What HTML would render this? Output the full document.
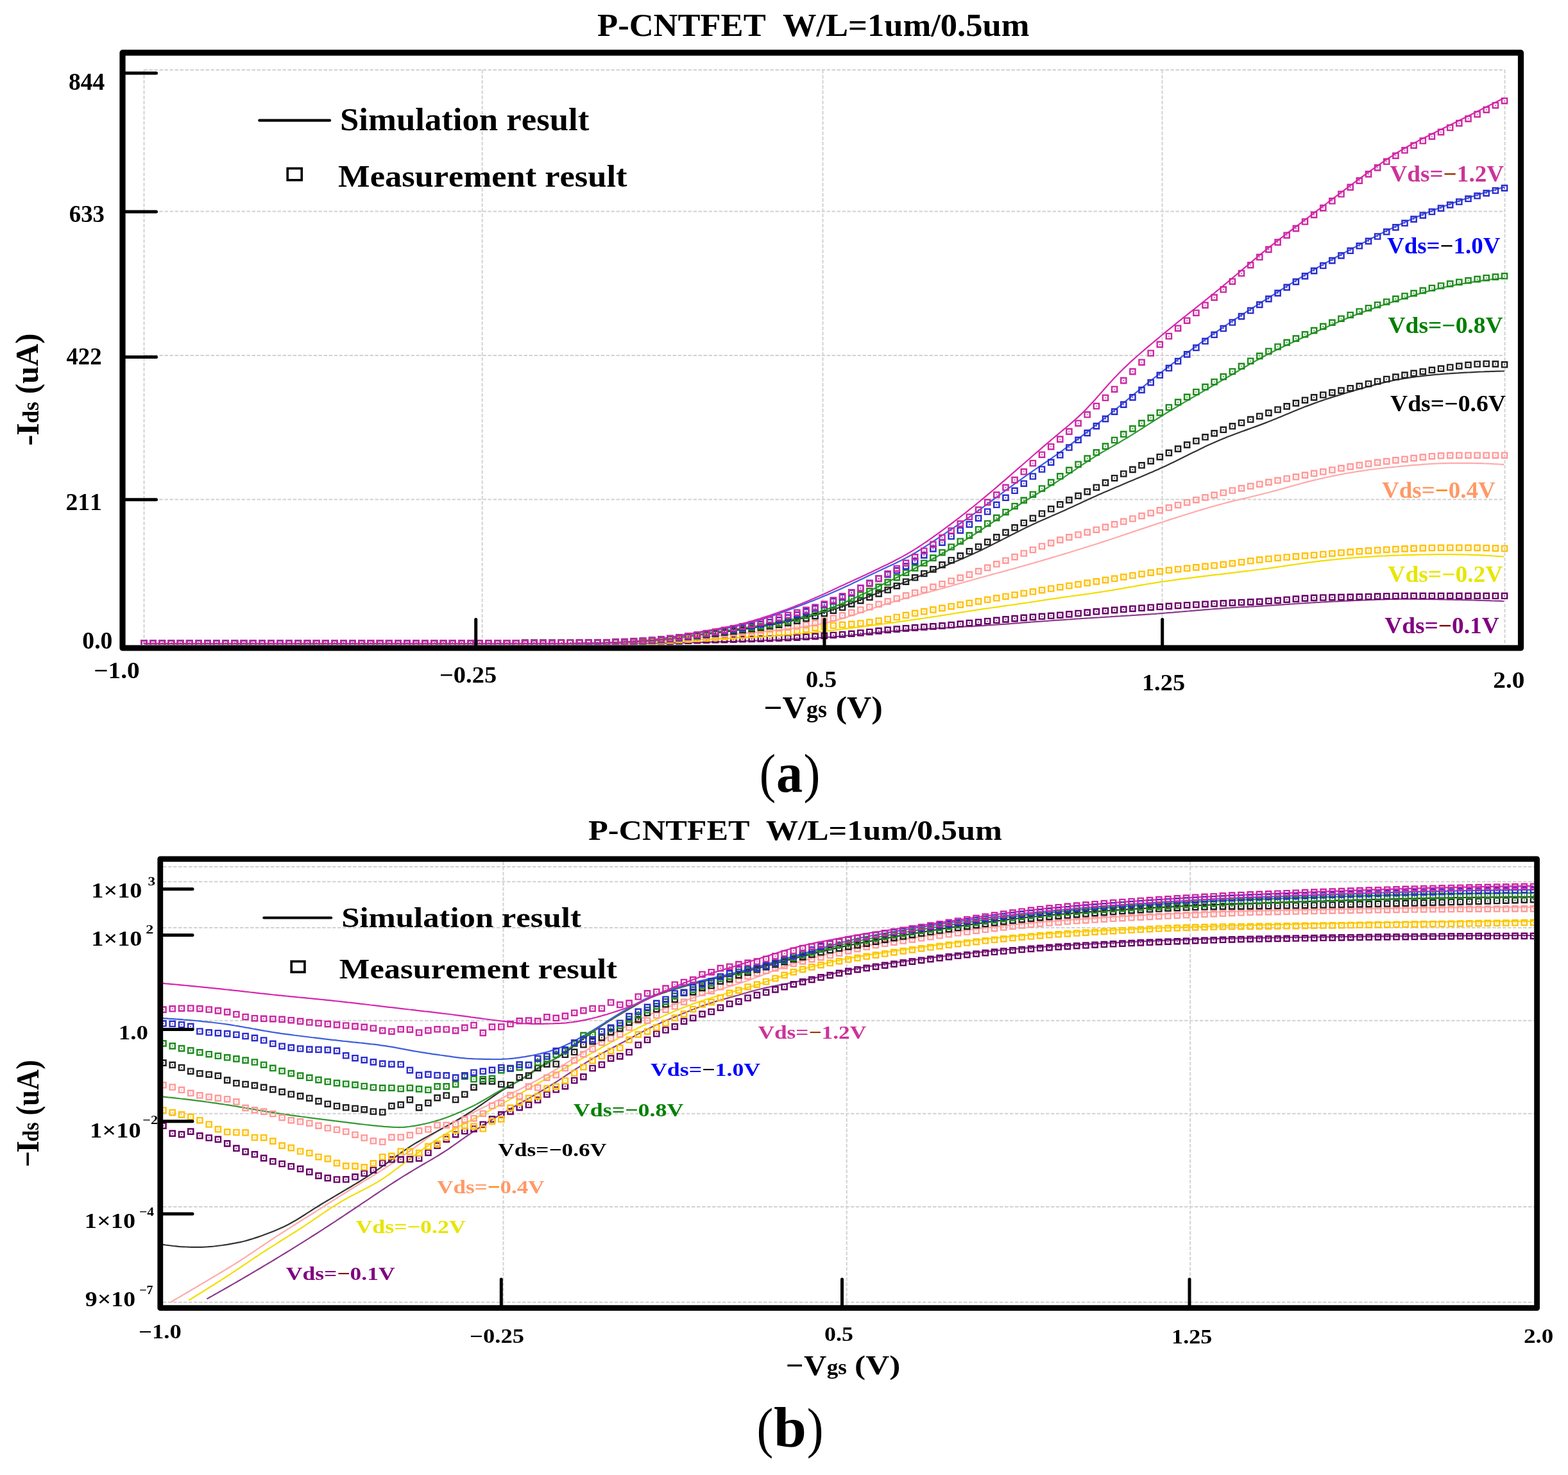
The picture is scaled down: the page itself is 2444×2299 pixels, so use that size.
<!DOCTYPE html>
<html><head><meta charset="utf-8"><title>P-CNTFET W/L=1um/0.5um</title>
<style>html,body{margin:0;padding:0;background:#fff;width:2444px;height:2299px;overflow:hidden}</style>
</head><body>
<svg width="2444" height="2299" viewBox="0 0 2444 2299" style="display:block">
<rect width="2444" height="2299" fill="#fff"/>
<rect x="195" y="86" width="2171" height="919" fill="#fff"/>
<rect x="254" y="1343" width="2137" height="691" fill="#fff"/>
<g font-family="'Liberation Serif','Times New Roman',serif" font-weight="bold" style="font-kerning:none;white-space:pre" xml:space="preserve" fill="#000">
<g stroke="#d2d2d2" stroke-width="2" stroke-dasharray="5.5 2.5" fill="none">
<line x1="224.5" y1="109" x2="224.5" y2="1005"/>
<line x1="751.7" y1="109" x2="751.7" y2="1005"/>
<line x1="1282.5" y1="109" x2="1282.5" y2="1005"/>
<line x1="1811.5" y1="109" x2="1811.5" y2="1005"/>
<line x1="2345.5" y1="109" x2="2345.5" y2="1005"/>
<line x1="224.5" y1="109.0" x2="2345.5" y2="109.0"/>
<line x1="224.5" y1="329.5" x2="2345.5" y2="329.5"/>
<line x1="224.5" y1="554.0" x2="2345.5" y2="554.0"/>
<line x1="224.5" y1="778.5" x2="2345.5" y2="778.5"/>
</g>
<g stroke="#d2d2d2" stroke-width="2" stroke-dasharray="5.5 2.5" fill="none">
<line x1="784.5" y1="1343" x2="784.5" y2="2034"/>
<line x1="1319.7" y1="1343" x2="1319.7" y2="2034"/>
<line x1="1855.2" y1="1343" x2="1855.2" y2="2034"/>
<line x1="254" y1="1351.0" x2="2391" y2="1351.0"/>
<line x1="254" y1="1374.2" x2="2391" y2="1374.2"/>
<line x1="254" y1="1446.0" x2="2391" y2="1446.0"/>
<line x1="254" y1="1590.7" x2="2391" y2="1590.7"/>
<line x1="254" y1="1735.8" x2="2391" y2="1735.8"/>
<line x1="254" y1="1881.0" x2="2391" y2="1881.0"/>
<line x1="254" y1="2029.7" x2="2391" y2="2029.7"/>
</g>
<defs><clipPath id="ca"><rect x="195" y="86" width="2171" height="919"/></clipPath><clipPath id="cb"><rect x="254" y="1343" width="2137" height="691"/></clipPath></defs>
<g clip-path="url(#ca)">
<path d="M224.5 1003.5 L228.5 1003.5 L232.5 1003.5 L236.5 1003.5 L240.5 1003.5 L244.5 1003.5 L248.5 1003.5 L252.5 1003.5 L256.5 1003.5 L260.5 1003.5 L264.5 1003.5 L268.5 1003.5 L272.5 1003.5 L276.5 1003.5 L280.5 1003.5 L284.5 1003.5 L288.5 1003.5 L292.5 1003.5 L296.5 1003.5 L300.5 1003.5 L304.5 1003.5 L308.5 1003.5 L312.5 1003.5 L316.5 1003.5 L320.5 1003.5 L324.5 1003.5 L328.5 1003.5 L332.5 1003.5 L336.5 1003.5 L340.5 1003.5 L344.5 1003.5 L348.5 1003.5 L352.5 1003.5 L356.5 1003.5 L360.5 1003.5 L364.5 1003.5 L368.5 1003.5 L372.5 1003.5 L376.5 1003.5 L380.5 1003.5 L384.5 1003.5 L388.5 1003.5 L392.5 1003.5 L396.5 1003.5 L400.5 1003.5 L404.5 1003.5 L408.5 1003.5 L412.5 1003.5 L416.5 1003.5 L420.5 1003.5 L424.5 1003.5 L428.5 1003.5 L432.5 1003.5 L436.5 1003.5 L440.5 1003.5 L444.5 1003.5 L448.5 1003.5 L452.5 1003.5 L456.5 1003.5 L460.5 1003.5 L464.5 1003.5 L468.5 1003.5 L472.5 1003.5 L476.5 1003.5 L480.5 1003.5 L484.5 1003.5 L488.5 1003.5 L492.5 1003.5 L496.5 1003.5 L500.5 1003.5 L504.5 1003.5 L508.5 1003.5 L512.5 1003.5 L516.5 1003.5 L520.5 1003.5 L524.5 1003.5 L528.5 1003.5 L532.5 1003.5 L536.5 1003.5 L540.5 1003.5 L544.5 1003.5 L548.5 1003.5 L552.5 1003.5 L556.5 1003.5 L560.5 1003.5 L564.5 1003.5 L568.5 1003.5 L572.5 1003.5 L576.5 1003.5 L580.5 1003.5 L584.5 1003.5 L588.5 1003.5 L592.5 1003.5 L596.5 1003.5 L600.5 1003.5 L604.5 1003.5 L608.5 1003.5 L612.5 1003.5 L616.5 1003.5 L620.5 1003.5 L624.5 1003.5 L628.5 1003.5 L632.5 1003.5 L636.5 1003.5 L640.5 1003.5 L644.5 1003.5 L648.5 1003.5 L652.5 1003.5 L656.5 1003.5 L660.5 1003.5 L664.5 1003.5 L668.5 1003.5 L672.5 1003.5 L676.5 1003.5 L680.5 1003.5 L684.5 1003.5 L688.5 1003.5 L692.5 1003.5 L696.5 1003.5 L700.5 1003.5 L704.5 1003.5 L708.5 1003.5 L712.5 1003.5 L716.5 1003.5 L720.5 1003.5 L724.5 1003.5 L728.5 1003.5 L732.5 1003.5 L736.5 1003.5 L740.5 1003.5 L744.5 1003.5 L748.5 1003.5 L752.5 1003.5 L756.5 1003.5 L760.5 1003.5 L764.5 1003.5 L768.5 1003.5 L772.5 1003.5 L776.5 1003.5 L780.5 1003.5 L784.5 1003.5 L788.5 1003.5 L792.5 1003.5 L796.5 1003.5 L800.5 1003.5 L804.5 1003.5 L808.5 1003.5 L812.5 1003.5 L816.5 1003.5 L820.5 1003.5 L824.5 1003.5 L828.5 1003.5 L832.5 1003.5 L836.5 1003.5 L840.5 1003.5 L844.5 1003.5 L848.5 1003.5 L852.5 1003.5 L856.5 1003.5 L860.5 1003.5 L864.5 1003.5 L868.5 1003.5 L872.5 1003.5 L876.5 1003.5 L880.5 1003.5 L884.5 1003.5 L888.5 1003.5 L892.5 1003.5 L896.5 1003.5 L900.5 1003.5 L904.5 1003.5 L908.5 1003.5 L912.5 1003.5 L916.5 1003.5 L920.5 1003.5 L924.5 1003.4 L928.5 1003.4 L932.5 1003.4 L936.5 1003.4 L940.5 1003.4 L944.5 1003.4 L948.5 1003.3 L952.5 1003.3 L956.5 1003.3 L960.5 1003.3 L964.5 1003.3 L968.5 1003.2 L972.5 1003.2 L976.5 1003.2 L980.5 1003.1 L984.5 1003.1 L988.5 1003.1 L992.5 1003.0 L996.5 1003.0 L1000.5 1003.0 L1004.5 1002.9 L1008.5 1002.9 L1012.5 1002.8 L1016.5 1002.8 L1020.5 1002.7 L1024.5 1002.7 L1028.5 1002.6 L1032.5 1002.5 L1036.5 1002.5 L1040.5 1002.4 L1044.5 1002.3 L1048.5 1002.3 L1052.5 1002.2 L1056.5 1002.1 L1060.5 1002.0 L1064.5 1001.9 L1068.5 1001.8 L1072.5 1001.7 L1076.5 1001.6 L1080.5 1001.5 L1084.5 1001.4 L1088.5 1001.3 L1092.5 1001.2 L1096.5 1001.1 L1100.5 1001.0 L1104.5 1000.9 L1108.5 1000.7 L1112.5 1000.6 L1116.5 1000.5 L1120.5 1000.4 L1124.5 1000.3 L1128.5 1000.1 L1132.5 1000.0 L1136.5 999.9 L1140.5 999.8 L1144.5 999.7 L1148.5 999.5 L1152.5 999.4 L1156.5 999.3 L1160.5 999.2 L1164.5 999.0 L1168.5 998.9 L1172.5 998.8 L1176.5 998.6 L1180.5 998.5 L1184.5 998.4 L1188.5 998.2 L1192.5 998.1 L1196.5 997.9 L1200.5 997.8 L1204.5 997.6 L1208.5 997.5 L1212.5 997.3 L1216.5 997.1 L1220.5 997.0 L1224.5 996.8 L1228.5 996.6 L1232.5 996.4 L1236.5 996.2 L1240.5 996.1 L1244.5 995.9 L1248.5 995.7 L1252.5 995.5 L1256.5 995.3 L1260.5 995.1 L1264.5 994.8 L1268.5 994.6 L1272.5 994.4 L1276.5 994.1 L1280.5 993.9 L1284.5 993.6 L1288.5 993.4 L1292.5 993.1 L1296.5 992.8 L1300.5 992.4 L1304.5 992.1 L1308.5 991.8 L1312.5 991.4 L1316.5 991.0 L1320.5 990.6 L1324.5 990.3 L1328.5 989.9 L1332.5 989.4 L1336.5 989.0 L1340.5 988.6 L1344.5 988.2 L1348.5 987.8 L1352.5 987.4 L1356.5 987.0 L1360.5 986.6 L1364.5 986.2 L1368.5 985.8 L1372.5 985.4 L1376.5 985.0 L1380.5 984.7 L1384.5 984.3 L1388.5 984.0 L1392.5 983.7 L1396.5 983.4 L1400.5 983.1 L1404.5 982.8 L1408.5 982.5 L1412.5 982.2 L1416.5 981.9 L1420.5 981.7 L1424.5 981.4 L1428.5 981.2 L1432.5 980.9 L1436.5 980.7 L1440.5 980.4 L1444.5 980.2 L1448.5 979.9 L1452.5 979.7 L1456.5 979.5 L1460.5 979.2 L1464.5 979.0 L1468.5 978.8 L1472.5 978.6 L1476.5 978.3 L1480.5 978.1 L1484.5 977.9 L1488.5 977.7 L1492.5 977.4 L1496.5 977.2 L1500.5 977.0 L1504.5 976.7 L1508.5 976.5 L1512.5 976.3 L1516.5 976.1 L1520.5 975.8 L1524.5 975.6 L1528.5 975.3 L1532.5 975.1 L1536.5 974.8 L1540.5 974.5 L1544.5 974.3 L1548.5 974.0 L1552.5 973.7 L1556.5 973.4 L1560.5 973.1 L1564.5 972.8 L1568.5 972.6 L1572.5 972.3 L1576.5 972.0 L1580.5 971.7 L1584.5 971.4 L1588.5 971.1 L1592.5 970.7 L1596.5 970.4 L1600.5 970.1 L1604.5 969.8 L1608.5 969.5 L1612.5 969.2 L1616.5 968.9 L1620.5 968.6 L1624.5 968.3 L1628.5 968.0 L1632.5 967.8 L1636.5 967.5 L1640.5 967.2 L1644.5 966.9 L1648.5 966.6 L1652.5 966.3 L1656.5 966.1 L1660.5 965.8 L1664.5 965.5 L1668.5 965.3 L1672.5 965.0 L1676.5 964.7 L1680.5 964.5 L1684.5 964.2 L1688.5 964.0 L1692.5 963.7 L1696.5 963.5 L1700.5 963.2 L1704.5 963.0 L1708.5 962.7 L1712.5 962.5 L1716.5 962.2 L1720.5 962.0 L1724.5 961.7 L1728.5 961.5 L1732.5 961.2 L1736.5 961.0 L1740.5 960.7 L1744.5 960.5 L1748.5 960.2 L1752.5 960.0 L1756.5 959.7 L1760.5 959.5 L1764.5 959.2 L1768.5 959.0 L1772.5 958.7 L1776.5 958.4 L1780.5 958.2 L1784.5 957.9 L1788.5 957.6 L1792.5 957.3 L1796.5 957.0 L1800.5 956.8 L1804.5 956.5 L1808.5 956.2 L1812.5 955.9 L1816.5 955.5 L1820.5 955.2 L1824.5 954.9 L1828.5 954.6 L1832.5 954.2 L1836.5 953.9 L1840.5 953.5 L1844.5 953.2 L1848.5 952.8 L1852.5 952.5 L1856.5 952.1 L1860.5 951.8 L1864.5 951.4 L1868.5 951.1 L1872.5 950.8 L1876.5 950.4 L1880.5 950.1 L1884.5 949.8 L1888.5 949.5 L1892.5 949.1 L1896.5 948.8 L1900.5 948.6 L1904.5 948.3 L1908.5 948.0 L1912.5 947.7 L1916.5 947.5 L1920.5 947.2 L1924.5 947.0 L1928.5 946.7 L1932.5 946.5 L1936.5 946.2 L1940.5 946.0 L1944.5 945.8 L1948.5 945.5 L1952.5 945.3 L1956.5 945.1 L1960.5 944.8 L1964.5 944.6 L1968.5 944.3 L1972.5 944.1 L1976.5 943.8 L1980.5 943.6 L1984.5 943.3 L1988.5 943.1 L1992.5 942.8 L1996.5 942.6 L2000.5 942.3 L2004.5 942.0 L2008.5 941.8 L2012.5 941.5 L2016.5 941.2 L2020.5 941.0 L2024.5 940.7 L2028.5 940.4 L2032.5 940.2 L2036.5 939.9 L2040.5 939.7 L2044.5 939.5 L2048.5 939.2 L2052.5 939.0 L2056.5 938.8 L2060.5 938.5 L2064.5 938.3 L2068.5 938.1 L2072.5 937.9 L2076.5 937.7 L2080.5 937.5 L2084.5 937.3 L2088.5 937.1 L2092.5 936.9 L2096.5 936.7 L2100.5 936.6 L2104.5 936.4 L2108.5 936.2 L2112.5 936.0 L2116.5 935.8 L2120.5 935.7 L2124.5 935.5 L2128.5 935.3 L2132.5 935.2 L2136.5 935.0 L2140.5 934.8 L2144.5 934.7 L2148.5 934.5 L2152.5 934.4 L2156.5 934.3 L2160.5 934.1 L2164.5 934.0 L2168.5 933.9 L2172.5 933.8 L2176.5 933.8 L2180.5 933.7 L2184.5 933.7 L2188.5 933.7 L2192.5 933.6 L2196.5 933.6 L2200.5 933.7 L2204.5 933.7 L2208.5 933.7 L2212.5 933.8 L2216.5 933.8 L2220.5 933.9 L2224.5 933.9 L2228.5 934.0 L2232.5 934.1 L2236.5 934.2 L2240.5 934.2 L2244.5 934.3 L2248.5 934.4 L2252.5 934.5 L2256.5 934.6 L2260.5 934.7 L2264.5 934.7 L2268.5 934.8 L2272.5 934.9 L2276.5 935.0 L2280.5 935.1 L2284.5 935.2 L2288.5 935.3 L2292.5 935.4 L2296.5 935.5 L2300.5 935.6 L2304.5 935.8 L2308.5 935.9 L2312.5 936.0 L2316.5 936.1 L2320.5 936.2 L2324.5 936.4 L2328.5 936.5 L2332.5 936.6 L2336.5 936.7 L2340.5 936.9 L2344.3 937.0" fill="none" stroke="#8B3A8B" stroke-width="2.2"/>
<path d="M224.5 1003.0 L228.5 1003.0 L232.5 1003.0 L236.5 1003.0 L240.5 1003.0 L244.5 1003.0 L248.5 1003.0 L252.5 1003.0 L256.5 1003.0 L260.5 1003.0 L264.5 1003.0 L268.5 1003.0 L272.5 1003.0 L276.5 1003.0 L280.5 1003.0 L284.5 1003.0 L288.5 1003.0 L292.5 1003.0 L296.5 1003.0 L300.5 1003.0 L304.5 1003.0 L308.5 1003.0 L312.5 1003.0 L316.5 1003.0 L320.5 1003.0 L324.5 1003.0 L328.5 1003.0 L332.5 1003.0 L336.5 1003.0 L340.5 1003.0 L344.5 1003.0 L348.5 1003.0 L352.5 1003.0 L356.5 1003.0 L360.5 1003.0 L364.5 1003.0 L368.5 1003.0 L372.5 1003.0 L376.5 1003.0 L380.5 1003.0 L384.5 1003.0 L388.5 1003.0 L392.5 1003.0 L396.5 1003.0 L400.5 1003.0 L404.5 1003.0 L408.5 1003.0 L412.5 1003.0 L416.5 1003.0 L420.5 1003.0 L424.5 1003.0 L428.5 1003.0 L432.5 1003.0 L436.5 1003.0 L440.5 1003.0 L444.5 1003.0 L448.5 1003.0 L452.5 1003.0 L456.5 1003.0 L460.5 1003.0 L464.5 1003.0 L468.5 1003.0 L472.5 1003.0 L476.5 1003.0 L480.5 1003.0 L484.5 1003.0 L488.5 1003.0 L492.5 1003.0 L496.5 1003.0 L500.5 1003.0 L504.5 1003.0 L508.5 1003.0 L512.5 1003.0 L516.5 1003.0 L520.5 1003.0 L524.5 1003.0 L528.5 1003.0 L532.5 1003.0 L536.5 1003.0 L540.5 1003.0 L544.5 1003.0 L548.5 1003.0 L552.5 1003.0 L556.5 1003.0 L560.5 1003.0 L564.5 1003.0 L568.5 1003.0 L572.5 1003.0 L576.5 1003.0 L580.5 1003.0 L584.5 1003.0 L588.5 1003.0 L592.5 1003.0 L596.5 1003.0 L600.5 1003.0 L604.5 1003.0 L608.5 1003.0 L612.5 1003.0 L616.5 1003.0 L620.5 1003.0 L624.5 1003.0 L628.5 1003.0 L632.5 1003.0 L636.5 1003.0 L640.5 1003.0 L644.5 1003.0 L648.5 1003.0 L652.5 1003.0 L656.5 1003.0 L660.5 1003.0 L664.5 1003.0 L668.5 1003.0 L672.5 1003.0 L676.5 1003.0 L680.5 1003.0 L684.5 1003.0 L688.5 1003.0 L692.5 1003.0 L696.5 1003.0 L700.5 1003.0 L704.5 1003.0 L708.5 1003.0 L712.5 1003.0 L716.5 1003.0 L720.5 1003.0 L724.5 1003.0 L728.5 1003.0 L732.5 1003.0 L736.5 1003.0 L740.5 1003.0 L744.5 1003.0 L748.5 1003.0 L752.5 1003.0 L756.5 1003.0 L760.5 1003.0 L764.5 1003.0 L768.5 1003.0 L772.5 1003.0 L776.5 1003.0 L780.5 1003.0 L784.5 1003.0 L788.5 1003.0 L792.5 1003.0 L796.5 1003.0 L800.5 1003.0 L804.5 1003.0 L808.5 1003.0 L812.5 1003.0 L816.5 1003.0 L820.5 1003.0 L824.5 1003.0 L828.5 1003.0 L832.5 1003.0 L836.5 1003.0 L840.5 1003.0 L844.5 1003.0 L848.5 1003.0 L852.5 1003.0 L856.5 1003.0 L860.5 1003.0 L864.5 1003.0 L868.5 1003.0 L872.5 1003.0 L876.5 1003.0 L880.5 1003.0 L884.5 1003.0 L888.5 1003.0 L892.5 1003.0 L896.5 1003.0 L900.5 1003.0 L904.5 1003.0 L908.5 1003.0 L912.5 1002.9 L916.5 1002.9 L920.5 1002.9 L924.5 1002.9 L928.5 1002.9 L932.5 1002.8 L936.5 1002.8 L940.5 1002.8 L944.5 1002.7 L948.5 1002.7 L952.5 1002.7 L956.5 1002.6 L960.5 1002.6 L964.5 1002.5 L968.5 1002.5 L972.5 1002.4 L976.5 1002.3 L980.5 1002.3 L984.5 1002.2 L988.5 1002.1 L992.5 1002.1 L996.5 1002.0 L1000.5 1001.9 L1004.5 1001.8 L1008.5 1001.7 L1012.5 1001.5 L1016.5 1001.4 L1020.5 1001.2 L1024.5 1001.1 L1028.5 1000.9 L1032.5 1000.7 L1036.5 1000.5 L1040.5 1000.3 L1044.5 1000.1 L1048.5 999.9 L1052.5 999.6 L1056.5 999.4 L1060.5 999.1 L1064.5 998.9 L1068.5 998.7 L1072.5 998.4 L1076.5 998.2 L1080.5 997.9 L1084.5 997.7 L1088.5 997.5 L1092.5 997.2 L1096.5 997.0 L1100.5 996.8 L1104.5 996.5 L1108.5 996.3 L1112.5 996.1 L1116.5 995.9 L1120.5 995.6 L1124.5 995.4 L1128.5 995.2 L1132.5 995.0 L1136.5 994.8 L1140.5 994.5 L1144.5 994.3 L1148.5 994.1 L1152.5 993.9 L1156.5 993.7 L1160.5 993.5 L1164.5 993.3 L1168.5 993.1 L1172.5 992.9 L1176.5 992.7 L1180.5 992.5 L1184.5 992.2 L1188.5 992.0 L1192.5 991.8 L1196.5 991.6 L1200.5 991.4 L1204.5 991.1 L1208.5 990.9 L1212.5 990.6 L1216.5 990.4 L1220.5 990.1 L1224.5 989.8 L1228.5 989.5 L1232.5 989.2 L1236.5 988.8 L1240.5 988.5 L1244.5 988.1 L1248.5 987.7 L1252.5 987.3 L1256.5 986.9 L1260.5 986.5 L1264.5 986.1 L1268.5 985.7 L1272.5 985.2 L1276.5 984.8 L1280.5 984.4 L1284.5 983.9 L1288.5 983.5 L1292.5 983.0 L1296.5 982.5 L1300.5 982.1 L1304.5 981.6 L1308.5 981.1 L1312.5 980.7 L1316.5 980.2 L1320.5 979.7 L1324.5 979.2 L1328.5 978.7 L1332.5 978.2 L1336.5 977.7 L1340.5 977.2 L1344.5 976.7 L1348.5 976.2 L1352.5 975.7 L1356.5 975.2 L1360.5 974.6 L1364.5 974.1 L1368.5 973.6 L1372.5 973.1 L1376.5 972.5 L1380.5 972.0 L1384.5 971.4 L1388.5 970.9 L1392.5 970.3 L1396.5 969.8 L1400.5 969.2 L1404.5 968.7 L1408.5 968.1 L1412.5 967.6 L1416.5 967.0 L1420.5 966.4 L1424.5 965.9 L1428.5 965.3 L1432.5 964.7 L1436.5 964.1 L1440.5 963.5 L1444.5 962.9 L1448.5 962.3 L1452.5 961.7 L1456.5 961.1 L1460.5 960.5 L1464.5 959.8 L1468.5 959.2 L1472.5 958.6 L1476.5 957.9 L1480.5 957.3 L1484.5 956.6 L1488.5 956.0 L1492.5 955.4 L1496.5 954.7 L1500.5 954.1 L1504.5 953.5 L1508.5 952.8 L1512.5 952.2 L1516.5 951.6 L1520.5 951.0 L1524.5 950.4 L1528.5 949.8 L1532.5 949.2 L1536.5 948.6 L1540.5 948.1 L1544.5 947.5 L1548.5 946.9 L1552.5 946.4 L1556.5 945.8 L1560.5 945.2 L1564.5 944.7 L1568.5 944.1 L1572.5 943.5 L1576.5 943.0 L1580.5 942.4 L1584.5 941.8 L1588.5 941.2 L1592.5 940.7 L1596.5 940.1 L1600.5 939.5 L1604.5 938.9 L1608.5 938.3 L1612.5 937.7 L1616.5 937.1 L1620.5 936.4 L1624.5 935.8 L1628.5 935.2 L1632.5 934.6 L1636.5 934.0 L1640.5 933.4 L1644.5 932.8 L1648.5 932.3 L1652.5 931.7 L1656.5 931.1 L1660.5 930.6 L1664.5 930.0 L1668.5 929.5 L1672.5 928.9 L1676.5 928.4 L1680.5 927.8 L1684.5 927.3 L1688.5 926.7 L1692.5 926.2 L1696.5 925.6 L1700.5 925.0 L1704.5 924.4 L1708.5 923.9 L1712.5 923.2 L1716.5 922.6 L1720.5 922.0 L1724.5 921.4 L1728.5 920.7 L1732.5 920.1 L1736.5 919.4 L1740.5 918.7 L1744.5 918.0 L1748.5 917.3 L1752.5 916.6 L1756.5 915.9 L1760.5 915.2 L1764.5 914.5 L1768.5 913.8 L1772.5 913.1 L1776.5 912.4 L1780.5 911.7 L1784.5 911.0 L1788.5 910.4 L1792.5 909.7 L1796.5 909.1 L1800.5 908.4 L1804.5 907.8 L1808.5 907.2 L1812.5 906.6 L1816.5 906.0 L1820.5 905.4 L1824.5 904.9 L1828.5 904.3 L1832.5 903.8 L1836.5 903.2 L1840.5 902.7 L1844.5 902.2 L1848.5 901.7 L1852.5 901.2 L1856.5 900.7 L1860.5 900.2 L1864.5 899.7 L1868.5 899.2 L1872.5 898.7 L1876.5 898.2 L1880.5 897.7 L1884.5 897.2 L1888.5 896.7 L1892.5 896.2 L1896.5 895.7 L1900.5 895.3 L1904.5 894.8 L1908.5 894.3 L1912.5 893.8 L1916.5 893.3 L1920.5 892.8 L1924.5 892.4 L1928.5 891.9 L1932.5 891.4 L1936.5 890.9 L1940.5 890.4 L1944.5 889.9 L1948.5 889.5 L1952.5 889.0 L1956.5 888.5 L1960.5 888.0 L1964.5 887.5 L1968.5 886.9 L1972.5 886.4 L1976.5 885.9 L1980.5 885.3 L1984.5 884.8 L1988.5 884.2 L1992.5 883.6 L1996.5 883.0 L2000.5 882.4 L2004.5 881.8 L2008.5 881.2 L2012.5 880.7 L2016.5 880.1 L2020.5 879.5 L2024.5 878.9 L2028.5 878.3 L2032.5 877.8 L2036.5 877.2 L2040.5 876.7 L2044.5 876.2 L2048.5 875.7 L2052.5 875.2 L2056.5 874.7 L2060.5 874.2 L2064.5 873.8 L2068.5 873.3 L2072.5 872.9 L2076.5 872.5 L2080.5 872.1 L2084.5 871.6 L2088.5 871.3 L2092.5 870.9 L2096.5 870.5 L2100.5 870.2 L2104.5 869.8 L2108.5 869.5 L2112.5 869.2 L2116.5 868.9 L2120.5 868.6 L2124.5 868.3 L2128.5 868.1 L2132.5 867.8 L2136.5 867.6 L2140.5 867.3 L2144.5 867.1 L2148.5 866.9 L2152.5 866.7 L2156.5 866.5 L2160.5 866.3 L2164.5 866.1 L2168.5 865.9 L2172.5 865.8 L2176.5 865.6 L2180.5 865.5 L2184.5 865.4 L2188.5 865.2 L2192.5 865.1 L2196.5 865.0 L2200.5 864.9 L2204.5 864.8 L2208.5 864.7 L2212.5 864.6 L2216.5 864.5 L2220.5 864.5 L2224.5 864.4 L2228.5 864.3 L2232.5 864.3 L2236.5 864.2 L2240.5 864.2 L2244.5 864.2 L2248.5 864.1 L2252.5 864.1 L2256.5 864.1 L2260.5 864.1 L2264.5 864.2 L2268.5 864.2 L2272.5 864.3 L2276.5 864.3 L2280.5 864.4 L2284.5 864.5 L2288.5 864.6 L2292.5 864.8 L2296.5 864.9 L2300.5 865.1 L2304.5 865.2 L2308.5 865.4 L2312.5 865.6 L2316.5 865.8 L2320.5 866.0 L2324.5 866.3 L2328.5 866.5 L2332.5 866.8 L2336.5 867.0 L2340.5 867.3 L2344.3 867.5" fill="none" stroke="#F2DE00" stroke-width="2.2"/>
<path d="M224.5 1003.0 L228.5 1003.0 L232.5 1003.0 L236.5 1003.0 L240.5 1003.0 L244.5 1003.0 L248.5 1003.0 L252.5 1003.0 L256.5 1003.0 L260.5 1003.0 L264.5 1003.0 L268.5 1003.0 L272.5 1003.0 L276.5 1003.0 L280.5 1003.0 L284.5 1003.0 L288.5 1003.0 L292.5 1003.0 L296.5 1003.0 L300.5 1003.0 L304.5 1003.0 L308.5 1003.0 L312.5 1003.0 L316.5 1003.0 L320.5 1003.0 L324.5 1003.0 L328.5 1003.0 L332.5 1003.0 L336.5 1003.0 L340.5 1003.0 L344.5 1003.0 L348.5 1003.0 L352.5 1003.0 L356.5 1003.0 L360.5 1003.0 L364.5 1003.0 L368.5 1003.0 L372.5 1003.0 L376.5 1003.0 L380.5 1003.0 L384.5 1003.0 L388.5 1003.0 L392.5 1003.0 L396.5 1003.0 L400.5 1003.0 L404.5 1003.0 L408.5 1003.0 L412.5 1003.0 L416.5 1003.0 L420.5 1003.0 L424.5 1003.0 L428.5 1003.0 L432.5 1003.0 L436.5 1003.0 L440.5 1003.0 L444.5 1003.0 L448.5 1003.0 L452.5 1003.0 L456.5 1003.0 L460.5 1003.0 L464.5 1003.0 L468.5 1003.0 L472.5 1003.0 L476.5 1003.0 L480.5 1003.0 L484.5 1003.0 L488.5 1003.0 L492.5 1003.0 L496.5 1003.0 L500.5 1003.0 L504.5 1003.0 L508.5 1003.0 L512.5 1003.0 L516.5 1003.0 L520.5 1003.0 L524.5 1003.0 L528.5 1003.0 L532.5 1003.0 L536.5 1003.0 L540.5 1003.0 L544.5 1003.0 L548.5 1003.0 L552.5 1003.0 L556.5 1003.0 L560.5 1003.0 L564.5 1003.0 L568.5 1003.0 L572.5 1003.0 L576.5 1003.0 L580.5 1003.0 L584.5 1003.0 L588.5 1003.0 L592.5 1003.0 L596.5 1003.0 L600.5 1003.0 L604.5 1003.0 L608.5 1003.0 L612.5 1003.0 L616.5 1003.0 L620.5 1003.0 L624.5 1003.0 L628.5 1003.0 L632.5 1003.0 L636.5 1003.0 L640.5 1003.0 L644.5 1003.0 L648.5 1003.0 L652.5 1003.0 L656.5 1003.0 L660.5 1003.0 L664.5 1003.0 L668.5 1003.0 L672.5 1003.0 L676.5 1003.0 L680.5 1003.0 L684.5 1003.0 L688.5 1003.0 L692.5 1003.0 L696.5 1003.0 L700.5 1003.0 L704.5 1003.0 L708.5 1003.0 L712.5 1003.0 L716.5 1003.0 L720.5 1003.0 L724.5 1003.0 L728.5 1003.0 L732.5 1003.0 L736.5 1003.0 L740.5 1003.0 L744.5 1003.0 L748.5 1003.0 L752.5 1003.0 L756.5 1003.0 L760.5 1003.0 L764.5 1003.0 L768.5 1003.0 L772.5 1003.0 L776.5 1003.0 L780.5 1003.0 L784.5 1003.0 L788.5 1003.0 L792.5 1003.0 L796.5 1003.0 L800.5 1003.0 L804.5 1003.0 L808.5 1003.0 L812.5 1003.0 L816.5 1003.0 L820.5 1003.0 L824.5 1003.0 L828.5 1003.0 L832.5 1003.0 L836.5 1003.0 L840.5 1003.0 L844.5 1003.0 L848.5 1003.0 L852.5 1003.0 L856.5 1003.0 L860.5 1003.0 L864.5 1003.0 L868.5 1003.0 L872.5 1003.0 L876.5 1003.0 L880.5 1003.0 L884.5 1003.0 L888.5 1003.0 L892.5 1003.0 L896.5 1003.0 L900.5 1003.0 L904.5 1002.9 L908.5 1002.9 L912.5 1002.9 L916.5 1002.9 L920.5 1002.8 L924.5 1002.8 L928.5 1002.7 L932.5 1002.7 L936.5 1002.6 L940.5 1002.5 L944.5 1002.5 L948.5 1002.4 L952.5 1002.3 L956.5 1002.2 L960.5 1002.1 L964.5 1002.0 L968.5 1001.9 L972.5 1001.8 L976.5 1001.7 L980.5 1001.6 L984.5 1001.4 L988.5 1001.3 L992.5 1001.2 L996.5 1001.0 L1000.5 1000.8 L1004.5 1000.6 L1008.5 1000.4 L1012.5 1000.2 L1016.5 1000.0 L1020.5 999.7 L1024.5 999.5 L1028.5 999.2 L1032.5 998.9 L1036.5 998.6 L1040.5 998.2 L1044.5 997.9 L1048.5 997.5 L1052.5 997.2 L1056.5 996.8 L1060.5 996.4 L1064.5 996.0 L1068.5 995.6 L1072.5 995.3 L1076.5 994.9 L1080.5 994.5 L1084.5 994.1 L1088.5 993.7 L1092.5 993.4 L1096.5 993.0 L1100.5 992.6 L1104.5 992.2 L1108.5 991.9 L1112.5 991.5 L1116.5 991.1 L1120.5 990.8 L1124.5 990.4 L1128.5 990.0 L1132.5 989.6 L1136.5 989.3 L1140.5 988.9 L1144.5 988.5 L1148.5 988.2 L1152.5 987.8 L1156.5 987.4 L1160.5 987.1 L1164.5 986.7 L1168.5 986.3 L1172.5 986.0 L1176.5 985.6 L1180.5 985.3 L1184.5 984.9 L1188.5 984.5 L1192.5 984.2 L1196.5 983.8 L1200.5 983.4 L1204.5 983.0 L1208.5 982.6 L1212.5 982.1 L1216.5 981.7 L1220.5 981.3 L1224.5 980.8 L1228.5 980.3 L1232.5 979.8 L1236.5 979.3 L1240.5 978.8 L1244.5 978.3 L1248.5 977.7 L1252.5 977.1 L1256.5 976.5 L1260.5 975.9 L1264.5 975.2 L1268.5 974.5 L1272.5 973.8 L1276.5 973.0 L1280.5 972.3 L1284.5 971.4 L1288.5 970.5 L1292.5 969.6 L1296.5 968.6 L1300.5 967.6 L1304.5 966.5 L1308.5 965.4 L1312.5 964.3 L1316.5 963.1 L1320.5 961.8 L1324.5 960.5 L1328.5 959.2 L1332.5 957.9 L1336.5 956.5 L1340.5 955.2 L1344.5 953.8 L1348.5 952.4 L1352.5 951.0 L1356.5 949.6 L1360.5 948.3 L1364.5 946.9 L1368.5 945.5 L1372.5 944.2 L1376.5 942.9 L1380.5 941.6 L1384.5 940.3 L1388.5 939.1 L1392.5 937.9 L1396.5 936.7 L1400.5 935.5 L1404.5 934.4 L1408.5 933.2 L1412.5 932.1 L1416.5 931.1 L1420.5 930.0 L1424.5 928.9 L1428.5 927.8 L1432.5 926.8 L1436.5 925.7 L1440.5 924.7 L1444.5 923.6 L1448.5 922.6 L1452.5 921.5 L1456.5 920.4 L1460.5 919.4 L1464.5 918.3 L1468.5 917.2 L1472.5 916.1 L1476.5 914.9 L1480.5 913.8 L1484.5 912.7 L1488.5 911.6 L1492.5 910.4 L1496.5 909.3 L1500.5 908.2 L1504.5 907.0 L1508.5 905.9 L1512.5 904.8 L1516.5 903.7 L1520.5 902.5 L1524.5 901.4 L1528.5 900.3 L1532.5 899.2 L1536.5 898.1 L1540.5 897.0 L1544.5 895.9 L1548.5 894.8 L1552.5 893.7 L1556.5 892.7 L1560.5 891.6 L1564.5 890.5 L1568.5 889.4 L1572.5 888.3 L1576.5 887.2 L1580.5 886.1 L1584.5 885.0 L1588.5 883.9 L1592.5 882.8 L1596.5 881.6 L1600.5 880.5 L1604.5 879.4 L1608.5 878.2 L1612.5 877.1 L1616.5 875.9 L1620.5 874.8 L1624.5 873.6 L1628.5 872.4 L1632.5 871.3 L1636.5 870.1 L1640.5 868.9 L1644.5 867.7 L1648.5 866.5 L1652.5 865.3 L1656.5 864.1 L1660.5 862.9 L1664.5 861.7 L1668.5 860.5 L1672.5 859.2 L1676.5 858.0 L1680.5 856.8 L1684.5 855.5 L1688.5 854.3 L1692.5 853.0 L1696.5 851.8 L1700.5 850.5 L1704.5 849.3 L1708.5 848.0 L1712.5 846.7 L1716.5 845.4 L1720.5 844.1 L1724.5 842.8 L1728.5 841.5 L1732.5 840.2 L1736.5 838.8 L1740.5 837.5 L1744.5 836.2 L1748.5 834.8 L1752.5 833.5 L1756.5 832.1 L1760.5 830.8 L1764.5 829.4 L1768.5 828.1 L1772.5 826.7 L1776.5 825.4 L1780.5 824.1 L1784.5 822.7 L1788.5 821.4 L1792.5 820.1 L1796.5 818.7 L1800.5 817.4 L1804.5 816.1 L1808.5 814.8 L1812.5 813.5 L1816.5 812.2 L1820.5 810.9 L1824.5 809.6 L1828.5 808.3 L1832.5 807.1 L1836.5 805.8 L1840.5 804.5 L1844.5 803.2 L1848.5 802.0 L1852.5 800.7 L1856.5 799.5 L1860.5 798.2 L1864.5 797.0 L1868.5 795.8 L1872.5 794.6 L1876.5 793.4 L1880.5 792.2 L1884.5 791.0 L1888.5 789.9 L1892.5 788.8 L1896.5 787.7 L1900.5 786.6 L1904.5 785.5 L1908.5 784.5 L1912.5 783.4 L1916.5 782.4 L1920.5 781.4 L1924.5 780.5 L1928.5 779.5 L1932.5 778.5 L1936.5 777.6 L1940.5 776.6 L1944.5 775.7 L1948.5 774.7 L1952.5 773.7 L1956.5 772.8 L1960.5 771.8 L1964.5 770.8 L1968.5 769.8 L1972.5 768.8 L1976.5 767.8 L1980.5 766.7 L1984.5 765.6 L1988.5 764.6 L1992.5 763.5 L1996.5 762.4 L2000.5 761.2 L2004.5 760.1 L2008.5 759.0 L2012.5 757.9 L2016.5 756.8 L2020.5 755.7 L2024.5 754.6 L2028.5 753.5 L2032.5 752.4 L2036.5 751.4 L2040.5 750.4 L2044.5 749.4 L2048.5 748.4 L2052.5 747.5 L2056.5 746.5 L2060.5 745.6 L2064.5 744.7 L2068.5 743.8 L2072.5 743.0 L2076.5 742.1 L2080.5 741.3 L2084.5 740.5 L2088.5 739.7 L2092.5 739.0 L2096.5 738.2 L2100.5 737.5 L2104.5 736.8 L2108.5 736.1 L2112.5 735.5 L2116.5 734.9 L2120.5 734.3 L2124.5 733.7 L2128.5 733.1 L2132.5 732.5 L2136.5 732.0 L2140.5 731.5 L2144.5 731.0 L2148.5 730.5 L2152.5 730.0 L2156.5 729.6 L2160.5 729.1 L2164.5 728.7 L2168.5 728.3 L2172.5 727.8 L2176.5 727.5 L2180.5 727.1 L2184.5 726.7 L2188.5 726.3 L2192.5 726.0 L2196.5 725.6 L2200.5 725.2 L2204.5 724.9 L2208.5 724.6 L2212.5 724.3 L2216.5 723.9 L2220.5 723.6 L2224.5 723.4 L2228.5 723.1 L2232.5 722.9 L2236.5 722.7 L2240.5 722.5 L2244.5 722.3 L2248.5 722.2 L2252.5 722.1 L2256.5 722.0 L2260.5 721.9 L2264.5 721.9 L2268.5 721.8 L2272.5 721.8 L2276.5 721.8 L2280.5 721.8 L2284.5 721.9 L2288.5 721.9 L2292.5 721.9 L2296.5 722.0 L2300.5 722.1 L2304.5 722.1 L2308.5 722.2 L2312.5 722.4 L2316.5 722.5 L2320.5 722.7 L2324.5 722.8 L2328.5 723.1 L2332.5 723.3 L2336.5 723.5 L2340.5 723.8 L2344.3 724.1" fill="none" stroke="#FFAAAA" stroke-width="2.2"/>
<path d="M224.5 1003.0 L228.5 1003.0 L232.5 1003.0 L236.5 1003.0 L240.5 1003.0 L244.5 1003.0 L248.5 1003.0 L252.5 1003.0 L256.5 1003.0 L260.5 1003.0 L264.5 1003.0 L268.5 1003.0 L272.5 1003.0 L276.5 1003.0 L280.5 1003.0 L284.5 1003.0 L288.5 1003.0 L292.5 1003.0 L296.5 1003.0 L300.5 1003.0 L304.5 1003.0 L308.5 1003.0 L312.5 1003.0 L316.5 1003.0 L320.5 1003.0 L324.5 1003.0 L328.5 1003.0 L332.5 1003.0 L336.5 1003.0 L340.5 1003.0 L344.5 1003.0 L348.5 1003.0 L352.5 1003.0 L356.5 1003.0 L360.5 1003.0 L364.5 1003.0 L368.5 1003.0 L372.5 1003.0 L376.5 1003.0 L380.5 1003.0 L384.5 1003.0 L388.5 1003.0 L392.5 1003.0 L396.5 1003.0 L400.5 1003.0 L404.5 1003.0 L408.5 1003.0 L412.5 1003.0 L416.5 1003.0 L420.5 1003.0 L424.5 1003.0 L428.5 1003.0 L432.5 1003.0 L436.5 1003.0 L440.5 1003.0 L444.5 1003.0 L448.5 1003.0 L452.5 1003.0 L456.5 1003.0 L460.5 1003.0 L464.5 1003.0 L468.5 1003.0 L472.5 1003.0 L476.5 1003.0 L480.5 1003.0 L484.5 1003.0 L488.5 1003.0 L492.5 1003.0 L496.5 1003.0 L500.5 1003.0 L504.5 1003.0 L508.5 1003.0 L512.5 1003.0 L516.5 1003.0 L520.5 1003.0 L524.5 1003.0 L528.5 1003.0 L532.5 1003.0 L536.5 1003.0 L540.5 1003.0 L544.5 1003.0 L548.5 1003.0 L552.5 1003.0 L556.5 1003.0 L560.5 1003.0 L564.5 1003.0 L568.5 1003.0 L572.5 1003.0 L576.5 1003.0 L580.5 1003.0 L584.5 1003.0 L588.5 1003.0 L592.5 1003.0 L596.5 1003.0 L600.5 1003.0 L604.5 1003.0 L608.5 1003.0 L612.5 1003.0 L616.5 1003.0 L620.5 1003.0 L624.5 1003.0 L628.5 1003.0 L632.5 1003.0 L636.5 1003.0 L640.5 1003.0 L644.5 1003.0 L648.5 1003.0 L652.5 1003.0 L656.5 1003.0 L660.5 1003.0 L664.5 1003.0 L668.5 1003.0 L672.5 1003.0 L676.5 1003.0 L680.5 1003.0 L684.5 1003.0 L688.5 1003.0 L692.5 1003.0 L696.5 1003.0 L700.5 1003.0 L704.5 1003.0 L708.5 1003.0 L712.5 1003.0 L716.5 1003.0 L720.5 1003.0 L724.5 1003.0 L728.5 1003.0 L732.5 1003.0 L736.5 1003.0 L740.5 1003.0 L744.5 1003.0 L748.5 1003.0 L752.5 1003.0 L756.5 1003.0 L760.5 1003.0 L764.5 1003.0 L768.5 1003.0 L772.5 1003.0 L776.5 1003.0 L780.5 1003.0 L784.5 1003.0 L788.5 1003.0 L792.5 1003.0 L796.5 1003.0 L800.5 1003.0 L804.5 1003.0 L808.5 1003.0 L812.5 1003.0 L816.5 1003.0 L820.5 1003.0 L824.5 1003.0 L828.5 1003.0 L832.5 1003.0 L836.5 1003.0 L840.5 1003.0 L844.5 1003.0 L848.5 1003.0 L852.5 1003.0 L856.5 1003.0 L860.5 1003.0 L864.5 1003.0 L868.5 1003.0 L872.5 1003.0 L876.5 1003.0 L880.5 1003.0 L884.5 1003.0 L888.5 1003.0 L892.5 1003.0 L896.5 1003.0 L900.5 1002.9 L904.5 1002.9 L908.5 1002.9 L912.5 1002.8 L916.5 1002.8 L920.5 1002.7 L924.5 1002.7 L928.5 1002.6 L932.5 1002.5 L936.5 1002.4 L940.5 1002.3 L944.5 1002.2 L948.5 1002.1 L952.5 1001.9 L956.5 1001.8 L960.5 1001.7 L964.5 1001.5 L968.5 1001.4 L972.5 1001.2 L976.5 1001.0 L980.5 1000.8 L984.5 1000.7 L988.5 1000.5 L992.5 1000.2 L996.5 1000.0 L1000.5 999.8 L1004.5 999.5 L1008.5 999.2 L1012.5 998.9 L1016.5 998.6 L1020.5 998.3 L1024.5 997.9 L1028.5 997.5 L1032.5 997.1 L1036.5 996.6 L1040.5 996.2 L1044.5 995.7 L1048.5 995.2 L1052.5 994.7 L1056.5 994.2 L1060.5 993.7 L1064.5 993.2 L1068.5 992.6 L1072.5 992.1 L1076.5 991.6 L1080.5 991.1 L1084.5 990.5 L1088.5 990.0 L1092.5 989.5 L1096.5 989.0 L1100.5 988.5 L1104.5 988.0 L1108.5 987.4 L1112.5 986.9 L1116.5 986.4 L1120.5 985.9 L1124.5 985.4 L1128.5 984.9 L1132.5 984.3 L1136.5 983.8 L1140.5 983.3 L1144.5 982.7 L1148.5 982.1 L1152.5 981.6 L1156.5 981.0 L1160.5 980.4 L1164.5 979.8 L1168.5 979.3 L1172.5 978.7 L1176.5 978.0 L1180.5 977.4 L1184.5 976.8 L1188.5 976.1 L1192.5 975.5 L1196.5 974.8 L1200.5 974.1 L1204.5 973.4 L1208.5 972.7 L1212.5 972.0 L1216.5 971.2 L1220.5 970.5 L1224.5 969.7 L1228.5 968.8 L1232.5 968.0 L1236.5 967.1 L1240.5 966.2 L1244.5 965.3 L1248.5 964.3 L1252.5 963.3 L1256.5 962.3 L1260.5 961.3 L1264.5 960.2 L1268.5 959.2 L1272.5 958.1 L1276.5 956.9 L1280.5 955.8 L1284.5 954.6 L1288.5 953.3 L1292.5 952.1 L1296.5 950.8 L1300.5 949.5 L1304.5 948.2 L1308.5 946.8 L1312.5 945.4 L1316.5 944.0 L1320.5 942.6 L1324.5 941.1 L1328.5 939.6 L1332.5 938.1 L1336.5 936.6 L1340.5 935.1 L1344.5 933.5 L1348.5 932.0 L1352.5 930.4 L1356.5 928.9 L1360.5 927.3 L1364.5 925.7 L1368.5 924.1 L1372.5 922.5 L1376.5 921.0 L1380.5 919.4 L1384.5 917.8 L1388.5 916.2 L1392.5 914.6 L1396.5 913.0 L1400.5 911.3 L1404.5 909.7 L1408.5 908.1 L1412.5 906.5 L1416.5 904.8 L1420.5 903.2 L1424.5 901.6 L1428.5 899.9 L1432.5 898.3 L1436.5 896.7 L1440.5 895.0 L1444.5 893.4 L1448.5 891.8 L1452.5 890.2 L1456.5 888.5 L1460.5 886.9 L1464.5 885.3 L1468.5 883.7 L1472.5 882.1 L1476.5 880.5 L1480.5 878.8 L1484.5 877.2 L1488.5 875.5 L1492.5 873.9 L1496.5 872.2 L1500.5 870.5 L1504.5 868.8 L1508.5 867.0 L1512.5 865.3 L1516.5 863.5 L1520.5 861.6 L1524.5 859.8 L1528.5 857.9 L1532.5 856.0 L1536.5 854.1 L1540.5 852.1 L1544.5 850.1 L1548.5 848.1 L1552.5 846.1 L1556.5 844.0 L1560.5 842.0 L1564.5 839.9 L1568.5 837.9 L1572.5 835.8 L1576.5 833.8 L1580.5 831.7 L1584.5 829.7 L1588.5 827.7 L1592.5 825.7 L1596.5 823.8 L1600.5 821.8 L1604.5 819.9 L1608.5 818.0 L1612.5 816.2 L1616.5 814.3 L1620.5 812.5 L1624.5 810.8 L1628.5 809.0 L1632.5 807.2 L1636.5 805.5 L1640.5 803.8 L1644.5 802.0 L1648.5 800.2 L1652.5 798.5 L1656.5 796.7 L1660.5 794.9 L1664.5 793.1 L1668.5 791.3 L1672.5 789.4 L1676.5 787.6 L1680.5 785.7 L1684.5 783.9 L1688.5 782.0 L1692.5 780.2 L1696.5 778.3 L1700.5 776.5 L1704.5 774.7 L1708.5 772.9 L1712.5 771.1 L1716.5 769.4 L1720.5 767.6 L1724.5 765.9 L1728.5 764.2 L1732.5 762.4 L1736.5 760.7 L1740.5 759.0 L1744.5 757.4 L1748.5 755.7 L1752.5 754.0 L1756.5 752.3 L1760.5 750.6 L1764.5 748.9 L1768.5 747.3 L1772.5 745.6 L1776.5 743.9 L1780.5 742.2 L1784.5 740.5 L1788.5 738.8 L1792.5 737.1 L1796.5 735.4 L1800.5 733.6 L1804.5 731.9 L1808.5 730.1 L1812.5 728.2 L1816.5 726.4 L1820.5 724.5 L1824.5 722.6 L1828.5 720.7 L1832.5 718.8 L1836.5 716.8 L1840.5 714.8 L1844.5 712.8 L1848.5 710.8 L1852.5 708.8 L1856.5 706.8 L1860.5 704.8 L1864.5 702.9 L1868.5 700.9 L1872.5 698.9 L1876.5 697.0 L1880.5 695.1 L1884.5 693.3 L1888.5 691.5 L1892.5 689.7 L1896.5 687.9 L1900.5 686.2 L1904.5 684.6 L1908.5 682.9 L1912.5 681.3 L1916.5 679.8 L1920.5 678.2 L1924.5 676.7 L1928.5 675.3 L1932.5 673.8 L1936.5 672.3 L1940.5 670.9 L1944.5 669.4 L1948.5 668.0 L1952.5 666.5 L1956.5 665.1 L1960.5 663.6 L1964.5 662.1 L1968.5 660.6 L1972.5 659.1 L1976.5 657.5 L1980.5 655.9 L1984.5 654.3 L1988.5 652.7 L1992.5 651.1 L1996.5 649.4 L2000.5 647.8 L2004.5 646.1 L2008.5 644.4 L2012.5 642.8 L2016.5 641.1 L2020.5 639.5 L2024.5 637.8 L2028.5 636.2 L2032.5 634.6 L2036.5 633.1 L2040.5 631.6 L2044.5 630.1 L2048.5 628.6 L2052.5 627.2 L2056.5 625.8 L2060.5 624.4 L2064.5 623.0 L2068.5 621.7 L2072.5 620.4 L2076.5 619.1 L2080.5 617.9 L2084.5 616.6 L2088.5 615.4 L2092.5 614.2 L2096.5 613.0 L2100.5 611.8 L2104.5 610.6 L2108.5 609.5 L2112.5 608.3 L2116.5 607.2 L2120.5 606.0 L2124.5 604.9 L2128.5 603.8 L2132.5 602.7 L2136.5 601.6 L2140.5 600.5 L2144.5 599.4 L2148.5 598.4 L2152.5 597.4 L2156.5 596.4 L2160.5 595.4 L2164.5 594.5 L2168.5 593.7 L2172.5 592.8 L2176.5 592.0 L2180.5 591.3 L2184.5 590.6 L2188.5 589.9 L2192.5 589.3 L2196.5 588.7 L2200.5 588.1 L2204.5 587.6 L2208.5 587.0 L2212.5 586.6 L2216.5 586.1 L2220.5 585.6 L2224.5 585.2 L2228.5 584.8 L2232.5 584.4 L2236.5 584.0 L2240.5 583.7 L2244.5 583.4 L2248.5 583.0 L2252.5 582.7 L2256.5 582.4 L2260.5 582.2 L2264.5 581.9 L2268.5 581.6 L2272.5 581.4 L2276.5 581.1 L2280.5 580.9 L2284.5 580.7 L2288.5 580.5 L2292.5 580.3 L2296.5 580.1 L2300.5 579.9 L2304.5 579.7 L2308.5 579.5 L2312.5 579.4 L2316.5 579.2 L2320.5 579.1 L2324.5 578.9 L2328.5 578.8 L2332.5 578.7 L2336.5 578.6 L2340.5 578.5 L2344.5 578.5 L2345.0 578.5" fill="none" stroke="#333333" stroke-width="2.2"/>
<path d="M224.5 1003.0 L228.5 1003.0 L232.5 1003.0 L236.5 1003.0 L240.5 1003.0 L244.5 1003.0 L248.5 1003.0 L252.5 1003.0 L256.5 1003.0 L260.5 1003.0 L264.5 1003.0 L268.5 1003.0 L272.5 1003.0 L276.5 1003.0 L280.5 1003.0 L284.5 1003.0 L288.5 1003.0 L292.5 1003.0 L296.5 1003.0 L300.5 1003.0 L304.5 1003.0 L308.5 1003.0 L312.5 1003.0 L316.5 1003.0 L320.5 1003.0 L324.5 1003.0 L328.5 1003.0 L332.5 1003.0 L336.5 1003.0 L340.5 1003.0 L344.5 1003.0 L348.5 1003.0 L352.5 1003.0 L356.5 1003.0 L360.5 1003.0 L364.5 1003.0 L368.5 1003.0 L372.5 1003.0 L376.5 1003.0 L380.5 1003.0 L384.5 1003.0 L388.5 1003.0 L392.5 1003.0 L396.5 1003.0 L400.5 1003.0 L404.5 1003.0 L408.5 1003.0 L412.5 1003.0 L416.5 1003.0 L420.5 1003.0 L424.5 1003.0 L428.5 1003.0 L432.5 1003.0 L436.5 1003.0 L440.5 1003.0 L444.5 1003.0 L448.5 1003.0 L452.5 1003.0 L456.5 1003.0 L460.5 1003.0 L464.5 1003.0 L468.5 1003.0 L472.5 1003.0 L476.5 1003.0 L480.5 1003.0 L484.5 1003.0 L488.5 1003.0 L492.5 1003.0 L496.5 1003.0 L500.5 1003.0 L504.5 1003.0 L508.5 1003.0 L512.5 1003.0 L516.5 1003.0 L520.5 1003.0 L524.5 1003.0 L528.5 1003.0 L532.5 1003.0 L536.5 1003.0 L540.5 1003.0 L544.5 1003.0 L548.5 1003.0 L552.5 1003.0 L556.5 1003.0 L560.5 1003.0 L564.5 1003.0 L568.5 1003.0 L572.5 1003.0 L576.5 1003.0 L580.5 1003.0 L584.5 1003.0 L588.5 1003.0 L592.5 1003.0 L596.5 1003.0 L600.5 1003.0 L604.5 1003.0 L608.5 1003.0 L612.5 1003.0 L616.5 1003.0 L620.5 1003.0 L624.5 1003.0 L628.5 1003.0 L632.5 1003.0 L636.5 1003.0 L640.5 1003.0 L644.5 1003.0 L648.5 1003.0 L652.5 1003.0 L656.5 1003.0 L660.5 1003.0 L664.5 1003.0 L668.5 1003.0 L672.5 1003.0 L676.5 1003.0 L680.5 1003.0 L684.5 1003.0 L688.5 1003.0 L692.5 1003.0 L696.5 1003.0 L700.5 1003.0 L704.5 1003.0 L708.5 1003.0 L712.5 1003.0 L716.5 1003.0 L720.5 1003.0 L724.5 1003.0 L728.5 1003.0 L732.5 1003.0 L736.5 1003.0 L740.5 1003.0 L744.5 1003.0 L748.5 1003.0 L752.5 1003.0 L756.5 1003.0 L760.5 1003.0 L764.5 1003.0 L768.5 1003.0 L772.5 1003.0 L776.5 1003.0 L780.5 1003.0 L784.5 1003.0 L788.5 1003.0 L792.5 1003.0 L796.5 1003.0 L800.5 1003.0 L804.5 1003.0 L808.5 1003.0 L812.5 1003.0 L816.5 1003.0 L820.5 1003.0 L824.5 1003.0 L828.5 1003.0 L832.5 1003.0 L836.5 1003.0 L840.5 1003.0 L844.5 1003.0 L848.5 1003.0 L852.5 1003.0 L856.5 1003.0 L860.5 1003.0 L864.5 1003.0 L868.5 1003.0 L872.5 1003.0 L876.5 1003.0 L880.5 1003.0 L884.5 1003.0 L888.5 1003.0 L892.5 1003.0 L896.5 1003.0 L900.5 1002.9 L904.5 1002.9 L908.5 1002.9 L912.5 1002.8 L916.5 1002.8 L920.5 1002.7 L924.5 1002.7 L928.5 1002.6 L932.5 1002.5 L936.5 1002.4 L940.5 1002.3 L944.5 1002.2 L948.5 1002.1 L952.5 1001.9 L956.5 1001.8 L960.5 1001.7 L964.5 1001.5 L968.5 1001.4 L972.5 1001.2 L976.5 1001.0 L980.5 1000.8 L984.5 1000.7 L988.5 1000.5 L992.5 1000.2 L996.5 1000.0 L1000.5 999.7 L1004.5 999.5 L1008.5 999.2 L1012.5 998.9 L1016.5 998.5 L1020.5 998.1 L1024.5 997.7 L1028.5 997.3 L1032.5 996.9 L1036.5 996.4 L1040.5 995.9 L1044.5 995.4 L1048.5 994.8 L1052.5 994.3 L1056.5 993.7 L1060.5 993.2 L1064.5 992.6 L1068.5 992.0 L1072.5 991.4 L1076.5 990.9 L1080.5 990.3 L1084.5 989.7 L1088.5 989.1 L1092.5 988.5 L1096.5 987.9 L1100.5 987.4 L1104.5 986.8 L1108.5 986.2 L1112.5 985.6 L1116.5 985.0 L1120.5 984.4 L1124.5 983.9 L1128.5 983.3 L1132.5 982.7 L1136.5 982.1 L1140.5 981.5 L1144.5 980.8 L1148.5 980.2 L1152.5 979.6 L1156.5 979.0 L1160.5 978.4 L1164.5 977.8 L1168.5 977.2 L1172.5 976.6 L1176.5 976.0 L1180.5 975.4 L1184.5 974.7 L1188.5 974.1 L1192.5 973.5 L1196.5 972.8 L1200.5 972.1 L1204.5 971.4 L1208.5 970.7 L1212.5 970.0 L1216.5 969.2 L1220.5 968.4 L1224.5 967.6 L1228.5 966.7 L1232.5 965.9 L1236.5 965.0 L1240.5 964.0 L1244.5 963.0 L1248.5 962.0 L1252.5 961.0 L1256.5 959.9 L1260.5 958.8 L1264.5 957.7 L1268.5 956.5 L1272.5 955.3 L1276.5 954.0 L1280.5 952.7 L1284.5 951.4 L1288.5 950.0 L1292.5 948.6 L1296.5 947.1 L1300.5 945.6 L1304.5 944.0 L1308.5 942.4 L1312.5 940.8 L1316.5 939.1 L1320.5 937.3 L1324.5 935.6 L1328.5 933.8 L1332.5 931.9 L1336.5 930.1 L1340.5 928.2 L1344.5 926.3 L1348.5 924.4 L1352.5 922.4 L1356.5 920.5 L1360.5 918.5 L1364.5 916.6 L1368.5 914.6 L1372.5 912.6 L1376.5 910.6 L1380.5 908.7 L1384.5 906.7 L1388.5 904.7 L1392.5 902.7 L1396.5 900.8 L1400.5 898.8 L1404.5 896.8 L1408.5 894.8 L1412.5 892.8 L1416.5 890.7 L1420.5 888.7 L1424.5 886.7 L1428.5 884.6 L1432.5 882.5 L1436.5 880.4 L1440.5 878.3 L1444.5 876.2 L1448.5 874.0 L1452.5 871.9 L1456.5 869.7 L1460.5 867.5 L1464.5 865.3 L1468.5 863.1 L1472.5 860.8 L1476.5 858.5 L1480.5 856.2 L1484.5 853.9 L1488.5 851.6 L1492.5 849.2 L1496.5 846.8 L1500.5 844.4 L1504.5 841.9 L1508.5 839.4 L1512.5 836.9 L1516.5 834.3 L1520.5 831.8 L1524.5 829.1 L1528.5 826.5 L1532.5 823.9 L1536.5 821.2 L1540.5 818.5 L1544.5 815.8 L1548.5 813.2 L1552.5 810.5 L1556.5 807.8 L1560.5 805.1 L1564.5 802.4 L1568.5 799.8 L1572.5 797.1 L1576.5 794.5 L1580.5 791.9 L1584.5 789.3 L1588.5 786.8 L1592.5 784.3 L1596.5 781.8 L1600.5 779.4 L1604.5 776.9 L1608.5 774.5 L1612.5 772.1 L1616.5 769.7 L1620.5 767.4 L1624.5 765.0 L1628.5 762.6 L1632.5 760.2 L1636.5 757.7 L1640.5 755.3 L1644.5 752.8 L1648.5 750.2 L1652.5 747.7 L1656.5 745.0 L1660.5 742.4 L1664.5 739.7 L1668.5 737.0 L1672.5 734.3 L1676.5 731.6 L1680.5 728.8 L1684.5 726.1 L1688.5 723.4 L1692.5 720.8 L1696.5 718.2 L1700.5 715.6 L1704.5 713.1 L1708.5 710.6 L1712.5 708.2 L1716.5 705.8 L1720.5 703.4 L1724.5 701.1 L1728.5 698.8 L1732.5 696.6 L1736.5 694.3 L1740.5 692.0 L1744.5 689.7 L1748.5 687.3 L1752.5 684.9 L1756.5 682.5 L1760.5 680.1 L1764.5 677.6 L1768.5 675.1 L1772.5 672.6 L1776.5 670.1 L1780.5 667.5 L1784.5 664.9 L1788.5 662.4 L1792.5 659.8 L1796.5 657.3 L1800.5 654.7 L1804.5 652.2 L1808.5 649.7 L1812.5 647.2 L1816.5 644.8 L1820.5 642.3 L1824.5 639.9 L1828.5 637.5 L1832.5 635.1 L1836.5 632.7 L1840.5 630.3 L1844.5 627.9 L1848.5 625.6 L1852.5 623.2 L1856.5 620.9 L1860.5 618.6 L1864.5 616.2 L1868.5 613.9 L1872.5 611.6 L1876.5 609.3 L1880.5 607.0 L1884.5 604.7 L1888.5 602.3 L1892.5 600.0 L1896.5 597.7 L1900.5 595.4 L1904.5 593.0 L1908.5 590.7 L1912.5 588.4 L1916.5 586.0 L1920.5 583.7 L1924.5 581.3 L1928.5 579.0 L1932.5 576.6 L1936.5 574.3 L1940.5 572.0 L1944.5 569.7 L1948.5 567.4 L1952.5 565.1 L1956.5 562.9 L1960.5 560.7 L1964.5 558.5 L1968.5 556.3 L1972.5 554.2 L1976.5 552.1 L1980.5 550.0 L1984.5 548.0 L1988.5 546.0 L1992.5 544.1 L1996.5 542.1 L2000.5 540.2 L2004.5 538.3 L2008.5 536.4 L2012.5 534.6 L2016.5 532.7 L2020.5 530.9 L2024.5 529.1 L2028.5 527.3 L2032.5 525.5 L2036.5 523.7 L2040.5 521.9 L2044.5 520.1 L2048.5 518.3 L2052.5 516.5 L2056.5 514.8 L2060.5 513.0 L2064.5 511.2 L2068.5 509.4 L2072.5 507.7 L2076.5 505.9 L2080.5 504.2 L2084.5 502.5 L2088.5 500.8 L2092.5 499.1 L2096.5 497.4 L2100.5 495.8 L2104.5 494.2 L2108.5 492.6 L2112.5 491.0 L2116.5 489.4 L2120.5 487.9 L2124.5 486.4 L2128.5 485.0 L2132.5 483.5 L2136.5 482.1 L2140.5 480.7 L2144.5 479.3 L2148.5 477.9 L2152.5 476.5 L2156.5 475.2 L2160.5 473.9 L2164.5 472.6 L2168.5 471.3 L2172.5 470.0 L2176.5 468.7 L2180.5 467.5 L2184.5 466.2 L2188.5 465.0 L2192.5 463.8 L2196.5 462.5 L2200.5 461.3 L2204.5 460.1 L2208.5 459.0 L2212.5 457.8 L2216.5 456.6 L2220.5 455.5 L2224.5 454.4 L2228.5 453.3 L2232.5 452.3 L2236.5 451.2 L2240.5 450.3 L2244.5 449.3 L2248.5 448.4 L2252.5 447.5 L2256.5 446.6 L2260.5 445.8 L2264.5 445.0 L2268.5 444.2 L2272.5 443.5 L2276.5 442.7 L2280.5 442.0 L2284.5 441.3 L2288.5 440.6 L2292.5 440.0 L2296.5 439.4 L2300.5 438.8 L2304.5 438.2 L2308.5 437.6 L2312.5 437.0 L2316.5 436.5 L2320.5 436.0 L2324.5 435.5 L2328.5 435.1 L2332.5 434.7 L2336.5 434.2 L2340.5 433.8 L2344.5 433.5 L2345.0 433.4" fill="none" stroke="#339933" stroke-width="2.2"/>
<path d="M224.5 1003.0 L228.5 1003.0 L232.5 1003.0 L236.5 1003.0 L240.5 1003.0 L244.5 1003.0 L248.5 1003.0 L252.5 1003.0 L256.5 1003.0 L260.5 1003.0 L264.5 1003.0 L268.5 1003.0 L272.5 1003.0 L276.5 1003.0 L280.5 1003.0 L284.5 1003.0 L288.5 1003.0 L292.5 1003.0 L296.5 1003.0 L300.5 1003.0 L304.5 1003.0 L308.5 1003.0 L312.5 1003.0 L316.5 1003.0 L320.5 1003.0 L324.5 1003.0 L328.5 1003.0 L332.5 1003.0 L336.5 1003.0 L340.5 1003.0 L344.5 1003.0 L348.5 1003.0 L352.5 1003.0 L356.5 1003.0 L360.5 1003.0 L364.5 1003.0 L368.5 1003.0 L372.5 1003.0 L376.5 1003.0 L380.5 1003.0 L384.5 1003.0 L388.5 1003.0 L392.5 1003.0 L396.5 1003.0 L400.5 1003.0 L404.5 1003.0 L408.5 1003.0 L412.5 1003.0 L416.5 1003.0 L420.5 1003.0 L424.5 1003.0 L428.5 1003.0 L432.5 1003.0 L436.5 1003.0 L440.5 1003.0 L444.5 1003.0 L448.5 1003.0 L452.5 1003.0 L456.5 1003.0 L460.5 1003.0 L464.5 1003.0 L468.5 1003.0 L472.5 1003.0 L476.5 1003.0 L480.5 1003.0 L484.5 1003.0 L488.5 1003.0 L492.5 1003.0 L496.5 1003.0 L500.5 1003.0 L504.5 1003.0 L508.5 1003.0 L512.5 1003.0 L516.5 1003.0 L520.5 1003.0 L524.5 1003.0 L528.5 1003.0 L532.5 1003.0 L536.5 1003.0 L540.5 1003.0 L544.5 1003.0 L548.5 1003.0 L552.5 1003.0 L556.5 1003.0 L560.5 1003.0 L564.5 1003.0 L568.5 1003.0 L572.5 1003.0 L576.5 1003.0 L580.5 1003.0 L584.5 1003.0 L588.5 1003.0 L592.5 1003.0 L596.5 1003.0 L600.5 1003.0 L604.5 1003.0 L608.5 1003.0 L612.5 1003.0 L616.5 1003.0 L620.5 1003.0 L624.5 1003.0 L628.5 1003.0 L632.5 1003.0 L636.5 1003.0 L640.5 1003.0 L644.5 1003.0 L648.5 1003.0 L652.5 1003.0 L656.5 1003.0 L660.5 1003.0 L664.5 1003.0 L668.5 1003.0 L672.5 1003.0 L676.5 1003.0 L680.5 1003.0 L684.5 1003.0 L688.5 1003.0 L692.5 1003.0 L696.5 1003.0 L700.5 1003.0 L704.5 1003.0 L708.5 1003.0 L712.5 1003.0 L716.5 1003.0 L720.5 1003.0 L724.5 1003.0 L728.5 1003.0 L732.5 1003.0 L736.5 1003.0 L740.5 1003.0 L744.5 1003.0 L748.5 1003.0 L752.5 1003.0 L756.5 1003.0 L760.5 1003.0 L764.5 1003.0 L768.5 1003.0 L772.5 1003.0 L776.5 1003.0 L780.5 1003.0 L784.5 1003.0 L788.5 1003.0 L792.5 1003.0 L796.5 1003.0 L800.5 1003.0 L804.5 1003.0 L808.5 1003.0 L812.5 1003.0 L816.5 1003.0 L820.5 1003.0 L824.5 1003.0 L828.5 1003.0 L832.5 1003.0 L836.5 1003.0 L840.5 1003.0 L844.5 1003.0 L848.5 1003.0 L852.5 1003.0 L856.5 1003.0 L860.5 1003.0 L864.5 1003.0 L868.5 1003.0 L872.5 1003.0 L876.5 1003.0 L880.5 1003.0 L884.5 1003.0 L888.5 1003.0 L892.5 1003.0 L896.5 1002.9 L900.5 1002.9 L904.5 1002.9 L908.5 1002.8 L912.5 1002.8 L916.5 1002.7 L920.5 1002.6 L924.5 1002.5 L928.5 1002.4 L932.5 1002.3 L936.5 1002.2 L940.5 1002.1 L944.5 1001.9 L948.5 1001.8 L952.5 1001.6 L956.5 1001.4 L960.5 1001.2 L964.5 1001.0 L968.5 1000.8 L972.5 1000.6 L976.5 1000.4 L980.5 1000.1 L984.5 999.9 L988.5 999.6 L992.5 999.3 L996.5 999.0 L1000.5 998.7 L1004.5 998.4 L1008.5 998.0 L1012.5 997.6 L1016.5 997.2 L1020.5 996.8 L1024.5 996.3 L1028.5 995.8 L1032.5 995.3 L1036.5 994.7 L1040.5 994.1 L1044.5 993.5 L1048.5 992.9 L1052.5 992.3 L1056.5 991.6 L1060.5 991.0 L1064.5 990.3 L1068.5 989.6 L1072.5 989.0 L1076.5 988.3 L1080.5 987.6 L1084.5 987.0 L1088.5 986.3 L1092.5 985.7 L1096.5 985.0 L1100.5 984.4 L1104.5 983.7 L1108.5 983.1 L1112.5 982.4 L1116.5 981.8 L1120.5 981.1 L1124.5 980.5 L1128.5 979.8 L1132.5 979.1 L1136.5 978.3 L1140.5 977.5 L1144.5 976.7 L1148.5 975.9 L1152.5 975.0 L1156.5 974.0 L1160.5 973.1 L1164.5 972.0 L1168.5 971.0 L1172.5 969.9 L1176.5 968.7 L1180.5 967.5 L1184.5 966.3 L1188.5 965.0 L1192.5 963.7 L1196.5 962.4 L1200.5 961.0 L1204.5 959.6 L1208.5 958.2 L1212.5 956.8 L1216.5 955.4 L1220.5 953.9 L1224.5 952.5 L1228.5 951.0 L1232.5 949.5 L1236.5 948.0 L1240.5 946.5 L1244.5 945.0 L1248.5 943.5 L1252.5 941.9 L1256.5 940.4 L1260.5 938.8 L1264.5 937.2 L1268.5 935.7 L1272.5 934.0 L1276.5 932.4 L1280.5 930.8 L1284.5 929.1 L1288.5 927.4 L1292.5 925.7 L1296.5 924.0 L1300.5 922.2 L1304.5 920.5 L1308.5 918.7 L1312.5 916.9 L1316.5 915.1 L1320.5 913.2 L1324.5 911.4 L1328.5 909.5 L1332.5 907.6 L1336.5 905.7 L1340.5 903.8 L1344.5 901.9 L1348.5 900.0 L1352.5 898.1 L1356.5 896.2 L1360.5 894.3 L1364.5 892.4 L1368.5 890.6 L1372.5 888.7 L1376.5 886.8 L1380.5 885.0 L1384.5 883.1 L1388.5 881.3 L1392.5 879.4 L1396.5 877.5 L1400.5 875.5 L1404.5 873.5 L1408.5 871.5 L1412.5 869.4 L1416.5 867.3 L1420.5 865.1 L1424.5 862.8 L1428.5 860.5 L1432.5 858.0 L1436.5 855.6 L1440.5 853.0 L1444.5 850.4 L1448.5 847.8 L1452.5 845.2 L1456.5 842.5 L1460.5 839.8 L1464.5 837.2 L1468.5 834.5 L1472.5 831.8 L1476.5 829.2 L1480.5 826.5 L1484.5 823.9 L1488.5 821.2 L1492.5 818.5 L1496.5 815.8 L1500.5 813.1 L1504.5 810.3 L1508.5 807.6 L1512.5 804.8 L1516.5 801.9 L1520.5 799.1 L1524.5 796.2 L1528.5 793.3 L1532.5 790.3 L1536.5 787.4 L1540.5 784.4 L1544.5 781.5 L1548.5 778.5 L1552.5 775.5 L1556.5 772.6 L1560.5 769.6 L1564.5 766.6 L1568.5 763.7 L1572.5 760.7 L1576.5 757.8 L1580.5 754.9 L1584.5 752.0 L1588.5 749.2 L1592.5 746.3 L1596.5 743.5 L1600.5 740.7 L1604.5 738.0 L1608.5 735.2 L1612.5 732.4 L1616.5 729.7 L1620.5 727.0 L1624.5 724.2 L1628.5 721.5 L1632.5 718.7 L1636.5 716.0 L1640.5 713.2 L1644.5 710.4 L1648.5 707.6 L1652.5 704.7 L1656.5 701.8 L1660.5 698.9 L1664.5 696.0 L1668.5 693.0 L1672.5 690.0 L1676.5 687.0 L1680.5 684.0 L1684.5 681.0 L1688.5 677.9 L1692.5 674.9 L1696.5 671.8 L1700.5 668.7 L1704.5 665.6 L1708.5 662.4 L1712.5 659.3 L1716.5 656.1 L1720.5 652.9 L1724.5 649.7 L1728.5 646.5 L1732.5 643.3 L1736.5 640.0 L1740.5 636.7 L1744.5 633.5 L1748.5 630.2 L1752.5 626.9 L1756.5 623.6 L1760.5 620.3 L1764.5 617.0 L1768.5 613.7 L1772.5 610.4 L1776.5 607.2 L1780.5 603.9 L1784.5 600.6 L1788.5 597.4 L1792.5 594.2 L1796.5 591.0 L1800.5 587.8 L1804.5 584.7 L1808.5 581.5 L1812.5 578.4 L1816.5 575.3 L1820.5 572.3 L1824.5 569.2 L1828.5 566.2 L1832.5 563.2 L1836.5 560.1 L1840.5 557.2 L1844.5 554.2 L1848.5 551.2 L1852.5 548.3 L1856.5 545.3 L1860.5 542.4 L1864.5 539.5 L1868.5 536.6 L1872.5 533.7 L1876.5 530.9 L1880.5 528.0 L1884.5 525.2 L1888.5 522.4 L1892.5 519.6 L1896.5 516.8 L1900.5 514.1 L1904.5 511.3 L1908.5 508.6 L1912.5 505.9 L1916.5 503.3 L1920.5 500.6 L1924.5 498.0 L1928.5 495.4 L1932.5 492.7 L1936.5 490.2 L1940.5 487.6 L1944.5 485.0 L1948.5 482.5 L1952.5 479.9 L1956.5 477.4 L1960.5 474.8 L1964.5 472.3 L1968.5 469.7 L1972.5 467.2 L1976.5 464.6 L1980.5 462.1 L1984.5 459.6 L1988.5 457.0 L1992.5 454.5 L1996.5 452.0 L2000.5 449.4 L2004.5 446.9 L2008.5 444.4 L2012.5 441.9 L2016.5 439.4 L2020.5 436.9 L2024.5 434.4 L2028.5 432.0 L2032.5 429.5 L2036.5 427.1 L2040.5 424.7 L2044.5 422.4 L2048.5 420.0 L2052.5 417.7 L2056.5 415.4 L2060.5 413.1 L2064.5 410.9 L2068.5 408.6 L2072.5 406.4 L2076.5 404.2 L2080.5 402.0 L2084.5 399.8 L2088.5 397.7 L2092.5 395.5 L2096.5 393.4 L2100.5 391.3 L2104.5 389.1 L2108.5 387.0 L2112.5 384.9 L2116.5 382.8 L2120.5 380.7 L2124.5 378.6 L2128.5 376.5 L2132.5 374.4 L2136.5 372.3 L2140.5 370.3 L2144.5 368.2 L2148.5 366.2 L2152.5 364.1 L2156.5 362.1 L2160.5 360.1 L2164.5 358.2 L2168.5 356.2 L2172.5 354.3 L2176.5 352.4 L2180.5 350.5 L2184.5 348.7 L2188.5 346.9 L2192.5 345.1 L2196.5 343.3 L2200.5 341.5 L2204.5 339.8 L2208.5 338.1 L2212.5 336.4 L2216.5 334.8 L2220.5 333.1 L2224.5 331.5 L2228.5 329.9 L2232.5 328.3 L2236.5 326.8 L2240.5 325.3 L2244.5 323.7 L2248.5 322.3 L2252.5 320.8 L2256.5 319.3 L2260.5 317.9 L2264.5 316.5 L2268.5 315.1 L2272.5 313.7 L2276.5 312.4 L2280.5 311.0 L2284.5 309.7 L2288.5 308.4 L2292.5 307.1 L2296.5 305.8 L2300.5 304.5 L2304.5 303.3 L2308.5 302.0 L2312.5 300.8 L2316.5 299.6 L2320.5 298.5 L2324.5 297.3 L2328.5 296.2 L2332.5 295.0 L2336.5 293.9 L2340.5 292.8 L2344.5 291.7 L2345.0 291.6" fill="none" stroke="#3D5EDD" stroke-width="2.2"/>
<path d="M224.5 1003.0 L228.5 1003.0 L232.5 1003.0 L236.5 1003.0 L240.5 1003.0 L244.5 1003.0 L248.5 1003.0 L252.5 1003.0 L256.5 1003.0 L260.5 1003.0 L264.5 1003.0 L268.5 1003.0 L272.5 1003.0 L276.5 1003.0 L280.5 1003.0 L284.5 1003.0 L288.5 1003.0 L292.5 1003.0 L296.5 1003.0 L300.5 1003.0 L304.5 1003.0 L308.5 1003.0 L312.5 1003.0 L316.5 1003.0 L320.5 1003.0 L324.5 1003.0 L328.5 1003.0 L332.5 1003.0 L336.5 1003.0 L340.5 1003.0 L344.5 1003.0 L348.5 1003.0 L352.5 1003.0 L356.5 1003.0 L360.5 1003.0 L364.5 1003.0 L368.5 1003.0 L372.5 1003.0 L376.5 1003.0 L380.5 1003.0 L384.5 1003.0 L388.5 1003.0 L392.5 1003.0 L396.5 1003.0 L400.5 1003.0 L404.5 1003.0 L408.5 1003.0 L412.5 1003.0 L416.5 1003.0 L420.5 1003.0 L424.5 1003.0 L428.5 1003.0 L432.5 1003.0 L436.5 1003.0 L440.5 1003.0 L444.5 1003.0 L448.5 1003.0 L452.5 1003.0 L456.5 1003.0 L460.5 1003.0 L464.5 1003.0 L468.5 1003.0 L472.5 1003.0 L476.5 1003.0 L480.5 1003.0 L484.5 1003.0 L488.5 1003.0 L492.5 1003.0 L496.5 1003.0 L500.5 1003.0 L504.5 1003.0 L508.5 1003.0 L512.5 1003.0 L516.5 1003.0 L520.5 1003.0 L524.5 1003.0 L528.5 1003.0 L532.5 1003.0 L536.5 1003.0 L540.5 1003.0 L544.5 1003.0 L548.5 1003.0 L552.5 1003.0 L556.5 1003.0 L560.5 1003.0 L564.5 1003.0 L568.5 1003.0 L572.5 1003.0 L576.5 1003.0 L580.5 1003.0 L584.5 1003.0 L588.5 1003.0 L592.5 1003.0 L596.5 1003.0 L600.5 1003.0 L604.5 1003.0 L608.5 1003.0 L612.5 1003.0 L616.5 1003.0 L620.5 1003.0 L624.5 1003.0 L628.5 1003.0 L632.5 1003.0 L636.5 1003.0 L640.5 1003.0 L644.5 1003.0 L648.5 1003.0 L652.5 1003.0 L656.5 1003.0 L660.5 1003.0 L664.5 1003.0 L668.5 1003.0 L672.5 1003.0 L676.5 1003.0 L680.5 1003.0 L684.5 1003.0 L688.5 1003.0 L692.5 1003.0 L696.5 1003.0 L700.5 1003.0 L704.5 1003.0 L708.5 1003.0 L712.5 1003.0 L716.5 1003.0 L720.5 1003.0 L724.5 1003.0 L728.5 1003.0 L732.5 1003.0 L736.5 1003.0 L740.5 1003.0 L744.5 1003.0 L748.5 1003.0 L752.5 1003.0 L756.5 1003.0 L760.5 1003.0 L764.5 1003.0 L768.5 1003.0 L772.5 1003.0 L776.5 1003.0 L780.5 1003.0 L784.5 1003.0 L788.5 1003.0 L792.5 1003.0 L796.5 1003.0 L800.5 1003.0 L804.5 1003.0 L808.5 1003.0 L812.5 1003.0 L816.5 1003.0 L820.5 1003.0 L824.5 1003.0 L828.5 1003.0 L832.5 1003.0 L836.5 1003.0 L840.5 1003.0 L844.5 1003.0 L848.5 1003.0 L852.5 1003.0 L856.5 1003.0 L860.5 1003.0 L864.5 1003.0 L868.5 1003.0 L872.5 1003.0 L876.5 1003.0 L880.5 1003.0 L884.5 1003.0 L888.5 1003.0 L892.5 1003.0 L896.5 1002.9 L900.5 1002.9 L904.5 1002.9 L908.5 1002.8 L912.5 1002.8 L916.5 1002.7 L920.5 1002.6 L924.5 1002.6 L928.5 1002.5 L932.5 1002.3 L936.5 1002.2 L940.5 1002.1 L944.5 1001.9 L948.5 1001.8 L952.5 1001.6 L956.5 1001.4 L960.5 1001.2 L964.5 1001.0 L968.5 1000.8 L972.5 1000.6 L976.5 1000.4 L980.5 1000.1 L984.5 999.9 L988.5 999.6 L992.5 999.3 L996.5 999.0 L1000.5 998.7 L1004.5 998.3 L1008.5 998.0 L1012.5 997.6 L1016.5 997.1 L1020.5 996.7 L1024.5 996.1 L1028.5 995.6 L1032.5 995.0 L1036.5 994.5 L1040.5 993.8 L1044.5 993.2 L1048.5 992.5 L1052.5 991.8 L1056.5 991.1 L1060.5 990.4 L1064.5 989.7 L1068.5 989.0 L1072.5 988.3 L1076.5 987.6 L1080.5 986.8 L1084.5 986.1 L1088.5 985.4 L1092.5 984.7 L1096.5 984.0 L1100.5 983.3 L1104.5 982.6 L1108.5 981.9 L1112.5 981.1 L1116.5 980.4 L1120.5 979.7 L1124.5 978.9 L1128.5 978.2 L1132.5 977.4 L1136.5 976.6 L1140.5 975.7 L1144.5 974.9 L1148.5 974.0 L1152.5 973.0 L1156.5 972.0 L1160.5 971.0 L1164.5 970.0 L1168.5 968.9 L1172.5 967.8 L1176.5 966.6 L1180.5 965.4 L1184.5 964.2 L1188.5 962.9 L1192.5 961.6 L1196.5 960.3 L1200.5 959.0 L1204.5 957.6 L1208.5 956.2 L1212.5 954.8 L1216.5 953.4 L1220.5 951.9 L1224.5 950.5 L1228.5 949.0 L1232.5 947.5 L1236.5 945.9 L1240.5 944.4 L1244.5 942.8 L1248.5 941.2 L1252.5 939.6 L1256.5 937.9 L1260.5 936.3 L1264.5 934.6 L1268.5 932.8 L1272.5 931.1 L1276.5 929.3 L1280.5 927.5 L1284.5 925.7 L1288.5 923.9 L1292.5 922.0 L1296.5 920.2 L1300.5 918.3 L1304.5 916.5 L1308.5 914.6 L1312.5 912.8 L1316.5 911.0 L1320.5 909.1 L1324.5 907.3 L1328.5 905.5 L1332.5 903.6 L1336.5 901.8 L1340.5 899.9 L1344.5 898.0 L1348.5 896.2 L1352.5 894.3 L1356.5 892.4 L1360.5 890.5 L1364.5 888.6 L1368.5 886.7 L1372.5 884.8 L1376.5 882.8 L1380.5 880.9 L1384.5 878.9 L1388.5 876.9 L1392.5 874.9 L1396.5 872.8 L1400.5 870.7 L1404.5 868.6 L1408.5 866.4 L1412.5 864.2 L1416.5 861.9 L1420.5 859.5 L1424.5 857.1 L1428.5 854.6 L1432.5 852.0 L1436.5 849.4 L1440.5 846.7 L1444.5 844.0 L1448.5 841.2 L1452.5 838.4 L1456.5 835.5 L1460.5 832.7 L1464.5 829.8 L1468.5 826.8 L1472.5 823.9 L1476.5 820.9 L1480.5 818.0 L1484.5 815.0 L1488.5 811.9 L1492.5 808.9 L1496.5 805.8 L1500.5 802.7 L1504.5 799.6 L1508.5 796.4 L1512.5 793.2 L1516.5 790.0 L1520.5 786.8 L1524.5 783.5 L1528.5 780.2 L1532.5 776.9 L1536.5 773.6 L1540.5 770.2 L1544.5 766.9 L1548.5 763.5 L1552.5 760.1 L1556.5 756.6 L1560.5 753.2 L1564.5 749.8 L1568.5 746.3 L1572.5 742.9 L1576.5 739.4 L1580.5 735.9 L1584.5 732.4 L1588.5 728.9 L1592.5 725.5 L1596.5 722.0 L1600.5 718.5 L1604.5 715.0 L1608.5 711.5 L1612.5 708.0 L1616.5 704.6 L1620.5 701.1 L1624.5 697.7 L1628.5 694.2 L1632.5 690.8 L1636.5 687.4 L1640.5 684.0 L1644.5 680.7 L1648.5 677.3 L1652.5 674.0 L1656.5 670.7 L1660.5 667.3 L1664.5 664.0 L1668.5 660.6 L1672.5 657.1 L1676.5 653.5 L1680.5 649.9 L1684.5 646.1 L1688.5 642.2 L1692.5 638.2 L1696.5 634.1 L1700.5 629.8 L1704.5 625.4 L1708.5 621.0 L1712.5 616.4 L1716.5 611.9 L1720.5 607.3 L1724.5 602.8 L1728.5 598.3 L1732.5 593.9 L1736.5 589.6 L1740.5 585.4 L1744.5 581.3 L1748.5 577.3 L1752.5 573.4 L1756.5 569.6 L1760.5 565.8 L1764.5 562.1 L1768.5 558.5 L1772.5 555.0 L1776.5 551.5 L1780.5 548.0 L1784.5 544.6 L1788.5 541.2 L1792.5 537.8 L1796.5 534.5 L1800.5 531.1 L1804.5 527.8 L1808.5 524.5 L1812.5 521.2 L1816.5 517.9 L1820.5 514.6 L1824.5 511.3 L1828.5 508.1 L1832.5 504.8 L1836.5 501.6 L1840.5 498.4 L1844.5 495.2 L1848.5 492.0 L1852.5 488.8 L1856.5 485.7 L1860.5 482.5 L1864.5 479.3 L1868.5 476.2 L1872.5 473.0 L1876.5 469.8 L1880.5 466.6 L1884.5 463.4 L1888.5 460.2 L1892.5 457.0 L1896.5 453.7 L1900.5 450.5 L1904.5 447.2 L1908.5 443.9 L1912.5 440.5 L1916.5 437.2 L1920.5 433.8 L1924.5 430.4 L1928.5 427.0 L1932.5 423.6 L1936.5 420.2 L1940.5 416.8 L1944.5 413.5 L1948.5 410.1 L1952.5 406.7 L1956.5 403.3 L1960.5 400.0 L1964.5 396.7 L1968.5 393.4 L1972.5 390.2 L1976.5 386.9 L1980.5 383.7 L1984.5 380.6 L1988.5 377.4 L1992.5 374.3 L1996.5 371.2 L2000.5 368.1 L2004.5 365.0 L2008.5 362.0 L2012.5 359.0 L2016.5 355.9 L2020.5 352.9 L2024.5 349.9 L2028.5 346.9 L2032.5 343.9 L2036.5 340.9 L2040.5 337.8 L2044.5 334.8 L2048.5 331.8 L2052.5 328.7 L2056.5 325.7 L2060.5 322.6 L2064.5 319.6 L2068.5 316.5 L2072.5 313.5 L2076.5 310.4 L2080.5 307.4 L2084.5 304.4 L2088.5 301.3 L2092.5 298.3 L2096.5 295.3 L2100.5 292.3 L2104.5 289.3 L2108.5 286.4 L2112.5 283.4 L2116.5 280.5 L2120.5 277.5 L2124.5 274.6 L2128.5 271.7 L2132.5 268.8 L2136.5 265.9 L2140.5 263.1 L2144.5 260.2 L2148.5 257.4 L2152.5 254.6 L2156.5 251.9 L2160.5 249.2 L2164.5 246.5 L2168.5 243.9 L2172.5 241.3 L2176.5 238.8 L2180.5 236.3 L2184.5 233.9 L2188.5 231.6 L2192.5 229.3 L2196.5 227.0 L2200.5 224.8 L2204.5 222.7 L2208.5 220.6 L2212.5 218.5 L2216.5 216.4 L2220.5 214.4 L2224.5 212.4 L2228.5 210.4 L2232.5 208.5 L2236.5 206.5 L2240.5 204.5 L2244.5 202.6 L2248.5 200.6 L2252.5 198.6 L2256.5 196.7 L2260.5 194.7 L2264.5 192.7 L2268.5 190.7 L2272.5 188.7 L2276.5 186.7 L2280.5 184.7 L2284.5 182.7 L2288.5 180.7 L2292.5 178.7 L2296.5 176.7 L2300.5 174.7 L2304.5 172.7 L2308.5 170.7 L2312.5 168.7 L2316.5 166.8 L2320.5 164.8 L2324.5 162.8 L2328.5 160.8 L2332.5 158.8 L2336.5 156.8 L2340.5 154.8 L2344.5 152.9 L2345.0 152.6" fill="none" stroke="#D626AE" stroke-width="2.2"/>
<path d="M220.4 998.4h8.2v8.2h-8.2zM234.5 998.4h8.2v8.2h-8.2zM248.7 998.4h8.2v8.2h-8.2zM262.8 998.4h8.2v8.2h-8.2zM276.9 998.4h8.2v8.2h-8.2zM291.1 998.4h8.2v8.2h-8.2zM305.2 998.4h8.2v8.2h-8.2zM319.4 998.4h8.2v8.2h-8.2zM333.5 998.4h8.2v8.2h-8.2zM347.6 998.4h8.2v8.2h-8.2zM361.8 998.4h8.2v8.2h-8.2zM375.9 998.4h8.2v8.2h-8.2zM390.0 998.4h8.2v8.2h-8.2zM404.2 998.4h8.2v8.2h-8.2zM418.3 998.4h8.2v8.2h-8.2zM432.4 998.4h8.2v8.2h-8.2zM446.6 998.4h8.2v8.2h-8.2zM460.7 998.4h8.2v8.2h-8.2zM474.9 998.3h8.2v8.2h-8.2zM489.0 998.3h8.2v8.2h-8.2zM503.1 998.3h8.2v8.2h-8.2zM517.3 998.3h8.2v8.2h-8.2zM531.4 998.3h8.2v8.2h-8.2zM545.5 998.3h8.2v8.2h-8.2zM559.7 998.3h8.2v8.2h-8.2zM573.8 998.3h8.2v8.2h-8.2zM588.0 998.3h8.2v8.2h-8.2zM602.1 998.3h8.2v8.2h-8.2zM616.2 998.3h8.2v8.2h-8.2zM630.4 998.2h8.2v8.2h-8.2zM644.5 998.2h8.2v8.2h-8.2zM658.6 998.2h8.2v8.2h-8.2zM672.8 998.2h8.2v8.2h-8.2zM686.9 998.2h8.2v8.2h-8.2zM701.0 998.2h8.2v8.2h-8.2zM715.2 998.2h8.2v8.2h-8.2zM729.3 998.1h8.2v8.2h-8.2zM743.5 998.1h8.2v8.2h-8.2zM757.6 998.1h8.2v8.2h-8.2zM771.7 998.1h8.2v8.2h-8.2zM785.9 998.1h8.2v8.2h-8.2zM800.0 998.1h8.2v8.2h-8.2zM814.1 998.0h8.2v8.2h-8.2zM828.3 998.0h8.2v8.2h-8.2zM842.4 998.0h8.2v8.2h-8.2zM856.5 998.0h8.2v8.2h-8.2zM870.7 997.9h8.2v8.2h-8.2zM884.8 997.9h8.2v8.2h-8.2zM899.0 997.9h8.2v8.2h-8.2zM913.1 997.8h8.2v8.2h-8.2zM927.2 997.7h8.2v8.2h-8.2zM941.4 997.6h8.2v8.2h-8.2zM955.5 997.4h8.2v8.2h-8.2zM969.6 997.3h8.2v8.2h-8.2zM983.8 997.1h8.2v8.2h-8.2zM997.9 996.8h8.2v8.2h-8.2zM1012.1 996.5h8.2v8.2h-8.2zM1026.2 996.1h8.2v8.2h-8.2zM1040.3 995.7h8.2v8.2h-8.2zM1054.5 995.2h8.2v8.2h-8.2zM1068.6 994.7h8.2v8.2h-8.2zM1082.7 994.2h8.2v8.2h-8.2zM1096.9 993.8h8.2v8.2h-8.2zM1111.0 993.4h8.2v8.2h-8.2zM1125.1 993.0h8.2v8.2h-8.2zM1139.3 992.6h8.2v8.2h-8.2zM1153.4 992.2h8.2v8.2h-8.2zM1167.6 991.9h8.2v8.2h-8.2zM1181.7 991.5h8.2v8.2h-8.2zM1195.8 991.1h8.2v8.2h-8.2zM1210.0 990.7h8.2v8.2h-8.2zM1224.1 990.2h8.2v8.2h-8.2zM1238.2 989.5h8.2v8.2h-8.2zM1252.4 988.7h8.2v8.2h-8.2zM1266.5 987.8h8.2v8.2h-8.2zM1280.7 986.8h8.2v8.2h-8.2zM1294.8 985.9h8.2v8.2h-8.2zM1308.9 984.9h8.2v8.2h-8.2zM1323.1 983.7h8.2v8.2h-8.2zM1337.2 982.4h8.2v8.2h-8.2zM1351.3 980.9h8.2v8.2h-8.2zM1365.5 979.3h8.2v8.2h-8.2zM1379.6 977.8h8.2v8.2h-8.2zM1393.7 976.5h8.2v8.2h-8.2zM1407.9 975.3h8.2v8.2h-8.2zM1422.0 974.3h8.2v8.2h-8.2zM1436.2 973.3h8.2v8.2h-8.2zM1450.3 972.3h8.2v8.2h-8.2zM1464.4 971.3h8.2v8.2h-8.2zM1478.6 970.0h8.2v8.2h-8.2zM1492.7 968.5h8.2v8.2h-8.2zM1506.8 967.0h8.2v8.2h-8.2zM1521.0 965.6h8.2v8.2h-8.2zM1535.1 964.1h8.2v8.2h-8.2zM1549.2 962.7h8.2v8.2h-8.2zM1563.4 961.3h8.2v8.2h-8.2zM1577.5 960.0h8.2v8.2h-8.2zM1591.7 958.8h8.2v8.2h-8.2zM1605.8 957.8h8.2v8.2h-8.2zM1619.9 956.7h8.2v8.2h-8.2zM1634.1 955.7h8.2v8.2h-8.2zM1648.2 954.6h8.2v8.2h-8.2zM1662.3 953.3h8.2v8.2h-8.2zM1676.5 951.9h8.2v8.2h-8.2zM1690.6 950.5h8.2v8.2h-8.2zM1704.8 949.2h8.2v8.2h-8.2zM1718.9 948.0h8.2v8.2h-8.2zM1733.0 946.8h8.2v8.2h-8.2zM1747.2 945.7h8.2v8.2h-8.2zM1761.3 944.6h8.2v8.2h-8.2zM1775.4 943.6h8.2v8.2h-8.2zM1789.6 942.6h8.2v8.2h-8.2zM1803.7 941.7h8.2v8.2h-8.2zM1817.8 940.8h8.2v8.2h-8.2zM1832.0 939.9h8.2v8.2h-8.2zM1846.1 939.1h8.2v8.2h-8.2zM1860.3 938.4h8.2v8.2h-8.2zM1874.4 937.6h8.2v8.2h-8.2zM1888.5 936.9h8.2v8.2h-8.2zM1902.7 936.2h8.2v8.2h-8.2zM1916.8 935.5h8.2v8.2h-8.2zM1930.9 934.9h8.2v8.2h-8.2zM1945.1 934.3h8.2v8.2h-8.2zM1959.2 933.6h8.2v8.2h-8.2zM1973.3 932.7h8.2v8.2h-8.2zM1987.5 931.8h8.2v8.2h-8.2zM2001.6 930.6h8.2v8.2h-8.2zM2015.8 929.5h8.2v8.2h-8.2zM2029.9 928.5h8.2v8.2h-8.2zM2044.0 927.8h8.2v8.2h-8.2zM2058.2 927.4h8.2v8.2h-8.2zM2072.3 927.0h8.2v8.2h-8.2zM2086.4 926.8h8.2v8.2h-8.2zM2100.6 926.5h8.2v8.2h-8.2zM2114.7 926.2h8.2v8.2h-8.2zM2128.9 925.9h8.2v8.2h-8.2zM2143.0 925.5h8.2v8.2h-8.2zM2157.1 925.1h8.2v8.2h-8.2zM2171.3 924.9h8.2v8.2h-8.2zM2185.4 924.7h8.2v8.2h-8.2zM2199.5 924.7h8.2v8.2h-8.2zM2213.7 924.7h8.2v8.2h-8.2zM2227.8 924.7h8.2v8.2h-8.2zM2241.9 924.7h8.2v8.2h-8.2zM2256.1 924.7h8.2v8.2h-8.2zM2270.2 924.7h8.2v8.2h-8.2zM2284.4 924.7h8.2v8.2h-8.2zM2298.5 924.7h8.2v8.2h-8.2zM2312.6 924.7h8.2v8.2h-8.2zM2326.8 924.7h8.2v8.2h-8.2zM2340.9 924.7h8.2v8.2h-8.2z" fill="none" stroke="#660066" stroke-width="2.4"/>
<path d="M223.7 1001.7h1.6v1.6h-1.6zM237.8 1001.7h1.6v1.6h-1.6zM252.0 1001.7h1.6v1.6h-1.6zM266.1 1001.7h1.6v1.6h-1.6zM280.2 1001.7h1.6v1.6h-1.6zM294.4 1001.7h1.6v1.6h-1.6zM308.5 1001.7h1.6v1.6h-1.6zM322.7 1001.7h1.6v1.6h-1.6zM336.8 1001.7h1.6v1.6h-1.6zM350.9 1001.7h1.6v1.6h-1.6zM365.1 1001.7h1.6v1.6h-1.6zM379.2 1001.7h1.6v1.6h-1.6zM393.3 1001.7h1.6v1.6h-1.6zM407.5 1001.7h1.6v1.6h-1.6zM421.6 1001.7h1.6v1.6h-1.6zM435.7 1001.7h1.6v1.6h-1.6zM449.9 1001.7h1.6v1.6h-1.6zM464.0 1001.7h1.6v1.6h-1.6zM478.2 1001.6h1.6v1.6h-1.6zM492.3 1001.6h1.6v1.6h-1.6zM506.4 1001.6h1.6v1.6h-1.6zM520.6 1001.6h1.6v1.6h-1.6zM534.7 1001.6h1.6v1.6h-1.6zM548.8 1001.6h1.6v1.6h-1.6zM563.0 1001.6h1.6v1.6h-1.6zM577.1 1001.6h1.6v1.6h-1.6zM591.3 1001.6h1.6v1.6h-1.6zM605.4 1001.6h1.6v1.6h-1.6zM619.5 1001.6h1.6v1.6h-1.6zM633.7 1001.5h1.6v1.6h-1.6zM647.8 1001.5h1.6v1.6h-1.6zM661.9 1001.5h1.6v1.6h-1.6zM676.1 1001.5h1.6v1.6h-1.6zM690.2 1001.5h1.6v1.6h-1.6zM704.3 1001.5h1.6v1.6h-1.6zM718.5 1001.5h1.6v1.6h-1.6zM732.6 1001.4h1.6v1.6h-1.6zM746.8 1001.4h1.6v1.6h-1.6zM760.9 1001.4h1.6v1.6h-1.6zM775.0 1001.4h1.6v1.6h-1.6zM789.2 1001.4h1.6v1.6h-1.6zM803.3 1001.4h1.6v1.6h-1.6zM817.4 1001.3h1.6v1.6h-1.6zM831.6 1001.3h1.6v1.6h-1.6zM845.7 1001.3h1.6v1.6h-1.6zM859.8 1001.3h1.6v1.6h-1.6zM874.0 1001.2h1.6v1.6h-1.6zM888.1 1001.2h1.6v1.6h-1.6zM902.3 1001.2h1.6v1.6h-1.6zM916.4 1001.1h1.6v1.6h-1.6zM930.5 1001.0h1.6v1.6h-1.6zM944.7 1000.9h1.6v1.6h-1.6zM958.8 1000.7h1.6v1.6h-1.6zM972.9 1000.6h1.6v1.6h-1.6zM987.1 1000.4h1.6v1.6h-1.6zM1001.2 1000.1h1.6v1.6h-1.6zM1015.4 999.8h1.6v1.6h-1.6zM1029.5 999.4h1.6v1.6h-1.6zM1043.6 999.0h1.6v1.6h-1.6zM1057.8 998.5h1.6v1.6h-1.6zM1071.9 998.0h1.6v1.6h-1.6zM1086.0 997.5h1.6v1.6h-1.6zM1100.2 997.1h1.6v1.6h-1.6zM1114.3 996.7h1.6v1.6h-1.6zM1128.4 996.3h1.6v1.6h-1.6zM1142.6 995.9h1.6v1.6h-1.6zM1156.7 995.5h1.6v1.6h-1.6zM1170.9 995.2h1.6v1.6h-1.6zM1185.0 994.8h1.6v1.6h-1.6zM1199.1 994.4h1.6v1.6h-1.6zM1213.3 994.0h1.6v1.6h-1.6zM1227.4 993.5h1.6v1.6h-1.6zM1241.5 992.8h1.6v1.6h-1.6zM1255.7 992.0h1.6v1.6h-1.6zM1269.8 991.1h1.6v1.6h-1.6zM1284.0 990.1h1.6v1.6h-1.6zM1298.1 989.2h1.6v1.6h-1.6zM1312.2 988.2h1.6v1.6h-1.6zM1326.4 987.0h1.6v1.6h-1.6zM1340.5 985.7h1.6v1.6h-1.6zM1354.6 984.2h1.6v1.6h-1.6zM1368.8 982.6h1.6v1.6h-1.6zM1382.9 981.1h1.6v1.6h-1.6zM1397.0 979.8h1.6v1.6h-1.6zM1411.2 978.6h1.6v1.6h-1.6zM1425.3 977.6h1.6v1.6h-1.6zM1439.5 976.6h1.6v1.6h-1.6zM1453.6 975.6h1.6v1.6h-1.6zM1467.7 974.6h1.6v1.6h-1.6zM1481.9 973.3h1.6v1.6h-1.6zM1496.0 971.8h1.6v1.6h-1.6zM1510.1 970.3h1.6v1.6h-1.6zM1524.3 968.9h1.6v1.6h-1.6zM1538.4 967.4h1.6v1.6h-1.6zM1552.5 966.0h1.6v1.6h-1.6zM1566.7 964.6h1.6v1.6h-1.6zM1580.8 963.3h1.6v1.6h-1.6zM1595.0 962.1h1.6v1.6h-1.6zM1609.1 961.1h1.6v1.6h-1.6zM1623.2 960.0h1.6v1.6h-1.6zM1637.4 959.0h1.6v1.6h-1.6zM1651.5 957.9h1.6v1.6h-1.6zM1665.6 956.6h1.6v1.6h-1.6zM1679.8 955.2h1.6v1.6h-1.6zM1693.9 953.8h1.6v1.6h-1.6zM1708.1 952.5h1.6v1.6h-1.6zM1722.2 951.3h1.6v1.6h-1.6zM1736.3 950.1h1.6v1.6h-1.6zM1750.5 949.0h1.6v1.6h-1.6zM1764.6 947.9h1.6v1.6h-1.6zM1778.7 946.9h1.6v1.6h-1.6zM1792.9 945.9h1.6v1.6h-1.6zM1807.0 945.0h1.6v1.6h-1.6zM1821.1 944.1h1.6v1.6h-1.6zM1835.3 943.2h1.6v1.6h-1.6zM1849.4 942.4h1.6v1.6h-1.6zM1863.6 941.7h1.6v1.6h-1.6zM1877.7 940.9h1.6v1.6h-1.6zM1891.8 940.2h1.6v1.6h-1.6zM1906.0 939.5h1.6v1.6h-1.6zM1920.1 938.8h1.6v1.6h-1.6zM1934.2 938.2h1.6v1.6h-1.6zM1948.4 937.6h1.6v1.6h-1.6zM1962.5 936.9h1.6v1.6h-1.6zM1976.6 936.0h1.6v1.6h-1.6zM1990.8 935.1h1.6v1.6h-1.6zM2004.9 933.9h1.6v1.6h-1.6zM2019.1 932.8h1.6v1.6h-1.6zM2033.2 931.8h1.6v1.6h-1.6zM2047.3 931.1h1.6v1.6h-1.6zM2061.5 930.7h1.6v1.6h-1.6zM2075.6 930.3h1.6v1.6h-1.6zM2089.7 930.1h1.6v1.6h-1.6zM2103.9 929.8h1.6v1.6h-1.6zM2118.0 929.5h1.6v1.6h-1.6zM2132.2 929.2h1.6v1.6h-1.6zM2146.3 928.8h1.6v1.6h-1.6zM2160.4 928.4h1.6v1.6h-1.6zM2174.6 928.2h1.6v1.6h-1.6zM2188.7 928.0h1.6v1.6h-1.6zM2202.8 928.0h1.6v1.6h-1.6zM2217.0 928.0h1.6v1.6h-1.6zM2231.1 928.0h1.6v1.6h-1.6zM2245.2 928.0h1.6v1.6h-1.6zM2259.4 928.0h1.6v1.6h-1.6zM2273.5 928.0h1.6v1.6h-1.6zM2287.7 928.0h1.6v1.6h-1.6zM2301.8 928.0h1.6v1.6h-1.6zM2315.9 928.0h1.6v1.6h-1.6zM2330.1 928.0h1.6v1.6h-1.6zM2344.2 928.0h1.6v1.6h-1.6z" fill="#660066"/>
<path d="M220.4 998.4h8.2v8.2h-8.2zM234.5 998.4h8.2v8.2h-8.2zM248.7 998.4h8.2v8.2h-8.2zM262.8 998.4h8.2v8.2h-8.2zM276.9 998.4h8.2v8.2h-8.2zM291.1 998.4h8.2v8.2h-8.2zM305.2 998.4h8.2v8.2h-8.2zM319.4 998.4h8.2v8.2h-8.2zM333.5 998.4h8.2v8.2h-8.2zM347.6 998.4h8.2v8.2h-8.2zM361.8 998.4h8.2v8.2h-8.2zM375.9 998.4h8.2v8.2h-8.2zM390.0 998.4h8.2v8.2h-8.2zM404.2 998.4h8.2v8.2h-8.2zM418.3 998.4h8.2v8.2h-8.2zM432.4 998.4h8.2v8.2h-8.2zM446.6 998.4h8.2v8.2h-8.2zM460.7 998.4h8.2v8.2h-8.2zM474.9 998.3h8.2v8.2h-8.2zM489.0 998.3h8.2v8.2h-8.2zM503.1 998.3h8.2v8.2h-8.2zM517.3 998.3h8.2v8.2h-8.2zM531.4 998.3h8.2v8.2h-8.2zM545.5 998.3h8.2v8.2h-8.2zM559.7 998.3h8.2v8.2h-8.2zM573.8 998.3h8.2v8.2h-8.2zM588.0 998.3h8.2v8.2h-8.2zM602.1 998.3h8.2v8.2h-8.2zM616.2 998.3h8.2v8.2h-8.2zM630.4 998.2h8.2v8.2h-8.2zM644.5 998.2h8.2v8.2h-8.2zM658.6 998.2h8.2v8.2h-8.2zM672.8 998.2h8.2v8.2h-8.2zM686.9 998.2h8.2v8.2h-8.2zM701.0 998.2h8.2v8.2h-8.2zM715.2 998.2h8.2v8.2h-8.2zM729.3 998.1h8.2v8.2h-8.2zM743.5 998.1h8.2v8.2h-8.2zM757.6 998.1h8.2v8.2h-8.2zM771.7 998.1h8.2v8.2h-8.2zM785.9 998.1h8.2v8.2h-8.2zM800.0 998.1h8.2v8.2h-8.2zM814.1 998.0h8.2v8.2h-8.2zM828.3 998.0h8.2v8.2h-8.2zM842.4 998.0h8.2v8.2h-8.2zM856.5 998.0h8.2v8.2h-8.2zM870.7 997.9h8.2v8.2h-8.2zM884.8 997.9h8.2v8.2h-8.2zM899.0 997.9h8.2v8.2h-8.2zM913.1 997.8h8.2v8.2h-8.2zM927.2 997.7h8.2v8.2h-8.2zM941.4 997.5h8.2v8.2h-8.2zM955.5 997.2h8.2v8.2h-8.2zM969.6 997.0h8.2v8.2h-8.2zM983.8 996.7h8.2v8.2h-8.2zM997.9 996.3h8.2v8.2h-8.2zM1012.1 995.8h8.2v8.2h-8.2zM1026.2 995.1h8.2v8.2h-8.2zM1040.3 994.3h8.2v8.2h-8.2zM1054.5 993.4h8.2v8.2h-8.2zM1068.6 992.5h8.2v8.2h-8.2zM1082.7 991.5h8.2v8.2h-8.2zM1096.9 990.5h8.2v8.2h-8.2zM1111.0 989.5h8.2v8.2h-8.2zM1125.1 988.5h8.2v8.2h-8.2zM1139.3 987.4h8.2v8.2h-8.2zM1153.4 986.4h8.2v8.2h-8.2zM1167.6 985.5h8.2v8.2h-8.2zM1181.7 984.7h8.2v8.2h-8.2zM1195.8 983.7h8.2v8.2h-8.2zM1210.0 982.6h8.2v8.2h-8.2zM1224.1 981.2h8.2v8.2h-8.2zM1238.2 979.3h8.2v8.2h-8.2zM1252.4 977.0h8.2v8.2h-8.2zM1266.5 974.6h8.2v8.2h-8.2zM1280.7 972.5h8.2v8.2h-8.2zM1294.8 970.9h8.2v8.2h-8.2zM1308.9 969.7h8.2v8.2h-8.2zM1323.1 968.7h8.2v8.2h-8.2zM1337.2 967.4h8.2v8.2h-8.2zM1351.3 965.7h8.2v8.2h-8.2zM1365.5 963.5h8.2v8.2h-8.2zM1379.6 960.9h8.2v8.2h-8.2zM1393.7 957.9h8.2v8.2h-8.2zM1407.9 954.8h8.2v8.2h-8.2zM1422.0 951.8h8.2v8.2h-8.2zM1436.2 949.0h8.2v8.2h-8.2zM1450.3 946.3h8.2v8.2h-8.2zM1464.4 943.8h8.2v8.2h-8.2zM1478.6 941.1h8.2v8.2h-8.2zM1492.7 938.5h8.2v8.2h-8.2zM1506.8 935.9h8.2v8.2h-8.2zM1521.0 933.3h8.2v8.2h-8.2zM1535.1 930.7h8.2v8.2h-8.2zM1549.2 928.2h8.2v8.2h-8.2zM1563.4 925.6h8.2v8.2h-8.2zM1577.5 923.1h8.2v8.2h-8.2zM1591.7 920.6h8.2v8.2h-8.2zM1605.8 918.2h8.2v8.2h-8.2zM1619.9 915.8h8.2v8.2h-8.2zM1634.1 913.4h8.2v8.2h-8.2zM1648.2 911.1h8.2v8.2h-8.2zM1662.3 908.9h8.2v8.2h-8.2zM1676.5 906.7h8.2v8.2h-8.2zM1690.6 904.5h8.2v8.2h-8.2zM1704.8 902.3h8.2v8.2h-8.2zM1718.9 900.0h8.2v8.2h-8.2zM1733.0 897.7h8.2v8.2h-8.2zM1747.2 895.3h8.2v8.2h-8.2zM1761.3 892.9h8.2v8.2h-8.2zM1775.4 890.6h8.2v8.2h-8.2zM1789.6 888.5h8.2v8.2h-8.2zM1803.7 886.5h8.2v8.2h-8.2zM1817.8 884.7h8.2v8.2h-8.2zM1832.0 883.1h8.2v8.2h-8.2zM1846.1 881.7h8.2v8.2h-8.2zM1860.3 880.3h8.2v8.2h-8.2zM1874.4 878.8h8.2v8.2h-8.2zM1888.5 877.4h8.2v8.2h-8.2zM1902.7 875.8h8.2v8.2h-8.2zM1916.8 874.0h8.2v8.2h-8.2zM1930.9 872.1h8.2v8.2h-8.2zM1945.1 870.2h8.2v8.2h-8.2zM1959.2 868.5h8.2v8.2h-8.2zM1973.3 866.9h8.2v8.2h-8.2zM1987.5 865.6h8.2v8.2h-8.2zM2001.6 864.4h8.2v8.2h-8.2zM2015.8 863.3h8.2v8.2h-8.2zM2029.9 862.2h8.2v8.2h-8.2zM2044.0 861.1h8.2v8.2h-8.2zM2058.2 859.9h8.2v8.2h-8.2zM2072.3 858.6h8.2v8.2h-8.2zM2086.4 857.4h8.2v8.2h-8.2zM2100.6 856.3h8.2v8.2h-8.2zM2114.7 855.3h8.2v8.2h-8.2zM2128.9 854.3h8.2v8.2h-8.2zM2143.0 853.4h8.2v8.2h-8.2zM2157.1 852.6h8.2v8.2h-8.2zM2171.3 851.9h8.2v8.2h-8.2zM2185.4 851.3h8.2v8.2h-8.2zM2199.5 850.8h8.2v8.2h-8.2zM2213.7 850.3h8.2v8.2h-8.2zM2227.8 849.9h8.2v8.2h-8.2zM2241.9 849.7h8.2v8.2h-8.2zM2256.1 849.6h8.2v8.2h-8.2zM2270.2 849.6h8.2v8.2h-8.2zM2284.4 849.7h8.2v8.2h-8.2zM2298.5 849.8h8.2v8.2h-8.2zM2312.6 850.1h8.2v8.2h-8.2zM2326.8 850.5h8.2v8.2h-8.2zM2340.9 850.9h8.2v8.2h-8.2z" fill="none" stroke="#FFC20E" stroke-width="2.4"/>
<path d="M223.7 1001.7h1.6v1.6h-1.6zM237.8 1001.7h1.6v1.6h-1.6zM252.0 1001.7h1.6v1.6h-1.6zM266.1 1001.7h1.6v1.6h-1.6zM280.2 1001.7h1.6v1.6h-1.6zM294.4 1001.7h1.6v1.6h-1.6zM308.5 1001.7h1.6v1.6h-1.6zM322.7 1001.7h1.6v1.6h-1.6zM336.8 1001.7h1.6v1.6h-1.6zM350.9 1001.7h1.6v1.6h-1.6zM365.1 1001.7h1.6v1.6h-1.6zM379.2 1001.7h1.6v1.6h-1.6zM393.3 1001.7h1.6v1.6h-1.6zM407.5 1001.7h1.6v1.6h-1.6zM421.6 1001.7h1.6v1.6h-1.6zM435.7 1001.7h1.6v1.6h-1.6zM449.9 1001.7h1.6v1.6h-1.6zM464.0 1001.7h1.6v1.6h-1.6zM478.2 1001.6h1.6v1.6h-1.6zM492.3 1001.6h1.6v1.6h-1.6zM506.4 1001.6h1.6v1.6h-1.6zM520.6 1001.6h1.6v1.6h-1.6zM534.7 1001.6h1.6v1.6h-1.6zM548.8 1001.6h1.6v1.6h-1.6zM563.0 1001.6h1.6v1.6h-1.6zM577.1 1001.6h1.6v1.6h-1.6zM591.3 1001.6h1.6v1.6h-1.6zM605.4 1001.6h1.6v1.6h-1.6zM619.5 1001.6h1.6v1.6h-1.6zM633.7 1001.5h1.6v1.6h-1.6zM647.8 1001.5h1.6v1.6h-1.6zM661.9 1001.5h1.6v1.6h-1.6zM676.1 1001.5h1.6v1.6h-1.6zM690.2 1001.5h1.6v1.6h-1.6zM704.3 1001.5h1.6v1.6h-1.6zM718.5 1001.5h1.6v1.6h-1.6zM732.6 1001.4h1.6v1.6h-1.6zM746.8 1001.4h1.6v1.6h-1.6zM760.9 1001.4h1.6v1.6h-1.6zM775.0 1001.4h1.6v1.6h-1.6zM789.2 1001.4h1.6v1.6h-1.6zM803.3 1001.4h1.6v1.6h-1.6zM817.4 1001.3h1.6v1.6h-1.6zM831.6 1001.3h1.6v1.6h-1.6zM845.7 1001.3h1.6v1.6h-1.6zM859.8 1001.3h1.6v1.6h-1.6zM874.0 1001.2h1.6v1.6h-1.6zM888.1 1001.2h1.6v1.6h-1.6zM902.3 1001.2h1.6v1.6h-1.6zM916.4 1001.1h1.6v1.6h-1.6zM930.5 1001.0h1.6v1.6h-1.6zM944.7 1000.8h1.6v1.6h-1.6zM958.8 1000.5h1.6v1.6h-1.6zM972.9 1000.3h1.6v1.6h-1.6zM987.1 1000.0h1.6v1.6h-1.6zM1001.2 999.6h1.6v1.6h-1.6zM1015.4 999.1h1.6v1.6h-1.6zM1029.5 998.4h1.6v1.6h-1.6zM1043.6 997.6h1.6v1.6h-1.6zM1057.8 996.7h1.6v1.6h-1.6zM1071.9 995.8h1.6v1.6h-1.6zM1086.0 994.8h1.6v1.6h-1.6zM1100.2 993.8h1.6v1.6h-1.6zM1114.3 992.8h1.6v1.6h-1.6zM1128.4 991.8h1.6v1.6h-1.6zM1142.6 990.7h1.6v1.6h-1.6zM1156.7 989.7h1.6v1.6h-1.6zM1170.9 988.8h1.6v1.6h-1.6zM1185.0 988.0h1.6v1.6h-1.6zM1199.1 987.0h1.6v1.6h-1.6zM1213.3 985.9h1.6v1.6h-1.6zM1227.4 984.5h1.6v1.6h-1.6zM1241.5 982.6h1.6v1.6h-1.6zM1255.7 980.3h1.6v1.6h-1.6zM1269.8 977.9h1.6v1.6h-1.6zM1284.0 975.8h1.6v1.6h-1.6zM1298.1 974.2h1.6v1.6h-1.6zM1312.2 973.0h1.6v1.6h-1.6zM1326.4 972.0h1.6v1.6h-1.6zM1340.5 970.7h1.6v1.6h-1.6zM1354.6 969.0h1.6v1.6h-1.6zM1368.8 966.8h1.6v1.6h-1.6zM1382.9 964.2h1.6v1.6h-1.6zM1397.0 961.2h1.6v1.6h-1.6zM1411.2 958.1h1.6v1.6h-1.6zM1425.3 955.1h1.6v1.6h-1.6zM1439.5 952.3h1.6v1.6h-1.6zM1453.6 949.6h1.6v1.6h-1.6zM1467.7 947.1h1.6v1.6h-1.6zM1481.9 944.4h1.6v1.6h-1.6zM1496.0 941.8h1.6v1.6h-1.6zM1510.1 939.2h1.6v1.6h-1.6zM1524.3 936.6h1.6v1.6h-1.6zM1538.4 934.0h1.6v1.6h-1.6zM1552.5 931.5h1.6v1.6h-1.6zM1566.7 928.9h1.6v1.6h-1.6zM1580.8 926.4h1.6v1.6h-1.6zM1595.0 923.9h1.6v1.6h-1.6zM1609.1 921.5h1.6v1.6h-1.6zM1623.2 919.1h1.6v1.6h-1.6zM1637.4 916.7h1.6v1.6h-1.6zM1651.5 914.4h1.6v1.6h-1.6zM1665.6 912.2h1.6v1.6h-1.6zM1679.8 910.0h1.6v1.6h-1.6zM1693.9 907.8h1.6v1.6h-1.6zM1708.1 905.6h1.6v1.6h-1.6zM1722.2 903.3h1.6v1.6h-1.6zM1736.3 901.0h1.6v1.6h-1.6zM1750.5 898.6h1.6v1.6h-1.6zM1764.6 896.2h1.6v1.6h-1.6zM1778.7 893.9h1.6v1.6h-1.6zM1792.9 891.8h1.6v1.6h-1.6zM1807.0 889.8h1.6v1.6h-1.6zM1821.1 888.0h1.6v1.6h-1.6zM1835.3 886.4h1.6v1.6h-1.6zM1849.4 885.0h1.6v1.6h-1.6zM1863.6 883.6h1.6v1.6h-1.6zM1877.7 882.1h1.6v1.6h-1.6zM1891.8 880.7h1.6v1.6h-1.6zM1906.0 879.1h1.6v1.6h-1.6zM1920.1 877.3h1.6v1.6h-1.6zM1934.2 875.4h1.6v1.6h-1.6zM1948.4 873.5h1.6v1.6h-1.6zM1962.5 871.8h1.6v1.6h-1.6zM1976.6 870.2h1.6v1.6h-1.6zM1990.8 868.9h1.6v1.6h-1.6zM2004.9 867.7h1.6v1.6h-1.6zM2019.1 866.6h1.6v1.6h-1.6zM2033.2 865.5h1.6v1.6h-1.6zM2047.3 864.4h1.6v1.6h-1.6zM2061.5 863.2h1.6v1.6h-1.6zM2075.6 861.9h1.6v1.6h-1.6zM2089.7 860.7h1.6v1.6h-1.6zM2103.9 859.6h1.6v1.6h-1.6zM2118.0 858.6h1.6v1.6h-1.6zM2132.2 857.6h1.6v1.6h-1.6zM2146.3 856.7h1.6v1.6h-1.6zM2160.4 855.9h1.6v1.6h-1.6zM2174.6 855.2h1.6v1.6h-1.6zM2188.7 854.6h1.6v1.6h-1.6zM2202.8 854.1h1.6v1.6h-1.6zM2217.0 853.6h1.6v1.6h-1.6zM2231.1 853.2h1.6v1.6h-1.6zM2245.2 853.0h1.6v1.6h-1.6zM2259.4 852.9h1.6v1.6h-1.6zM2273.5 852.9h1.6v1.6h-1.6zM2287.7 853.0h1.6v1.6h-1.6zM2301.8 853.1h1.6v1.6h-1.6zM2315.9 853.4h1.6v1.6h-1.6zM2330.1 853.8h1.6v1.6h-1.6zM2344.2 854.2h1.6v1.6h-1.6z" fill="#FFC20E"/>
<path d="M220.4 998.4h8.2v8.2h-8.2zM234.5 998.4h8.2v8.2h-8.2zM248.7 998.4h8.2v8.2h-8.2zM262.8 998.4h8.2v8.2h-8.2zM276.9 998.4h8.2v8.2h-8.2zM291.1 998.4h8.2v8.2h-8.2zM305.2 998.4h8.2v8.2h-8.2zM319.4 998.4h8.2v8.2h-8.2zM333.5 998.4h8.2v8.2h-8.2zM347.6 998.4h8.2v8.2h-8.2zM361.8 998.4h8.2v8.2h-8.2zM375.9 998.4h8.2v8.2h-8.2zM390.0 998.4h8.2v8.2h-8.2zM404.2 998.4h8.2v8.2h-8.2zM418.3 998.4h8.2v8.2h-8.2zM432.4 998.4h8.2v8.2h-8.2zM446.6 998.4h8.2v8.2h-8.2zM460.7 998.4h8.2v8.2h-8.2zM474.9 998.4h8.2v8.2h-8.2zM489.0 998.3h8.2v8.2h-8.2zM503.1 998.3h8.2v8.2h-8.2zM517.3 998.3h8.2v8.2h-8.2zM531.4 998.3h8.2v8.2h-8.2zM545.5 998.3h8.2v8.2h-8.2zM559.7 998.3h8.2v8.2h-8.2zM573.8 998.3h8.2v8.2h-8.2zM588.0 998.3h8.2v8.2h-8.2zM602.1 998.3h8.2v8.2h-8.2zM616.2 998.3h8.2v8.2h-8.2zM630.4 998.3h8.2v8.2h-8.2zM644.5 998.2h8.2v8.2h-8.2zM658.6 998.2h8.2v8.2h-8.2zM672.8 998.2h8.2v8.2h-8.2zM686.9 998.2h8.2v8.2h-8.2zM701.0 998.2h8.2v8.2h-8.2zM715.2 998.2h8.2v8.2h-8.2zM729.3 998.2h8.2v8.2h-8.2zM743.5 998.1h8.2v8.2h-8.2zM757.6 998.1h8.2v8.2h-8.2zM771.7 998.1h8.2v8.2h-8.2zM785.9 998.1h8.2v8.2h-8.2zM800.0 998.1h8.2v8.2h-8.2zM814.1 998.0h8.2v8.2h-8.2zM828.3 998.0h8.2v8.2h-8.2zM842.4 998.0h8.2v8.2h-8.2zM856.5 998.0h8.2v8.2h-8.2zM870.7 997.9h8.2v8.2h-8.2zM884.8 997.9h8.2v8.2h-8.2zM899.0 997.9h8.2v8.2h-8.2zM913.1 997.8h8.2v8.2h-8.2zM927.2 997.6h8.2v8.2h-8.2zM941.4 997.3h8.2v8.2h-8.2zM955.5 997.0h8.2v8.2h-8.2zM969.6 996.7h8.2v8.2h-8.2zM983.8 996.3h8.2v8.2h-8.2zM997.9 995.7h8.2v8.2h-8.2zM1012.1 995.0h8.2v8.2h-8.2zM1026.2 994.1h8.2v8.2h-8.2zM1040.3 992.9h8.2v8.2h-8.2zM1054.5 991.6h8.2v8.2h-8.2zM1068.6 990.2h8.2v8.2h-8.2zM1082.7 988.8h8.2v8.2h-8.2zM1096.9 987.4h8.2v8.2h-8.2zM1111.0 985.8h8.2v8.2h-8.2zM1125.1 984.3h8.2v8.2h-8.2zM1139.3 982.7h8.2v8.2h-8.2zM1153.4 981.1h8.2v8.2h-8.2zM1167.6 979.5h8.2v8.2h-8.2zM1181.7 978.0h8.2v8.2h-8.2zM1195.8 976.5h8.2v8.2h-8.2zM1210.0 975.0h8.2v8.2h-8.2zM1224.1 973.5h8.2v8.2h-8.2zM1238.2 972.0h8.2v8.2h-8.2zM1252.4 970.1h8.2v8.2h-8.2zM1266.5 967.2h8.2v8.2h-8.2zM1280.7 963.6h8.2v8.2h-8.2zM1294.8 959.5h8.2v8.2h-8.2zM1308.9 955.2h8.2v8.2h-8.2zM1323.1 950.8h8.2v8.2h-8.2zM1337.2 946.4h8.2v8.2h-8.2zM1351.3 942.1h8.2v8.2h-8.2zM1365.5 937.7h8.2v8.2h-8.2zM1379.6 933.3h8.2v8.2h-8.2zM1393.7 928.9h8.2v8.2h-8.2zM1407.9 924.3h8.2v8.2h-8.2zM1422.0 919.8h8.2v8.2h-8.2zM1436.2 915.2h8.2v8.2h-8.2zM1450.3 910.7h8.2v8.2h-8.2zM1464.4 906.1h8.2v8.2h-8.2zM1478.6 901.4h8.2v8.2h-8.2zM1492.7 896.5h8.2v8.2h-8.2zM1506.8 891.5h8.2v8.2h-8.2zM1521.0 886.2h8.2v8.2h-8.2zM1535.1 880.8h8.2v8.2h-8.2zM1549.2 875.2h8.2v8.2h-8.2zM1563.4 869.6h8.2v8.2h-8.2zM1577.5 864.0h8.2v8.2h-8.2zM1591.7 858.4h8.2v8.2h-8.2zM1605.8 852.9h8.2v8.2h-8.2zM1619.9 847.4h8.2v8.2h-8.2zM1634.1 842.3h8.2v8.2h-8.2zM1648.2 837.5h8.2v8.2h-8.2zM1662.3 833.3h8.2v8.2h-8.2zM1676.5 829.4h8.2v8.2h-8.2zM1690.6 825.5h8.2v8.2h-8.2zM1704.8 821.6h8.2v8.2h-8.2zM1718.9 817.5h8.2v8.2h-8.2zM1733.0 813.2h8.2v8.2h-8.2zM1747.2 808.8h8.2v8.2h-8.2zM1761.3 804.4h8.2v8.2h-8.2zM1775.4 800.0h8.2v8.2h-8.2zM1789.6 795.6h8.2v8.2h-8.2zM1803.7 791.3h8.2v8.2h-8.2zM1817.8 787.2h8.2v8.2h-8.2zM1832.0 783.1h8.2v8.2h-8.2zM1846.1 779.1h8.2v8.2h-8.2zM1860.3 775.1h8.2v8.2h-8.2zM1874.4 771.3h8.2v8.2h-8.2zM1888.5 767.5h8.2v8.2h-8.2zM1902.7 763.9h8.2v8.2h-8.2zM1916.8 760.4h8.2v8.2h-8.2zM1930.9 757.0h8.2v8.2h-8.2zM1945.1 753.7h8.2v8.2h-8.2zM1959.2 750.6h8.2v8.2h-8.2zM1973.3 747.5h8.2v8.2h-8.2zM1987.5 744.7h8.2v8.2h-8.2zM2001.6 741.9h8.2v8.2h-8.2zM2015.8 739.2h8.2v8.2h-8.2zM2029.9 736.5h8.2v8.2h-8.2zM2044.0 733.8h8.2v8.2h-8.2zM2058.2 731.2h8.2v8.2h-8.2zM2072.3 728.4h8.2v8.2h-8.2zM2086.4 725.8h8.2v8.2h-8.2zM2100.6 723.3h8.2v8.2h-8.2zM2114.7 721.0h8.2v8.2h-8.2zM2128.9 718.8h8.2v8.2h-8.2zM2143.0 716.8h8.2v8.2h-8.2zM2157.1 715.0h8.2v8.2h-8.2zM2171.3 713.3h8.2v8.2h-8.2zM2185.4 711.6h8.2v8.2h-8.2zM2199.5 710.0h8.2v8.2h-8.2zM2213.7 708.5h8.2v8.2h-8.2zM2227.8 707.1h8.2v8.2h-8.2zM2241.9 706.2h8.2v8.2h-8.2zM2256.1 705.8h8.2v8.2h-8.2zM2270.2 705.6h8.2v8.2h-8.2zM2284.4 705.6h8.2v8.2h-8.2zM2298.5 705.6h8.2v8.2h-8.2zM2312.6 705.6h8.2v8.2h-8.2zM2326.8 705.6h8.2v8.2h-8.2zM2340.9 705.6h8.2v8.2h-8.2z" fill="none" stroke="#FF9A9A" stroke-width="2.4"/>
<path d="M223.7 1001.7h1.6v1.6h-1.6zM237.8 1001.7h1.6v1.6h-1.6zM252.0 1001.7h1.6v1.6h-1.6zM266.1 1001.7h1.6v1.6h-1.6zM280.2 1001.7h1.6v1.6h-1.6zM294.4 1001.7h1.6v1.6h-1.6zM308.5 1001.7h1.6v1.6h-1.6zM322.7 1001.7h1.6v1.6h-1.6zM336.8 1001.7h1.6v1.6h-1.6zM350.9 1001.7h1.6v1.6h-1.6zM365.1 1001.7h1.6v1.6h-1.6zM379.2 1001.7h1.6v1.6h-1.6zM393.3 1001.7h1.6v1.6h-1.6zM407.5 1001.7h1.6v1.6h-1.6zM421.6 1001.7h1.6v1.6h-1.6zM435.7 1001.7h1.6v1.6h-1.6zM449.9 1001.7h1.6v1.6h-1.6zM464.0 1001.7h1.6v1.6h-1.6zM478.2 1001.7h1.6v1.6h-1.6zM492.3 1001.6h1.6v1.6h-1.6zM506.4 1001.6h1.6v1.6h-1.6zM520.6 1001.6h1.6v1.6h-1.6zM534.7 1001.6h1.6v1.6h-1.6zM548.8 1001.6h1.6v1.6h-1.6zM563.0 1001.6h1.6v1.6h-1.6zM577.1 1001.6h1.6v1.6h-1.6zM591.3 1001.6h1.6v1.6h-1.6zM605.4 1001.6h1.6v1.6h-1.6zM619.5 1001.6h1.6v1.6h-1.6zM633.7 1001.6h1.6v1.6h-1.6zM647.8 1001.5h1.6v1.6h-1.6zM661.9 1001.5h1.6v1.6h-1.6zM676.1 1001.5h1.6v1.6h-1.6zM690.2 1001.5h1.6v1.6h-1.6zM704.3 1001.5h1.6v1.6h-1.6zM718.5 1001.5h1.6v1.6h-1.6zM732.6 1001.5h1.6v1.6h-1.6zM746.8 1001.4h1.6v1.6h-1.6zM760.9 1001.4h1.6v1.6h-1.6zM775.0 1001.4h1.6v1.6h-1.6zM789.2 1001.4h1.6v1.6h-1.6zM803.3 1001.4h1.6v1.6h-1.6zM817.4 1001.3h1.6v1.6h-1.6zM831.6 1001.3h1.6v1.6h-1.6zM845.7 1001.3h1.6v1.6h-1.6zM859.8 1001.3h1.6v1.6h-1.6zM874.0 1001.2h1.6v1.6h-1.6zM888.1 1001.2h1.6v1.6h-1.6zM902.3 1001.2h1.6v1.6h-1.6zM916.4 1001.1h1.6v1.6h-1.6zM930.5 1000.9h1.6v1.6h-1.6zM944.7 1000.6h1.6v1.6h-1.6zM958.8 1000.3h1.6v1.6h-1.6zM972.9 1000.0h1.6v1.6h-1.6zM987.1 999.6h1.6v1.6h-1.6zM1001.2 999.0h1.6v1.6h-1.6zM1015.4 998.3h1.6v1.6h-1.6zM1029.5 997.4h1.6v1.6h-1.6zM1043.6 996.2h1.6v1.6h-1.6zM1057.8 994.9h1.6v1.6h-1.6zM1071.9 993.5h1.6v1.6h-1.6zM1086.0 992.1h1.6v1.6h-1.6zM1100.2 990.7h1.6v1.6h-1.6zM1114.3 989.1h1.6v1.6h-1.6zM1128.4 987.6h1.6v1.6h-1.6zM1142.6 986.0h1.6v1.6h-1.6zM1156.7 984.4h1.6v1.6h-1.6zM1170.9 982.8h1.6v1.6h-1.6zM1185.0 981.3h1.6v1.6h-1.6zM1199.1 979.8h1.6v1.6h-1.6zM1213.3 978.3h1.6v1.6h-1.6zM1227.4 976.8h1.6v1.6h-1.6zM1241.5 975.3h1.6v1.6h-1.6zM1255.7 973.4h1.6v1.6h-1.6zM1269.8 970.5h1.6v1.6h-1.6zM1284.0 966.9h1.6v1.6h-1.6zM1298.1 962.8h1.6v1.6h-1.6zM1312.2 958.5h1.6v1.6h-1.6zM1326.4 954.1h1.6v1.6h-1.6zM1340.5 949.7h1.6v1.6h-1.6zM1354.6 945.4h1.6v1.6h-1.6zM1368.8 941.0h1.6v1.6h-1.6zM1382.9 936.6h1.6v1.6h-1.6zM1397.0 932.2h1.6v1.6h-1.6zM1411.2 927.6h1.6v1.6h-1.6zM1425.3 923.1h1.6v1.6h-1.6zM1439.5 918.5h1.6v1.6h-1.6zM1453.6 914.0h1.6v1.6h-1.6zM1467.7 909.4h1.6v1.6h-1.6zM1481.9 904.7h1.6v1.6h-1.6zM1496.0 899.8h1.6v1.6h-1.6zM1510.1 894.8h1.6v1.6h-1.6zM1524.3 889.5h1.6v1.6h-1.6zM1538.4 884.1h1.6v1.6h-1.6zM1552.5 878.5h1.6v1.6h-1.6zM1566.7 872.9h1.6v1.6h-1.6zM1580.8 867.3h1.6v1.6h-1.6zM1595.0 861.7h1.6v1.6h-1.6zM1609.1 856.2h1.6v1.6h-1.6zM1623.2 850.7h1.6v1.6h-1.6zM1637.4 845.6h1.6v1.6h-1.6zM1651.5 840.8h1.6v1.6h-1.6zM1665.6 836.6h1.6v1.6h-1.6zM1679.8 832.7h1.6v1.6h-1.6zM1693.9 828.8h1.6v1.6h-1.6zM1708.1 824.9h1.6v1.6h-1.6zM1722.2 820.8h1.6v1.6h-1.6zM1736.3 816.5h1.6v1.6h-1.6zM1750.5 812.1h1.6v1.6h-1.6zM1764.6 807.7h1.6v1.6h-1.6zM1778.7 803.3h1.6v1.6h-1.6zM1792.9 798.9h1.6v1.6h-1.6zM1807.0 794.6h1.6v1.6h-1.6zM1821.1 790.5h1.6v1.6h-1.6zM1835.3 786.4h1.6v1.6h-1.6zM1849.4 782.4h1.6v1.6h-1.6zM1863.6 778.4h1.6v1.6h-1.6zM1877.7 774.6h1.6v1.6h-1.6zM1891.8 770.8h1.6v1.6h-1.6zM1906.0 767.2h1.6v1.6h-1.6zM1920.1 763.7h1.6v1.6h-1.6zM1934.2 760.3h1.6v1.6h-1.6zM1948.4 757.0h1.6v1.6h-1.6zM1962.5 753.9h1.6v1.6h-1.6zM1976.6 750.8h1.6v1.6h-1.6zM1990.8 748.0h1.6v1.6h-1.6zM2004.9 745.2h1.6v1.6h-1.6zM2019.1 742.5h1.6v1.6h-1.6zM2033.2 739.8h1.6v1.6h-1.6zM2047.3 737.1h1.6v1.6h-1.6zM2061.5 734.5h1.6v1.6h-1.6zM2075.6 731.7h1.6v1.6h-1.6zM2089.7 729.1h1.6v1.6h-1.6zM2103.9 726.6h1.6v1.6h-1.6zM2118.0 724.3h1.6v1.6h-1.6zM2132.2 722.1h1.6v1.6h-1.6zM2146.3 720.1h1.6v1.6h-1.6zM2160.4 718.3h1.6v1.6h-1.6zM2174.6 716.6h1.6v1.6h-1.6zM2188.7 714.9h1.6v1.6h-1.6zM2202.8 713.3h1.6v1.6h-1.6zM2217.0 711.8h1.6v1.6h-1.6zM2231.1 710.4h1.6v1.6h-1.6zM2245.2 709.5h1.6v1.6h-1.6zM2259.4 709.1h1.6v1.6h-1.6zM2273.5 708.9h1.6v1.6h-1.6zM2287.7 708.9h1.6v1.6h-1.6zM2301.8 708.9h1.6v1.6h-1.6zM2315.9 708.9h1.6v1.6h-1.6zM2330.1 708.9h1.6v1.6h-1.6zM2344.2 708.9h1.6v1.6h-1.6z" fill="#FF9A9A"/>
<path d="M220.4 998.4h8.2v8.2h-8.2zM234.5 998.4h8.2v8.2h-8.2zM248.7 998.4h8.2v8.2h-8.2zM262.8 998.4h8.2v8.2h-8.2zM276.9 998.4h8.2v8.2h-8.2zM291.1 998.4h8.2v8.2h-8.2zM305.2 998.4h8.2v8.2h-8.2zM319.4 998.4h8.2v8.2h-8.2zM333.5 998.4h8.2v8.2h-8.2zM347.6 998.4h8.2v8.2h-8.2zM361.8 998.4h8.2v8.2h-8.2zM375.9 998.4h8.2v8.2h-8.2zM390.0 998.4h8.2v8.2h-8.2zM404.2 998.4h8.2v8.2h-8.2zM418.3 998.4h8.2v8.2h-8.2zM432.4 998.4h8.2v8.2h-8.2zM446.6 998.4h8.2v8.2h-8.2zM460.7 998.4h8.2v8.2h-8.2zM474.9 998.4h8.2v8.2h-8.2zM489.0 998.3h8.2v8.2h-8.2zM503.1 998.3h8.2v8.2h-8.2zM517.3 998.3h8.2v8.2h-8.2zM531.4 998.3h8.2v8.2h-8.2zM545.5 998.3h8.2v8.2h-8.2zM559.7 998.3h8.2v8.2h-8.2zM573.8 998.3h8.2v8.2h-8.2zM588.0 998.3h8.2v8.2h-8.2zM602.1 998.3h8.2v8.2h-8.2zM616.2 998.3h8.2v8.2h-8.2zM630.4 998.3h8.2v8.2h-8.2zM644.5 998.2h8.2v8.2h-8.2zM658.6 998.2h8.2v8.2h-8.2zM672.8 998.2h8.2v8.2h-8.2zM686.9 998.2h8.2v8.2h-8.2zM701.0 998.2h8.2v8.2h-8.2zM715.2 998.2h8.2v8.2h-8.2zM729.3 998.2h8.2v8.2h-8.2zM743.5 998.1h8.2v8.2h-8.2zM757.6 998.1h8.2v8.2h-8.2zM771.7 998.1h8.2v8.2h-8.2zM785.9 998.1h8.2v8.2h-8.2zM800.0 998.1h8.2v8.2h-8.2zM814.1 998.0h8.2v8.2h-8.2zM828.3 998.0h8.2v8.2h-8.2zM842.4 998.0h8.2v8.2h-8.2zM856.5 998.0h8.2v8.2h-8.2zM870.7 997.9h8.2v8.2h-8.2zM884.8 997.9h8.2v8.2h-8.2zM899.0 997.9h8.2v8.2h-8.2zM913.1 997.7h8.2v8.2h-8.2zM927.2 997.5h8.2v8.2h-8.2zM941.4 997.2h8.2v8.2h-8.2zM955.5 996.8h8.2v8.2h-8.2zM969.6 996.4h8.2v8.2h-8.2zM983.8 995.8h8.2v8.2h-8.2zM997.9 995.2h8.2v8.2h-8.2zM1012.1 994.3h8.2v8.2h-8.2zM1026.2 993.2h8.2v8.2h-8.2zM1040.3 991.8h8.2v8.2h-8.2zM1054.5 990.3h8.2v8.2h-8.2zM1068.6 988.6h8.2v8.2h-8.2zM1082.7 987.0h8.2v8.2h-8.2zM1096.9 985.3h8.2v8.2h-8.2zM1111.0 983.5h8.2v8.2h-8.2zM1125.1 981.7h8.2v8.2h-8.2zM1139.3 979.8h8.2v8.2h-8.2zM1153.4 977.9h8.2v8.2h-8.2zM1167.6 976.0h8.2v8.2h-8.2zM1181.7 974.0h8.2v8.2h-8.2zM1195.8 971.9h8.2v8.2h-8.2zM1210.0 969.5h8.2v8.2h-8.2zM1224.1 966.8h8.2v8.2h-8.2zM1238.2 963.5h8.2v8.2h-8.2zM1252.4 959.8h8.2v8.2h-8.2zM1266.5 956.0h8.2v8.2h-8.2zM1280.7 952.0h8.2v8.2h-8.2zM1294.8 947.6h8.2v8.2h-8.2zM1308.9 942.7h8.2v8.2h-8.2zM1323.1 937.3h8.2v8.2h-8.2zM1337.2 932.0h8.2v8.2h-8.2zM1351.3 926.8h8.2v8.2h-8.2zM1365.5 921.3h8.2v8.2h-8.2zM1379.6 915.4h8.2v8.2h-8.2zM1393.7 909.1h8.2v8.2h-8.2zM1407.9 902.6h8.2v8.2h-8.2zM1422.0 896.2h8.2v8.2h-8.2zM1436.2 889.9h8.2v8.2h-8.2zM1450.3 883.3h8.2v8.2h-8.2zM1464.4 876.3h8.2v8.2h-8.2zM1478.6 869.1h8.2v8.2h-8.2zM1492.7 862.2h8.2v8.2h-8.2zM1506.8 855.2h8.2v8.2h-8.2zM1521.0 848.1h8.2v8.2h-8.2zM1535.1 840.8h8.2v8.2h-8.2zM1549.2 833.3h8.2v8.2h-8.2zM1563.4 825.8h8.2v8.2h-8.2zM1577.5 818.3h8.2v8.2h-8.2zM1591.7 810.9h8.2v8.2h-8.2zM1605.8 803.6h8.2v8.2h-8.2zM1619.9 796.4h8.2v8.2h-8.2zM1634.1 789.2h8.2v8.2h-8.2zM1648.2 782.2h8.2v8.2h-8.2zM1662.3 775.3h8.2v8.2h-8.2zM1676.5 768.7h8.2v8.2h-8.2zM1690.6 762.3h8.2v8.2h-8.2zM1704.8 755.6h8.2v8.2h-8.2zM1718.9 748.3h8.2v8.2h-8.2zM1733.0 741.1h8.2v8.2h-8.2zM1747.2 734.4h8.2v8.2h-8.2zM1761.3 727.8h8.2v8.2h-8.2zM1775.4 721.2h8.2v8.2h-8.2zM1789.6 714.6h8.2v8.2h-8.2zM1803.7 708.1h8.2v8.2h-8.2zM1817.8 701.8h8.2v8.2h-8.2zM1832.0 695.5h8.2v8.2h-8.2zM1846.1 689.3h8.2v8.2h-8.2zM1860.3 683.2h8.2v8.2h-8.2zM1874.4 677.2h8.2v8.2h-8.2zM1888.5 671.3h8.2v8.2h-8.2zM1902.7 665.7h8.2v8.2h-8.2zM1916.8 660.2h8.2v8.2h-8.2zM1930.9 654.9h8.2v8.2h-8.2zM1945.1 649.7h8.2v8.2h-8.2zM1959.2 644.6h8.2v8.2h-8.2zM1973.3 639.5h8.2v8.2h-8.2zM1987.5 634.4h8.2v8.2h-8.2zM2001.6 629.3h8.2v8.2h-8.2zM2015.8 624.3h8.2v8.2h-8.2zM2029.9 619.6h8.2v8.2h-8.2zM2044.0 615.3h8.2v8.2h-8.2zM2058.2 611.4h8.2v8.2h-8.2zM2072.3 607.8h8.2v8.2h-8.2zM2086.4 604.5h8.2v8.2h-8.2zM2100.6 601.1h8.2v8.2h-8.2zM2114.7 597.7h8.2v8.2h-8.2zM2128.9 594.1h8.2v8.2h-8.2zM2143.0 590.4h8.2v8.2h-8.2zM2157.1 586.9h8.2v8.2h-8.2zM2171.3 583.5h8.2v8.2h-8.2zM2185.4 580.5h8.2v8.2h-8.2zM2199.5 577.7h8.2v8.2h-8.2zM2213.7 575.1h8.2v8.2h-8.2zM2227.8 572.7h8.2v8.2h-8.2zM2241.9 570.5h8.2v8.2h-8.2zM2256.1 568.4h8.2v8.2h-8.2zM2270.2 566.5h8.2v8.2h-8.2zM2284.4 564.7h8.2v8.2h-8.2zM2298.5 563.4h8.2v8.2h-8.2zM2312.6 562.9h8.2v8.2h-8.2zM2326.8 563.3h8.2v8.2h-8.2zM2340.9 564.2h8.2v8.2h-8.2z" fill="none" stroke="#202020" stroke-width="2.4"/>
<path d="M223.7 1001.7h1.6v1.6h-1.6zM237.8 1001.7h1.6v1.6h-1.6zM252.0 1001.7h1.6v1.6h-1.6zM266.1 1001.7h1.6v1.6h-1.6zM280.2 1001.7h1.6v1.6h-1.6zM294.4 1001.7h1.6v1.6h-1.6zM308.5 1001.7h1.6v1.6h-1.6zM322.7 1001.7h1.6v1.6h-1.6zM336.8 1001.7h1.6v1.6h-1.6zM350.9 1001.7h1.6v1.6h-1.6zM365.1 1001.7h1.6v1.6h-1.6zM379.2 1001.7h1.6v1.6h-1.6zM393.3 1001.7h1.6v1.6h-1.6zM407.5 1001.7h1.6v1.6h-1.6zM421.6 1001.7h1.6v1.6h-1.6zM435.7 1001.7h1.6v1.6h-1.6zM449.9 1001.7h1.6v1.6h-1.6zM464.0 1001.7h1.6v1.6h-1.6zM478.2 1001.7h1.6v1.6h-1.6zM492.3 1001.6h1.6v1.6h-1.6zM506.4 1001.6h1.6v1.6h-1.6zM520.6 1001.6h1.6v1.6h-1.6zM534.7 1001.6h1.6v1.6h-1.6zM548.8 1001.6h1.6v1.6h-1.6zM563.0 1001.6h1.6v1.6h-1.6zM577.1 1001.6h1.6v1.6h-1.6zM591.3 1001.6h1.6v1.6h-1.6zM605.4 1001.6h1.6v1.6h-1.6zM619.5 1001.6h1.6v1.6h-1.6zM633.7 1001.6h1.6v1.6h-1.6zM647.8 1001.5h1.6v1.6h-1.6zM661.9 1001.5h1.6v1.6h-1.6zM676.1 1001.5h1.6v1.6h-1.6zM690.2 1001.5h1.6v1.6h-1.6zM704.3 1001.5h1.6v1.6h-1.6zM718.5 1001.5h1.6v1.6h-1.6zM732.6 1001.5h1.6v1.6h-1.6zM746.8 1001.4h1.6v1.6h-1.6zM760.9 1001.4h1.6v1.6h-1.6zM775.0 1001.4h1.6v1.6h-1.6zM789.2 1001.4h1.6v1.6h-1.6zM803.3 1001.4h1.6v1.6h-1.6zM817.4 1001.3h1.6v1.6h-1.6zM831.6 1001.3h1.6v1.6h-1.6zM845.7 1001.3h1.6v1.6h-1.6zM859.8 1001.3h1.6v1.6h-1.6zM874.0 1001.2h1.6v1.6h-1.6zM888.1 1001.2h1.6v1.6h-1.6zM902.3 1001.2h1.6v1.6h-1.6zM916.4 1001.0h1.6v1.6h-1.6zM930.5 1000.8h1.6v1.6h-1.6zM944.7 1000.5h1.6v1.6h-1.6zM958.8 1000.1h1.6v1.6h-1.6zM972.9 999.7h1.6v1.6h-1.6zM987.1 999.1h1.6v1.6h-1.6zM1001.2 998.5h1.6v1.6h-1.6zM1015.4 997.6h1.6v1.6h-1.6zM1029.5 996.5h1.6v1.6h-1.6zM1043.6 995.1h1.6v1.6h-1.6zM1057.8 993.6h1.6v1.6h-1.6zM1071.9 991.9h1.6v1.6h-1.6zM1086.0 990.3h1.6v1.6h-1.6zM1100.2 988.6h1.6v1.6h-1.6zM1114.3 986.8h1.6v1.6h-1.6zM1128.4 985.0h1.6v1.6h-1.6zM1142.6 983.1h1.6v1.6h-1.6zM1156.7 981.2h1.6v1.6h-1.6zM1170.9 979.3h1.6v1.6h-1.6zM1185.0 977.3h1.6v1.6h-1.6zM1199.1 975.2h1.6v1.6h-1.6zM1213.3 972.8h1.6v1.6h-1.6zM1227.4 970.1h1.6v1.6h-1.6zM1241.5 966.8h1.6v1.6h-1.6zM1255.7 963.1h1.6v1.6h-1.6zM1269.8 959.3h1.6v1.6h-1.6zM1284.0 955.3h1.6v1.6h-1.6zM1298.1 950.9h1.6v1.6h-1.6zM1312.2 946.0h1.6v1.6h-1.6zM1326.4 940.6h1.6v1.6h-1.6zM1340.5 935.3h1.6v1.6h-1.6zM1354.6 930.1h1.6v1.6h-1.6zM1368.8 924.6h1.6v1.6h-1.6zM1382.9 918.7h1.6v1.6h-1.6zM1397.0 912.4h1.6v1.6h-1.6zM1411.2 905.9h1.6v1.6h-1.6zM1425.3 899.5h1.6v1.6h-1.6zM1439.5 893.2h1.6v1.6h-1.6zM1453.6 886.6h1.6v1.6h-1.6zM1467.7 879.6h1.6v1.6h-1.6zM1481.9 872.4h1.6v1.6h-1.6zM1496.0 865.5h1.6v1.6h-1.6zM1510.1 858.5h1.6v1.6h-1.6zM1524.3 851.4h1.6v1.6h-1.6zM1538.4 844.1h1.6v1.6h-1.6zM1552.5 836.6h1.6v1.6h-1.6zM1566.7 829.1h1.6v1.6h-1.6zM1580.8 821.6h1.6v1.6h-1.6zM1595.0 814.2h1.6v1.6h-1.6zM1609.1 806.9h1.6v1.6h-1.6zM1623.2 799.7h1.6v1.6h-1.6zM1637.4 792.5h1.6v1.6h-1.6zM1651.5 785.5h1.6v1.6h-1.6zM1665.6 778.6h1.6v1.6h-1.6zM1679.8 772.0h1.6v1.6h-1.6zM1693.9 765.6h1.6v1.6h-1.6zM1708.1 758.9h1.6v1.6h-1.6zM1722.2 751.6h1.6v1.6h-1.6zM1736.3 744.4h1.6v1.6h-1.6zM1750.5 737.7h1.6v1.6h-1.6zM1764.6 731.1h1.6v1.6h-1.6zM1778.7 724.5h1.6v1.6h-1.6zM1792.9 717.9h1.6v1.6h-1.6zM1807.0 711.4h1.6v1.6h-1.6zM1821.1 705.1h1.6v1.6h-1.6zM1835.3 698.8h1.6v1.6h-1.6zM1849.4 692.6h1.6v1.6h-1.6zM1863.6 686.5h1.6v1.6h-1.6zM1877.7 680.5h1.6v1.6h-1.6zM1891.8 674.6h1.6v1.6h-1.6zM1906.0 669.0h1.6v1.6h-1.6zM1920.1 663.5h1.6v1.6h-1.6zM1934.2 658.2h1.6v1.6h-1.6zM1948.4 653.0h1.6v1.6h-1.6zM1962.5 647.9h1.6v1.6h-1.6zM1976.6 642.8h1.6v1.6h-1.6zM1990.8 637.7h1.6v1.6h-1.6zM2004.9 632.6h1.6v1.6h-1.6zM2019.1 627.6h1.6v1.6h-1.6zM2033.2 622.9h1.6v1.6h-1.6zM2047.3 618.6h1.6v1.6h-1.6zM2061.5 614.7h1.6v1.6h-1.6zM2075.6 611.1h1.6v1.6h-1.6zM2089.7 607.8h1.6v1.6h-1.6zM2103.9 604.4h1.6v1.6h-1.6zM2118.0 601.0h1.6v1.6h-1.6zM2132.2 597.4h1.6v1.6h-1.6zM2146.3 593.7h1.6v1.6h-1.6zM2160.4 590.2h1.6v1.6h-1.6zM2174.6 586.8h1.6v1.6h-1.6zM2188.7 583.8h1.6v1.6h-1.6zM2202.8 581.0h1.6v1.6h-1.6zM2217.0 578.4h1.6v1.6h-1.6zM2231.1 576.0h1.6v1.6h-1.6zM2245.2 573.8h1.6v1.6h-1.6zM2259.4 571.7h1.6v1.6h-1.6zM2273.5 569.8h1.6v1.6h-1.6zM2287.7 568.0h1.6v1.6h-1.6zM2301.8 566.7h1.6v1.6h-1.6zM2315.9 566.2h1.6v1.6h-1.6zM2330.1 566.6h1.6v1.6h-1.6zM2344.2 567.5h1.6v1.6h-1.6z" fill="#202020"/>
<path d="M220.4 998.4h8.2v8.2h-8.2zM234.5 998.4h8.2v8.2h-8.2zM248.7 998.4h8.2v8.2h-8.2zM262.8 998.4h8.2v8.2h-8.2zM276.9 998.4h8.2v8.2h-8.2zM291.1 998.4h8.2v8.2h-8.2zM305.2 998.4h8.2v8.2h-8.2zM319.4 998.4h8.2v8.2h-8.2zM333.5 998.4h8.2v8.2h-8.2zM347.6 998.4h8.2v8.2h-8.2zM361.8 998.4h8.2v8.2h-8.2zM375.9 998.4h8.2v8.2h-8.2zM390.0 998.4h8.2v8.2h-8.2zM404.2 998.4h8.2v8.2h-8.2zM418.3 998.4h8.2v8.2h-8.2zM432.4 998.4h8.2v8.2h-8.2zM446.6 998.4h8.2v8.2h-8.2zM460.7 998.4h8.2v8.2h-8.2zM474.9 998.4h8.2v8.2h-8.2zM489.0 998.3h8.2v8.2h-8.2zM503.1 998.3h8.2v8.2h-8.2zM517.3 998.3h8.2v8.2h-8.2zM531.4 998.3h8.2v8.2h-8.2zM545.5 998.3h8.2v8.2h-8.2zM559.7 998.3h8.2v8.2h-8.2zM573.8 998.3h8.2v8.2h-8.2zM588.0 998.3h8.2v8.2h-8.2zM602.1 998.3h8.2v8.2h-8.2zM616.2 998.3h8.2v8.2h-8.2zM630.4 998.3h8.2v8.2h-8.2zM644.5 998.2h8.2v8.2h-8.2zM658.6 998.2h8.2v8.2h-8.2zM672.8 998.2h8.2v8.2h-8.2zM686.9 998.2h8.2v8.2h-8.2zM701.0 998.2h8.2v8.2h-8.2zM715.2 998.2h8.2v8.2h-8.2zM729.3 998.2h8.2v8.2h-8.2zM743.5 998.1h8.2v8.2h-8.2zM757.6 998.1h8.2v8.2h-8.2zM771.7 998.1h8.2v8.2h-8.2zM785.9 998.1h8.2v8.2h-8.2zM800.0 998.1h8.2v8.2h-8.2zM814.1 998.0h8.2v8.2h-8.2zM828.3 998.0h8.2v8.2h-8.2zM842.4 998.0h8.2v8.2h-8.2zM856.5 998.0h8.2v8.2h-8.2zM870.7 997.9h8.2v8.2h-8.2zM884.8 997.9h8.2v8.2h-8.2zM899.0 997.9h8.2v8.2h-8.2zM913.1 997.7h8.2v8.2h-8.2zM927.2 997.5h8.2v8.2h-8.2zM941.4 997.2h8.2v8.2h-8.2zM955.5 996.8h8.2v8.2h-8.2zM969.6 996.4h8.2v8.2h-8.2zM983.8 995.8h8.2v8.2h-8.2zM997.9 995.2h8.2v8.2h-8.2zM1012.1 994.3h8.2v8.2h-8.2zM1026.2 993.0h8.2v8.2h-8.2zM1040.3 991.5h8.2v8.2h-8.2zM1054.5 989.8h8.2v8.2h-8.2zM1068.6 988.0h8.2v8.2h-8.2zM1082.7 986.1h8.2v8.2h-8.2zM1096.9 984.2h8.2v8.2h-8.2zM1111.0 982.2h8.2v8.2h-8.2zM1125.1 980.1h8.2v8.2h-8.2zM1139.3 977.9h8.2v8.2h-8.2zM1153.4 975.9h8.2v8.2h-8.2zM1167.6 974.0h8.2v8.2h-8.2zM1181.7 972.1h8.2v8.2h-8.2zM1195.8 970.0h8.2v8.2h-8.2zM1210.0 967.5h8.2v8.2h-8.2zM1224.1 964.3h8.2v8.2h-8.2zM1238.2 960.1h8.2v8.2h-8.2zM1252.4 955.3h8.2v8.2h-8.2zM1266.5 950.3h8.2v8.2h-8.2zM1280.7 945.1h8.2v8.2h-8.2zM1294.8 939.7h8.2v8.2h-8.2zM1308.9 934.2h8.2v8.2h-8.2zM1323.1 928.7h8.2v8.2h-8.2zM1337.2 923.1h8.2v8.2h-8.2zM1351.3 917.2h8.2v8.2h-8.2zM1365.5 910.8h8.2v8.2h-8.2zM1379.6 903.5h8.2v8.2h-8.2zM1393.7 896.0h8.2v8.2h-8.2zM1407.9 888.6h8.2v8.2h-8.2zM1422.0 881.3h8.2v8.2h-8.2zM1436.2 873.6h8.2v8.2h-8.2zM1450.3 865.5h8.2v8.2h-8.2zM1464.4 857.1h8.2v8.2h-8.2zM1478.6 848.4h8.2v8.2h-8.2zM1492.7 839.6h8.2v8.2h-8.2zM1506.8 830.5h8.2v8.2h-8.2zM1521.0 821.1h8.2v8.2h-8.2zM1535.1 811.9h8.2v8.2h-8.2zM1549.2 803.0h8.2v8.2h-8.2zM1563.4 794.1h8.2v8.2h-8.2zM1577.5 784.9h8.2v8.2h-8.2zM1591.7 775.7h8.2v8.2h-8.2zM1605.8 766.6h8.2v8.2h-8.2zM1619.9 757.4h8.2v8.2h-8.2zM1634.1 747.8h8.2v8.2h-8.2zM1648.2 738.2h8.2v8.2h-8.2zM1662.3 728.7h8.2v8.2h-8.2zM1676.5 719.6h8.2v8.2h-8.2zM1690.6 710.5h8.2v8.2h-8.2zM1704.8 701.2h8.2v8.2h-8.2zM1718.9 691.5h8.2v8.2h-8.2zM1733.0 681.9h8.2v8.2h-8.2zM1747.2 672.7h8.2v8.2h-8.2zM1761.3 664.0h8.2v8.2h-8.2zM1775.4 655.5h8.2v8.2h-8.2zM1789.6 647.3h8.2v8.2h-8.2zM1803.7 639.1h8.2v8.2h-8.2zM1817.8 630.9h8.2v8.2h-8.2zM1832.0 622.8h8.2v8.2h-8.2zM1846.1 614.8h8.2v8.2h-8.2zM1860.3 606.9h8.2v8.2h-8.2zM1874.4 599.0h8.2v8.2h-8.2zM1888.5 591.1h8.2v8.2h-8.2zM1902.7 583.0h8.2v8.2h-8.2zM1916.8 574.9h8.2v8.2h-8.2zM1930.9 566.7h8.2v8.2h-8.2zM1945.1 558.6h8.2v8.2h-8.2zM1959.2 550.8h8.2v8.2h-8.2zM1973.3 543.4h8.2v8.2h-8.2zM1987.5 536.4h8.2v8.2h-8.2zM2001.6 529.8h8.2v8.2h-8.2zM2015.8 523.5h8.2v8.2h-8.2zM2029.9 517.2h8.2v8.2h-8.2zM2044.0 511.0h8.2v8.2h-8.2zM2058.2 504.8h8.2v8.2h-8.2zM2072.3 498.7h8.2v8.2h-8.2zM2086.4 492.6h8.2v8.2h-8.2zM2100.6 486.9h8.2v8.2h-8.2zM2114.7 481.4h8.2v8.2h-8.2zM2128.9 476.1h8.2v8.2h-8.2zM2143.0 471.1h8.2v8.2h-8.2zM2157.1 466.4h8.2v8.2h-8.2zM2171.3 461.8h8.2v8.2h-8.2zM2185.4 457.4h8.2v8.2h-8.2zM2199.5 453.0h8.2v8.2h-8.2zM2213.7 448.8h8.2v8.2h-8.2zM2227.8 444.9h8.2v8.2h-8.2zM2241.9 441.4h8.2v8.2h-8.2zM2256.1 438.3h8.2v8.2h-8.2zM2270.2 435.6h8.2v8.2h-8.2zM2284.4 433.2h8.2v8.2h-8.2zM2298.5 431.0h8.2v8.2h-8.2zM2312.6 429.1h8.2v8.2h-8.2zM2326.8 427.5h8.2v8.2h-8.2zM2340.9 426.2h8.2v8.2h-8.2z" fill="none" stroke="#1E8C1E" stroke-width="2.4"/>
<path d="M223.7 1001.7h1.6v1.6h-1.6zM237.8 1001.7h1.6v1.6h-1.6zM252.0 1001.7h1.6v1.6h-1.6zM266.1 1001.7h1.6v1.6h-1.6zM280.2 1001.7h1.6v1.6h-1.6zM294.4 1001.7h1.6v1.6h-1.6zM308.5 1001.7h1.6v1.6h-1.6zM322.7 1001.7h1.6v1.6h-1.6zM336.8 1001.7h1.6v1.6h-1.6zM350.9 1001.7h1.6v1.6h-1.6zM365.1 1001.7h1.6v1.6h-1.6zM379.2 1001.7h1.6v1.6h-1.6zM393.3 1001.7h1.6v1.6h-1.6zM407.5 1001.7h1.6v1.6h-1.6zM421.6 1001.7h1.6v1.6h-1.6zM435.7 1001.7h1.6v1.6h-1.6zM449.9 1001.7h1.6v1.6h-1.6zM464.0 1001.7h1.6v1.6h-1.6zM478.2 1001.7h1.6v1.6h-1.6zM492.3 1001.6h1.6v1.6h-1.6zM506.4 1001.6h1.6v1.6h-1.6zM520.6 1001.6h1.6v1.6h-1.6zM534.7 1001.6h1.6v1.6h-1.6zM548.8 1001.6h1.6v1.6h-1.6zM563.0 1001.6h1.6v1.6h-1.6zM577.1 1001.6h1.6v1.6h-1.6zM591.3 1001.6h1.6v1.6h-1.6zM605.4 1001.6h1.6v1.6h-1.6zM619.5 1001.6h1.6v1.6h-1.6zM633.7 1001.6h1.6v1.6h-1.6zM647.8 1001.5h1.6v1.6h-1.6zM661.9 1001.5h1.6v1.6h-1.6zM676.1 1001.5h1.6v1.6h-1.6zM690.2 1001.5h1.6v1.6h-1.6zM704.3 1001.5h1.6v1.6h-1.6zM718.5 1001.5h1.6v1.6h-1.6zM732.6 1001.5h1.6v1.6h-1.6zM746.8 1001.4h1.6v1.6h-1.6zM760.9 1001.4h1.6v1.6h-1.6zM775.0 1001.4h1.6v1.6h-1.6zM789.2 1001.4h1.6v1.6h-1.6zM803.3 1001.4h1.6v1.6h-1.6zM817.4 1001.3h1.6v1.6h-1.6zM831.6 1001.3h1.6v1.6h-1.6zM845.7 1001.3h1.6v1.6h-1.6zM859.8 1001.3h1.6v1.6h-1.6zM874.0 1001.2h1.6v1.6h-1.6zM888.1 1001.2h1.6v1.6h-1.6zM902.3 1001.2h1.6v1.6h-1.6zM916.4 1001.0h1.6v1.6h-1.6zM930.5 1000.8h1.6v1.6h-1.6zM944.7 1000.5h1.6v1.6h-1.6zM958.8 1000.1h1.6v1.6h-1.6zM972.9 999.7h1.6v1.6h-1.6zM987.1 999.1h1.6v1.6h-1.6zM1001.2 998.5h1.6v1.6h-1.6zM1015.4 997.6h1.6v1.6h-1.6zM1029.5 996.3h1.6v1.6h-1.6zM1043.6 994.8h1.6v1.6h-1.6zM1057.8 993.1h1.6v1.6h-1.6zM1071.9 991.3h1.6v1.6h-1.6zM1086.0 989.4h1.6v1.6h-1.6zM1100.2 987.5h1.6v1.6h-1.6zM1114.3 985.5h1.6v1.6h-1.6zM1128.4 983.4h1.6v1.6h-1.6zM1142.6 981.2h1.6v1.6h-1.6zM1156.7 979.2h1.6v1.6h-1.6zM1170.9 977.3h1.6v1.6h-1.6zM1185.0 975.4h1.6v1.6h-1.6zM1199.1 973.3h1.6v1.6h-1.6zM1213.3 970.8h1.6v1.6h-1.6zM1227.4 967.6h1.6v1.6h-1.6zM1241.5 963.4h1.6v1.6h-1.6zM1255.7 958.6h1.6v1.6h-1.6zM1269.8 953.6h1.6v1.6h-1.6zM1284.0 948.4h1.6v1.6h-1.6zM1298.1 943.0h1.6v1.6h-1.6zM1312.2 937.5h1.6v1.6h-1.6zM1326.4 932.0h1.6v1.6h-1.6zM1340.5 926.4h1.6v1.6h-1.6zM1354.6 920.5h1.6v1.6h-1.6zM1368.8 914.1h1.6v1.6h-1.6zM1382.9 906.8h1.6v1.6h-1.6zM1397.0 899.3h1.6v1.6h-1.6zM1411.2 891.9h1.6v1.6h-1.6zM1425.3 884.6h1.6v1.6h-1.6zM1439.5 876.9h1.6v1.6h-1.6zM1453.6 868.8h1.6v1.6h-1.6zM1467.7 860.4h1.6v1.6h-1.6zM1481.9 851.7h1.6v1.6h-1.6zM1496.0 842.9h1.6v1.6h-1.6zM1510.1 833.8h1.6v1.6h-1.6zM1524.3 824.4h1.6v1.6h-1.6zM1538.4 815.2h1.6v1.6h-1.6zM1552.5 806.3h1.6v1.6h-1.6zM1566.7 797.4h1.6v1.6h-1.6zM1580.8 788.2h1.6v1.6h-1.6zM1595.0 779.0h1.6v1.6h-1.6zM1609.1 769.9h1.6v1.6h-1.6zM1623.2 760.7h1.6v1.6h-1.6zM1637.4 751.1h1.6v1.6h-1.6zM1651.5 741.5h1.6v1.6h-1.6zM1665.6 732.0h1.6v1.6h-1.6zM1679.8 722.9h1.6v1.6h-1.6zM1693.9 713.8h1.6v1.6h-1.6zM1708.1 704.5h1.6v1.6h-1.6zM1722.2 694.8h1.6v1.6h-1.6zM1736.3 685.2h1.6v1.6h-1.6zM1750.5 676.0h1.6v1.6h-1.6zM1764.6 667.3h1.6v1.6h-1.6zM1778.7 658.8h1.6v1.6h-1.6zM1792.9 650.6h1.6v1.6h-1.6zM1807.0 642.4h1.6v1.6h-1.6zM1821.1 634.2h1.6v1.6h-1.6zM1835.3 626.1h1.6v1.6h-1.6zM1849.4 618.1h1.6v1.6h-1.6zM1863.6 610.2h1.6v1.6h-1.6zM1877.7 602.3h1.6v1.6h-1.6zM1891.8 594.4h1.6v1.6h-1.6zM1906.0 586.3h1.6v1.6h-1.6zM1920.1 578.2h1.6v1.6h-1.6zM1934.2 570.0h1.6v1.6h-1.6zM1948.4 561.9h1.6v1.6h-1.6zM1962.5 554.1h1.6v1.6h-1.6zM1976.6 546.7h1.6v1.6h-1.6zM1990.8 539.7h1.6v1.6h-1.6zM2004.9 533.1h1.6v1.6h-1.6zM2019.1 526.8h1.6v1.6h-1.6zM2033.2 520.5h1.6v1.6h-1.6zM2047.3 514.3h1.6v1.6h-1.6zM2061.5 508.1h1.6v1.6h-1.6zM2075.6 502.0h1.6v1.6h-1.6zM2089.7 495.9h1.6v1.6h-1.6zM2103.9 490.2h1.6v1.6h-1.6zM2118.0 484.7h1.6v1.6h-1.6zM2132.2 479.4h1.6v1.6h-1.6zM2146.3 474.4h1.6v1.6h-1.6zM2160.4 469.7h1.6v1.6h-1.6zM2174.6 465.1h1.6v1.6h-1.6zM2188.7 460.7h1.6v1.6h-1.6zM2202.8 456.3h1.6v1.6h-1.6zM2217.0 452.1h1.6v1.6h-1.6zM2231.1 448.2h1.6v1.6h-1.6zM2245.2 444.7h1.6v1.6h-1.6zM2259.4 441.6h1.6v1.6h-1.6zM2273.5 438.9h1.6v1.6h-1.6zM2287.7 436.5h1.6v1.6h-1.6zM2301.8 434.3h1.6v1.6h-1.6zM2315.9 432.4h1.6v1.6h-1.6zM2330.1 430.8h1.6v1.6h-1.6zM2344.2 429.5h1.6v1.6h-1.6z" fill="#1E8C1E"/>
<path d="M220.4 998.4h8.2v8.2h-8.2zM234.5 998.4h8.2v8.2h-8.2zM248.7 998.4h8.2v8.2h-8.2zM262.8 998.4h8.2v8.2h-8.2zM276.9 998.4h8.2v8.2h-8.2zM291.1 998.4h8.2v8.2h-8.2zM305.2 998.4h8.2v8.2h-8.2zM319.4 998.4h8.2v8.2h-8.2zM333.5 998.4h8.2v8.2h-8.2zM347.6 998.4h8.2v8.2h-8.2zM361.8 998.4h8.2v8.2h-8.2zM375.9 998.4h8.2v8.2h-8.2zM390.0 998.4h8.2v8.2h-8.2zM404.2 998.4h8.2v8.2h-8.2zM418.3 998.4h8.2v8.2h-8.2zM432.4 998.4h8.2v8.2h-8.2zM446.6 998.4h8.2v8.2h-8.2zM460.7 998.4h8.2v8.2h-8.2zM474.9 998.4h8.2v8.2h-8.2zM489.0 998.3h8.2v8.2h-8.2zM503.1 998.3h8.2v8.2h-8.2zM517.3 998.3h8.2v8.2h-8.2zM531.4 998.3h8.2v8.2h-8.2zM545.5 998.3h8.2v8.2h-8.2zM559.7 998.3h8.2v8.2h-8.2zM573.8 998.3h8.2v8.2h-8.2zM588.0 998.3h8.2v8.2h-8.2zM602.1 998.3h8.2v8.2h-8.2zM616.2 998.3h8.2v8.2h-8.2zM630.4 998.3h8.2v8.2h-8.2zM644.5 998.2h8.2v8.2h-8.2zM658.6 998.2h8.2v8.2h-8.2zM672.8 998.2h8.2v8.2h-8.2zM686.9 998.2h8.2v8.2h-8.2zM701.0 998.2h8.2v8.2h-8.2zM715.2 998.2h8.2v8.2h-8.2zM729.3 998.2h8.2v8.2h-8.2zM743.5 998.1h8.2v8.2h-8.2zM757.6 998.1h8.2v8.2h-8.2zM771.7 998.1h8.2v8.2h-8.2zM785.9 998.1h8.2v8.2h-8.2zM800.0 998.1h8.2v8.2h-8.2zM814.1 998.0h8.2v8.2h-8.2zM828.3 998.0h8.2v8.2h-8.2zM842.4 998.0h8.2v8.2h-8.2zM856.5 998.0h8.2v8.2h-8.2zM870.7 997.9h8.2v8.2h-8.2zM884.8 997.9h8.2v8.2h-8.2zM899.0 997.8h8.2v8.2h-8.2zM913.1 997.7h8.2v8.2h-8.2zM927.2 997.4h8.2v8.2h-8.2zM941.4 997.1h8.2v8.2h-8.2zM955.5 996.6h8.2v8.2h-8.2zM969.6 996.0h8.2v8.2h-8.2zM983.8 995.4h8.2v8.2h-8.2zM997.9 994.7h8.2v8.2h-8.2zM1012.1 993.7h8.2v8.2h-8.2zM1026.2 992.5h8.2v8.2h-8.2zM1040.3 991.0h8.2v8.2h-8.2zM1054.5 989.3h8.2v8.2h-8.2zM1068.6 987.5h8.2v8.2h-8.2zM1082.7 985.6h8.2v8.2h-8.2zM1096.9 983.7h8.2v8.2h-8.2zM1111.0 981.6h8.2v8.2h-8.2zM1125.1 979.4h8.2v8.2h-8.2zM1139.3 977.0h8.2v8.2h-8.2zM1153.4 974.5h8.2v8.2h-8.2zM1167.6 971.7h8.2v8.2h-8.2zM1181.7 968.8h8.2v8.2h-8.2zM1195.8 965.7h8.2v8.2h-8.2zM1210.0 962.3h8.2v8.2h-8.2zM1224.1 958.5h8.2v8.2h-8.2zM1238.2 954.1h8.2v8.2h-8.2zM1252.4 949.3h8.2v8.2h-8.2zM1266.5 944.2h8.2v8.2h-8.2zM1280.7 938.8h8.2v8.2h-8.2zM1294.8 933.1h8.2v8.2h-8.2zM1308.9 926.9h8.2v8.2h-8.2zM1323.1 920.0h8.2v8.2h-8.2zM1337.2 912.4h8.2v8.2h-8.2zM1351.3 904.7h8.2v8.2h-8.2zM1365.5 897.8h8.2v8.2h-8.2zM1379.6 891.4h8.2v8.2h-8.2zM1393.7 885.2h8.2v8.2h-8.2zM1407.9 878.5h8.2v8.2h-8.2zM1422.0 870.5h8.2v8.2h-8.2zM1436.2 861.3h8.2v8.2h-8.2zM1450.3 851.3h8.2v8.2h-8.2zM1464.4 841.5h8.2v8.2h-8.2zM1478.6 831.9h8.2v8.2h-8.2zM1492.7 822.6h8.2v8.2h-8.2zM1506.8 813.3h8.2v8.2h-8.2zM1521.0 803.6h8.2v8.2h-8.2zM1535.1 793.4h8.2v8.2h-8.2zM1549.2 782.7h8.2v8.2h-8.2zM1563.4 771.7h8.2v8.2h-8.2zM1577.5 760.7h8.2v8.2h-8.2zM1591.7 749.6h8.2v8.2h-8.2zM1605.8 738.4h8.2v8.2h-8.2zM1619.9 727.4h8.2v8.2h-8.2zM1634.1 716.5h8.2v8.2h-8.2zM1648.2 705.2h8.2v8.2h-8.2zM1662.3 693.4h8.2v8.2h-8.2zM1676.5 681.7h8.2v8.2h-8.2zM1690.6 670.8h8.2v8.2h-8.2zM1704.8 660.0h8.2v8.2h-8.2zM1718.9 648.8h8.2v8.2h-8.2zM1733.0 637.5h8.2v8.2h-8.2zM1747.2 626.5h8.2v8.2h-8.2zM1761.3 615.3h8.2v8.2h-8.2zM1775.4 603.8h8.2v8.2h-8.2zM1789.6 592.1h8.2v8.2h-8.2zM1803.7 580.7h8.2v8.2h-8.2zM1817.8 569.7h8.2v8.2h-8.2zM1832.0 558.9h8.2v8.2h-8.2zM1846.1 548.3h8.2v8.2h-8.2zM1860.3 537.9h8.2v8.2h-8.2zM1874.4 527.7h8.2v8.2h-8.2zM1888.5 517.7h8.2v8.2h-8.2zM1902.7 507.9h8.2v8.2h-8.2zM1916.8 498.4h8.2v8.2h-8.2zM1930.9 489.0h8.2v8.2h-8.2zM1945.1 479.9h8.2v8.2h-8.2zM1959.2 470.8h8.2v8.2h-8.2zM1973.3 461.8h8.2v8.2h-8.2zM1987.5 452.8h8.2v8.2h-8.2zM2001.6 443.8h8.2v8.2h-8.2zM2015.8 435.0h8.2v8.2h-8.2zM2029.9 426.3h8.2v8.2h-8.2zM2044.0 418.0h8.2v8.2h-8.2zM2058.2 409.9h8.2v8.2h-8.2zM2072.3 402.0h8.2v8.2h-8.2zM2086.4 394.3h8.2v8.2h-8.2zM2100.6 386.7h8.2v8.2h-8.2zM2114.7 379.2h8.2v8.2h-8.2zM2128.9 371.8h8.2v8.2h-8.2zM2143.0 364.4h8.2v8.2h-8.2zM2157.1 357.2h8.2v8.2h-8.2zM2171.3 350.3h8.2v8.2h-8.2zM2185.4 343.7h8.2v8.2h-8.2zM2199.5 337.5h8.2v8.2h-8.2zM2213.7 331.5h8.2v8.2h-8.2zM2227.8 325.9h8.2v8.2h-8.2zM2241.9 320.5h8.2v8.2h-8.2zM2256.1 315.3h8.2v8.2h-8.2zM2270.2 310.4h8.2v8.2h-8.2zM2284.4 305.7h8.2v8.2h-8.2zM2298.5 301.2h8.2v8.2h-8.2zM2312.6 297.0h8.2v8.2h-8.2zM2326.8 292.9h8.2v8.2h-8.2zM2340.9 289.0h8.2v8.2h-8.2z" fill="none" stroke="#2C2CCC" stroke-width="2.4"/>
<path d="M223.7 1001.7h1.6v1.6h-1.6zM237.8 1001.7h1.6v1.6h-1.6zM252.0 1001.7h1.6v1.6h-1.6zM266.1 1001.7h1.6v1.6h-1.6zM280.2 1001.7h1.6v1.6h-1.6zM294.4 1001.7h1.6v1.6h-1.6zM308.5 1001.7h1.6v1.6h-1.6zM322.7 1001.7h1.6v1.6h-1.6zM336.8 1001.7h1.6v1.6h-1.6zM350.9 1001.7h1.6v1.6h-1.6zM365.1 1001.7h1.6v1.6h-1.6zM379.2 1001.7h1.6v1.6h-1.6zM393.3 1001.7h1.6v1.6h-1.6zM407.5 1001.7h1.6v1.6h-1.6zM421.6 1001.7h1.6v1.6h-1.6zM435.7 1001.7h1.6v1.6h-1.6zM449.9 1001.7h1.6v1.6h-1.6zM464.0 1001.7h1.6v1.6h-1.6zM478.2 1001.7h1.6v1.6h-1.6zM492.3 1001.6h1.6v1.6h-1.6zM506.4 1001.6h1.6v1.6h-1.6zM520.6 1001.6h1.6v1.6h-1.6zM534.7 1001.6h1.6v1.6h-1.6zM548.8 1001.6h1.6v1.6h-1.6zM563.0 1001.6h1.6v1.6h-1.6zM577.1 1001.6h1.6v1.6h-1.6zM591.3 1001.6h1.6v1.6h-1.6zM605.4 1001.6h1.6v1.6h-1.6zM619.5 1001.6h1.6v1.6h-1.6zM633.7 1001.6h1.6v1.6h-1.6zM647.8 1001.5h1.6v1.6h-1.6zM661.9 1001.5h1.6v1.6h-1.6zM676.1 1001.5h1.6v1.6h-1.6zM690.2 1001.5h1.6v1.6h-1.6zM704.3 1001.5h1.6v1.6h-1.6zM718.5 1001.5h1.6v1.6h-1.6zM732.6 1001.5h1.6v1.6h-1.6zM746.8 1001.4h1.6v1.6h-1.6zM760.9 1001.4h1.6v1.6h-1.6zM775.0 1001.4h1.6v1.6h-1.6zM789.2 1001.4h1.6v1.6h-1.6zM803.3 1001.4h1.6v1.6h-1.6zM817.4 1001.3h1.6v1.6h-1.6zM831.6 1001.3h1.6v1.6h-1.6zM845.7 1001.3h1.6v1.6h-1.6zM859.8 1001.3h1.6v1.6h-1.6zM874.0 1001.2h1.6v1.6h-1.6zM888.1 1001.2h1.6v1.6h-1.6zM902.3 1001.1h1.6v1.6h-1.6zM916.4 1001.0h1.6v1.6h-1.6zM930.5 1000.7h1.6v1.6h-1.6zM944.7 1000.4h1.6v1.6h-1.6zM958.8 999.9h1.6v1.6h-1.6zM972.9 999.3h1.6v1.6h-1.6zM987.1 998.7h1.6v1.6h-1.6zM1001.2 998.0h1.6v1.6h-1.6zM1015.4 997.0h1.6v1.6h-1.6zM1029.5 995.8h1.6v1.6h-1.6zM1043.6 994.3h1.6v1.6h-1.6zM1057.8 992.6h1.6v1.6h-1.6zM1071.9 990.8h1.6v1.6h-1.6zM1086.0 988.9h1.6v1.6h-1.6zM1100.2 987.0h1.6v1.6h-1.6zM1114.3 984.9h1.6v1.6h-1.6zM1128.4 982.7h1.6v1.6h-1.6zM1142.6 980.3h1.6v1.6h-1.6zM1156.7 977.8h1.6v1.6h-1.6zM1170.9 975.0h1.6v1.6h-1.6zM1185.0 972.1h1.6v1.6h-1.6zM1199.1 969.0h1.6v1.6h-1.6zM1213.3 965.6h1.6v1.6h-1.6zM1227.4 961.8h1.6v1.6h-1.6zM1241.5 957.4h1.6v1.6h-1.6zM1255.7 952.6h1.6v1.6h-1.6zM1269.8 947.5h1.6v1.6h-1.6zM1284.0 942.1h1.6v1.6h-1.6zM1298.1 936.4h1.6v1.6h-1.6zM1312.2 930.2h1.6v1.6h-1.6zM1326.4 923.3h1.6v1.6h-1.6zM1340.5 915.7h1.6v1.6h-1.6zM1354.6 908.0h1.6v1.6h-1.6zM1368.8 901.1h1.6v1.6h-1.6zM1382.9 894.7h1.6v1.6h-1.6zM1397.0 888.5h1.6v1.6h-1.6zM1411.2 881.8h1.6v1.6h-1.6zM1425.3 873.8h1.6v1.6h-1.6zM1439.5 864.6h1.6v1.6h-1.6zM1453.6 854.6h1.6v1.6h-1.6zM1467.7 844.8h1.6v1.6h-1.6zM1481.9 835.2h1.6v1.6h-1.6zM1496.0 825.9h1.6v1.6h-1.6zM1510.1 816.6h1.6v1.6h-1.6zM1524.3 806.9h1.6v1.6h-1.6zM1538.4 796.7h1.6v1.6h-1.6zM1552.5 786.0h1.6v1.6h-1.6zM1566.7 775.0h1.6v1.6h-1.6zM1580.8 764.0h1.6v1.6h-1.6zM1595.0 752.9h1.6v1.6h-1.6zM1609.1 741.7h1.6v1.6h-1.6zM1623.2 730.7h1.6v1.6h-1.6zM1637.4 719.8h1.6v1.6h-1.6zM1651.5 708.5h1.6v1.6h-1.6zM1665.6 696.7h1.6v1.6h-1.6zM1679.8 685.0h1.6v1.6h-1.6zM1693.9 674.1h1.6v1.6h-1.6zM1708.1 663.3h1.6v1.6h-1.6zM1722.2 652.1h1.6v1.6h-1.6zM1736.3 640.8h1.6v1.6h-1.6zM1750.5 629.8h1.6v1.6h-1.6zM1764.6 618.6h1.6v1.6h-1.6zM1778.7 607.1h1.6v1.6h-1.6zM1792.9 595.4h1.6v1.6h-1.6zM1807.0 584.0h1.6v1.6h-1.6zM1821.1 573.0h1.6v1.6h-1.6zM1835.3 562.2h1.6v1.6h-1.6zM1849.4 551.6h1.6v1.6h-1.6zM1863.6 541.2h1.6v1.6h-1.6zM1877.7 531.0h1.6v1.6h-1.6zM1891.8 521.0h1.6v1.6h-1.6zM1906.0 511.2h1.6v1.6h-1.6zM1920.1 501.7h1.6v1.6h-1.6zM1934.2 492.3h1.6v1.6h-1.6zM1948.4 483.2h1.6v1.6h-1.6zM1962.5 474.1h1.6v1.6h-1.6zM1976.6 465.1h1.6v1.6h-1.6zM1990.8 456.1h1.6v1.6h-1.6zM2004.9 447.1h1.6v1.6h-1.6zM2019.1 438.3h1.6v1.6h-1.6zM2033.2 429.6h1.6v1.6h-1.6zM2047.3 421.3h1.6v1.6h-1.6zM2061.5 413.2h1.6v1.6h-1.6zM2075.6 405.3h1.6v1.6h-1.6zM2089.7 397.6h1.6v1.6h-1.6zM2103.9 390.0h1.6v1.6h-1.6zM2118.0 382.5h1.6v1.6h-1.6zM2132.2 375.1h1.6v1.6h-1.6zM2146.3 367.7h1.6v1.6h-1.6zM2160.4 360.5h1.6v1.6h-1.6zM2174.6 353.6h1.6v1.6h-1.6zM2188.7 347.0h1.6v1.6h-1.6zM2202.8 340.8h1.6v1.6h-1.6zM2217.0 334.8h1.6v1.6h-1.6zM2231.1 329.2h1.6v1.6h-1.6zM2245.2 323.8h1.6v1.6h-1.6zM2259.4 318.6h1.6v1.6h-1.6zM2273.5 313.7h1.6v1.6h-1.6zM2287.7 309.0h1.6v1.6h-1.6zM2301.8 304.5h1.6v1.6h-1.6zM2315.9 300.3h1.6v1.6h-1.6zM2330.1 296.2h1.6v1.6h-1.6zM2344.2 292.3h1.6v1.6h-1.6z" fill="#2C2CCC"/>
<path d="M220.4 998.4h8.2v8.2h-8.2zM234.5 998.4h8.2v8.2h-8.2zM248.7 998.4h8.2v8.2h-8.2zM262.8 998.4h8.2v8.2h-8.2zM276.9 998.4h8.2v8.2h-8.2zM291.1 998.4h8.2v8.2h-8.2zM305.2 998.4h8.2v8.2h-8.2zM319.4 998.4h8.2v8.2h-8.2zM333.5 998.4h8.2v8.2h-8.2zM347.6 998.4h8.2v8.2h-8.2zM361.8 998.4h8.2v8.2h-8.2zM375.9 998.4h8.2v8.2h-8.2zM390.0 998.4h8.2v8.2h-8.2zM404.2 998.4h8.2v8.2h-8.2zM418.3 998.4h8.2v8.2h-8.2zM432.4 998.4h8.2v8.2h-8.2zM446.6 998.4h8.2v8.2h-8.2zM460.7 998.4h8.2v8.2h-8.2zM474.9 998.4h8.2v8.2h-8.2zM489.0 998.3h8.2v8.2h-8.2zM503.1 998.3h8.2v8.2h-8.2zM517.3 998.3h8.2v8.2h-8.2zM531.4 998.3h8.2v8.2h-8.2zM545.5 998.3h8.2v8.2h-8.2zM559.7 998.3h8.2v8.2h-8.2zM573.8 998.3h8.2v8.2h-8.2zM588.0 998.3h8.2v8.2h-8.2zM602.1 998.3h8.2v8.2h-8.2zM616.2 998.3h8.2v8.2h-8.2zM630.4 998.3h8.2v8.2h-8.2zM644.5 998.2h8.2v8.2h-8.2zM658.6 998.2h8.2v8.2h-8.2zM672.8 998.2h8.2v8.2h-8.2zM686.9 998.2h8.2v8.2h-8.2zM701.0 998.2h8.2v8.2h-8.2zM715.2 998.2h8.2v8.2h-8.2zM729.3 998.2h8.2v8.2h-8.2zM743.5 998.1h8.2v8.2h-8.2zM757.6 998.1h8.2v8.2h-8.2zM771.7 998.1h8.2v8.2h-8.2zM785.9 998.1h8.2v8.2h-8.2zM800.0 998.1h8.2v8.2h-8.2zM814.1 998.0h8.2v8.2h-8.2zM828.3 998.0h8.2v8.2h-8.2zM842.4 998.0h8.2v8.2h-8.2zM856.5 998.0h8.2v8.2h-8.2zM870.7 997.9h8.2v8.2h-8.2zM884.8 997.9h8.2v8.2h-8.2zM899.0 997.8h8.2v8.2h-8.2zM913.1 997.7h8.2v8.2h-8.2zM927.2 997.4h8.2v8.2h-8.2zM941.4 997.1h8.2v8.2h-8.2zM955.5 996.6h8.2v8.2h-8.2zM969.6 996.1h8.2v8.2h-8.2zM983.8 995.4h8.2v8.2h-8.2zM997.9 994.7h8.2v8.2h-8.2zM1012.1 993.7h8.2v8.2h-8.2zM1026.2 992.4h8.2v8.2h-8.2zM1040.3 990.9h8.2v8.2h-8.2zM1054.5 989.1h8.2v8.2h-8.2zM1068.6 987.2h8.2v8.2h-8.2zM1082.7 985.2h8.2v8.2h-8.2zM1096.9 983.0h8.2v8.2h-8.2zM1111.0 980.7h8.2v8.2h-8.2zM1125.1 978.0h8.2v8.2h-8.2zM1139.3 975.2h8.2v8.2h-8.2zM1153.4 972.2h8.2v8.2h-8.2zM1167.6 969.0h8.2v8.2h-8.2zM1181.7 965.6h8.2v8.2h-8.2zM1195.8 962.1h8.2v8.2h-8.2zM1210.0 958.5h8.2v8.2h-8.2zM1224.1 954.7h8.2v8.2h-8.2zM1238.2 950.8h8.2v8.2h-8.2zM1252.4 946.7h8.2v8.2h-8.2zM1266.5 942.4h8.2v8.2h-8.2zM1280.7 937.4h8.2v8.2h-8.2zM1294.8 931.4h8.2v8.2h-8.2zM1308.9 925.1h8.2v8.2h-8.2zM1323.1 919.1h8.2v8.2h-8.2zM1337.2 912.8h8.2v8.2h-8.2zM1351.3 905.5h8.2v8.2h-8.2zM1365.5 897.8h8.2v8.2h-8.2zM1379.6 890.1h8.2v8.2h-8.2zM1393.7 882.1h8.2v8.2h-8.2zM1407.9 873.5h8.2v8.2h-8.2zM1422.0 864.2h8.2v8.2h-8.2zM1436.2 854.6h8.2v8.2h-8.2zM1450.3 844.5h8.2v8.2h-8.2zM1464.4 833.9h8.2v8.2h-8.2zM1478.6 823.1h8.2v8.2h-8.2zM1492.7 812.3h8.2v8.2h-8.2zM1506.8 801.6h8.2v8.2h-8.2zM1521.0 790.5h8.2v8.2h-8.2zM1535.1 778.8h8.2v8.2h-8.2zM1549.2 767.2h8.2v8.2h-8.2zM1563.4 755.8h8.2v8.2h-8.2zM1577.5 744.0h8.2v8.2h-8.2zM1591.7 731.2h8.2v8.2h-8.2zM1605.8 717.9h8.2v8.2h-8.2zM1619.9 704.6h8.2v8.2h-8.2zM1634.1 692.1h8.2v8.2h-8.2zM1648.2 680.5h8.2v8.2h-8.2zM1662.3 668.5h8.2v8.2h-8.2zM1676.5 655.6h8.2v8.2h-8.2zM1690.6 642.2h8.2v8.2h-8.2zM1704.8 628.9h8.2v8.2h-8.2zM1718.9 615.9h8.2v8.2h-8.2zM1733.0 602.6h8.2v8.2h-8.2zM1747.2 589.0h8.2v8.2h-8.2zM1761.3 575.0h8.2v8.2h-8.2zM1775.4 560.6h8.2v8.2h-8.2zM1789.6 546.4h8.2v8.2h-8.2zM1803.7 532.8h8.2v8.2h-8.2zM1817.8 519.9h8.2v8.2h-8.2zM1832.0 507.6h8.2v8.2h-8.2zM1846.1 495.6h8.2v8.2h-8.2zM1860.3 483.6h8.2v8.2h-8.2zM1874.4 471.6h8.2v8.2h-8.2zM1888.5 459.5h8.2v8.2h-8.2zM1902.7 447.2h8.2v8.2h-8.2zM1916.8 434.6h8.2v8.2h-8.2zM1930.9 421.9h8.2v8.2h-8.2zM1945.1 409.1h8.2v8.2h-8.2zM1959.2 396.7h8.2v8.2h-8.2zM1973.3 384.8h8.2v8.2h-8.2zM1987.5 373.5h8.2v8.2h-8.2zM2001.6 362.6h8.2v8.2h-8.2zM2015.8 352.0h8.2v8.2h-8.2zM2029.9 341.4h8.2v8.2h-8.2zM2044.0 330.8h8.2v8.2h-8.2zM2058.2 320.0h8.2v8.2h-8.2zM2072.3 309.2h8.2v8.2h-8.2zM2086.4 298.4h8.2v8.2h-8.2zM2100.6 287.8h8.2v8.2h-8.2zM2114.7 277.5h8.2v8.2h-8.2zM2128.9 267.3h8.2v8.2h-8.2zM2143.0 257.3h8.2v8.2h-8.2zM2157.1 247.7h8.2v8.2h-8.2zM2171.3 238.6h8.2v8.2h-8.2zM2185.4 230.2h8.2v8.2h-8.2zM2199.5 222.6h8.2v8.2h-8.2zM2213.7 215.4h8.2v8.2h-8.2zM2227.8 208.6h8.2v8.2h-8.2zM2241.9 201.8h8.2v8.2h-8.2zM2256.1 194.9h8.2v8.2h-8.2zM2270.2 188.0h8.2v8.2h-8.2zM2284.4 181.0h8.2v8.2h-8.2zM2298.5 174.0h8.2v8.2h-8.2zM2312.6 167.0h8.2v8.2h-8.2zM2326.8 160.1h8.2v8.2h-8.2zM2340.9 153.1h8.2v8.2h-8.2z" fill="none" stroke="#CC28A2" stroke-width="2.4"/>
<path d="M223.7 1001.7h1.6v1.6h-1.6zM237.8 1001.7h1.6v1.6h-1.6zM252.0 1001.7h1.6v1.6h-1.6zM266.1 1001.7h1.6v1.6h-1.6zM280.2 1001.7h1.6v1.6h-1.6zM294.4 1001.7h1.6v1.6h-1.6zM308.5 1001.7h1.6v1.6h-1.6zM322.7 1001.7h1.6v1.6h-1.6zM336.8 1001.7h1.6v1.6h-1.6zM350.9 1001.7h1.6v1.6h-1.6zM365.1 1001.7h1.6v1.6h-1.6zM379.2 1001.7h1.6v1.6h-1.6zM393.3 1001.7h1.6v1.6h-1.6zM407.5 1001.7h1.6v1.6h-1.6zM421.6 1001.7h1.6v1.6h-1.6zM435.7 1001.7h1.6v1.6h-1.6zM449.9 1001.7h1.6v1.6h-1.6zM464.0 1001.7h1.6v1.6h-1.6zM478.2 1001.7h1.6v1.6h-1.6zM492.3 1001.6h1.6v1.6h-1.6zM506.4 1001.6h1.6v1.6h-1.6zM520.6 1001.6h1.6v1.6h-1.6zM534.7 1001.6h1.6v1.6h-1.6zM548.8 1001.6h1.6v1.6h-1.6zM563.0 1001.6h1.6v1.6h-1.6zM577.1 1001.6h1.6v1.6h-1.6zM591.3 1001.6h1.6v1.6h-1.6zM605.4 1001.6h1.6v1.6h-1.6zM619.5 1001.6h1.6v1.6h-1.6zM633.7 1001.6h1.6v1.6h-1.6zM647.8 1001.5h1.6v1.6h-1.6zM661.9 1001.5h1.6v1.6h-1.6zM676.1 1001.5h1.6v1.6h-1.6zM690.2 1001.5h1.6v1.6h-1.6zM704.3 1001.5h1.6v1.6h-1.6zM718.5 1001.5h1.6v1.6h-1.6zM732.6 1001.5h1.6v1.6h-1.6zM746.8 1001.4h1.6v1.6h-1.6zM760.9 1001.4h1.6v1.6h-1.6zM775.0 1001.4h1.6v1.6h-1.6zM789.2 1001.4h1.6v1.6h-1.6zM803.3 1001.4h1.6v1.6h-1.6zM817.4 1001.3h1.6v1.6h-1.6zM831.6 1001.3h1.6v1.6h-1.6zM845.7 1001.3h1.6v1.6h-1.6zM859.8 1001.3h1.6v1.6h-1.6zM874.0 1001.2h1.6v1.6h-1.6zM888.1 1001.2h1.6v1.6h-1.6zM902.3 1001.1h1.6v1.6h-1.6zM916.4 1001.0h1.6v1.6h-1.6zM930.5 1000.7h1.6v1.6h-1.6zM944.7 1000.4h1.6v1.6h-1.6zM958.8 999.9h1.6v1.6h-1.6zM972.9 999.4h1.6v1.6h-1.6zM987.1 998.7h1.6v1.6h-1.6zM1001.2 998.0h1.6v1.6h-1.6zM1015.4 997.0h1.6v1.6h-1.6zM1029.5 995.7h1.6v1.6h-1.6zM1043.6 994.2h1.6v1.6h-1.6zM1057.8 992.4h1.6v1.6h-1.6zM1071.9 990.5h1.6v1.6h-1.6zM1086.0 988.5h1.6v1.6h-1.6zM1100.2 986.3h1.6v1.6h-1.6zM1114.3 984.0h1.6v1.6h-1.6zM1128.4 981.3h1.6v1.6h-1.6zM1142.6 978.5h1.6v1.6h-1.6zM1156.7 975.5h1.6v1.6h-1.6zM1170.9 972.3h1.6v1.6h-1.6zM1185.0 968.9h1.6v1.6h-1.6zM1199.1 965.4h1.6v1.6h-1.6zM1213.3 961.8h1.6v1.6h-1.6zM1227.4 958.0h1.6v1.6h-1.6zM1241.5 954.1h1.6v1.6h-1.6zM1255.7 950.0h1.6v1.6h-1.6zM1269.8 945.7h1.6v1.6h-1.6zM1284.0 940.7h1.6v1.6h-1.6zM1298.1 934.7h1.6v1.6h-1.6zM1312.2 928.4h1.6v1.6h-1.6zM1326.4 922.4h1.6v1.6h-1.6zM1340.5 916.1h1.6v1.6h-1.6zM1354.6 908.8h1.6v1.6h-1.6zM1368.8 901.1h1.6v1.6h-1.6zM1382.9 893.4h1.6v1.6h-1.6zM1397.0 885.4h1.6v1.6h-1.6zM1411.2 876.8h1.6v1.6h-1.6zM1425.3 867.5h1.6v1.6h-1.6zM1439.5 857.9h1.6v1.6h-1.6zM1453.6 847.8h1.6v1.6h-1.6zM1467.7 837.2h1.6v1.6h-1.6zM1481.9 826.4h1.6v1.6h-1.6zM1496.0 815.6h1.6v1.6h-1.6zM1510.1 804.9h1.6v1.6h-1.6zM1524.3 793.8h1.6v1.6h-1.6zM1538.4 782.1h1.6v1.6h-1.6zM1552.5 770.5h1.6v1.6h-1.6zM1566.7 759.1h1.6v1.6h-1.6zM1580.8 747.3h1.6v1.6h-1.6zM1595.0 734.5h1.6v1.6h-1.6zM1609.1 721.2h1.6v1.6h-1.6zM1623.2 707.9h1.6v1.6h-1.6zM1637.4 695.4h1.6v1.6h-1.6zM1651.5 683.8h1.6v1.6h-1.6zM1665.6 671.8h1.6v1.6h-1.6zM1679.8 658.9h1.6v1.6h-1.6zM1693.9 645.5h1.6v1.6h-1.6zM1708.1 632.2h1.6v1.6h-1.6zM1722.2 619.2h1.6v1.6h-1.6zM1736.3 605.9h1.6v1.6h-1.6zM1750.5 592.3h1.6v1.6h-1.6zM1764.6 578.3h1.6v1.6h-1.6zM1778.7 563.9h1.6v1.6h-1.6zM1792.9 549.7h1.6v1.6h-1.6zM1807.0 536.1h1.6v1.6h-1.6zM1821.1 523.2h1.6v1.6h-1.6zM1835.3 510.9h1.6v1.6h-1.6zM1849.4 498.9h1.6v1.6h-1.6zM1863.6 486.9h1.6v1.6h-1.6zM1877.7 474.9h1.6v1.6h-1.6zM1891.8 462.8h1.6v1.6h-1.6zM1906.0 450.5h1.6v1.6h-1.6zM1920.1 437.9h1.6v1.6h-1.6zM1934.2 425.2h1.6v1.6h-1.6zM1948.4 412.4h1.6v1.6h-1.6zM1962.5 400.0h1.6v1.6h-1.6zM1976.6 388.1h1.6v1.6h-1.6zM1990.8 376.8h1.6v1.6h-1.6zM2004.9 365.9h1.6v1.6h-1.6zM2019.1 355.3h1.6v1.6h-1.6zM2033.2 344.7h1.6v1.6h-1.6zM2047.3 334.1h1.6v1.6h-1.6zM2061.5 323.3h1.6v1.6h-1.6zM2075.6 312.5h1.6v1.6h-1.6zM2089.7 301.7h1.6v1.6h-1.6zM2103.9 291.1h1.6v1.6h-1.6zM2118.0 280.8h1.6v1.6h-1.6zM2132.2 270.6h1.6v1.6h-1.6zM2146.3 260.6h1.6v1.6h-1.6zM2160.4 251.0h1.6v1.6h-1.6zM2174.6 241.9h1.6v1.6h-1.6zM2188.7 233.5h1.6v1.6h-1.6zM2202.8 225.9h1.6v1.6h-1.6zM2217.0 218.7h1.6v1.6h-1.6zM2231.1 211.9h1.6v1.6h-1.6zM2245.2 205.1h1.6v1.6h-1.6zM2259.4 198.2h1.6v1.6h-1.6zM2273.5 191.3h1.6v1.6h-1.6zM2287.7 184.3h1.6v1.6h-1.6zM2301.8 177.3h1.6v1.6h-1.6zM2315.9 170.3h1.6v1.6h-1.6zM2330.1 163.4h1.6v1.6h-1.6zM2344.2 156.4h1.6v1.6h-1.6z" fill="#CC28A2"/>
</g>
<g clip-path="url(#cb)">
<path d="M322.4 2024.6 L326.4 2022.3 L330.4 2020.1 L334.4 2017.8 L338.4 2015.6 L342.4 2013.3 L346.4 2011.1 L350.4 2008.8 L354.4 2006.5 L358.4 2004.2 L362.4 2001.9 L366.4 1999.6 L370.4 1997.3 L374.4 1995.0 L378.4 1992.6 L382.4 1990.3 L386.4 1988.0 L390.4 1985.6 L394.4 1983.3 L398.4 1980.9 L402.4 1978.5 L406.4 1976.2 L410.4 1973.8 L414.4 1971.4 L418.4 1969.0 L422.4 1966.6 L426.4 1964.2 L430.4 1961.8 L434.4 1959.4 L438.4 1956.9 L442.4 1954.5 L446.4 1952.0 L450.4 1949.6 L454.4 1947.1 L458.4 1944.6 L462.4 1942.1 L466.4 1939.6 L470.4 1937.1 L474.4 1934.6 L478.4 1932.1 L482.4 1929.6 L486.4 1927.0 L490.4 1924.5 L494.4 1922.0 L498.4 1919.4 L502.4 1916.8 L506.4 1914.2 L510.4 1911.6 L514.4 1909.0 L518.4 1906.4 L522.4 1903.8 L526.4 1901.2 L530.4 1898.5 L534.4 1895.9 L538.4 1893.2 L542.4 1890.5 L546.4 1887.8 L550.4 1885.2 L554.4 1882.5 L558.4 1879.8 L562.4 1877.1 L566.4 1874.4 L570.4 1871.8 L574.4 1869.1 L578.4 1866.4 L582.4 1863.7 L586.4 1861.0 L590.4 1858.3 L594.4 1855.7 L598.4 1853.0 L602.4 1850.3 L606.4 1847.7 L610.4 1845.1 L614.4 1842.5 L618.4 1840.0 L622.4 1837.4 L626.4 1834.9 L630.4 1832.4 L634.4 1830.0 L638.4 1827.5 L642.4 1825.1 L646.4 1822.6 L650.4 1820.3 L654.4 1817.9 L658.4 1815.5 L662.4 1813.2 L666.4 1810.9 L670.4 1808.6 L674.4 1806.3 L678.4 1803.9 L682.4 1801.5 L686.4 1799.0 L690.4 1796.5 L694.4 1793.9 L698.4 1791.3 L702.4 1788.5 L706.4 1785.7 L710.4 1782.9 L714.4 1780.1 L718.4 1777.2 L722.4 1774.4 L726.4 1771.6 L730.4 1768.8 L734.4 1766.1 L738.4 1763.4 L742.4 1760.7 L746.4 1758.1 L750.4 1755.5 L754.4 1753.0 L758.4 1750.4 L762.4 1747.9 L766.4 1745.4 L770.4 1743.0 L774.4 1740.5 L778.4 1738.1 L782.4 1735.7 L786.4 1733.4 L790.4 1731.1 L794.4 1728.8 L798.4 1726.5 L802.4 1724.2 L806.4 1722.0 L810.4 1719.7 L814.4 1717.4 L818.4 1715.2 L822.4 1712.9 L826.4 1710.6 L830.4 1708.3 L834.4 1706.0 L838.4 1703.7 L842.4 1701.3 L846.4 1699.0 L850.4 1696.6 L854.4 1694.2 L858.4 1691.8 L862.4 1689.3 L866.4 1686.8 L870.4 1684.2 L874.4 1681.5 L878.4 1678.9 L882.4 1676.2 L886.4 1673.5 L890.4 1670.9 L894.4 1668.2 L898.4 1665.6 L902.4 1663.1 L906.4 1660.5 L910.4 1658.1 L914.4 1655.6 L918.4 1653.2 L922.4 1650.8 L926.4 1648.5 L930.4 1646.2 L934.4 1644.0 L938.4 1641.8 L942.4 1639.7 L946.4 1637.5 L950.4 1635.4 L954.4 1633.3 L958.4 1631.2 L962.4 1629.1 L966.4 1627.0 L970.4 1624.9 L974.4 1622.7 L978.4 1620.6 L982.4 1618.4 L986.4 1616.2 L990.4 1614.0 L994.4 1611.9 L998.4 1609.7 L1002.4 1607.6 L1006.4 1605.5 L1010.4 1603.5 L1014.4 1601.5 L1018.4 1599.6 L1022.4 1597.7 L1026.4 1595.9 L1030.4 1594.1 L1034.4 1592.3 L1038.4 1590.6 L1042.4 1588.9 L1046.4 1587.2 L1050.4 1585.5 L1054.4 1583.9 L1058.4 1582.2 L1062.4 1580.6 L1066.4 1578.9 L1070.4 1577.3 L1074.4 1575.7 L1078.4 1574.1 L1082.4 1572.5 L1086.4 1571.0 L1090.4 1569.5 L1094.4 1568.0 L1098.4 1566.6 L1102.4 1565.2 L1106.4 1563.8 L1110.4 1562.6 L1114.4 1561.3 L1118.4 1560.1 L1122.4 1559.0 L1126.4 1557.8 L1130.4 1556.7 L1134.4 1555.6 L1138.4 1554.5 L1142.4 1553.4 L1146.4 1552.3 L1150.4 1551.2 L1154.4 1550.0 L1158.4 1548.8 L1162.4 1547.7 L1166.4 1546.5 L1170.4 1545.4 L1174.4 1544.2 L1178.4 1543.2 L1182.4 1542.2 L1186.4 1541.2 L1190.4 1540.3 L1194.4 1539.4 L1198.4 1538.6 L1202.4 1537.7 L1206.4 1536.9 L1210.4 1536.1 L1214.4 1535.4 L1218.4 1534.6 L1222.4 1533.8 L1226.4 1533.1 L1230.4 1532.3 L1234.4 1531.6 L1238.4 1530.8 L1242.4 1530.0 L1246.4 1529.2 L1250.4 1528.4 L1254.4 1527.6 L1258.4 1526.7 L1262.4 1525.9 L1266.4 1525.0 L1270.4 1524.1 L1274.4 1523.2 L1278.4 1522.2 L1282.4 1521.3 L1286.4 1520.4 L1290.4 1519.4 L1294.4 1518.5 L1298.4 1517.6 L1302.4 1516.6 L1306.4 1515.7 L1310.4 1514.8 L1314.4 1513.9 L1318.4 1513.0 L1322.4 1512.2 L1326.4 1511.4 L1330.4 1510.6 L1334.4 1509.8 L1338.4 1509.1 L1342.4 1508.3 L1346.4 1507.7 L1350.4 1507.0 L1354.4 1506.4 L1358.4 1505.7 L1362.4 1505.1 L1366.4 1504.5 L1370.4 1503.9 L1374.4 1503.3 L1378.4 1502.8 L1382.4 1502.2 L1386.4 1501.6 L1390.4 1501.0 L1394.4 1500.4 L1398.4 1499.9 L1402.4 1499.3 L1406.4 1498.8 L1410.4 1498.2 L1414.4 1497.7 L1418.4 1497.1 L1422.4 1496.6 L1426.4 1496.0 L1430.4 1495.5 L1434.4 1495.0 L1438.4 1494.5 L1442.4 1493.9 L1446.4 1493.4 L1450.4 1492.9 L1454.4 1492.4 L1458.4 1491.9 L1462.4 1491.4 L1466.4 1490.9 L1470.4 1490.5 L1474.4 1490.0 L1478.4 1489.5 L1482.4 1489.0 L1486.4 1488.6 L1490.4 1488.1 L1494.4 1487.7 L1498.4 1487.2 L1502.4 1486.8 L1506.4 1486.3 L1510.4 1485.9 L1514.4 1485.5 L1518.4 1485.0 L1522.4 1484.6 L1526.4 1484.2 L1530.4 1483.8 L1534.4 1483.4 L1538.4 1483.0 L1542.4 1482.6 L1546.4 1482.2 L1550.4 1481.8 L1554.4 1481.5 L1558.4 1481.1 L1562.4 1480.7 L1566.4 1480.4 L1570.4 1480.0 L1574.4 1479.7 L1578.4 1479.3 L1582.4 1479.0 L1586.4 1478.6 L1590.4 1478.3 L1594.4 1478.0 L1598.4 1477.7 L1602.4 1477.4 L1606.4 1477.1 L1610.4 1476.8 L1614.4 1476.5 L1618.4 1476.2 L1622.4 1475.9 L1626.4 1475.6 L1630.4 1475.4 L1634.4 1475.1 L1638.4 1474.8 L1642.4 1474.6 L1646.4 1474.3 L1650.4 1474.1 L1654.4 1473.9 L1658.4 1473.6 L1662.4 1473.4 L1666.4 1473.2 L1670.4 1472.9 L1674.4 1472.7 L1678.4 1472.5 L1682.4 1472.2 L1686.4 1472.0 L1690.4 1471.8 L1694.4 1471.6 L1698.4 1471.4 L1702.4 1471.1 L1706.4 1470.9 L1710.4 1470.7 L1714.4 1470.5 L1718.4 1470.3 L1722.4 1470.1 L1726.4 1469.9 L1730.4 1469.7 L1734.4 1469.5 L1738.4 1469.3 L1742.4 1469.1 L1746.4 1468.9 L1750.4 1468.7 L1754.4 1468.5 L1758.4 1468.3 L1762.4 1468.1 L1766.4 1467.9 L1770.4 1467.7 L1774.4 1467.5 L1778.4 1467.4 L1782.4 1467.2 L1786.4 1467.0 L1790.4 1466.8 L1794.4 1466.7 L1798.4 1466.5 L1802.4 1466.3 L1806.4 1466.2 L1810.4 1466.0 L1814.4 1465.8 L1818.4 1465.7 L1822.4 1465.5 L1826.4 1465.4 L1830.4 1465.2 L1834.4 1465.1 L1838.4 1464.9 L1842.4 1464.8 L1846.4 1464.6 L1850.4 1464.5 L1854.4 1464.4 L1858.4 1464.2 L1862.4 1464.1 L1866.4 1464.0 L1870.4 1463.9 L1874.4 1463.7 L1878.4 1463.6 L1882.4 1463.5 L1886.4 1463.4 L1890.4 1463.3 L1894.4 1463.2 L1898.4 1463.1 L1902.4 1463.0 L1906.4 1462.9 L1910.4 1462.8 L1914.4 1462.7 L1918.4 1462.6 L1922.4 1462.5 L1926.4 1462.4 L1930.4 1462.4 L1934.4 1462.3 L1938.4 1462.2 L1942.4 1462.1 L1946.4 1462.1 L1950.4 1462.0 L1954.4 1461.9 L1958.4 1461.9 L1962.4 1461.8 L1966.4 1461.7 L1970.4 1461.7 L1974.4 1461.6 L1978.4 1461.6 L1982.4 1461.5 L1986.4 1461.4 L1990.4 1461.4 L1994.4 1461.3 L1998.4 1461.3 L2002.4 1461.2 L2006.4 1461.2 L2010.4 1461.1 L2014.4 1461.0 L2018.4 1461.0 L2022.4 1460.9 L2026.4 1460.9 L2030.4 1460.8 L2034.4 1460.8 L2038.4 1460.7 L2042.4 1460.7 L2046.4 1460.6 L2050.4 1460.5 L2054.4 1460.5 L2058.4 1460.4 L2062.4 1460.4 L2066.4 1460.3 L2070.4 1460.3 L2074.4 1460.2 L2078.4 1460.2 L2082.4 1460.1 L2086.4 1460.1 L2090.4 1460.0 L2094.4 1460.0 L2098.4 1459.9 L2102.4 1459.9 L2106.4 1459.8 L2110.4 1459.8 L2114.4 1459.7 L2118.4 1459.7 L2122.4 1459.7 L2126.4 1459.6 L2130.4 1459.6 L2134.4 1459.5 L2138.4 1459.5 L2142.4 1459.4 L2146.4 1459.4 L2150.4 1459.3 L2154.4 1459.3 L2158.4 1459.3 L2162.4 1459.2 L2166.4 1459.2 L2170.4 1459.1 L2174.4 1459.1 L2178.4 1459.1 L2182.4 1459.0 L2186.4 1459.0 L2190.4 1459.0 L2194.4 1458.9 L2198.4 1458.9 L2202.4 1458.9 L2206.4 1458.8 L2210.4 1458.8 L2214.4 1458.8 L2218.4 1458.7 L2222.4 1458.7 L2226.4 1458.7 L2230.4 1458.6 L2234.4 1458.6 L2238.4 1458.6 L2242.4 1458.5 L2246.4 1458.5 L2250.4 1458.5 L2254.4 1458.5 L2258.4 1458.4 L2262.4 1458.4 L2266.4 1458.4 L2270.4 1458.4 L2274.4 1458.3 L2278.4 1458.3 L2282.4 1458.3 L2286.4 1458.3 L2290.4 1458.3 L2294.4 1458.2 L2298.4 1458.2 L2302.4 1458.2 L2306.4 1458.2 L2310.4 1458.2 L2314.4 1458.1 L2318.4 1458.1 L2322.4 1458.1 L2326.4 1458.1 L2330.4 1458.1 L2334.4 1458.1 L2338.4 1458.1 L2342.4 1458.1 L2346.4 1458.1 L2350.4 1458.0 L2354.4 1458.0 L2358.4 1458.0 L2362.4 1458.0 L2366.4 1458.0 L2370.4 1458.0 L2374.4 1458.0 L2378.4 1458.0 L2382.4 1458.0 L2386.4 1458.0 L2390.0 1458.0" fill="none" stroke="#8B3A8B" stroke-width="2.2"/>
<path d="M294.3 2026.6 L298.3 2024.2 L302.3 2021.7 L306.3 2019.3 L310.3 2016.8 L314.3 2014.3 L318.3 2011.8 L322.3 2009.3 L326.3 2006.8 L330.3 2004.3 L334.3 2001.8 L338.3 1999.2 L342.3 1996.7 L346.3 1994.1 L350.3 1991.5 L354.3 1988.9 L358.3 1986.3 L362.3 1983.7 L366.3 1981.0 L370.3 1978.3 L374.3 1975.7 L378.3 1973.0 L382.3 1970.3 L386.3 1967.6 L390.3 1964.9 L394.3 1962.2 L398.3 1959.5 L402.3 1956.9 L406.3 1954.2 L410.3 1951.6 L414.3 1949.0 L418.3 1946.5 L422.3 1943.9 L426.3 1941.4 L430.3 1938.8 L434.3 1936.3 L438.3 1933.8 L442.3 1931.3 L446.3 1928.8 L450.3 1926.2 L454.3 1923.7 L458.3 1921.2 L462.3 1918.6 L466.3 1916.1 L470.3 1913.5 L474.3 1910.8 L478.3 1908.2 L482.3 1905.5 L486.3 1902.8 L490.3 1900.1 L494.3 1897.3 L498.3 1894.6 L502.3 1891.9 L506.3 1889.2 L510.3 1886.5 L514.3 1883.8 L518.3 1881.2 L522.3 1878.7 L526.3 1876.2 L530.3 1873.8 L534.3 1871.4 L538.3 1869.2 L542.3 1866.9 L546.3 1864.8 L550.3 1862.7 L554.3 1860.6 L558.3 1858.6 L562.3 1856.6 L566.3 1854.5 L570.3 1852.4 L574.3 1850.3 L578.3 1848.2 L582.3 1845.9 L586.3 1843.6 L590.3 1841.2 L594.3 1838.7 L598.3 1836.1 L602.3 1833.4 L606.3 1830.6 L610.3 1827.7 L614.3 1824.7 L618.3 1821.7 L622.3 1818.7 L626.3 1815.6 L630.3 1812.6 L634.3 1809.6 L638.3 1806.6 L642.3 1803.6 L646.3 1800.6 L650.3 1797.7 L654.3 1794.8 L658.3 1791.8 L662.3 1789.0 L666.3 1786.1 L670.3 1783.2 L674.3 1780.5 L678.3 1777.7 L682.3 1775.1 L686.3 1772.5 L690.3 1770.0 L694.3 1767.6 L698.3 1765.3 L702.3 1763.0 L706.3 1760.8 L710.3 1758.7 L714.3 1756.6 L718.3 1754.5 L722.3 1752.4 L726.3 1750.3 L730.3 1748.2 L734.3 1746.2 L738.3 1744.1 L742.3 1742.0 L746.3 1739.8 L750.3 1737.7 L754.3 1735.6 L758.3 1733.5 L762.3 1731.4 L766.3 1729.3 L770.3 1727.1 L774.3 1724.9 L778.3 1722.8 L782.3 1720.6 L786.3 1718.4 L790.3 1716.1 L794.3 1713.9 L798.3 1711.6 L802.3 1709.3 L806.3 1707.0 L810.3 1704.8 L814.3 1702.5 L818.3 1700.2 L822.3 1697.9 L826.3 1695.6 L830.3 1693.3 L834.3 1691.1 L838.3 1688.8 L842.3 1686.5 L846.3 1684.3 L850.3 1682.0 L854.3 1679.8 L858.3 1677.5 L862.3 1675.2 L866.3 1673.0 L870.3 1670.7 L874.3 1668.5 L878.3 1666.2 L882.3 1664.0 L886.3 1661.7 L890.3 1659.5 L894.3 1657.2 L898.3 1655.0 L902.3 1652.7 L906.3 1650.5 L910.3 1648.2 L914.3 1646.0 L918.3 1643.7 L922.3 1641.5 L926.3 1639.3 L930.3 1637.0 L934.3 1634.8 L938.3 1632.5 L942.3 1630.3 L946.3 1628.0 L950.3 1625.8 L954.3 1623.6 L958.3 1621.4 L962.3 1619.2 L966.3 1617.0 L970.3 1614.9 L974.3 1612.8 L978.3 1610.7 L982.3 1608.7 L986.3 1606.6 L990.3 1604.6 L994.3 1602.6 L998.3 1600.6 L1002.3 1598.6 L1006.3 1596.7 L1010.3 1594.8 L1014.3 1592.9 L1018.3 1591.0 L1022.3 1589.1 L1026.3 1587.2 L1030.3 1585.4 L1034.3 1583.5 L1038.3 1581.7 L1042.3 1580.0 L1046.3 1578.2 L1050.3 1576.5 L1054.3 1574.8 L1058.3 1573.2 L1062.3 1571.6 L1066.3 1570.0 L1070.3 1568.5 L1074.3 1567.0 L1078.3 1565.5 L1082.3 1564.1 L1086.3 1562.6 L1090.3 1561.3 L1094.3 1559.9 L1098.3 1558.6 L1102.3 1557.3 L1106.3 1556.0 L1110.3 1554.8 L1114.3 1553.6 L1118.3 1552.4 L1122.3 1551.2 L1126.3 1550.1 L1130.3 1549.0 L1134.3 1547.9 L1138.3 1546.8 L1142.3 1545.7 L1146.3 1544.6 L1150.3 1543.5 L1154.3 1542.3 L1158.3 1541.2 L1162.3 1540.1 L1166.3 1539.0 L1170.3 1537.8 L1174.3 1536.6 L1178.3 1535.4 L1182.3 1534.1 L1186.3 1532.8 L1190.3 1531.5 L1194.3 1530.1 L1198.3 1528.7 L1202.3 1527.3 L1206.3 1525.8 L1210.3 1524.4 L1214.3 1522.9 L1218.3 1521.5 L1222.3 1520.0 L1226.3 1518.6 L1230.3 1517.2 L1234.3 1515.8 L1238.3 1514.5 L1242.3 1513.2 L1246.3 1512.0 L1250.3 1510.8 L1254.3 1509.7 L1258.3 1508.6 L1262.3 1507.5 L1266.3 1506.5 L1270.3 1505.5 L1274.3 1504.5 L1278.3 1503.5 L1282.3 1502.6 L1286.3 1501.6 L1290.3 1500.7 L1294.3 1499.8 L1298.3 1498.9 L1302.3 1498.0 L1306.3 1497.2 L1310.3 1496.3 L1314.3 1495.5 L1318.3 1494.7 L1322.3 1493.9 L1326.3 1493.2 L1330.3 1492.4 L1334.3 1491.7 L1338.3 1491.0 L1342.3 1490.3 L1346.3 1489.6 L1350.3 1489.0 L1354.3 1488.3 L1358.3 1487.7 L1362.3 1487.1 L1366.3 1486.4 L1370.3 1485.8 L1374.3 1485.2 L1378.3 1484.6 L1382.3 1484.0 L1386.3 1483.4 L1390.3 1482.8 L1394.3 1482.2 L1398.3 1481.6 L1402.3 1481.0 L1406.3 1480.4 L1410.3 1479.8 L1414.3 1479.2 L1418.3 1478.7 L1422.3 1478.1 L1426.3 1477.5 L1430.3 1477.0 L1434.3 1476.4 L1438.3 1475.8 L1442.3 1475.3 L1446.3 1474.7 L1450.3 1474.2 L1454.3 1473.7 L1458.3 1473.1 L1462.3 1472.6 L1466.3 1472.1 L1470.3 1471.6 L1474.3 1471.1 L1478.3 1470.5 L1482.3 1470.0 L1486.3 1469.5 L1490.3 1469.0 L1494.3 1468.6 L1498.3 1468.1 L1502.3 1467.6 L1506.3 1467.1 L1510.3 1466.7 L1514.3 1466.2 L1518.3 1465.7 L1522.3 1465.3 L1526.3 1464.8 L1530.3 1464.4 L1534.3 1464.0 L1538.3 1463.5 L1542.3 1463.1 L1546.3 1462.7 L1550.3 1462.3 L1554.3 1461.9 L1558.3 1461.5 L1562.3 1461.1 L1566.3 1460.7 L1570.3 1460.3 L1574.3 1460.0 L1578.3 1459.6 L1582.3 1459.2 L1586.3 1458.9 L1590.3 1458.5 L1594.3 1458.2 L1598.3 1457.9 L1602.3 1457.5 L1606.3 1457.2 L1610.3 1456.9 L1614.3 1456.6 L1618.3 1456.3 L1622.3 1456.0 L1626.3 1455.7 L1630.3 1455.4 L1634.3 1455.1 L1638.3 1454.9 L1642.3 1454.6 L1646.3 1454.4 L1650.3 1454.1 L1654.3 1453.9 L1658.3 1453.6 L1662.3 1453.4 L1666.3 1453.2 L1670.3 1452.9 L1674.3 1452.7 L1678.3 1452.5 L1682.3 1452.2 L1686.3 1452.0 L1690.3 1451.8 L1694.3 1451.6 L1698.3 1451.4 L1702.3 1451.2 L1706.3 1450.9 L1710.3 1450.7 L1714.3 1450.5 L1718.3 1450.3 L1722.3 1450.1 L1726.3 1449.9 L1730.3 1449.7 L1734.3 1449.5 L1738.3 1449.3 L1742.3 1449.1 L1746.3 1449.0 L1750.3 1448.8 L1754.3 1448.6 L1758.3 1448.4 L1762.3 1448.2 L1766.3 1448.0 L1770.3 1447.9 L1774.3 1447.7 L1778.3 1447.5 L1782.3 1447.3 L1786.3 1447.2 L1790.3 1447.0 L1794.3 1446.8 L1798.3 1446.7 L1802.3 1446.5 L1806.3 1446.4 L1810.3 1446.2 L1814.3 1446.0 L1818.3 1445.9 L1822.3 1445.7 L1826.3 1445.6 L1830.3 1445.4 L1834.3 1445.3 L1838.3 1445.2 L1842.3 1445.0 L1846.3 1444.9 L1850.3 1444.7 L1854.3 1444.6 L1858.3 1444.5 L1862.3 1444.3 L1866.3 1444.2 L1870.3 1444.1 L1874.3 1444.0 L1878.3 1443.8 L1882.3 1443.7 L1886.3 1443.6 L1890.3 1443.5 L1894.3 1443.4 L1898.3 1443.3 L1902.3 1443.2 L1906.3 1443.0 L1910.3 1442.9 L1914.3 1442.8 L1918.3 1442.7 L1922.3 1442.6 L1926.3 1442.5 L1930.3 1442.4 L1934.3 1442.4 L1938.3 1442.3 L1942.3 1442.2 L1946.3 1442.1 L1950.3 1442.0 L1954.3 1441.9 L1958.3 1441.8 L1962.3 1441.7 L1966.3 1441.7 L1970.3 1441.6 L1974.3 1441.5 L1978.3 1441.4 L1982.3 1441.3 L1986.3 1441.2 L1990.3 1441.2 L1994.3 1441.1 L1998.3 1441.0 L2002.3 1440.9 L2006.3 1440.8 L2010.3 1440.7 L2014.3 1440.7 L2018.3 1440.6 L2022.3 1440.5 L2026.3 1440.4 L2030.3 1440.3 L2034.3 1440.3 L2038.3 1440.2 L2042.3 1440.1 L2046.3 1440.0 L2050.3 1440.0 L2054.3 1439.9 L2058.3 1439.8 L2062.3 1439.7 L2066.3 1439.6 L2070.3 1439.6 L2074.3 1439.5 L2078.3 1439.4 L2082.3 1439.3 L2086.3 1439.3 L2090.3 1439.2 L2094.3 1439.1 L2098.3 1439.0 L2102.3 1439.0 L2106.3 1438.9 L2110.3 1438.8 L2114.3 1438.8 L2118.3 1438.7 L2122.3 1438.6 L2126.3 1438.6 L2130.3 1438.5 L2134.3 1438.4 L2138.3 1438.3 L2142.3 1438.3 L2146.3 1438.2 L2150.3 1438.2 L2154.3 1438.1 L2158.3 1438.0 L2162.3 1438.0 L2166.3 1437.9 L2170.3 1437.8 L2174.3 1437.8 L2178.3 1437.7 L2182.3 1437.7 L2186.3 1437.6 L2190.3 1437.5 L2194.3 1437.5 L2198.3 1437.4 L2202.3 1437.4 L2206.3 1437.3 L2210.3 1437.3 L2214.3 1437.2 L2218.3 1437.2 L2222.3 1437.1 L2226.3 1437.1 L2230.3 1437.0 L2234.3 1437.0 L2238.3 1436.9 L2242.3 1436.9 L2246.3 1436.8 L2250.3 1436.8 L2254.3 1436.8 L2258.3 1436.7 L2262.3 1436.7 L2266.3 1436.6 L2270.3 1436.6 L2274.3 1436.6 L2278.3 1436.5 L2282.3 1436.5 L2286.3 1436.5 L2290.3 1436.4 L2294.3 1436.4 L2298.3 1436.4 L2302.3 1436.3 L2306.3 1436.3 L2310.3 1436.3 L2314.3 1436.2 L2318.3 1436.2 L2322.3 1436.2 L2326.3 1436.2 L2330.3 1436.2 L2334.3 1436.1 L2338.3 1436.1 L2342.3 1436.1 L2346.3 1436.1 L2350.3 1436.1 L2354.3 1436.1 L2358.3 1436.0 L2362.3 1436.0 L2366.3 1436.0 L2370.3 1436.0 L2374.3 1436.0 L2378.3 1436.0 L2382.3 1436.0 L2386.3 1436.0 L2390.0 1436.0" fill="none" stroke="#F2DE00" stroke-width="2.2"/>
<path d="M266.0 2029.6 L270.0 2027.3 L274.0 2024.9 L278.0 2022.6 L282.0 2020.2 L286.0 2017.9 L290.0 2015.5 L294.0 2013.2 L298.0 2010.8 L302.0 2008.5 L306.0 2006.1 L310.0 2003.7 L314.0 2001.4 L318.0 1999.0 L322.0 1996.6 L326.0 1994.3 L330.0 1991.9 L334.0 1989.5 L338.0 1987.1 L342.0 1984.7 L346.0 1982.3 L350.0 1979.9 L354.0 1977.5 L358.0 1975.0 L362.0 1972.6 L366.0 1970.1 L370.0 1967.5 L374.0 1965.0 L378.0 1962.4 L382.0 1959.8 L386.0 1957.2 L390.0 1954.5 L394.0 1951.8 L398.0 1949.1 L402.0 1946.4 L406.0 1943.7 L410.0 1941.0 L414.0 1938.3 L418.0 1935.7 L422.0 1933.0 L426.0 1930.3 L430.0 1927.7 L434.0 1925.1 L438.0 1922.5 L442.0 1920.0 L446.0 1917.4 L450.0 1914.9 L454.0 1912.3 L458.0 1909.8 L462.0 1907.3 L466.0 1904.8 L470.0 1902.3 L474.0 1899.7 L478.0 1897.2 L482.0 1894.7 L486.0 1892.2 L490.0 1889.7 L494.0 1887.1 L498.0 1884.6 L502.0 1882.1 L506.0 1879.5 L510.0 1877.0 L514.0 1874.4 L518.0 1871.9 L522.0 1869.3 L526.0 1866.8 L530.0 1864.2 L534.0 1861.7 L538.0 1859.2 L542.0 1856.7 L546.0 1854.2 L550.0 1851.7 L554.0 1849.2 L558.0 1846.7 L562.0 1844.3 L566.0 1841.9 L570.0 1839.4 L574.0 1837.0 L578.0 1834.6 L582.0 1832.1 L586.0 1829.7 L590.0 1827.2 L594.0 1824.6 L598.0 1822.0 L602.0 1819.4 L606.0 1816.8 L610.0 1814.1 L614.0 1811.3 L618.0 1808.5 L622.0 1805.7 L626.0 1802.9 L630.0 1800.1 L634.0 1797.2 L638.0 1794.4 L642.0 1791.5 L646.0 1788.6 L650.0 1785.8 L654.0 1782.9 L658.0 1780.0 L662.0 1777.1 L666.0 1774.2 L670.0 1771.3 L674.0 1768.5 L678.0 1765.8 L682.0 1763.1 L686.0 1760.6 L690.0 1758.2 L694.0 1755.8 L698.0 1753.6 L702.0 1751.5 L706.0 1749.4 L710.0 1747.4 L714.0 1745.4 L718.0 1743.5 L722.0 1741.5 L726.0 1739.6 L730.0 1737.7 L734.0 1735.7 L738.0 1733.8 L742.0 1731.8 L746.0 1729.8 L750.0 1727.8 L754.0 1725.8 L758.0 1723.8 L762.0 1721.8 L766.0 1719.8 L770.0 1717.8 L774.0 1715.8 L778.0 1713.8 L782.0 1711.8 L786.0 1709.8 L790.0 1707.8 L794.0 1705.8 L798.0 1703.9 L802.0 1701.9 L806.0 1699.9 L810.0 1697.9 L814.0 1695.9 L818.0 1693.8 L822.0 1691.8 L826.0 1689.7 L830.0 1687.5 L834.0 1685.4 L838.0 1683.2 L842.0 1681.0 L846.0 1678.7 L850.0 1676.5 L854.0 1674.2 L858.0 1671.9 L862.0 1669.5 L866.0 1667.2 L870.0 1664.8 L874.0 1662.3 L878.0 1659.9 L882.0 1657.4 L886.0 1654.9 L890.0 1652.4 L894.0 1649.8 L898.0 1647.2 L902.0 1644.7 L906.0 1642.1 L910.0 1639.5 L914.0 1637.0 L918.0 1634.4 L922.0 1631.9 L926.0 1629.4 L930.0 1626.9 L934.0 1624.4 L938.0 1622.0 L942.0 1619.5 L946.0 1617.1 L950.0 1614.7 L954.0 1612.3 L958.0 1609.9 L962.0 1607.6 L966.0 1605.4 L970.0 1603.1 L974.0 1600.9 L978.0 1598.8 L982.0 1596.7 L986.0 1594.6 L990.0 1592.5 L994.0 1590.5 L998.0 1588.5 L1002.0 1586.6 L1006.0 1584.7 L1010.0 1582.8 L1014.0 1581.0 L1018.0 1579.2 L1022.0 1577.5 L1026.0 1575.8 L1030.0 1574.1 L1034.0 1572.4 L1038.0 1570.8 L1042.0 1569.2 L1046.0 1567.7 L1050.0 1566.2 L1054.0 1564.7 L1058.0 1563.2 L1062.0 1561.7 L1066.0 1560.3 L1070.0 1558.9 L1074.0 1557.5 L1078.0 1556.1 L1082.0 1554.8 L1086.0 1553.5 L1090.0 1552.2 L1094.0 1550.9 L1098.0 1549.6 L1102.0 1548.3 L1106.0 1547.0 L1110.0 1545.8 L1114.0 1544.6 L1118.0 1543.3 L1122.0 1542.1 L1126.0 1540.9 L1130.0 1539.7 L1134.0 1538.5 L1138.0 1537.3 L1142.0 1536.1 L1146.0 1534.8 L1150.0 1533.5 L1154.0 1532.2 L1158.0 1530.9 L1162.0 1529.5 L1166.0 1528.1 L1170.0 1526.7 L1174.0 1525.2 L1178.0 1523.7 L1182.0 1522.2 L1186.0 1520.7 L1190.0 1519.2 L1194.0 1517.7 L1198.0 1516.2 L1202.0 1514.6 L1206.0 1513.1 L1210.0 1511.6 L1214.0 1510.1 L1218.0 1508.6 L1222.0 1507.2 L1226.0 1505.7 L1230.0 1504.3 L1234.0 1503.0 L1238.0 1501.7 L1242.0 1500.4 L1246.0 1499.1 L1250.0 1497.9 L1254.0 1496.7 L1258.0 1495.6 L1262.0 1494.4 L1266.0 1493.3 L1270.0 1492.2 L1274.0 1491.2 L1278.0 1490.1 L1282.0 1489.1 L1286.0 1488.0 L1290.0 1487.0 L1294.0 1486.0 L1298.0 1485.0 L1302.0 1484.1 L1306.0 1483.1 L1310.0 1482.2 L1314.0 1481.3 L1318.0 1480.4 L1322.0 1479.5 L1326.0 1478.7 L1330.0 1477.9 L1334.0 1477.1 L1338.0 1476.3 L1342.0 1475.5 L1346.0 1474.8 L1350.0 1474.0 L1354.0 1473.3 L1358.0 1472.6 L1362.0 1471.9 L1366.0 1471.2 L1370.0 1470.5 L1374.0 1469.9 L1378.0 1469.2 L1382.0 1468.5 L1386.0 1467.8 L1390.0 1467.2 L1394.0 1466.5 L1398.0 1465.9 L1402.0 1465.2 L1406.0 1464.6 L1410.0 1463.9 L1414.0 1463.3 L1418.0 1462.6 L1422.0 1462.0 L1426.0 1461.4 L1430.0 1460.8 L1434.0 1460.2 L1438.0 1459.5 L1442.0 1458.9 L1446.0 1458.3 L1450.0 1457.7 L1454.0 1457.2 L1458.0 1456.6 L1462.0 1456.0 L1466.0 1455.4 L1470.0 1454.8 L1474.0 1454.3 L1478.0 1453.7 L1482.0 1453.2 L1486.0 1452.6 L1490.0 1452.1 L1494.0 1451.5 L1498.0 1451.0 L1502.0 1450.5 L1506.0 1449.9 L1510.0 1449.4 L1514.0 1448.9 L1518.0 1448.4 L1522.0 1447.9 L1526.0 1447.4 L1530.0 1446.9 L1534.0 1446.4 L1538.0 1446.0 L1542.0 1445.5 L1546.0 1445.0 L1550.0 1444.6 L1554.0 1444.1 L1558.0 1443.7 L1562.0 1443.2 L1566.0 1442.8 L1570.0 1442.4 L1574.0 1441.9 L1578.0 1441.5 L1582.0 1441.1 L1586.0 1440.7 L1590.0 1440.3 L1594.0 1439.9 L1598.0 1439.5 L1602.0 1439.2 L1606.0 1438.8 L1610.0 1438.4 L1614.0 1438.1 L1618.0 1437.7 L1622.0 1437.4 L1626.0 1437.0 L1630.0 1436.7 L1634.0 1436.4 L1638.0 1436.1 L1642.0 1435.8 L1646.0 1435.4 L1650.0 1435.1 L1654.0 1434.9 L1658.0 1434.6 L1662.0 1434.3 L1666.0 1434.0 L1670.0 1433.7 L1674.0 1433.4 L1678.0 1433.1 L1682.0 1432.9 L1686.0 1432.6 L1690.0 1432.3 L1694.0 1432.1 L1698.0 1431.8 L1702.0 1431.5 L1706.0 1431.3 L1710.0 1431.0 L1714.0 1430.7 L1718.0 1430.5 L1722.0 1430.2 L1726.0 1430.0 L1730.0 1429.7 L1734.0 1429.5 L1738.0 1429.2 L1742.0 1429.0 L1746.0 1428.7 L1750.0 1428.5 L1754.0 1428.2 L1758.0 1428.0 L1762.0 1427.8 L1766.0 1427.5 L1770.0 1427.3 L1774.0 1427.1 L1778.0 1426.9 L1782.0 1426.6 L1786.0 1426.4 L1790.0 1426.2 L1794.0 1426.0 L1798.0 1425.8 L1802.0 1425.6 L1806.0 1425.4 L1810.0 1425.2 L1814.0 1425.0 L1818.0 1424.8 L1822.0 1424.6 L1826.0 1424.4 L1830.0 1424.2 L1834.0 1424.0 L1838.0 1423.8 L1842.0 1423.7 L1846.0 1423.5 L1850.0 1423.3 L1854.0 1423.1 L1858.0 1423.0 L1862.0 1422.8 L1866.0 1422.6 L1870.0 1422.5 L1874.0 1422.3 L1878.0 1422.2 L1882.0 1422.0 L1886.0 1421.9 L1890.0 1421.7 L1894.0 1421.6 L1898.0 1421.5 L1902.0 1421.3 L1906.0 1421.2 L1910.0 1421.1 L1914.0 1421.0 L1918.0 1420.8 L1922.0 1420.7 L1926.0 1420.6 L1930.0 1420.5 L1934.0 1420.4 L1938.0 1420.3 L1942.0 1420.2 L1946.0 1420.1 L1950.0 1420.0 L1954.0 1419.9 L1958.0 1419.8 L1962.0 1419.7 L1966.0 1419.6 L1970.0 1419.6 L1974.0 1419.5 L1978.0 1419.4 L1982.0 1419.3 L1986.0 1419.2 L1990.0 1419.1 L1994.0 1419.0 L1998.0 1419.0 L2002.0 1418.9 L2006.0 1418.8 L2010.0 1418.7 L2014.0 1418.6 L2018.0 1418.5 L2022.0 1418.5 L2026.0 1418.4 L2030.0 1418.3 L2034.0 1418.2 L2038.0 1418.1 L2042.0 1418.0 L2046.0 1418.0 L2050.0 1417.9 L2054.0 1417.8 L2058.0 1417.7 L2062.0 1417.6 L2066.0 1417.6 L2070.0 1417.5 L2074.0 1417.4 L2078.0 1417.3 L2082.0 1417.3 L2086.0 1417.2 L2090.0 1417.1 L2094.0 1417.0 L2098.0 1417.0 L2102.0 1416.9 L2106.0 1416.8 L2110.0 1416.8 L2114.0 1416.7 L2118.0 1416.6 L2122.0 1416.5 L2126.0 1416.5 L2130.0 1416.4 L2134.0 1416.3 L2138.0 1416.3 L2142.0 1416.2 L2146.0 1416.1 L2150.0 1416.1 L2154.0 1416.0 L2158.0 1416.0 L2162.0 1415.9 L2166.0 1415.8 L2170.0 1415.8 L2174.0 1415.7 L2178.0 1415.7 L2182.0 1415.6 L2186.0 1415.5 L2190.0 1415.5 L2194.0 1415.4 L2198.0 1415.4 L2202.0 1415.3 L2206.0 1415.3 L2210.0 1415.2 L2214.0 1415.2 L2218.0 1415.1 L2222.0 1415.1 L2226.0 1415.0 L2230.0 1415.0 L2234.0 1414.9 L2238.0 1414.9 L2242.0 1414.8 L2246.0 1414.8 L2250.0 1414.8 L2254.0 1414.7 L2258.0 1414.7 L2262.0 1414.6 L2266.0 1414.6 L2270.0 1414.6 L2274.0 1414.5 L2278.0 1414.5 L2282.0 1414.5 L2286.0 1414.4 L2290.0 1414.4 L2294.0 1414.4 L2298.0 1414.3 L2302.0 1414.3 L2306.0 1414.3 L2310.0 1414.3 L2314.0 1414.2 L2318.0 1414.2 L2322.0 1414.2 L2326.0 1414.2 L2330.0 1414.2 L2334.0 1414.1 L2338.0 1414.1 L2342.0 1414.1 L2346.0 1414.1 L2350.0 1414.1 L2354.0 1414.1 L2358.0 1414.0 L2362.0 1414.0 L2366.0 1414.0 L2370.0 1414.0 L2374.0 1414.0 L2378.0 1414.0 L2382.0 1414.0 L2386.0 1414.0 L2390.0 1414.0" fill="none" stroke="#FFAAAA" stroke-width="2.2"/>
<path d="M254.0 1939.9 L258.0 1940.5 L262.0 1941.0 L266.0 1941.5 L270.0 1942.0 L274.0 1942.4 L278.0 1942.8 L282.0 1943.1 L286.0 1943.3 L290.0 1943.5 L294.0 1943.7 L298.0 1943.8 L302.0 1943.9 L306.0 1943.9 L310.0 1943.9 L314.0 1943.8 L318.0 1943.7 L322.0 1943.5 L326.0 1943.2 L330.0 1942.9 L334.0 1942.5 L338.0 1942.0 L342.0 1941.5 L346.0 1941.0 L350.0 1940.4 L354.0 1939.8 L358.0 1939.1 L362.0 1938.4 L366.0 1937.7 L370.0 1936.9 L374.0 1936.1 L378.0 1935.2 L382.0 1934.2 L386.0 1933.1 L390.0 1931.9 L394.0 1930.7 L398.0 1929.4 L402.0 1928.1 L406.0 1926.7 L410.0 1925.3 L414.0 1923.8 L418.0 1922.3 L422.0 1920.8 L426.0 1919.2 L430.0 1917.5 L434.0 1915.8 L438.0 1914.0 L442.0 1912.2 L446.0 1910.2 L450.0 1908.2 L454.0 1906.0 L458.0 1903.8 L462.0 1901.5 L466.0 1899.0 L470.0 1896.5 L474.0 1894.0 L478.0 1891.4 L482.0 1888.8 L486.0 1886.3 L490.0 1883.7 L494.0 1881.2 L498.0 1878.8 L502.0 1876.3 L506.0 1873.9 L510.0 1871.5 L514.0 1869.1 L518.0 1866.8 L522.0 1864.4 L526.0 1862.0 L530.0 1859.6 L534.0 1857.3 L538.0 1854.9 L542.0 1852.5 L546.0 1850.2 L550.0 1847.8 L554.0 1845.4 L558.0 1843.0 L562.0 1840.5 L566.0 1838.0 L570.0 1835.5 L574.0 1832.9 L578.0 1830.3 L582.0 1827.6 L586.0 1824.9 L590.0 1822.1 L594.0 1819.3 L598.0 1816.4 L602.0 1813.6 L606.0 1810.7 L610.0 1807.8 L614.0 1804.9 L618.0 1802.0 L622.0 1799.0 L626.0 1796.2 L630.0 1793.3 L634.0 1790.6 L638.0 1787.9 L642.0 1785.4 L646.0 1782.9 L650.0 1780.5 L654.0 1778.2 L658.0 1776.0 L662.0 1773.8 L666.0 1771.6 L670.0 1769.4 L674.0 1767.3 L678.0 1765.1 L682.0 1762.9 L686.0 1760.7 L690.0 1758.6 L694.0 1756.4 L698.0 1754.2 L702.0 1751.9 L706.0 1749.7 L710.0 1747.4 L714.0 1745.0 L718.0 1742.7 L722.0 1740.3 L726.0 1737.8 L730.0 1735.3 L734.0 1732.8 L738.0 1730.1 L742.0 1727.5 L746.0 1724.7 L750.0 1722.0 L754.0 1719.2 L758.0 1716.3 L762.0 1713.6 L766.0 1710.8 L770.0 1708.0 L774.0 1705.3 L778.0 1702.6 L782.0 1700.1 L786.0 1697.6 L790.0 1695.2 L794.0 1692.9 L798.0 1690.7 L802.0 1688.4 L806.0 1686.2 L810.0 1683.8 L814.0 1681.3 L818.0 1678.7 L822.0 1676.0 L826.0 1673.2 L830.0 1670.4 L834.0 1667.7 L838.0 1665.1 L842.0 1662.7 L846.0 1660.4 L850.0 1658.2 L854.0 1656.2 L858.0 1654.1 L862.0 1652.0 L866.0 1649.9 L870.0 1647.6 L874.0 1645.1 L878.0 1642.5 L882.0 1639.7 L886.0 1636.8 L890.0 1633.8 L894.0 1630.7 L898.0 1627.6 L902.0 1624.5 L906.0 1621.5 L910.0 1618.4 L914.0 1615.4 L918.0 1612.5 L922.0 1609.6 L926.0 1606.7 L930.0 1604.0 L934.0 1601.3 L938.0 1598.6 L942.0 1596.0 L946.0 1593.5 L950.0 1590.9 L954.0 1588.5 L958.0 1586.0 L962.0 1583.6 L966.0 1581.2 L970.0 1578.8 L974.0 1576.5 L978.0 1574.1 L982.0 1571.8 L986.0 1569.5 L990.0 1567.2 L994.0 1565.0 L998.0 1562.8 L1002.0 1560.8 L1006.0 1558.8 L1010.0 1556.9 L1014.0 1555.1 L1018.0 1553.4 L1022.0 1551.8 L1026.0 1550.3 L1030.0 1548.8 L1034.0 1547.4 L1038.0 1546.1 L1042.0 1544.8 L1046.0 1543.6 L1050.0 1542.3 L1054.0 1541.1 L1058.0 1540.0 L1062.0 1538.8 L1066.0 1537.6 L1070.0 1536.5 L1074.0 1535.4 L1078.0 1534.3 L1082.0 1533.2 L1086.0 1532.1 L1090.0 1531.1 L1094.0 1530.1 L1098.0 1529.1 L1102.0 1528.1 L1106.0 1527.1 L1110.0 1526.2 L1114.0 1525.3 L1118.0 1524.4 L1122.0 1523.5 L1126.0 1522.6 L1130.0 1521.8 L1134.0 1520.9 L1138.0 1520.0 L1142.0 1519.1 L1146.0 1518.2 L1150.0 1517.3 L1154.0 1516.3 L1158.0 1515.4 L1162.0 1514.4 L1166.0 1513.4 L1170.0 1512.3 L1174.0 1511.3 L1178.0 1510.2 L1182.0 1509.1 L1186.0 1508.0 L1190.0 1506.9 L1194.0 1505.8 L1198.0 1504.7 L1202.0 1503.6 L1206.0 1502.5 L1210.0 1501.4 L1214.0 1500.3 L1218.0 1499.2 L1222.0 1498.1 L1226.0 1497.0 L1230.0 1495.9 L1234.0 1494.8 L1238.0 1493.8 L1242.0 1492.7 L1246.0 1491.7 L1250.0 1490.7 L1254.0 1489.7 L1258.0 1488.7 L1262.0 1487.7 L1266.0 1486.7 L1270.0 1485.8 L1274.0 1484.8 L1278.0 1483.8 L1282.0 1482.9 L1286.0 1481.9 L1290.0 1480.9 L1294.0 1480.0 L1298.0 1479.0 L1302.0 1478.1 L1306.0 1477.2 L1310.0 1476.3 L1314.0 1475.4 L1318.0 1474.5 L1322.0 1473.6 L1326.0 1472.8 L1330.0 1472.0 L1334.0 1471.1 L1338.0 1470.3 L1342.0 1469.6 L1346.0 1468.8 L1350.0 1468.0 L1354.0 1467.3 L1358.0 1466.6 L1362.0 1465.8 L1366.0 1465.1 L1370.0 1464.4 L1374.0 1463.7 L1378.0 1463.0 L1382.0 1462.3 L1386.0 1461.5 L1390.0 1460.8 L1394.0 1460.1 L1398.0 1459.4 L1402.0 1458.7 L1406.0 1458.1 L1410.0 1457.4 L1414.0 1456.7 L1418.0 1456.0 L1422.0 1455.3 L1426.0 1454.6 L1430.0 1454.0 L1434.0 1453.3 L1438.0 1452.6 L1442.0 1452.0 L1446.0 1451.3 L1450.0 1450.7 L1454.0 1450.0 L1458.0 1449.4 L1462.0 1448.7 L1466.0 1448.1 L1470.0 1447.4 L1474.0 1446.8 L1478.0 1446.2 L1482.0 1445.6 L1486.0 1445.0 L1490.0 1444.4 L1494.0 1443.8 L1498.0 1443.2 L1502.0 1442.6 L1506.0 1442.0 L1510.0 1441.4 L1514.0 1440.8 L1518.0 1440.2 L1522.0 1439.7 L1526.0 1439.1 L1530.0 1438.6 L1534.0 1438.0 L1538.0 1437.5 L1542.0 1436.9 L1546.0 1436.4 L1550.0 1435.9 L1554.0 1435.4 L1558.0 1434.9 L1562.0 1434.4 L1566.0 1433.9 L1570.0 1433.4 L1574.0 1432.9 L1578.0 1432.4 L1582.0 1432.0 L1586.0 1431.5 L1590.0 1431.0 L1594.0 1430.6 L1598.0 1430.2 L1602.0 1429.7 L1606.0 1429.3 L1610.0 1428.9 L1614.0 1428.5 L1618.0 1428.1 L1622.0 1427.7 L1626.0 1427.3 L1630.0 1426.9 L1634.0 1426.6 L1638.0 1426.2 L1642.0 1425.8 L1646.0 1425.5 L1650.0 1425.2 L1654.0 1424.8 L1658.0 1424.5 L1662.0 1424.2 L1666.0 1423.9 L1670.0 1423.6 L1674.0 1423.2 L1678.0 1422.9 L1682.0 1422.6 L1686.0 1422.3 L1690.0 1422.0 L1694.0 1421.7 L1698.0 1421.4 L1702.0 1421.1 L1706.0 1420.8 L1710.0 1420.6 L1714.0 1420.3 L1718.0 1420.0 L1722.0 1419.7 L1726.0 1419.4 L1730.0 1419.2 L1734.0 1418.9 L1738.0 1418.6 L1742.0 1418.3 L1746.0 1418.1 L1750.0 1417.8 L1754.0 1417.6 L1758.0 1417.3 L1762.0 1417.1 L1766.0 1416.8 L1770.0 1416.6 L1774.0 1416.3 L1778.0 1416.1 L1782.0 1415.8 L1786.0 1415.6 L1790.0 1415.3 L1794.0 1415.1 L1798.0 1414.9 L1802.0 1414.7 L1806.0 1414.4 L1810.0 1414.2 L1814.0 1414.0 L1818.0 1413.8 L1822.0 1413.6 L1826.0 1413.3 L1830.0 1413.1 L1834.0 1412.9 L1838.0 1412.7 L1842.0 1412.5 L1846.0 1412.3 L1850.0 1412.1 L1854.0 1411.9 L1858.0 1411.7 L1862.0 1411.5 L1866.0 1411.4 L1870.0 1411.2 L1874.0 1411.0 L1878.0 1410.8 L1882.0 1410.6 L1886.0 1410.5 L1890.0 1410.3 L1894.0 1410.1 L1898.0 1410.0 L1902.0 1409.8 L1906.0 1409.6 L1910.0 1409.5 L1914.0 1409.3 L1918.0 1409.2 L1922.0 1409.0 L1926.0 1408.9 L1930.0 1408.7 L1934.0 1408.6 L1938.0 1408.4 L1942.0 1408.3 L1946.0 1408.1 L1950.0 1408.0 L1954.0 1407.9 L1958.0 1407.7 L1962.0 1407.6 L1966.0 1407.5 L1970.0 1407.3 L1974.0 1407.2 L1978.0 1407.1 L1982.0 1406.9 L1986.0 1406.8 L1990.0 1406.7 L1994.0 1406.5 L1998.0 1406.4 L2002.0 1406.3 L2006.0 1406.1 L2010.0 1406.0 L2014.0 1405.9 L2018.0 1405.8 L2022.0 1405.6 L2026.0 1405.5 L2030.0 1405.4 L2034.0 1405.2 L2038.0 1405.1 L2042.0 1405.0 L2046.0 1404.9 L2050.0 1404.7 L2054.0 1404.6 L2058.0 1404.5 L2062.0 1404.4 L2066.0 1404.2 L2070.0 1404.1 L2074.0 1404.0 L2078.0 1403.9 L2082.0 1403.7 L2086.0 1403.6 L2090.0 1403.5 L2094.0 1403.4 L2098.0 1403.3 L2102.0 1403.1 L2106.0 1403.0 L2110.0 1402.9 L2114.0 1402.8 L2118.0 1402.7 L2122.0 1402.6 L2126.0 1402.5 L2130.0 1402.4 L2134.0 1402.2 L2138.0 1402.1 L2142.0 1402.0 L2146.0 1401.9 L2150.0 1401.8 L2154.0 1401.7 L2158.0 1401.6 L2162.0 1401.5 L2166.0 1401.4 L2170.0 1401.3 L2174.0 1401.2 L2178.0 1401.1 L2182.0 1401.0 L2186.0 1400.9 L2190.0 1400.8 L2194.0 1400.7 L2198.0 1400.6 L2202.0 1400.5 L2206.0 1400.4 L2210.0 1400.3 L2214.0 1400.3 L2218.0 1400.2 L2222.0 1400.1 L2226.0 1400.0 L2230.0 1399.9 L2234.0 1399.8 L2238.0 1399.8 L2242.0 1399.7 L2246.0 1399.6 L2250.0 1399.5 L2254.0 1399.5 L2258.0 1399.4 L2262.0 1399.3 L2266.0 1399.2 L2270.0 1399.2 L2274.0 1399.1 L2278.0 1399.1 L2282.0 1399.0 L2286.0 1398.9 L2290.0 1398.9 L2294.0 1398.8 L2298.0 1398.8 L2302.0 1398.7 L2306.0 1398.7 L2310.0 1398.6 L2314.0 1398.6 L2318.0 1398.5 L2322.0 1398.5 L2326.0 1398.4 L2330.0 1398.4 L2334.0 1398.3 L2338.0 1398.3 L2342.0 1398.3 L2346.0 1398.2 L2350.0 1398.2 L2354.0 1398.2 L2358.0 1398.1 L2362.0 1398.1 L2366.0 1398.1 L2370.0 1398.1 L2374.0 1398.1 L2378.0 1398.0 L2382.0 1398.0 L2386.0 1398.0 L2390.0 1398.0" fill="none" stroke="#333333" stroke-width="2.2"/>
<path d="M254.0 1709.4 L258.0 1709.8 L262.0 1710.3 L266.0 1710.7 L270.0 1711.1 L274.0 1711.6 L278.0 1712.0 L282.0 1712.5 L286.0 1712.9 L290.0 1713.4 L294.0 1713.9 L298.0 1714.4 L302.0 1714.9 L306.0 1715.4 L310.0 1715.9 L314.0 1716.4 L318.0 1716.9 L322.0 1717.5 L326.0 1718.0 L330.0 1718.6 L334.0 1719.1 L338.0 1719.7 L342.0 1720.3 L346.0 1720.8 L350.0 1721.5 L354.0 1722.1 L358.0 1722.7 L362.0 1723.4 L366.0 1724.0 L370.0 1724.7 L374.0 1725.4 L378.0 1726.1 L382.0 1726.8 L386.0 1727.5 L390.0 1728.2 L394.0 1728.9 L398.0 1729.6 L402.0 1730.3 L406.0 1730.9 L410.0 1731.6 L414.0 1732.3 L418.0 1732.9 L422.0 1733.6 L426.0 1734.2 L430.0 1734.8 L434.0 1735.4 L438.0 1736.0 L442.0 1736.6 L446.0 1737.2 L450.0 1737.7 L454.0 1738.3 L458.0 1738.8 L462.0 1739.4 L466.0 1739.9 L470.0 1740.5 L474.0 1741.0 L478.0 1741.5 L482.0 1742.1 L486.0 1742.6 L490.0 1743.1 L494.0 1743.6 L498.0 1744.1 L502.0 1744.7 L506.0 1745.2 L510.0 1745.7 L514.0 1746.2 L518.0 1746.7 L522.0 1747.2 L526.0 1747.6 L530.0 1748.1 L534.0 1748.6 L538.0 1749.1 L542.0 1749.6 L546.0 1750.1 L550.0 1750.6 L554.0 1751.1 L558.0 1751.6 L562.0 1752.1 L566.0 1752.5 L570.0 1753.0 L574.0 1753.4 L578.0 1753.9 L582.0 1754.3 L586.0 1754.7 L590.0 1755.1 L594.0 1755.4 L598.0 1755.8 L602.0 1756.1 L606.0 1756.4 L610.0 1756.7 L614.0 1756.9 L618.0 1757.0 L622.0 1757.1 L626.0 1757.0 L630.0 1756.8 L634.0 1756.4 L638.0 1756.0 L642.0 1755.4 L646.0 1754.8 L650.0 1754.1 L654.0 1753.3 L658.0 1752.5 L662.0 1751.7 L666.0 1750.8 L670.0 1749.8 L674.0 1748.7 L678.0 1747.6 L682.0 1746.4 L686.0 1745.2 L690.0 1743.9 L694.0 1742.5 L698.0 1741.0 L702.0 1739.5 L706.0 1737.9 L710.0 1736.3 L714.0 1734.6 L718.0 1732.9 L722.0 1731.1 L726.0 1729.2 L730.0 1727.3 L734.0 1725.4 L738.0 1723.4 L742.0 1721.4 L746.0 1719.2 L750.0 1717.0 L754.0 1714.8 L758.0 1712.5 L762.0 1710.1 L766.0 1707.7 L770.0 1705.3 L774.0 1703.0 L778.0 1700.7 L782.0 1698.5 L786.0 1696.3 L790.0 1694.3 L794.0 1692.2 L798.0 1690.2 L802.0 1688.2 L806.0 1686.1 L810.0 1683.9 L814.0 1681.6 L818.0 1679.2 L822.0 1676.7 L826.0 1674.1 L830.0 1671.5 L834.0 1668.9 L838.0 1666.3 L842.0 1663.8 L846.0 1661.3 L850.0 1658.9 L854.0 1656.5 L858.0 1654.0 L862.0 1651.6 L866.0 1649.1 L870.0 1646.4 L874.0 1643.7 L878.0 1640.8 L882.0 1637.9 L886.0 1634.9 L890.0 1631.8 L894.0 1628.7 L898.0 1625.7 L902.0 1622.7 L906.0 1619.7 L910.0 1616.8 L914.0 1614.0 L918.0 1611.2 L922.0 1608.4 L926.0 1605.7 L930.0 1603.0 L934.0 1600.3 L938.0 1597.7 L942.0 1595.1 L946.0 1592.5 L950.0 1590.0 L954.0 1587.5 L958.0 1585.1 L962.0 1582.6 L966.0 1580.2 L970.0 1577.8 L974.0 1575.5 L978.0 1573.1 L982.0 1570.8 L986.0 1568.5 L990.0 1566.2 L994.0 1564.0 L998.0 1561.8 L1002.0 1559.8 L1006.0 1557.8 L1010.0 1555.9 L1014.0 1554.1 L1018.0 1552.4 L1022.0 1550.8 L1026.0 1549.3 L1030.0 1547.8 L1034.0 1546.4 L1038.0 1545.1 L1042.0 1543.8 L1046.0 1542.6 L1050.0 1541.3 L1054.0 1540.1 L1058.0 1539.0 L1062.0 1537.8 L1066.0 1536.6 L1070.0 1535.5 L1074.0 1534.4 L1078.0 1533.3 L1082.0 1532.2 L1086.0 1531.2 L1090.0 1530.1 L1094.0 1529.1 L1098.0 1528.1 L1102.0 1527.1 L1106.0 1526.1 L1110.0 1525.2 L1114.0 1524.2 L1118.0 1523.3 L1122.0 1522.3 L1126.0 1521.4 L1130.0 1520.5 L1134.0 1519.6 L1138.0 1518.7 L1142.0 1517.7 L1146.0 1516.8 L1150.0 1515.8 L1154.0 1514.8 L1158.0 1513.8 L1162.0 1512.8 L1166.0 1511.8 L1170.0 1510.7 L1174.0 1509.6 L1178.0 1508.6 L1182.0 1507.5 L1186.0 1506.4 L1190.0 1505.3 L1194.0 1504.2 L1198.0 1503.0 L1202.0 1501.9 L1206.0 1500.8 L1210.0 1499.7 L1214.0 1498.6 L1218.0 1497.4 L1222.0 1496.3 L1226.0 1495.2 L1230.0 1494.1 L1234.0 1493.0 L1238.0 1491.9 L1242.0 1490.9 L1246.0 1489.8 L1250.0 1488.7 L1254.0 1487.7 L1258.0 1486.6 L1262.0 1485.6 L1266.0 1484.5 L1270.0 1483.4 L1274.0 1482.4 L1278.0 1481.3 L1282.0 1480.3 L1286.0 1479.2 L1290.0 1478.1 L1294.0 1477.1 L1298.0 1476.1 L1302.0 1475.0 L1306.0 1474.0 L1310.0 1473.0 L1314.0 1472.0 L1318.0 1471.0 L1322.0 1470.1 L1326.0 1469.2 L1330.0 1468.2 L1334.0 1467.4 L1338.0 1466.5 L1342.0 1465.7 L1346.0 1464.8 L1350.0 1464.1 L1354.0 1463.3 L1358.0 1462.5 L1362.0 1461.8 L1366.0 1461.0 L1370.0 1460.3 L1374.0 1459.5 L1378.0 1458.8 L1382.0 1458.1 L1386.0 1457.4 L1390.0 1456.7 L1394.0 1455.9 L1398.0 1455.2 L1402.0 1454.5 L1406.0 1453.8 L1410.0 1453.1 L1414.0 1452.5 L1418.0 1451.8 L1422.0 1451.1 L1426.0 1450.4 L1430.0 1449.7 L1434.0 1449.1 L1438.0 1448.4 L1442.0 1447.8 L1446.0 1447.1 L1450.0 1446.5 L1454.0 1445.8 L1458.0 1445.2 L1462.0 1444.6 L1466.0 1443.9 L1470.0 1443.3 L1474.0 1442.7 L1478.0 1442.1 L1482.0 1441.5 L1486.0 1440.9 L1490.0 1440.3 L1494.0 1439.7 L1498.0 1439.1 L1502.0 1438.5 L1506.0 1438.0 L1510.0 1437.4 L1514.0 1436.8 L1518.0 1436.3 L1522.0 1435.7 L1526.0 1435.2 L1530.0 1434.6 L1534.0 1434.1 L1538.0 1433.6 L1542.0 1433.1 L1546.0 1432.5 L1550.0 1432.0 L1554.0 1431.5 L1558.0 1431.0 L1562.0 1430.5 L1566.0 1430.0 L1570.0 1429.5 L1574.0 1429.1 L1578.0 1428.6 L1582.0 1428.1 L1586.0 1427.7 L1590.0 1427.2 L1594.0 1426.8 L1598.0 1426.3 L1602.0 1425.9 L1606.0 1425.5 L1610.0 1425.1 L1614.0 1424.6 L1618.0 1424.2 L1622.0 1423.8 L1626.0 1423.4 L1630.0 1423.0 L1634.0 1422.7 L1638.0 1422.3 L1642.0 1421.9 L1646.0 1421.5 L1650.0 1421.2 L1654.0 1420.8 L1658.0 1420.5 L1662.0 1420.1 L1666.0 1419.8 L1670.0 1419.4 L1674.0 1419.1 L1678.0 1418.7 L1682.0 1418.4 L1686.0 1418.1 L1690.0 1417.7 L1694.0 1417.4 L1698.0 1417.1 L1702.0 1416.8 L1706.0 1416.4 L1710.0 1416.1 L1714.0 1415.8 L1718.0 1415.5 L1722.0 1415.2 L1726.0 1414.9 L1730.0 1414.6 L1734.0 1414.2 L1738.0 1413.9 L1742.0 1413.6 L1746.0 1413.3 L1750.0 1413.0 L1754.0 1412.8 L1758.0 1412.5 L1762.0 1412.2 L1766.0 1411.9 L1770.0 1411.6 L1774.0 1411.3 L1778.0 1411.1 L1782.0 1410.8 L1786.0 1410.5 L1790.0 1410.2 L1794.0 1410.0 L1798.0 1409.7 L1802.0 1409.4 L1806.0 1409.2 L1810.0 1408.9 L1814.0 1408.7 L1818.0 1408.4 L1822.0 1408.2 L1826.0 1407.9 L1830.0 1407.7 L1834.0 1407.5 L1838.0 1407.2 L1842.0 1407.0 L1846.0 1406.8 L1850.0 1406.6 L1854.0 1406.3 L1858.0 1406.1 L1862.0 1405.9 L1866.0 1405.7 L1870.0 1405.5 L1874.0 1405.3 L1878.0 1405.1 L1882.0 1404.9 L1886.0 1404.7 L1890.0 1404.5 L1894.0 1404.3 L1898.0 1404.1 L1902.0 1403.9 L1906.0 1403.7 L1910.0 1403.6 L1914.0 1403.4 L1918.0 1403.2 L1922.0 1403.1 L1926.0 1402.9 L1930.0 1402.7 L1934.0 1402.6 L1938.0 1402.4 L1942.0 1402.3 L1946.0 1402.1 L1950.0 1402.0 L1954.0 1401.9 L1958.0 1401.7 L1962.0 1401.6 L1966.0 1401.4 L1970.0 1401.3 L1974.0 1401.2 L1978.0 1401.0 L1982.0 1400.9 L1986.0 1400.8 L1990.0 1400.6 L1994.0 1400.5 L1998.0 1400.4 L2002.0 1400.2 L2006.0 1400.1 L2010.0 1399.9 L2014.0 1399.8 L2018.0 1399.7 L2022.0 1399.5 L2026.0 1399.4 L2030.0 1399.3 L2034.0 1399.1 L2038.0 1399.0 L2042.0 1398.9 L2046.0 1398.8 L2050.0 1398.6 L2054.0 1398.5 L2058.0 1398.4 L2062.0 1398.2 L2066.0 1398.1 L2070.0 1398.0 L2074.0 1397.9 L2078.0 1397.7 L2082.0 1397.6 L2086.0 1397.5 L2090.0 1397.4 L2094.0 1397.2 L2098.0 1397.1 L2102.0 1397.0 L2106.0 1396.9 L2110.0 1396.8 L2114.0 1396.6 L2118.0 1396.5 L2122.0 1396.4 L2126.0 1396.3 L2130.0 1396.2 L2134.0 1396.1 L2138.0 1396.0 L2142.0 1395.8 L2146.0 1395.7 L2150.0 1395.6 L2154.0 1395.5 L2158.0 1395.4 L2162.0 1395.3 L2166.0 1395.2 L2170.0 1395.1 L2174.0 1395.0 L2178.0 1394.9 L2182.0 1394.8 L2186.0 1394.7 L2190.0 1394.6 L2194.0 1394.5 L2198.0 1394.4 L2202.0 1394.3 L2206.0 1394.2 L2210.0 1394.2 L2214.0 1394.1 L2218.0 1394.0 L2222.0 1393.9 L2226.0 1393.8 L2230.0 1393.7 L2234.0 1393.7 L2238.0 1393.6 L2242.0 1393.5 L2246.0 1393.4 L2250.0 1393.3 L2254.0 1393.3 L2258.0 1393.2 L2262.0 1393.1 L2266.0 1393.1 L2270.0 1393.0 L2274.0 1392.9 L2278.0 1392.9 L2282.0 1392.8 L2286.0 1392.8 L2290.0 1392.7 L2294.0 1392.7 L2298.0 1392.6 L2302.0 1392.6 L2306.0 1392.5 L2310.0 1392.5 L2314.0 1392.4 L2318.0 1392.4 L2322.0 1392.3 L2326.0 1392.3 L2330.0 1392.3 L2334.0 1392.2 L2338.0 1392.2 L2342.0 1392.2 L2346.0 1392.1 L2350.0 1392.1 L2354.0 1392.1 L2358.0 1392.1 L2362.0 1392.1 L2366.0 1392.1 L2370.0 1392.0 L2374.0 1392.0 L2378.0 1392.0 L2382.0 1392.0 L2386.0 1392.0 L2390.0 1392.0" fill="none" stroke="#339933" stroke-width="2.2"/>
<path d="M254.0 1587.1 L258.0 1587.3 L262.0 1587.6 L266.0 1587.8 L270.0 1588.1 L274.0 1588.4 L278.0 1588.6 L282.0 1588.9 L286.0 1589.3 L290.0 1589.6 L294.0 1589.9 L298.0 1590.3 L302.0 1590.7 L306.0 1591.0 L310.0 1591.4 L314.0 1591.8 L318.0 1592.3 L322.0 1592.7 L326.0 1593.1 L330.0 1593.5 L334.0 1594.0 L338.0 1594.5 L342.0 1595.0 L346.0 1595.5 L350.0 1596.0 L354.0 1596.6 L358.0 1597.2 L362.0 1597.8 L366.0 1598.5 L370.0 1599.1 L374.0 1599.8 L378.0 1600.5 L382.0 1601.3 L386.0 1602.0 L390.0 1602.7 L394.0 1603.5 L398.0 1604.2 L402.0 1604.9 L406.0 1605.6 L410.0 1606.3 L414.0 1607.0 L418.0 1607.7 L422.0 1608.4 L426.0 1609.0 L430.0 1609.6 L434.0 1610.2 L438.0 1610.8 L442.0 1611.3 L446.0 1611.9 L450.0 1612.4 L454.0 1612.9 L458.0 1613.5 L462.0 1614.0 L466.0 1614.5 L470.0 1615.0 L474.0 1615.5 L478.0 1616.0 L482.0 1616.5 L486.0 1617.0 L490.0 1617.4 L494.0 1617.9 L498.0 1618.4 L502.0 1618.9 L506.0 1619.4 L510.0 1619.8 L514.0 1620.3 L518.0 1620.8 L522.0 1621.2 L526.0 1621.7 L530.0 1622.1 L534.0 1622.6 L538.0 1623.0 L542.0 1623.4 L546.0 1623.8 L550.0 1624.3 L554.0 1624.7 L558.0 1625.1 L562.0 1625.5 L566.0 1625.9 L570.0 1626.4 L574.0 1626.8 L578.0 1627.3 L582.0 1627.7 L586.0 1628.2 L590.0 1628.7 L594.0 1629.3 L598.0 1629.8 L602.0 1630.4 L606.0 1631.1 L610.0 1631.7 L614.0 1632.4 L618.0 1633.2 L622.0 1633.9 L626.0 1634.7 L630.0 1635.4 L634.0 1636.2 L638.0 1636.9 L642.0 1637.6 L646.0 1638.3 L650.0 1639.0 L654.0 1639.7 L658.0 1640.3 L662.0 1640.9 L666.0 1641.6 L670.0 1642.2 L674.0 1642.8 L678.0 1643.3 L682.0 1643.9 L686.0 1644.5 L690.0 1645.0 L694.0 1645.6 L698.0 1646.2 L702.0 1646.7 L706.0 1647.3 L710.0 1647.8 L714.0 1648.3 L718.0 1648.8 L722.0 1649.2 L726.0 1649.6 L730.0 1649.9 L734.0 1650.1 L738.0 1650.3 L742.0 1650.5 L746.0 1650.6 L750.0 1650.7 L754.0 1650.8 L758.0 1650.9 L762.0 1650.9 L766.0 1651.0 L770.0 1651.0 L774.0 1651.0 L778.0 1651.0 L782.0 1650.9 L786.0 1650.7 L790.0 1650.5 L794.0 1650.2 L798.0 1649.8 L802.0 1649.4 L806.0 1648.9 L810.0 1648.3 L814.0 1647.7 L818.0 1647.1 L822.0 1646.4 L826.0 1645.7 L830.0 1645.0 L834.0 1644.2 L838.0 1643.3 L842.0 1642.4 L846.0 1641.4 L850.0 1640.4 L854.0 1639.3 L858.0 1638.1 L862.0 1636.8 L866.0 1635.5 L870.0 1634.0 L874.0 1632.5 L878.0 1630.8 L882.0 1629.0 L886.0 1627.1 L890.0 1625.2 L894.0 1623.1 L898.0 1621.0 L902.0 1618.8 L906.0 1616.5 L910.0 1614.2 L914.0 1611.9 L918.0 1609.5 L922.0 1607.1 L926.0 1604.7 L930.0 1602.2 L934.0 1599.7 L938.0 1597.1 L942.0 1594.6 L946.0 1592.0 L950.0 1589.4 L954.0 1586.9 L958.0 1584.4 L962.0 1581.9 L966.0 1579.4 L970.0 1577.0 L974.0 1574.6 L978.0 1572.3 L982.0 1570.0 L986.0 1567.7 L990.0 1565.5 L994.0 1563.3 L998.0 1561.1 L1002.0 1559.1 L1006.0 1557.1 L1010.0 1555.2 L1014.0 1553.5 L1018.0 1551.8 L1022.0 1550.2 L1026.0 1548.7 L1030.0 1547.2 L1034.0 1545.8 L1038.0 1544.5 L1042.0 1543.2 L1046.0 1541.9 L1050.0 1540.7 L1054.0 1539.5 L1058.0 1538.3 L1062.0 1537.1 L1066.0 1535.9 L1070.0 1534.8 L1074.0 1533.7 L1078.0 1532.6 L1082.0 1531.5 L1086.0 1530.5 L1090.0 1529.4 L1094.0 1528.4 L1098.0 1527.4 L1102.0 1526.4 L1106.0 1525.4 L1110.0 1524.5 L1114.0 1523.5 L1118.0 1522.6 L1122.0 1521.6 L1126.0 1520.7 L1130.0 1519.8 L1134.0 1518.9 L1138.0 1517.9 L1142.0 1517.0 L1146.0 1516.0 L1150.0 1515.0 L1154.0 1514.0 L1158.0 1513.0 L1162.0 1511.9 L1166.0 1510.9 L1170.0 1509.8 L1174.0 1508.7 L1178.0 1507.6 L1182.0 1506.4 L1186.0 1505.3 L1190.0 1504.1 L1194.0 1503.0 L1198.0 1501.8 L1202.0 1500.7 L1206.0 1499.5 L1210.0 1498.3 L1214.0 1497.1 L1218.0 1496.0 L1222.0 1494.8 L1226.0 1493.6 L1230.0 1492.5 L1234.0 1491.3 L1238.0 1490.2 L1242.0 1489.0 L1246.0 1487.9 L1250.0 1486.8 L1254.0 1485.6 L1258.0 1484.5 L1262.0 1483.4 L1266.0 1482.2 L1270.0 1481.1 L1274.0 1479.9 L1278.0 1478.8 L1282.0 1477.6 L1286.0 1476.4 L1290.0 1475.3 L1294.0 1474.1 L1298.0 1473.0 L1302.0 1471.8 L1306.0 1470.7 L1310.0 1469.6 L1314.0 1468.5 L1318.0 1467.5 L1322.0 1466.5 L1326.0 1465.4 L1330.0 1464.5 L1334.0 1463.5 L1338.0 1462.6 L1342.0 1461.7 L1346.0 1460.9 L1350.0 1460.1 L1354.0 1459.3 L1358.0 1458.5 L1362.0 1457.7 L1366.0 1457.0 L1370.0 1456.3 L1374.0 1455.5 L1378.0 1454.8 L1382.0 1454.1 L1386.0 1453.4 L1390.0 1452.7 L1394.0 1451.9 L1398.0 1451.3 L1402.0 1450.6 L1406.0 1449.9 L1410.0 1449.2 L1414.0 1448.5 L1418.0 1447.9 L1422.0 1447.2 L1426.0 1446.5 L1430.0 1445.9 L1434.0 1445.3 L1438.0 1444.6 L1442.0 1444.0 L1446.0 1443.4 L1450.0 1442.7 L1454.0 1442.1 L1458.0 1441.5 L1462.0 1440.9 L1466.0 1440.3 L1470.0 1439.7 L1474.0 1439.2 L1478.0 1438.6 L1482.0 1438.0 L1486.0 1437.4 L1490.0 1436.9 L1494.0 1436.3 L1498.0 1435.8 L1502.0 1435.2 L1506.0 1434.7 L1510.0 1434.1 L1514.0 1433.6 L1518.0 1433.1 L1522.0 1432.6 L1526.0 1432.1 L1530.0 1431.6 L1534.0 1431.1 L1538.0 1430.6 L1542.0 1430.1 L1546.0 1429.6 L1550.0 1429.1 L1554.0 1428.6 L1558.0 1428.2 L1562.0 1427.7 L1566.0 1427.2 L1570.0 1426.8 L1574.0 1426.3 L1578.0 1425.9 L1582.0 1425.4 L1586.0 1425.0 L1590.0 1424.6 L1594.0 1424.1 L1598.0 1423.7 L1602.0 1423.3 L1606.0 1422.9 L1610.0 1422.5 L1614.0 1422.1 L1618.0 1421.7 L1622.0 1421.3 L1626.0 1420.9 L1630.0 1420.5 L1634.0 1420.1 L1638.0 1419.8 L1642.0 1419.4 L1646.0 1419.0 L1650.0 1418.7 L1654.0 1418.3 L1658.0 1418.0 L1662.0 1417.6 L1666.0 1417.3 L1670.0 1416.9 L1674.0 1416.6 L1678.0 1416.2 L1682.0 1415.9 L1686.0 1415.5 L1690.0 1415.2 L1694.0 1414.9 L1698.0 1414.5 L1702.0 1414.2 L1706.0 1413.9 L1710.0 1413.6 L1714.0 1413.2 L1718.0 1412.9 L1722.0 1412.6 L1726.0 1412.3 L1730.0 1412.0 L1734.0 1411.7 L1738.0 1411.4 L1742.0 1411.1 L1746.0 1410.8 L1750.0 1410.5 L1754.0 1410.2 L1758.0 1409.9 L1762.0 1409.6 L1766.0 1409.3 L1770.0 1409.0 L1774.0 1408.7 L1778.0 1408.4 L1782.0 1408.1 L1786.0 1407.9 L1790.0 1407.6 L1794.0 1407.3 L1798.0 1407.1 L1802.0 1406.8 L1806.0 1406.5 L1810.0 1406.3 L1814.0 1406.0 L1818.0 1405.7 L1822.0 1405.5 L1826.0 1405.2 L1830.0 1405.0 L1834.0 1404.8 L1838.0 1404.5 L1842.0 1404.3 L1846.0 1404.0 L1850.0 1403.8 L1854.0 1403.6 L1858.0 1403.3 L1862.0 1403.1 L1866.0 1402.9 L1870.0 1402.7 L1874.0 1402.5 L1878.0 1402.2 L1882.0 1402.0 L1886.0 1401.8 L1890.0 1401.6 L1894.0 1401.4 L1898.0 1401.2 L1902.0 1401.0 L1906.0 1400.8 L1910.0 1400.6 L1914.0 1400.5 L1918.0 1400.3 L1922.0 1400.1 L1926.0 1399.9 L1930.0 1399.7 L1934.0 1399.6 L1938.0 1399.4 L1942.0 1399.2 L1946.0 1399.1 L1950.0 1398.9 L1954.0 1398.7 L1958.0 1398.6 L1962.0 1398.4 L1966.0 1398.3 L1970.0 1398.1 L1974.0 1398.0 L1978.0 1397.8 L1982.0 1397.6 L1986.0 1397.5 L1990.0 1397.3 L1994.0 1397.2 L1998.0 1397.0 L2002.0 1396.9 L2006.0 1396.7 L2010.0 1396.6 L2014.0 1396.4 L2018.0 1396.3 L2022.0 1396.1 L2026.0 1396.0 L2030.0 1395.8 L2034.0 1395.7 L2038.0 1395.5 L2042.0 1395.4 L2046.0 1395.2 L2050.0 1395.1 L2054.0 1394.9 L2058.0 1394.8 L2062.0 1394.6 L2066.0 1394.5 L2070.0 1394.3 L2074.0 1394.2 L2078.0 1394.0 L2082.0 1393.9 L2086.0 1393.8 L2090.0 1393.6 L2094.0 1393.5 L2098.0 1393.3 L2102.0 1393.2 L2106.0 1393.1 L2110.0 1392.9 L2114.0 1392.8 L2118.0 1392.7 L2122.0 1392.5 L2126.0 1392.4 L2130.0 1392.3 L2134.0 1392.1 L2138.0 1392.0 L2142.0 1391.9 L2146.0 1391.7 L2150.0 1391.6 L2154.0 1391.5 L2158.0 1391.4 L2162.0 1391.2 L2166.0 1391.1 L2170.0 1391.0 L2174.0 1390.9 L2178.0 1390.8 L2182.0 1390.7 L2186.0 1390.5 L2190.0 1390.4 L2194.0 1390.3 L2198.0 1390.2 L2202.0 1390.1 L2206.0 1390.0 L2210.0 1389.9 L2214.0 1389.8 L2218.0 1389.7 L2222.0 1389.6 L2226.0 1389.5 L2230.0 1389.4 L2234.0 1389.3 L2238.0 1389.2 L2242.0 1389.1 L2246.0 1389.0 L2250.0 1388.9 L2254.0 1388.8 L2258.0 1388.7 L2262.0 1388.7 L2266.0 1388.6 L2270.0 1388.5 L2274.0 1388.4 L2278.0 1388.3 L2282.0 1388.3 L2286.0 1388.2 L2290.0 1388.1 L2294.0 1388.0 L2298.0 1388.0 L2302.0 1387.9 L2306.0 1387.9 L2310.0 1387.8 L2314.0 1387.7 L2318.0 1387.7 L2322.0 1387.6 L2326.0 1387.6 L2330.0 1387.5 L2334.0 1387.5 L2338.0 1387.4 L2342.0 1387.4 L2346.0 1387.3 L2350.0 1387.3 L2354.0 1387.2 L2358.0 1387.2 L2362.0 1387.2 L2366.0 1387.1 L2370.0 1387.1 L2374.0 1387.1 L2378.0 1387.1 L2382.0 1387.0 L2386.0 1387.0 L2390.0 1387.0" fill="none" stroke="#3D5EDD" stroke-width="2.2"/>
<path d="M254.0 1532.7 L258.0 1533.1 L262.0 1533.4 L266.0 1533.8 L270.0 1534.2 L274.0 1534.5 L278.0 1534.9 L282.0 1535.3 L286.0 1535.7 L290.0 1536.0 L294.0 1536.4 L298.0 1536.8 L302.0 1537.2 L306.0 1537.6 L310.0 1538.0 L314.0 1538.4 L318.0 1538.8 L322.0 1539.2 L326.0 1539.6 L330.0 1540.0 L334.0 1540.4 L338.0 1540.8 L342.0 1541.2 L346.0 1541.6 L350.0 1542.1 L354.0 1542.5 L358.0 1542.9 L362.0 1543.4 L366.0 1543.8 L370.0 1544.2 L374.0 1544.7 L378.0 1545.1 L382.0 1545.6 L386.0 1546.0 L390.0 1546.5 L394.0 1546.9 L398.0 1547.4 L402.0 1547.8 L406.0 1548.3 L410.0 1548.7 L414.0 1549.2 L418.0 1549.6 L422.0 1550.0 L426.0 1550.5 L430.0 1550.9 L434.0 1551.3 L438.0 1551.7 L442.0 1552.1 L446.0 1552.5 L450.0 1552.9 L454.0 1553.3 L458.0 1553.7 L462.0 1554.1 L466.0 1554.5 L470.0 1554.9 L474.0 1555.2 L478.0 1555.6 L482.0 1556.0 L486.0 1556.4 L490.0 1556.8 L494.0 1557.2 L498.0 1557.6 L502.0 1558.0 L506.0 1558.4 L510.0 1558.8 L514.0 1559.2 L518.0 1559.6 L522.0 1560.1 L526.0 1560.5 L530.0 1560.9 L534.0 1561.4 L538.0 1561.8 L542.0 1562.3 L546.0 1562.7 L550.0 1563.2 L554.0 1563.6 L558.0 1564.1 L562.0 1564.6 L566.0 1565.0 L570.0 1565.5 L574.0 1566.0 L578.0 1566.5 L582.0 1566.9 L586.0 1567.4 L590.0 1567.9 L594.0 1568.4 L598.0 1568.8 L602.0 1569.3 L606.0 1569.8 L610.0 1570.2 L614.0 1570.7 L618.0 1571.2 L622.0 1571.6 L626.0 1572.1 L630.0 1572.6 L634.0 1573.0 L638.0 1573.5 L642.0 1573.9 L646.0 1574.4 L650.0 1574.9 L654.0 1575.3 L658.0 1575.8 L662.0 1576.3 L666.0 1576.7 L670.0 1577.2 L674.0 1577.7 L678.0 1578.1 L682.0 1578.6 L686.0 1579.1 L690.0 1579.6 L694.0 1580.0 L698.0 1580.5 L702.0 1581.0 L706.0 1581.5 L710.0 1582.1 L714.0 1582.6 L718.0 1583.1 L722.0 1583.6 L726.0 1584.2 L730.0 1584.7 L734.0 1585.3 L738.0 1585.8 L742.0 1586.4 L746.0 1586.9 L750.0 1587.4 L754.0 1588.0 L758.0 1588.5 L762.0 1589.0 L766.0 1589.5 L770.0 1590.0 L774.0 1590.5 L778.0 1591.0 L782.0 1591.5 L786.0 1591.9 L790.0 1592.4 L794.0 1592.9 L798.0 1593.3 L802.0 1593.8 L806.0 1594.2 L810.0 1594.6 L814.0 1595.0 L818.0 1595.3 L822.0 1595.5 L826.0 1595.7 L830.0 1595.8 L834.0 1595.9 L838.0 1595.9 L842.0 1595.8 L846.0 1595.8 L850.0 1595.7 L854.0 1595.6 L858.0 1595.5 L862.0 1595.4 L866.0 1595.2 L870.0 1595.1 L874.0 1594.9 L878.0 1594.6 L882.0 1594.3 L886.0 1593.9 L890.0 1593.5 L894.0 1592.9 L898.0 1592.3 L902.0 1591.6 L906.0 1590.9 L910.0 1590.1 L914.0 1589.3 L918.0 1588.4 L922.0 1587.5 L926.0 1586.5 L930.0 1585.5 L934.0 1584.4 L938.0 1583.3 L942.0 1582.1 L946.0 1581.0 L950.0 1579.7 L954.0 1578.5 L958.0 1577.2 L962.0 1575.9 L966.0 1574.5 L970.0 1573.2 L974.0 1571.7 L978.0 1570.2 L982.0 1568.7 L986.0 1567.1 L990.0 1565.5 L994.0 1563.8 L998.0 1562.0 L1002.0 1560.2 L1006.0 1558.4 L1010.0 1556.6 L1014.0 1554.8 L1018.0 1552.9 L1022.0 1551.1 L1026.0 1549.3 L1030.0 1547.5 L1034.0 1545.7 L1038.0 1543.9 L1042.0 1542.2 L1046.0 1540.5 L1050.0 1538.8 L1054.0 1537.1 L1058.0 1535.5 L1062.0 1533.9 L1066.0 1532.3 L1070.0 1530.7 L1074.0 1529.2 L1078.0 1527.7 L1082.0 1526.2 L1086.0 1524.8 L1090.0 1523.3 L1094.0 1521.9 L1098.0 1520.6 L1102.0 1519.2 L1106.0 1517.9 L1110.0 1516.6 L1114.0 1515.4 L1118.0 1514.2 L1122.0 1513.0 L1126.0 1511.8 L1130.0 1510.6 L1134.0 1509.4 L1138.0 1508.2 L1142.0 1507.0 L1146.0 1505.7 L1150.0 1504.5 L1154.0 1503.2 L1158.0 1502.0 L1162.0 1500.7 L1166.0 1499.5 L1170.0 1498.2 L1174.0 1497.0 L1178.0 1495.7 L1182.0 1494.5 L1186.0 1493.2 L1190.0 1491.9 L1194.0 1490.7 L1198.0 1489.4 L1202.0 1488.1 L1206.0 1486.8 L1210.0 1485.6 L1214.0 1484.3 L1218.0 1483.1 L1222.0 1481.8 L1226.0 1480.6 L1230.0 1479.5 L1234.0 1478.3 L1238.0 1477.2 L1242.0 1476.1 L1246.0 1475.1 L1250.0 1474.1 L1254.0 1473.2 L1258.0 1472.3 L1262.0 1471.4 L1266.0 1470.6 L1270.0 1469.7 L1274.0 1468.9 L1278.0 1468.2 L1282.0 1467.4 L1286.0 1466.6 L1290.0 1465.9 L1294.0 1465.1 L1298.0 1464.4 L1302.0 1463.6 L1306.0 1462.9 L1310.0 1462.1 L1314.0 1461.4 L1318.0 1460.6 L1322.0 1459.9 L1326.0 1459.2 L1330.0 1458.5 L1334.0 1457.7 L1338.0 1457.1 L1342.0 1456.4 L1346.0 1455.7 L1350.0 1455.0 L1354.0 1454.4 L1358.0 1453.8 L1362.0 1453.2 L1366.0 1452.6 L1370.0 1452.0 L1374.0 1451.4 L1378.0 1450.8 L1382.0 1450.2 L1386.0 1449.6 L1390.0 1449.1 L1394.0 1448.5 L1398.0 1447.9 L1402.0 1447.4 L1406.0 1446.8 L1410.0 1446.2 L1414.0 1445.6 L1418.0 1445.1 L1422.0 1444.5 L1426.0 1443.9 L1430.0 1443.3 L1434.0 1442.7 L1438.0 1442.1 L1442.0 1441.5 L1446.0 1440.9 L1450.0 1440.3 L1454.0 1439.8 L1458.0 1439.2 L1462.0 1438.6 L1466.0 1438.0 L1470.0 1437.4 L1474.0 1436.8 L1478.0 1436.2 L1482.0 1435.6 L1486.0 1435.0 L1490.0 1434.4 L1494.0 1433.8 L1498.0 1433.2 L1502.0 1432.6 L1506.0 1432.0 L1510.0 1431.5 L1514.0 1430.9 L1518.0 1430.3 L1522.0 1429.7 L1526.0 1429.2 L1530.0 1428.6 L1534.0 1428.0 L1538.0 1427.5 L1542.0 1426.9 L1546.0 1426.4 L1550.0 1425.8 L1554.0 1425.3 L1558.0 1424.7 L1562.0 1424.2 L1566.0 1423.7 L1570.0 1423.1 L1574.0 1422.6 L1578.0 1422.1 L1582.0 1421.6 L1586.0 1421.1 L1590.0 1420.6 L1594.0 1420.1 L1598.0 1419.7 L1602.0 1419.2 L1606.0 1418.7 L1610.0 1418.3 L1614.0 1417.8 L1618.0 1417.4 L1622.0 1417.0 L1626.0 1416.5 L1630.0 1416.1 L1634.0 1415.7 L1638.0 1415.3 L1642.0 1414.9 L1646.0 1414.6 L1650.0 1414.2 L1654.0 1413.8 L1658.0 1413.5 L1662.0 1413.1 L1666.0 1412.8 L1670.0 1412.4 L1674.0 1412.1 L1678.0 1411.7 L1682.0 1411.4 L1686.0 1411.0 L1690.0 1410.7 L1694.0 1410.4 L1698.0 1410.0 L1702.0 1409.7 L1706.0 1409.4 L1710.0 1409.1 L1714.0 1408.8 L1718.0 1408.4 L1722.0 1408.1 L1726.0 1407.8 L1730.0 1407.5 L1734.0 1407.2 L1738.0 1406.9 L1742.0 1406.6 L1746.0 1406.3 L1750.0 1406.0 L1754.0 1405.7 L1758.0 1405.4 L1762.0 1405.1 L1766.0 1404.8 L1770.0 1404.5 L1774.0 1404.3 L1778.0 1404.0 L1782.0 1403.7 L1786.0 1403.4 L1790.0 1403.1 L1794.0 1402.9 L1798.0 1402.6 L1802.0 1402.3 L1806.0 1402.1 L1810.0 1401.8 L1814.0 1401.6 L1818.0 1401.3 L1822.0 1401.1 L1826.0 1400.8 L1830.0 1400.6 L1834.0 1400.3 L1838.0 1400.1 L1842.0 1399.8 L1846.0 1399.6 L1850.0 1399.4 L1854.0 1399.1 L1858.0 1398.9 L1862.0 1398.7 L1866.0 1398.4 L1870.0 1398.2 L1874.0 1398.0 L1878.0 1397.8 L1882.0 1397.6 L1886.0 1397.4 L1890.0 1397.1 L1894.0 1396.9 L1898.0 1396.7 L1902.0 1396.5 L1906.0 1396.3 L1910.0 1396.1 L1914.0 1395.9 L1918.0 1395.7 L1922.0 1395.6 L1926.0 1395.4 L1930.0 1395.2 L1934.0 1395.0 L1938.0 1394.8 L1942.0 1394.7 L1946.0 1394.5 L1950.0 1394.3 L1954.0 1394.1 L1958.0 1394.0 L1962.0 1393.8 L1966.0 1393.6 L1970.0 1393.5 L1974.0 1393.3 L1978.0 1393.1 L1982.0 1393.0 L1986.0 1392.8 L1990.0 1392.6 L1994.0 1392.4 L1998.0 1392.3 L2002.0 1392.1 L2006.0 1392.0 L2010.0 1391.8 L2014.0 1391.6 L2018.0 1391.5 L2022.0 1391.3 L2026.0 1391.1 L2030.0 1391.0 L2034.0 1390.8 L2038.0 1390.7 L2042.0 1390.5 L2046.0 1390.3 L2050.0 1390.2 L2054.0 1390.0 L2058.0 1389.9 L2062.0 1389.7 L2066.0 1389.5 L2070.0 1389.4 L2074.0 1389.2 L2078.0 1389.1 L2082.0 1388.9 L2086.0 1388.8 L2090.0 1388.6 L2094.0 1388.5 L2098.0 1388.3 L2102.0 1388.2 L2106.0 1388.0 L2110.0 1387.9 L2114.0 1387.7 L2118.0 1387.6 L2122.0 1387.4 L2126.0 1387.3 L2130.0 1387.2 L2134.0 1387.0 L2138.0 1386.9 L2142.0 1386.7 L2146.0 1386.6 L2150.0 1386.5 L2154.0 1386.3 L2158.0 1386.2 L2162.0 1386.1 L2166.0 1385.9 L2170.0 1385.8 L2174.0 1385.7 L2178.0 1385.5 L2182.0 1385.4 L2186.0 1385.3 L2190.0 1385.2 L2194.0 1385.0 L2198.0 1384.9 L2202.0 1384.8 L2206.0 1384.7 L2210.0 1384.6 L2214.0 1384.5 L2218.0 1384.3 L2222.0 1384.2 L2226.0 1384.1 L2230.0 1384.0 L2234.0 1383.9 L2238.0 1383.8 L2242.0 1383.7 L2246.0 1383.6 L2250.0 1383.5 L2254.0 1383.4 L2258.0 1383.3 L2262.0 1383.2 L2266.0 1383.1 L2270.0 1383.0 L2274.0 1382.9 L2278.0 1382.8 L2282.0 1382.7 L2286.0 1382.6 L2290.0 1382.5 L2294.0 1382.5 L2298.0 1382.4 L2302.0 1382.3 L2306.0 1382.2 L2310.0 1382.1 L2314.0 1382.1 L2318.0 1382.0 L2322.0 1381.9 L2326.0 1381.8 L2330.0 1381.8 L2334.0 1381.7 L2338.0 1381.6 L2342.0 1381.6 L2346.0 1381.5 L2350.0 1381.5 L2354.0 1381.4 L2358.0 1381.4 L2362.0 1381.3 L2366.0 1381.3 L2370.0 1381.2 L2374.0 1381.2 L2378.0 1381.1 L2382.0 1381.1 L2386.0 1381.0 L2390.0 1381.0" fill="none" stroke="#D626AE" stroke-width="2.2"/>
<path d="M250.4 1750.5h8.2v8.2h-8.2zM264.6 1762.5h8.2v8.2h-8.2zM278.9 1764.0h8.2v8.2h-8.2zM293.1 1759.5h8.2v8.2h-8.2zM307.3 1766.2h8.2v8.2h-8.2zM321.6 1769.4h8.2v8.2h-8.2zM335.8 1771.8h8.2v8.2h-8.2zM350.1 1778.3h8.2v8.2h-8.2zM364.3 1785.7h8.2v8.2h-8.2zM378.5 1791.0h8.2v8.2h-8.2zM392.8 1795.2h8.2v8.2h-8.2zM407.0 1801.0h8.2v8.2h-8.2zM421.2 1806.2h8.2v8.2h-8.2zM435.5 1809.9h8.2v8.2h-8.2zM449.7 1813.9h8.2v8.2h-8.2zM464.0 1817.8h8.2v8.2h-8.2zM478.2 1822.5h8.2v8.2h-8.2zM492.4 1828.5h8.2v8.2h-8.2zM506.7 1832.0h8.2v8.2h-8.2zM520.9 1834.4h8.2v8.2h-8.2zM535.1 1834.2h8.2v8.2h-8.2zM549.4 1830.2h8.2v8.2h-8.2zM563.6 1824.7h8.2v8.2h-8.2zM577.8 1819.6h8.2v8.2h-8.2zM592.1 1808.5h8.2v8.2h-8.2zM606.3 1803.2h8.2v8.2h-8.2zM620.6 1803.2h8.2v8.2h-8.2zM634.8 1802.7h8.2v8.2h-8.2zM649.0 1801.3h8.2v8.2h-8.2zM663.3 1792.5h8.2v8.2h-8.2zM677.5 1781.7h8.2v8.2h-8.2zM691.7 1771.6h8.2v8.2h-8.2zM706.0 1764.1h8.2v8.2h-8.2zM720.2 1758.9h8.2v8.2h-8.2zM734.4 1755.5h8.2v8.2h-8.2zM748.7 1748.6h8.2v8.2h-8.2zM762.9 1740.3h8.2v8.2h-8.2zM777.2 1733.2h8.2v8.2h-8.2zM791.4 1728.3h8.2v8.2h-8.2zM805.6 1722.0h8.2v8.2h-8.2zM819.9 1717.9h8.2v8.2h-8.2zM834.1 1710.4h8.2v8.2h-8.2zM848.3 1701.7h8.2v8.2h-8.2zM862.6 1694.2h8.2v8.2h-8.2zM876.8 1689.0h8.2v8.2h-8.2zM891.1 1679.9h8.2v8.2h-8.2zM905.3 1674.3h8.2v8.2h-8.2zM919.5 1660.9h8.2v8.2h-8.2zM933.8 1655.4h8.2v8.2h-8.2zM948.0 1645.5h8.2v8.2h-8.2zM962.2 1642.3h8.2v8.2h-8.2zM976.5 1635.9h8.2v8.2h-8.2zM990.7 1624.7h8.2v8.2h-8.2zM1004.9 1616.7h8.2v8.2h-8.2zM1019.2 1607.2h8.2v8.2h-8.2zM1033.4 1601.4h8.2v8.2h-8.2zM1047.7 1596.0h8.2v8.2h-8.2zM1061.9 1587.8h8.2v8.2h-8.2zM1076.1 1582.6h8.2v8.2h-8.2zM1090.4 1576.5h8.2v8.2h-8.2zM1104.6 1572.9h8.2v8.2h-8.2zM1118.8 1566.5h8.2v8.2h-8.2zM1133.1 1560.6h8.2v8.2h-8.2zM1147.3 1557.0h8.2v8.2h-8.2zM1161.5 1551.4h8.2v8.2h-8.2zM1175.8 1547.0h8.2v8.2h-8.2zM1190.0 1542.7h8.2v8.2h-8.2zM1204.3 1538.3h8.2v8.2h-8.2zM1218.5 1534.1h8.2v8.2h-8.2zM1232.7 1530.1h8.2v8.2h-8.2zM1247.0 1526.3h8.2v8.2h-8.2zM1261.2 1522.8h8.2v8.2h-8.2zM1275.4 1519.3h8.2v8.2h-8.2zM1289.7 1516.0h8.2v8.2h-8.2zM1303.9 1512.8h8.2v8.2h-8.2zM1318.2 1509.8h8.2v8.2h-8.2zM1332.4 1507.1h8.2v8.2h-8.2zM1346.6 1504.8h8.2v8.2h-8.2zM1360.9 1502.6h8.2v8.2h-8.2zM1375.1 1500.5h8.2v8.2h-8.2zM1389.3 1498.5h8.2v8.2h-8.2zM1403.6 1496.5h8.2v8.2h-8.2zM1417.8 1494.5h8.2v8.2h-8.2zM1432.0 1492.6h8.2v8.2h-8.2zM1446.3 1490.8h8.2v8.2h-8.2zM1460.5 1489.0h8.2v8.2h-8.2zM1474.8 1487.3h8.2v8.2h-8.2zM1489.0 1485.7h8.2v8.2h-8.2zM1503.2 1484.1h8.2v8.2h-8.2zM1517.5 1482.6h8.2v8.2h-8.2zM1531.7 1481.1h8.2v8.2h-8.2zM1545.9 1479.7h8.2v8.2h-8.2zM1560.2 1478.4h8.2v8.2h-8.2zM1574.4 1477.1h8.2v8.2h-8.2zM1588.6 1475.9h8.2v8.2h-8.2zM1602.9 1474.8h8.2v8.2h-8.2zM1617.1 1473.7h8.2v8.2h-8.2zM1631.4 1472.8h8.2v8.2h-8.2zM1645.6 1471.8h8.2v8.2h-8.2zM1659.8 1471.0h8.2v8.2h-8.2zM1674.1 1470.1h8.2v8.2h-8.2zM1688.3 1469.4h8.2v8.2h-8.2zM1702.5 1468.6h8.2v8.2h-8.2zM1716.8 1467.9h8.2v8.2h-8.2zM1731.0 1467.2h8.2v8.2h-8.2zM1745.3 1466.5h8.2v8.2h-8.2zM1759.5 1465.9h8.2v8.2h-8.2zM1773.7 1465.3h8.2v8.2h-8.2zM1788.0 1464.7h8.2v8.2h-8.2zM1802.2 1464.1h8.2v8.2h-8.2zM1816.4 1463.6h8.2v8.2h-8.2zM1830.7 1463.1h8.2v8.2h-8.2zM1844.9 1462.6h8.2v8.2h-8.2zM1859.1 1462.1h8.2v8.2h-8.2zM1873.4 1461.6h8.2v8.2h-8.2zM1887.6 1461.2h8.2v8.2h-8.2zM1901.9 1460.7h8.2v8.2h-8.2zM1916.1 1460.3h8.2v8.2h-8.2zM1930.3 1459.9h8.2v8.2h-8.2zM1944.6 1459.6h8.2v8.2h-8.2zM1958.8 1459.4h8.2v8.2h-8.2zM1973.0 1459.1h8.2v8.2h-8.2zM1987.3 1458.9h8.2v8.2h-8.2zM2001.5 1458.7h8.2v8.2h-8.2zM2015.7 1458.4h8.2v8.2h-8.2zM2030.0 1458.2h8.2v8.2h-8.2zM2044.2 1458.0h8.2v8.2h-8.2zM2058.5 1457.7h8.2v8.2h-8.2zM2072.7 1457.5h8.2v8.2h-8.2zM2086.9 1457.3h8.2v8.2h-8.2zM2101.2 1457.1h8.2v8.2h-8.2zM2115.4 1456.9h8.2v8.2h-8.2zM2129.6 1456.7h8.2v8.2h-8.2zM2143.9 1456.5h8.2v8.2h-8.2zM2158.1 1456.3h8.2v8.2h-8.2zM2172.4 1456.2h8.2v8.2h-8.2zM2186.6 1456.0h8.2v8.2h-8.2zM2200.8 1455.9h8.2v8.2h-8.2zM2215.1 1455.7h8.2v8.2h-8.2zM2229.3 1455.6h8.2v8.2h-8.2zM2243.5 1455.4h8.2v8.2h-8.2zM2257.8 1455.3h8.2v8.2h-8.2zM2272.0 1455.2h8.2v8.2h-8.2zM2286.2 1455.1h8.2v8.2h-8.2zM2300.5 1455.0h8.2v8.2h-8.2zM2314.7 1455.0h8.2v8.2h-8.2zM2329.0 1454.9h8.2v8.2h-8.2zM2343.2 1454.9h8.2v8.2h-8.2zM2357.4 1454.8h8.2v8.2h-8.2zM2371.7 1454.8h8.2v8.2h-8.2zM2385.9 1454.8h8.2v8.2h-8.2z" fill="none" stroke="#660066" stroke-width="2.4"/>
<path d="M253.7 1753.8h1.6v1.6h-1.6zM267.9 1765.8h1.6v1.6h-1.6zM282.2 1767.3h1.6v1.6h-1.6zM296.4 1762.8h1.6v1.6h-1.6zM310.6 1769.5h1.6v1.6h-1.6zM324.9 1772.7h1.6v1.6h-1.6zM339.1 1775.1h1.6v1.6h-1.6zM353.4 1781.6h1.6v1.6h-1.6zM367.6 1789.0h1.6v1.6h-1.6zM381.8 1794.3h1.6v1.6h-1.6zM396.1 1798.5h1.6v1.6h-1.6zM410.3 1804.3h1.6v1.6h-1.6zM424.5 1809.5h1.6v1.6h-1.6zM438.8 1813.2h1.6v1.6h-1.6zM453.0 1817.2h1.6v1.6h-1.6zM467.3 1821.1h1.6v1.6h-1.6zM481.5 1825.8h1.6v1.6h-1.6zM495.7 1831.8h1.6v1.6h-1.6zM510.0 1835.3h1.6v1.6h-1.6zM524.2 1837.7h1.6v1.6h-1.6zM538.4 1837.5h1.6v1.6h-1.6zM552.7 1833.5h1.6v1.6h-1.6zM566.9 1828.0h1.6v1.6h-1.6zM581.1 1822.9h1.6v1.6h-1.6zM595.4 1811.8h1.6v1.6h-1.6zM609.6 1806.5h1.6v1.6h-1.6zM623.9 1806.5h1.6v1.6h-1.6zM638.1 1806.0h1.6v1.6h-1.6zM652.3 1804.6h1.6v1.6h-1.6zM666.6 1795.8h1.6v1.6h-1.6zM680.8 1785.0h1.6v1.6h-1.6zM695.0 1774.9h1.6v1.6h-1.6zM709.3 1767.4h1.6v1.6h-1.6zM723.5 1762.2h1.6v1.6h-1.6zM737.7 1758.8h1.6v1.6h-1.6zM752.0 1751.9h1.6v1.6h-1.6zM766.2 1743.6h1.6v1.6h-1.6zM780.5 1736.5h1.6v1.6h-1.6zM794.7 1731.6h1.6v1.6h-1.6zM808.9 1725.3h1.6v1.6h-1.6zM823.2 1721.2h1.6v1.6h-1.6zM837.4 1713.7h1.6v1.6h-1.6zM851.6 1705.0h1.6v1.6h-1.6zM865.9 1697.5h1.6v1.6h-1.6zM880.1 1692.3h1.6v1.6h-1.6zM894.4 1683.2h1.6v1.6h-1.6zM908.6 1677.6h1.6v1.6h-1.6zM922.8 1664.2h1.6v1.6h-1.6zM937.1 1658.7h1.6v1.6h-1.6zM951.3 1648.8h1.6v1.6h-1.6zM965.5 1645.6h1.6v1.6h-1.6zM979.8 1639.2h1.6v1.6h-1.6zM994.0 1628.0h1.6v1.6h-1.6zM1008.2 1620.0h1.6v1.6h-1.6zM1022.5 1610.5h1.6v1.6h-1.6zM1036.7 1604.7h1.6v1.6h-1.6zM1051.0 1599.3h1.6v1.6h-1.6zM1065.2 1591.1h1.6v1.6h-1.6zM1079.4 1585.9h1.6v1.6h-1.6zM1093.7 1579.8h1.6v1.6h-1.6zM1107.9 1576.2h1.6v1.6h-1.6zM1122.1 1569.8h1.6v1.6h-1.6zM1136.4 1563.9h1.6v1.6h-1.6zM1150.6 1560.3h1.6v1.6h-1.6zM1164.8 1554.7h1.6v1.6h-1.6zM1179.1 1550.3h1.6v1.6h-1.6zM1193.3 1546.0h1.6v1.6h-1.6zM1207.6 1541.6h1.6v1.6h-1.6zM1221.8 1537.4h1.6v1.6h-1.6zM1236.0 1533.4h1.6v1.6h-1.6zM1250.3 1529.6h1.6v1.6h-1.6zM1264.5 1526.1h1.6v1.6h-1.6zM1278.7 1522.6h1.6v1.6h-1.6zM1293.0 1519.3h1.6v1.6h-1.6zM1307.2 1516.1h1.6v1.6h-1.6zM1321.5 1513.1h1.6v1.6h-1.6zM1335.7 1510.4h1.6v1.6h-1.6zM1349.9 1508.1h1.6v1.6h-1.6zM1364.2 1505.9h1.6v1.6h-1.6zM1378.4 1503.8h1.6v1.6h-1.6zM1392.6 1501.8h1.6v1.6h-1.6zM1406.9 1499.8h1.6v1.6h-1.6zM1421.1 1497.8h1.6v1.6h-1.6zM1435.3 1495.9h1.6v1.6h-1.6zM1449.6 1494.1h1.6v1.6h-1.6zM1463.8 1492.3h1.6v1.6h-1.6zM1478.1 1490.6h1.6v1.6h-1.6zM1492.3 1489.0h1.6v1.6h-1.6zM1506.5 1487.4h1.6v1.6h-1.6zM1520.8 1485.9h1.6v1.6h-1.6zM1535.0 1484.4h1.6v1.6h-1.6zM1549.2 1483.0h1.6v1.6h-1.6zM1563.5 1481.7h1.6v1.6h-1.6zM1577.7 1480.4h1.6v1.6h-1.6zM1591.9 1479.2h1.6v1.6h-1.6zM1606.2 1478.1h1.6v1.6h-1.6zM1620.4 1477.0h1.6v1.6h-1.6zM1634.7 1476.1h1.6v1.6h-1.6zM1648.9 1475.1h1.6v1.6h-1.6zM1663.1 1474.3h1.6v1.6h-1.6zM1677.4 1473.4h1.6v1.6h-1.6zM1691.6 1472.7h1.6v1.6h-1.6zM1705.8 1471.9h1.6v1.6h-1.6zM1720.1 1471.2h1.6v1.6h-1.6zM1734.3 1470.5h1.6v1.6h-1.6zM1748.6 1469.8h1.6v1.6h-1.6zM1762.8 1469.2h1.6v1.6h-1.6zM1777.0 1468.6h1.6v1.6h-1.6zM1791.3 1468.0h1.6v1.6h-1.6zM1805.5 1467.4h1.6v1.6h-1.6zM1819.7 1466.9h1.6v1.6h-1.6zM1834.0 1466.4h1.6v1.6h-1.6zM1848.2 1465.9h1.6v1.6h-1.6zM1862.4 1465.4h1.6v1.6h-1.6zM1876.7 1464.9h1.6v1.6h-1.6zM1890.9 1464.5h1.6v1.6h-1.6zM1905.2 1464.0h1.6v1.6h-1.6zM1919.4 1463.6h1.6v1.6h-1.6zM1933.6 1463.2h1.6v1.6h-1.6zM1947.9 1462.9h1.6v1.6h-1.6zM1962.1 1462.7h1.6v1.6h-1.6zM1976.3 1462.4h1.6v1.6h-1.6zM1990.6 1462.2h1.6v1.6h-1.6zM2004.8 1462.0h1.6v1.6h-1.6zM2019.0 1461.7h1.6v1.6h-1.6zM2033.3 1461.5h1.6v1.6h-1.6zM2047.5 1461.3h1.6v1.6h-1.6zM2061.8 1461.0h1.6v1.6h-1.6zM2076.0 1460.8h1.6v1.6h-1.6zM2090.2 1460.6h1.6v1.6h-1.6zM2104.5 1460.4h1.6v1.6h-1.6zM2118.7 1460.2h1.6v1.6h-1.6zM2132.9 1460.0h1.6v1.6h-1.6zM2147.2 1459.8h1.6v1.6h-1.6zM2161.4 1459.6h1.6v1.6h-1.6zM2175.7 1459.5h1.6v1.6h-1.6zM2189.9 1459.3h1.6v1.6h-1.6zM2204.1 1459.2h1.6v1.6h-1.6zM2218.4 1459.0h1.6v1.6h-1.6zM2232.6 1458.9h1.6v1.6h-1.6zM2246.8 1458.7h1.6v1.6h-1.6zM2261.1 1458.6h1.6v1.6h-1.6zM2275.3 1458.5h1.6v1.6h-1.6zM2289.5 1458.4h1.6v1.6h-1.6zM2303.8 1458.3h1.6v1.6h-1.6zM2318.0 1458.3h1.6v1.6h-1.6zM2332.3 1458.2h1.6v1.6h-1.6zM2346.5 1458.2h1.6v1.6h-1.6zM2360.7 1458.1h1.6v1.6h-1.6zM2375.0 1458.1h1.6v1.6h-1.6zM2389.2 1458.1h1.6v1.6h-1.6z" fill="#660066"/>
<path d="M250.4 1726.4h8.2v8.2h-8.2zM264.6 1730.0h8.2v8.2h-8.2zM278.9 1733.3h8.2v8.2h-8.2zM293.1 1736.7h8.2v8.2h-8.2zM307.3 1742.1h8.2v8.2h-8.2zM321.6 1748.4h8.2v8.2h-8.2zM335.8 1756.0h8.2v8.2h-8.2zM350.1 1760.2h8.2v8.2h-8.2zM364.3 1760.9h8.2v8.2h-8.2zM378.5 1761.3h8.2v8.2h-8.2zM392.8 1768.9h8.2v8.2h-8.2zM407.0 1769.1h8.2v8.2h-8.2zM421.2 1774.5h8.2v8.2h-8.2zM435.5 1781.5h8.2v8.2h-8.2zM449.7 1785.0h8.2v8.2h-8.2zM464.0 1790.4h8.2v8.2h-8.2zM478.2 1793.1h8.2v8.2h-8.2zM492.4 1799.1h8.2v8.2h-8.2zM506.7 1802.0h8.2v8.2h-8.2zM520.9 1808.8h8.2v8.2h-8.2zM535.1 1813.2h8.2v8.2h-8.2zM549.4 1813.5h8.2v8.2h-8.2zM563.6 1815.2h8.2v8.2h-8.2zM577.8 1809.3h8.2v8.2h-8.2zM592.1 1799.1h8.2v8.2h-8.2zM606.3 1797.8h8.2v8.2h-8.2zM620.6 1790.4h8.2v8.2h-8.2zM634.8 1790.7h8.2v8.2h-8.2zM649.0 1793.0h8.2v8.2h-8.2zM663.3 1782.9h8.2v8.2h-8.2zM677.5 1778.8h8.2v8.2h-8.2zM691.7 1768.3h8.2v8.2h-8.2zM706.0 1757.3h8.2v8.2h-8.2zM720.2 1751.1h8.2v8.2h-8.2zM734.4 1751.5h8.2v8.2h-8.2zM748.7 1755.2h8.2v8.2h-8.2zM762.9 1743.6h8.2v8.2h-8.2zM777.2 1740.3h8.2v8.2h-8.2zM791.4 1722.8h8.2v8.2h-8.2zM805.6 1714.0h8.2v8.2h-8.2zM819.9 1707.6h8.2v8.2h-8.2zM834.1 1704.5h8.2v8.2h-8.2zM848.3 1692.4h8.2v8.2h-8.2zM862.6 1689.6h8.2v8.2h-8.2zM876.8 1680.4h8.2v8.2h-8.2zM891.1 1668.4h8.2v8.2h-8.2zM905.3 1659.1h8.2v8.2h-8.2zM919.5 1649.2h8.2v8.2h-8.2zM933.8 1641.9h8.2v8.2h-8.2zM948.0 1634.1h8.2v8.2h-8.2zM962.2 1629.2h8.2v8.2h-8.2zM976.5 1616.7h8.2v8.2h-8.2zM990.7 1608.3h8.2v8.2h-8.2zM1004.9 1603.6h8.2v8.2h-8.2zM1019.2 1597.4h8.2v8.2h-8.2zM1033.4 1590.6h8.2v8.2h-8.2zM1047.7 1582.4h8.2v8.2h-8.2zM1061.9 1576.4h8.2v8.2h-8.2zM1076.1 1568.9h8.2v8.2h-8.2zM1090.4 1561.4h8.2v8.2h-8.2zM1104.6 1557.8h8.2v8.2h-8.2zM1118.8 1551.3h8.2v8.2h-8.2zM1133.1 1543.8h8.2v8.2h-8.2zM1147.3 1539.5h8.2v8.2h-8.2zM1161.5 1534.1h8.2v8.2h-8.2zM1175.8 1530.5h8.2v8.2h-8.2zM1190.0 1525.9h8.2v8.2h-8.2zM1204.3 1520.9h8.2v8.2h-8.2zM1218.5 1515.8h8.2v8.2h-8.2zM1232.7 1511.0h8.2v8.2h-8.2zM1247.0 1506.8h8.2v8.2h-8.2zM1261.2 1503.3h8.2v8.2h-8.2zM1275.4 1500.0h8.2v8.2h-8.2zM1289.7 1496.9h8.2v8.2h-8.2zM1303.9 1494.1h8.2v8.2h-8.2zM1318.2 1491.4h8.2v8.2h-8.2zM1332.4 1489.0h8.2v8.2h-8.2zM1346.6 1486.7h8.2v8.2h-8.2zM1360.9 1484.5h8.2v8.2h-8.2zM1375.1 1482.4h8.2v8.2h-8.2zM1389.3 1480.3h8.2v8.2h-8.2zM1403.6 1478.3h8.2v8.2h-8.2zM1417.8 1476.3h8.2v8.2h-8.2zM1432.0 1474.3h8.2v8.2h-8.2zM1446.3 1472.4h8.2v8.2h-8.2zM1460.5 1470.6h8.2v8.2h-8.2zM1474.8 1468.8h8.2v8.2h-8.2zM1489.0 1467.1h8.2v8.2h-8.2zM1503.2 1465.4h8.2v8.2h-8.2zM1517.5 1463.8h8.2v8.2h-8.2zM1531.7 1462.2h8.2v8.2h-8.2zM1545.9 1460.7h8.2v8.2h-8.2zM1560.2 1459.3h8.2v8.2h-8.2zM1574.4 1457.9h8.2v8.2h-8.2zM1588.6 1456.6h8.2v8.2h-8.2zM1602.9 1455.4h8.2v8.2h-8.2zM1617.1 1454.3h8.2v8.2h-8.2zM1631.4 1453.2h8.2v8.2h-8.2zM1645.6 1452.2h8.2v8.2h-8.2zM1659.8 1451.3h8.2v8.2h-8.2zM1674.1 1450.4h8.2v8.2h-8.2zM1688.3 1449.5h8.2v8.2h-8.2zM1702.5 1448.6h8.2v8.2h-8.2zM1716.8 1447.8h8.2v8.2h-8.2zM1731.0 1447.0h8.2v8.2h-8.2zM1745.3 1446.2h8.2v8.2h-8.2zM1759.5 1445.4h8.2v8.2h-8.2zM1773.7 1444.7h8.2v8.2h-8.2zM1788.0 1444.0h8.2v8.2h-8.2zM1802.2 1443.4h8.2v8.2h-8.2zM1816.4 1442.8h8.2v8.2h-8.2zM1830.7 1442.3h8.2v8.2h-8.2zM1844.9 1441.8h8.2v8.2h-8.2zM1859.1 1441.3h8.2v8.2h-8.2zM1873.4 1441.0h8.2v8.2h-8.2zM1887.6 1440.7h8.2v8.2h-8.2zM1901.9 1440.4h8.2v8.2h-8.2zM1916.1 1440.2h8.2v8.2h-8.2zM1930.3 1440.1h8.2v8.2h-8.2zM1944.6 1439.9h8.2v8.2h-8.2zM1958.8 1439.7h8.2v8.2h-8.2zM1973.0 1439.6h8.2v8.2h-8.2zM1987.3 1439.4h8.2v8.2h-8.2zM2001.5 1439.2h8.2v8.2h-8.2zM2015.7 1439.0h8.2v8.2h-8.2zM2030.0 1438.8h8.2v8.2h-8.2zM2044.2 1438.6h8.2v8.2h-8.2zM2058.5 1438.4h8.2v8.2h-8.2zM2072.7 1438.3h8.2v8.2h-8.2zM2086.9 1438.1h8.2v8.2h-8.2zM2101.2 1437.9h8.2v8.2h-8.2zM2115.4 1437.7h8.2v8.2h-8.2zM2129.6 1437.5h8.2v8.2h-8.2zM2143.9 1437.3h8.2v8.2h-8.2zM2158.1 1437.1h8.2v8.2h-8.2zM2172.4 1436.9h8.2v8.2h-8.2zM2186.6 1436.7h8.2v8.2h-8.2zM2200.8 1436.5h8.2v8.2h-8.2zM2215.1 1436.3h8.2v8.2h-8.2zM2229.3 1436.1h8.2v8.2h-8.2zM2243.5 1435.9h8.2v8.2h-8.2zM2257.8 1435.7h8.2v8.2h-8.2zM2272.0 1435.5h8.2v8.2h-8.2zM2286.2 1435.2h8.2v8.2h-8.2zM2300.5 1435.0h8.2v8.2h-8.2zM2314.7 1434.8h8.2v8.2h-8.2zM2329.0 1434.6h8.2v8.2h-8.2zM2343.2 1434.4h8.2v8.2h-8.2zM2357.4 1434.2h8.2v8.2h-8.2zM2371.7 1433.9h8.2v8.2h-8.2zM2385.9 1433.7h8.2v8.2h-8.2z" fill="none" stroke="#FFC20E" stroke-width="2.4"/>
<path d="M253.7 1729.7h1.6v1.6h-1.6zM267.9 1733.3h1.6v1.6h-1.6zM282.2 1736.6h1.6v1.6h-1.6zM296.4 1740.0h1.6v1.6h-1.6zM310.6 1745.4h1.6v1.6h-1.6zM324.9 1751.7h1.6v1.6h-1.6zM339.1 1759.3h1.6v1.6h-1.6zM353.4 1763.5h1.6v1.6h-1.6zM367.6 1764.2h1.6v1.6h-1.6zM381.8 1764.6h1.6v1.6h-1.6zM396.1 1772.2h1.6v1.6h-1.6zM410.3 1772.4h1.6v1.6h-1.6zM424.5 1777.8h1.6v1.6h-1.6zM438.8 1784.8h1.6v1.6h-1.6zM453.0 1788.3h1.6v1.6h-1.6zM467.3 1793.7h1.6v1.6h-1.6zM481.5 1796.4h1.6v1.6h-1.6zM495.7 1802.4h1.6v1.6h-1.6zM510.0 1805.3h1.6v1.6h-1.6zM524.2 1812.1h1.6v1.6h-1.6zM538.4 1816.5h1.6v1.6h-1.6zM552.7 1816.8h1.6v1.6h-1.6zM566.9 1818.5h1.6v1.6h-1.6zM581.1 1812.6h1.6v1.6h-1.6zM595.4 1802.4h1.6v1.6h-1.6zM609.6 1801.1h1.6v1.6h-1.6zM623.9 1793.7h1.6v1.6h-1.6zM638.1 1794.0h1.6v1.6h-1.6zM652.3 1796.3h1.6v1.6h-1.6zM666.6 1786.2h1.6v1.6h-1.6zM680.8 1782.1h1.6v1.6h-1.6zM695.0 1771.6h1.6v1.6h-1.6zM709.3 1760.6h1.6v1.6h-1.6zM723.5 1754.4h1.6v1.6h-1.6zM737.7 1754.8h1.6v1.6h-1.6zM752.0 1758.5h1.6v1.6h-1.6zM766.2 1746.9h1.6v1.6h-1.6zM780.5 1743.6h1.6v1.6h-1.6zM794.7 1726.1h1.6v1.6h-1.6zM808.9 1717.3h1.6v1.6h-1.6zM823.2 1710.9h1.6v1.6h-1.6zM837.4 1707.8h1.6v1.6h-1.6zM851.6 1695.7h1.6v1.6h-1.6zM865.9 1692.9h1.6v1.6h-1.6zM880.1 1683.7h1.6v1.6h-1.6zM894.4 1671.7h1.6v1.6h-1.6zM908.6 1662.4h1.6v1.6h-1.6zM922.8 1652.5h1.6v1.6h-1.6zM937.1 1645.2h1.6v1.6h-1.6zM951.3 1637.4h1.6v1.6h-1.6zM965.5 1632.5h1.6v1.6h-1.6zM979.8 1620.0h1.6v1.6h-1.6zM994.0 1611.6h1.6v1.6h-1.6zM1008.2 1606.9h1.6v1.6h-1.6zM1022.5 1600.7h1.6v1.6h-1.6zM1036.7 1593.9h1.6v1.6h-1.6zM1051.0 1585.7h1.6v1.6h-1.6zM1065.2 1579.7h1.6v1.6h-1.6zM1079.4 1572.2h1.6v1.6h-1.6zM1093.7 1564.7h1.6v1.6h-1.6zM1107.9 1561.1h1.6v1.6h-1.6zM1122.1 1554.6h1.6v1.6h-1.6zM1136.4 1547.1h1.6v1.6h-1.6zM1150.6 1542.8h1.6v1.6h-1.6zM1164.8 1537.4h1.6v1.6h-1.6zM1179.1 1533.8h1.6v1.6h-1.6zM1193.3 1529.2h1.6v1.6h-1.6zM1207.6 1524.2h1.6v1.6h-1.6zM1221.8 1519.1h1.6v1.6h-1.6zM1236.0 1514.3h1.6v1.6h-1.6zM1250.3 1510.1h1.6v1.6h-1.6zM1264.5 1506.6h1.6v1.6h-1.6zM1278.7 1503.3h1.6v1.6h-1.6zM1293.0 1500.2h1.6v1.6h-1.6zM1307.2 1497.4h1.6v1.6h-1.6zM1321.5 1494.7h1.6v1.6h-1.6zM1335.7 1492.3h1.6v1.6h-1.6zM1349.9 1490.0h1.6v1.6h-1.6zM1364.2 1487.8h1.6v1.6h-1.6zM1378.4 1485.7h1.6v1.6h-1.6zM1392.6 1483.6h1.6v1.6h-1.6zM1406.9 1481.6h1.6v1.6h-1.6zM1421.1 1479.6h1.6v1.6h-1.6zM1435.3 1477.6h1.6v1.6h-1.6zM1449.6 1475.7h1.6v1.6h-1.6zM1463.8 1473.9h1.6v1.6h-1.6zM1478.1 1472.1h1.6v1.6h-1.6zM1492.3 1470.4h1.6v1.6h-1.6zM1506.5 1468.7h1.6v1.6h-1.6zM1520.8 1467.1h1.6v1.6h-1.6zM1535.0 1465.5h1.6v1.6h-1.6zM1549.2 1464.0h1.6v1.6h-1.6zM1563.5 1462.6h1.6v1.6h-1.6zM1577.7 1461.2h1.6v1.6h-1.6zM1591.9 1459.9h1.6v1.6h-1.6zM1606.2 1458.7h1.6v1.6h-1.6zM1620.4 1457.6h1.6v1.6h-1.6zM1634.7 1456.5h1.6v1.6h-1.6zM1648.9 1455.5h1.6v1.6h-1.6zM1663.1 1454.6h1.6v1.6h-1.6zM1677.4 1453.7h1.6v1.6h-1.6zM1691.6 1452.8h1.6v1.6h-1.6zM1705.8 1451.9h1.6v1.6h-1.6zM1720.1 1451.1h1.6v1.6h-1.6zM1734.3 1450.3h1.6v1.6h-1.6zM1748.6 1449.5h1.6v1.6h-1.6zM1762.8 1448.7h1.6v1.6h-1.6zM1777.0 1448.0h1.6v1.6h-1.6zM1791.3 1447.3h1.6v1.6h-1.6zM1805.5 1446.7h1.6v1.6h-1.6zM1819.7 1446.1h1.6v1.6h-1.6zM1834.0 1445.6h1.6v1.6h-1.6zM1848.2 1445.1h1.6v1.6h-1.6zM1862.4 1444.6h1.6v1.6h-1.6zM1876.7 1444.3h1.6v1.6h-1.6zM1890.9 1444.0h1.6v1.6h-1.6zM1905.2 1443.7h1.6v1.6h-1.6zM1919.4 1443.5h1.6v1.6h-1.6zM1933.6 1443.4h1.6v1.6h-1.6zM1947.9 1443.2h1.6v1.6h-1.6zM1962.1 1443.0h1.6v1.6h-1.6zM1976.3 1442.9h1.6v1.6h-1.6zM1990.6 1442.7h1.6v1.6h-1.6zM2004.8 1442.5h1.6v1.6h-1.6zM2019.0 1442.3h1.6v1.6h-1.6zM2033.3 1442.1h1.6v1.6h-1.6zM2047.5 1441.9h1.6v1.6h-1.6zM2061.8 1441.7h1.6v1.6h-1.6zM2076.0 1441.6h1.6v1.6h-1.6zM2090.2 1441.4h1.6v1.6h-1.6zM2104.5 1441.2h1.6v1.6h-1.6zM2118.7 1441.0h1.6v1.6h-1.6zM2132.9 1440.8h1.6v1.6h-1.6zM2147.2 1440.6h1.6v1.6h-1.6zM2161.4 1440.4h1.6v1.6h-1.6zM2175.7 1440.2h1.6v1.6h-1.6zM2189.9 1440.0h1.6v1.6h-1.6zM2204.1 1439.8h1.6v1.6h-1.6zM2218.4 1439.6h1.6v1.6h-1.6zM2232.6 1439.4h1.6v1.6h-1.6zM2246.8 1439.2h1.6v1.6h-1.6zM2261.1 1439.0h1.6v1.6h-1.6zM2275.3 1438.8h1.6v1.6h-1.6zM2289.5 1438.5h1.6v1.6h-1.6zM2303.8 1438.3h1.6v1.6h-1.6zM2318.0 1438.1h1.6v1.6h-1.6zM2332.3 1437.9h1.6v1.6h-1.6zM2346.5 1437.7h1.6v1.6h-1.6zM2360.7 1437.5h1.6v1.6h-1.6zM2375.0 1437.2h1.6v1.6h-1.6zM2389.2 1437.0h1.6v1.6h-1.6z" fill="#FFC20E"/>
<path d="M250.4 1687.2h8.2v8.2h-8.2zM264.6 1690.4h8.2v8.2h-8.2zM278.9 1694.7h8.2v8.2h-8.2zM293.1 1699.7h8.2v8.2h-8.2zM307.3 1703.2h8.2v8.2h-8.2zM321.6 1705.8h8.2v8.2h-8.2zM335.8 1707.5h8.2v8.2h-8.2zM350.1 1709.1h8.2v8.2h-8.2zM364.3 1713.2h8.2v8.2h-8.2zM378.5 1722.8h8.2v8.2h-8.2zM392.8 1726.2h8.2v8.2h-8.2zM407.0 1728.5h8.2v8.2h-8.2zM421.2 1731.9h8.2v8.2h-8.2zM435.5 1737.8h8.2v8.2h-8.2zM449.7 1742.1h8.2v8.2h-8.2zM464.0 1744.2h8.2v8.2h-8.2zM478.2 1746.6h8.2v8.2h-8.2zM492.4 1750.5h8.2v8.2h-8.2zM506.7 1754.2h8.2v8.2h-8.2zM520.9 1756.7h8.2v8.2h-8.2zM535.1 1759.7h8.2v8.2h-8.2zM549.4 1764.6h8.2v8.2h-8.2zM563.6 1769.4h8.2v8.2h-8.2zM577.8 1774.2h8.2v8.2h-8.2zM592.1 1775.7h8.2v8.2h-8.2zM606.3 1768.5h8.2v8.2h-8.2zM620.6 1768.4h8.2v8.2h-8.2zM634.8 1765.2h8.2v8.2h-8.2zM649.0 1758.4h8.2v8.2h-8.2zM663.3 1756.2h8.2v8.2h-8.2zM677.5 1749.6h8.2v8.2h-8.2zM691.7 1749.6h8.2v8.2h-8.2zM706.0 1748.0h8.2v8.2h-8.2zM720.2 1741.0h8.2v8.2h-8.2zM734.4 1739.1h8.2v8.2h-8.2zM748.7 1731.6h8.2v8.2h-8.2zM762.9 1719.4h8.2v8.2h-8.2zM777.2 1715.3h8.2v8.2h-8.2zM791.4 1702.9h8.2v8.2h-8.2zM805.6 1704.5h8.2v8.2h-8.2zM819.9 1689.4h8.2v8.2h-8.2zM834.1 1691.2h8.2v8.2h-8.2zM848.3 1675.6h8.2v8.2h-8.2zM862.6 1671.4h8.2v8.2h-8.2zM876.8 1660.7h8.2v8.2h-8.2zM891.1 1648.6h8.2v8.2h-8.2zM905.3 1639.1h8.2v8.2h-8.2zM919.5 1630.8h8.2v8.2h-8.2zM933.8 1620.8h8.2v8.2h-8.2zM948.0 1614.4h8.2v8.2h-8.2zM962.2 1608.1h8.2v8.2h-8.2zM976.5 1597.4h8.2v8.2h-8.2zM990.7 1586.8h8.2v8.2h-8.2zM1004.9 1586.6h8.2v8.2h-8.2zM1019.2 1578.4h8.2v8.2h-8.2zM1033.4 1569.6h8.2v8.2h-8.2zM1047.7 1564.4h8.2v8.2h-8.2zM1061.9 1557.6h8.2v8.2h-8.2zM1076.1 1551.6h8.2v8.2h-8.2zM1090.4 1543.3h8.2v8.2h-8.2zM1104.6 1540.6h8.2v8.2h-8.2zM1118.8 1534.0h8.2v8.2h-8.2zM1133.1 1527.9h8.2v8.2h-8.2zM1147.3 1522.9h8.2v8.2h-8.2zM1161.5 1517.6h8.2v8.2h-8.2zM1175.8 1513.1h8.2v8.2h-8.2zM1190.0 1508.9h8.2v8.2h-8.2zM1204.3 1505.0h8.2v8.2h-8.2zM1218.5 1501.3h8.2v8.2h-8.2zM1232.7 1497.8h8.2v8.2h-8.2zM1247.0 1494.3h8.2v8.2h-8.2zM1261.2 1491.1h8.2v8.2h-8.2zM1275.4 1488.0h8.2v8.2h-8.2zM1289.7 1484.9h8.2v8.2h-8.2zM1303.9 1481.6h8.2v8.2h-8.2zM1318.2 1478.1h8.2v8.2h-8.2zM1332.4 1474.8h8.2v8.2h-8.2zM1346.6 1471.8h8.2v8.2h-8.2zM1360.9 1469.1h8.2v8.2h-8.2zM1375.1 1466.7h8.2v8.2h-8.2zM1389.3 1464.5h8.2v8.2h-8.2zM1403.6 1462.4h8.2v8.2h-8.2zM1417.8 1460.3h8.2v8.2h-8.2zM1432.0 1458.2h8.2v8.2h-8.2zM1446.3 1456.2h8.2v8.2h-8.2zM1460.5 1454.2h8.2v8.2h-8.2zM1474.8 1452.2h8.2v8.2h-8.2zM1489.0 1450.2h8.2v8.2h-8.2zM1503.2 1448.4h8.2v8.2h-8.2zM1517.5 1446.5h8.2v8.2h-8.2zM1531.7 1444.7h8.2v8.2h-8.2zM1545.9 1443.0h8.2v8.2h-8.2zM1560.2 1441.4h8.2v8.2h-8.2zM1574.4 1439.8h8.2v8.2h-8.2zM1588.6 1438.3h8.2v8.2h-8.2zM1602.9 1436.9h8.2v8.2h-8.2zM1617.1 1435.6h8.2v8.2h-8.2zM1631.4 1434.4h8.2v8.2h-8.2zM1645.6 1433.3h8.2v8.2h-8.2zM1659.8 1432.2h8.2v8.2h-8.2zM1674.1 1431.2h8.2v8.2h-8.2zM1688.3 1430.3h8.2v8.2h-8.2zM1702.5 1429.4h8.2v8.2h-8.2zM1716.8 1428.6h8.2v8.2h-8.2zM1731.0 1427.7h8.2v8.2h-8.2zM1745.3 1427.0h8.2v8.2h-8.2zM1759.5 1426.2h8.2v8.2h-8.2zM1773.7 1425.5h8.2v8.2h-8.2zM1788.0 1424.8h8.2v8.2h-8.2zM1802.2 1424.1h8.2v8.2h-8.2zM1816.4 1423.4h8.2v8.2h-8.2zM1830.7 1422.8h8.2v8.2h-8.2zM1844.9 1422.2h8.2v8.2h-8.2zM1859.1 1421.5h8.2v8.2h-8.2zM1873.4 1420.9h8.2v8.2h-8.2zM1887.6 1420.3h8.2v8.2h-8.2zM1901.9 1419.6h8.2v8.2h-8.2zM1916.1 1419.0h8.2v8.2h-8.2zM1930.3 1418.4h8.2v8.2h-8.2zM1944.6 1417.9h8.2v8.2h-8.2zM1958.8 1417.6h8.2v8.2h-8.2zM1973.0 1417.3h8.2v8.2h-8.2zM1987.3 1417.0h8.2v8.2h-8.2zM2001.5 1416.7h8.2v8.2h-8.2zM2015.7 1416.4h8.2v8.2h-8.2zM2030.0 1416.1h8.2v8.2h-8.2zM2044.2 1415.9h8.2v8.2h-8.2zM2058.5 1415.6h8.2v8.2h-8.2zM2072.7 1415.3h8.2v8.2h-8.2zM2086.9 1415.1h8.2v8.2h-8.2zM2101.2 1414.8h8.2v8.2h-8.2zM2115.4 1414.6h8.2v8.2h-8.2zM2129.6 1414.4h8.2v8.2h-8.2zM2143.9 1414.2h8.2v8.2h-8.2zM2158.1 1414.0h8.2v8.2h-8.2zM2172.4 1413.8h8.2v8.2h-8.2zM2186.6 1413.6h8.2v8.2h-8.2zM2200.8 1413.4h8.2v8.2h-8.2zM2215.1 1413.3h8.2v8.2h-8.2zM2229.3 1413.1h8.2v8.2h-8.2zM2243.5 1413.0h8.2v8.2h-8.2zM2257.8 1412.9h8.2v8.2h-8.2zM2272.0 1412.7h8.2v8.2h-8.2zM2286.2 1412.6h8.2v8.2h-8.2zM2300.5 1412.6h8.2v8.2h-8.2zM2314.7 1412.5h8.2v8.2h-8.2zM2329.0 1412.4h8.2v8.2h-8.2zM2343.2 1412.4h8.2v8.2h-8.2zM2357.4 1412.3h8.2v8.2h-8.2zM2371.7 1412.3h8.2v8.2h-8.2zM2385.9 1412.3h8.2v8.2h-8.2z" fill="none" stroke="#FF9A9A" stroke-width="2.4"/>
<path d="M253.7 1690.5h1.6v1.6h-1.6zM267.9 1693.7h1.6v1.6h-1.6zM282.2 1698.0h1.6v1.6h-1.6zM296.4 1703.0h1.6v1.6h-1.6zM310.6 1706.5h1.6v1.6h-1.6zM324.9 1709.1h1.6v1.6h-1.6zM339.1 1710.8h1.6v1.6h-1.6zM353.4 1712.4h1.6v1.6h-1.6zM367.6 1716.5h1.6v1.6h-1.6zM381.8 1726.1h1.6v1.6h-1.6zM396.1 1729.5h1.6v1.6h-1.6zM410.3 1731.8h1.6v1.6h-1.6zM424.5 1735.2h1.6v1.6h-1.6zM438.8 1741.1h1.6v1.6h-1.6zM453.0 1745.4h1.6v1.6h-1.6zM467.3 1747.5h1.6v1.6h-1.6zM481.5 1749.9h1.6v1.6h-1.6zM495.7 1753.8h1.6v1.6h-1.6zM510.0 1757.5h1.6v1.6h-1.6zM524.2 1760.0h1.6v1.6h-1.6zM538.4 1763.0h1.6v1.6h-1.6zM552.7 1767.9h1.6v1.6h-1.6zM566.9 1772.7h1.6v1.6h-1.6zM581.1 1777.5h1.6v1.6h-1.6zM595.4 1779.0h1.6v1.6h-1.6zM609.6 1771.8h1.6v1.6h-1.6zM623.9 1771.7h1.6v1.6h-1.6zM638.1 1768.5h1.6v1.6h-1.6zM652.3 1761.7h1.6v1.6h-1.6zM666.6 1759.5h1.6v1.6h-1.6zM680.8 1752.9h1.6v1.6h-1.6zM695.0 1752.9h1.6v1.6h-1.6zM709.3 1751.3h1.6v1.6h-1.6zM723.5 1744.3h1.6v1.6h-1.6zM737.7 1742.4h1.6v1.6h-1.6zM752.0 1734.9h1.6v1.6h-1.6zM766.2 1722.7h1.6v1.6h-1.6zM780.5 1718.6h1.6v1.6h-1.6zM794.7 1706.2h1.6v1.6h-1.6zM808.9 1707.8h1.6v1.6h-1.6zM823.2 1692.7h1.6v1.6h-1.6zM837.4 1694.5h1.6v1.6h-1.6zM851.6 1678.9h1.6v1.6h-1.6zM865.9 1674.7h1.6v1.6h-1.6zM880.1 1664.0h1.6v1.6h-1.6zM894.4 1651.9h1.6v1.6h-1.6zM908.6 1642.4h1.6v1.6h-1.6zM922.8 1634.1h1.6v1.6h-1.6zM937.1 1624.1h1.6v1.6h-1.6zM951.3 1617.7h1.6v1.6h-1.6zM965.5 1611.4h1.6v1.6h-1.6zM979.8 1600.7h1.6v1.6h-1.6zM994.0 1590.1h1.6v1.6h-1.6zM1008.2 1589.9h1.6v1.6h-1.6zM1022.5 1581.7h1.6v1.6h-1.6zM1036.7 1572.9h1.6v1.6h-1.6zM1051.0 1567.7h1.6v1.6h-1.6zM1065.2 1560.9h1.6v1.6h-1.6zM1079.4 1554.9h1.6v1.6h-1.6zM1093.7 1546.6h1.6v1.6h-1.6zM1107.9 1543.9h1.6v1.6h-1.6zM1122.1 1537.3h1.6v1.6h-1.6zM1136.4 1531.2h1.6v1.6h-1.6zM1150.6 1526.2h1.6v1.6h-1.6zM1164.8 1520.9h1.6v1.6h-1.6zM1179.1 1516.4h1.6v1.6h-1.6zM1193.3 1512.2h1.6v1.6h-1.6zM1207.6 1508.3h1.6v1.6h-1.6zM1221.8 1504.6h1.6v1.6h-1.6zM1236.0 1501.1h1.6v1.6h-1.6zM1250.3 1497.6h1.6v1.6h-1.6zM1264.5 1494.4h1.6v1.6h-1.6zM1278.7 1491.3h1.6v1.6h-1.6zM1293.0 1488.2h1.6v1.6h-1.6zM1307.2 1484.9h1.6v1.6h-1.6zM1321.5 1481.4h1.6v1.6h-1.6zM1335.7 1478.1h1.6v1.6h-1.6zM1349.9 1475.1h1.6v1.6h-1.6zM1364.2 1472.4h1.6v1.6h-1.6zM1378.4 1470.0h1.6v1.6h-1.6zM1392.6 1467.8h1.6v1.6h-1.6zM1406.9 1465.7h1.6v1.6h-1.6zM1421.1 1463.6h1.6v1.6h-1.6zM1435.3 1461.5h1.6v1.6h-1.6zM1449.6 1459.5h1.6v1.6h-1.6zM1463.8 1457.5h1.6v1.6h-1.6zM1478.1 1455.5h1.6v1.6h-1.6zM1492.3 1453.5h1.6v1.6h-1.6zM1506.5 1451.7h1.6v1.6h-1.6zM1520.8 1449.8h1.6v1.6h-1.6zM1535.0 1448.0h1.6v1.6h-1.6zM1549.2 1446.3h1.6v1.6h-1.6zM1563.5 1444.7h1.6v1.6h-1.6zM1577.7 1443.1h1.6v1.6h-1.6zM1591.9 1441.6h1.6v1.6h-1.6zM1606.2 1440.2h1.6v1.6h-1.6zM1620.4 1438.9h1.6v1.6h-1.6zM1634.7 1437.7h1.6v1.6h-1.6zM1648.9 1436.6h1.6v1.6h-1.6zM1663.1 1435.5h1.6v1.6h-1.6zM1677.4 1434.5h1.6v1.6h-1.6zM1691.6 1433.6h1.6v1.6h-1.6zM1705.8 1432.7h1.6v1.6h-1.6zM1720.1 1431.9h1.6v1.6h-1.6zM1734.3 1431.0h1.6v1.6h-1.6zM1748.6 1430.3h1.6v1.6h-1.6zM1762.8 1429.5h1.6v1.6h-1.6zM1777.0 1428.8h1.6v1.6h-1.6zM1791.3 1428.1h1.6v1.6h-1.6zM1805.5 1427.4h1.6v1.6h-1.6zM1819.7 1426.7h1.6v1.6h-1.6zM1834.0 1426.1h1.6v1.6h-1.6zM1848.2 1425.5h1.6v1.6h-1.6zM1862.4 1424.8h1.6v1.6h-1.6zM1876.7 1424.2h1.6v1.6h-1.6zM1890.9 1423.6h1.6v1.6h-1.6zM1905.2 1422.9h1.6v1.6h-1.6zM1919.4 1422.3h1.6v1.6h-1.6zM1933.6 1421.7h1.6v1.6h-1.6zM1947.9 1421.2h1.6v1.6h-1.6zM1962.1 1420.9h1.6v1.6h-1.6zM1976.3 1420.6h1.6v1.6h-1.6zM1990.6 1420.3h1.6v1.6h-1.6zM2004.8 1420.0h1.6v1.6h-1.6zM2019.0 1419.7h1.6v1.6h-1.6zM2033.3 1419.4h1.6v1.6h-1.6zM2047.5 1419.2h1.6v1.6h-1.6zM2061.8 1418.9h1.6v1.6h-1.6zM2076.0 1418.6h1.6v1.6h-1.6zM2090.2 1418.4h1.6v1.6h-1.6zM2104.5 1418.1h1.6v1.6h-1.6zM2118.7 1417.9h1.6v1.6h-1.6zM2132.9 1417.7h1.6v1.6h-1.6zM2147.2 1417.5h1.6v1.6h-1.6zM2161.4 1417.3h1.6v1.6h-1.6zM2175.7 1417.1h1.6v1.6h-1.6zM2189.9 1416.9h1.6v1.6h-1.6zM2204.1 1416.7h1.6v1.6h-1.6zM2218.4 1416.6h1.6v1.6h-1.6zM2232.6 1416.4h1.6v1.6h-1.6zM2246.8 1416.3h1.6v1.6h-1.6zM2261.1 1416.2h1.6v1.6h-1.6zM2275.3 1416.0h1.6v1.6h-1.6zM2289.5 1415.9h1.6v1.6h-1.6zM2303.8 1415.9h1.6v1.6h-1.6zM2318.0 1415.8h1.6v1.6h-1.6zM2332.3 1415.7h1.6v1.6h-1.6zM2346.5 1415.7h1.6v1.6h-1.6zM2360.7 1415.6h1.6v1.6h-1.6zM2375.0 1415.6h1.6v1.6h-1.6zM2389.2 1415.6h1.6v1.6h-1.6z" fill="#FF9A9A"/>
<path d="M250.4 1652.5h8.2v8.2h-8.2zM264.6 1655.8h8.2v8.2h-8.2zM278.9 1659.9h8.2v8.2h-8.2zM293.1 1665.6h8.2v8.2h-8.2zM307.3 1669.1h8.2v8.2h-8.2zM321.6 1670.6h8.2v8.2h-8.2zM335.8 1672.7h8.2v8.2h-8.2zM350.1 1679.5h8.2v8.2h-8.2zM364.3 1684.2h8.2v8.2h-8.2zM378.5 1685.9h8.2v8.2h-8.2zM392.8 1687.8h8.2v8.2h-8.2zM407.0 1690.7h8.2v8.2h-8.2zM421.2 1694.0h8.2v8.2h-8.2zM435.5 1697.8h8.2v8.2h-8.2zM449.7 1701.4h8.2v8.2h-8.2zM464.0 1704.3h8.2v8.2h-8.2zM478.2 1707.6h8.2v8.2h-8.2zM492.4 1712.3h8.2v8.2h-8.2zM506.7 1716.6h8.2v8.2h-8.2zM520.9 1719.9h8.2v8.2h-8.2zM535.1 1722.2h8.2v8.2h-8.2zM549.4 1723.6h8.2v8.2h-8.2zM563.6 1725.3h8.2v8.2h-8.2zM577.8 1728.4h8.2v8.2h-8.2zM592.1 1729.4h8.2v8.2h-8.2zM606.3 1719.8h8.2v8.2h-8.2zM620.6 1717.8h8.2v8.2h-8.2zM634.8 1710.0h8.2v8.2h-8.2zM649.0 1722.3h8.2v8.2h-8.2zM663.3 1715.0h8.2v8.2h-8.2zM677.5 1707.0h8.2v8.2h-8.2zM691.7 1703.4h8.2v8.2h-8.2zM706.0 1709.9h8.2v8.2h-8.2zM720.2 1701.6h8.2v8.2h-8.2zM734.4 1690.6h8.2v8.2h-8.2zM748.7 1681.0h8.2v8.2h-8.2zM762.9 1681.3h8.2v8.2h-8.2zM777.2 1685.9h8.2v8.2h-8.2zM791.4 1687.1h8.2v8.2h-8.2zM805.6 1675.3h8.2v8.2h-8.2zM819.9 1672.4h8.2v8.2h-8.2zM834.1 1660.5h8.2v8.2h-8.2zM848.3 1654.6h8.2v8.2h-8.2zM862.6 1654.4h8.2v8.2h-8.2zM876.8 1639.7h8.2v8.2h-8.2zM891.1 1635.7h8.2v8.2h-8.2zM905.3 1624.2h8.2v8.2h-8.2zM919.5 1619.0h8.2v8.2h-8.2zM933.8 1613.3h8.2v8.2h-8.2zM948.0 1604.5h8.2v8.2h-8.2zM962.2 1599.0h8.2v8.2h-8.2zM976.5 1589.6h8.2v8.2h-8.2zM990.7 1584.8h8.2v8.2h-8.2zM1004.9 1574.7h8.2v8.2h-8.2zM1019.2 1568.8h8.2v8.2h-8.2zM1033.4 1561.2h8.2v8.2h-8.2zM1047.7 1553.5h8.2v8.2h-8.2zM1061.9 1543.6h8.2v8.2h-8.2zM1076.1 1542.1h8.2v8.2h-8.2zM1090.4 1535.8h8.2v8.2h-8.2zM1104.6 1532.2h8.2v8.2h-8.2zM1118.8 1525.3h8.2v8.2h-8.2zM1133.1 1522.0h8.2v8.2h-8.2zM1147.3 1516.1h8.2v8.2h-8.2zM1161.5 1511.5h8.2v8.2h-8.2zM1175.8 1507.2h8.2v8.2h-8.2zM1190.0 1503.0h8.2v8.2h-8.2zM1204.3 1499.0h8.2v8.2h-8.2zM1218.5 1495.0h8.2v8.2h-8.2zM1232.7 1491.2h8.2v8.2h-8.2zM1247.0 1487.5h8.2v8.2h-8.2zM1261.2 1483.7h8.2v8.2h-8.2zM1275.4 1480.2h8.2v8.2h-8.2zM1289.7 1476.9h8.2v8.2h-8.2zM1303.9 1474.1h8.2v8.2h-8.2zM1318.2 1471.6h8.2v8.2h-8.2zM1332.4 1469.2h8.2v8.2h-8.2zM1346.6 1466.6h8.2v8.2h-8.2zM1360.9 1463.6h8.2v8.2h-8.2zM1375.1 1460.5h8.2v8.2h-8.2zM1389.3 1457.8h8.2v8.2h-8.2zM1403.6 1455.4h8.2v8.2h-8.2zM1417.8 1453.0h8.2v8.2h-8.2zM1432.0 1450.7h8.2v8.2h-8.2zM1446.3 1448.4h8.2v8.2h-8.2zM1460.5 1446.2h8.2v8.2h-8.2zM1474.8 1444.0h8.2v8.2h-8.2zM1489.0 1441.9h8.2v8.2h-8.2zM1503.2 1439.8h8.2v8.2h-8.2zM1517.5 1437.8h8.2v8.2h-8.2zM1531.7 1435.9h8.2v8.2h-8.2zM1545.9 1434.1h8.2v8.2h-8.2zM1560.2 1432.3h8.2v8.2h-8.2zM1574.4 1430.6h8.2v8.2h-8.2zM1588.6 1429.0h8.2v8.2h-8.2zM1602.9 1427.5h8.2v8.2h-8.2zM1617.1 1426.1h8.2v8.2h-8.2zM1631.4 1424.8h8.2v8.2h-8.2zM1645.6 1423.6h8.2v8.2h-8.2zM1659.8 1422.4h8.2v8.2h-8.2zM1674.1 1421.3h8.2v8.2h-8.2zM1688.3 1420.2h8.2v8.2h-8.2zM1702.5 1419.1h8.2v8.2h-8.2zM1716.8 1418.0h8.2v8.2h-8.2zM1731.0 1416.9h8.2v8.2h-8.2zM1745.3 1415.9h8.2v8.2h-8.2zM1759.5 1415.0h8.2v8.2h-8.2zM1773.7 1414.1h8.2v8.2h-8.2zM1788.0 1413.2h8.2v8.2h-8.2zM1802.2 1412.4h8.2v8.2h-8.2zM1816.4 1411.6h8.2v8.2h-8.2zM1830.7 1411.0h8.2v8.2h-8.2zM1844.9 1410.4h8.2v8.2h-8.2zM1859.1 1409.8h8.2v8.2h-8.2zM1873.4 1409.4h8.2v8.2h-8.2zM1887.6 1409.1h8.2v8.2h-8.2zM1901.9 1408.8h8.2v8.2h-8.2zM1916.1 1408.6h8.2v8.2h-8.2zM1930.3 1408.5h8.2v8.2h-8.2zM1944.6 1408.3h8.2v8.2h-8.2zM1958.8 1408.1h8.2v8.2h-8.2zM1973.0 1407.9h8.2v8.2h-8.2zM1987.3 1407.7h8.2v8.2h-8.2zM2001.5 1407.4h8.2v8.2h-8.2zM2015.7 1407.2h8.2v8.2h-8.2zM2030.0 1407.0h8.2v8.2h-8.2zM2044.2 1406.7h8.2v8.2h-8.2zM2058.5 1406.4h8.2v8.2h-8.2zM2072.7 1406.2h8.2v8.2h-8.2zM2086.9 1405.9h8.2v8.2h-8.2zM2101.2 1405.6h8.2v8.2h-8.2zM2115.4 1405.3h8.2v8.2h-8.2zM2129.6 1405.0h8.2v8.2h-8.2zM2143.9 1404.7h8.2v8.2h-8.2zM2158.1 1404.4h8.2v8.2h-8.2zM2172.4 1404.1h8.2v8.2h-8.2zM2186.6 1403.7h8.2v8.2h-8.2zM2200.8 1403.4h8.2v8.2h-8.2zM2215.1 1403.1h8.2v8.2h-8.2zM2229.3 1402.7h8.2v8.2h-8.2zM2243.5 1402.3h8.2v8.2h-8.2zM2257.8 1401.9h8.2v8.2h-8.2zM2272.0 1401.6h8.2v8.2h-8.2zM2286.2 1401.2h8.2v8.2h-8.2zM2300.5 1400.8h8.2v8.2h-8.2zM2314.7 1400.3h8.2v8.2h-8.2zM2329.0 1399.9h8.2v8.2h-8.2zM2343.2 1399.5h8.2v8.2h-8.2zM2357.4 1399.0h8.2v8.2h-8.2zM2371.7 1398.6h8.2v8.2h-8.2zM2385.9 1398.1h8.2v8.2h-8.2z" fill="none" stroke="#202020" stroke-width="2.4"/>
<path d="M253.7 1655.8h1.6v1.6h-1.6zM267.9 1659.1h1.6v1.6h-1.6zM282.2 1663.2h1.6v1.6h-1.6zM296.4 1668.9h1.6v1.6h-1.6zM310.6 1672.4h1.6v1.6h-1.6zM324.9 1673.9h1.6v1.6h-1.6zM339.1 1676.0h1.6v1.6h-1.6zM353.4 1682.8h1.6v1.6h-1.6zM367.6 1687.5h1.6v1.6h-1.6zM381.8 1689.2h1.6v1.6h-1.6zM396.1 1691.1h1.6v1.6h-1.6zM410.3 1694.0h1.6v1.6h-1.6zM424.5 1697.3h1.6v1.6h-1.6zM438.8 1701.1h1.6v1.6h-1.6zM453.0 1704.7h1.6v1.6h-1.6zM467.3 1707.6h1.6v1.6h-1.6zM481.5 1710.9h1.6v1.6h-1.6zM495.7 1715.6h1.6v1.6h-1.6zM510.0 1719.9h1.6v1.6h-1.6zM524.2 1723.2h1.6v1.6h-1.6zM538.4 1725.5h1.6v1.6h-1.6zM552.7 1726.9h1.6v1.6h-1.6zM566.9 1728.6h1.6v1.6h-1.6zM581.1 1731.7h1.6v1.6h-1.6zM595.4 1732.7h1.6v1.6h-1.6zM609.6 1723.1h1.6v1.6h-1.6zM623.9 1721.1h1.6v1.6h-1.6zM638.1 1713.3h1.6v1.6h-1.6zM652.3 1725.6h1.6v1.6h-1.6zM666.6 1718.3h1.6v1.6h-1.6zM680.8 1710.3h1.6v1.6h-1.6zM695.0 1706.7h1.6v1.6h-1.6zM709.3 1713.2h1.6v1.6h-1.6zM723.5 1704.9h1.6v1.6h-1.6zM737.7 1693.9h1.6v1.6h-1.6zM752.0 1684.3h1.6v1.6h-1.6zM766.2 1684.6h1.6v1.6h-1.6zM780.5 1689.2h1.6v1.6h-1.6zM794.7 1690.4h1.6v1.6h-1.6zM808.9 1678.6h1.6v1.6h-1.6zM823.2 1675.7h1.6v1.6h-1.6zM837.4 1663.8h1.6v1.6h-1.6zM851.6 1657.9h1.6v1.6h-1.6zM865.9 1657.7h1.6v1.6h-1.6zM880.1 1643.0h1.6v1.6h-1.6zM894.4 1639.0h1.6v1.6h-1.6zM908.6 1627.5h1.6v1.6h-1.6zM922.8 1622.3h1.6v1.6h-1.6zM937.1 1616.6h1.6v1.6h-1.6zM951.3 1607.8h1.6v1.6h-1.6zM965.5 1602.3h1.6v1.6h-1.6zM979.8 1592.9h1.6v1.6h-1.6zM994.0 1588.1h1.6v1.6h-1.6zM1008.2 1578.0h1.6v1.6h-1.6zM1022.5 1572.1h1.6v1.6h-1.6zM1036.7 1564.5h1.6v1.6h-1.6zM1051.0 1556.8h1.6v1.6h-1.6zM1065.2 1546.9h1.6v1.6h-1.6zM1079.4 1545.4h1.6v1.6h-1.6zM1093.7 1539.1h1.6v1.6h-1.6zM1107.9 1535.5h1.6v1.6h-1.6zM1122.1 1528.6h1.6v1.6h-1.6zM1136.4 1525.3h1.6v1.6h-1.6zM1150.6 1519.4h1.6v1.6h-1.6zM1164.8 1514.8h1.6v1.6h-1.6zM1179.1 1510.5h1.6v1.6h-1.6zM1193.3 1506.3h1.6v1.6h-1.6zM1207.6 1502.3h1.6v1.6h-1.6zM1221.8 1498.3h1.6v1.6h-1.6zM1236.0 1494.5h1.6v1.6h-1.6zM1250.3 1490.8h1.6v1.6h-1.6zM1264.5 1487.0h1.6v1.6h-1.6zM1278.7 1483.5h1.6v1.6h-1.6zM1293.0 1480.2h1.6v1.6h-1.6zM1307.2 1477.4h1.6v1.6h-1.6zM1321.5 1474.9h1.6v1.6h-1.6zM1335.7 1472.5h1.6v1.6h-1.6zM1349.9 1469.9h1.6v1.6h-1.6zM1364.2 1466.9h1.6v1.6h-1.6zM1378.4 1463.8h1.6v1.6h-1.6zM1392.6 1461.1h1.6v1.6h-1.6zM1406.9 1458.7h1.6v1.6h-1.6zM1421.1 1456.3h1.6v1.6h-1.6zM1435.3 1454.0h1.6v1.6h-1.6zM1449.6 1451.7h1.6v1.6h-1.6zM1463.8 1449.5h1.6v1.6h-1.6zM1478.1 1447.3h1.6v1.6h-1.6zM1492.3 1445.2h1.6v1.6h-1.6zM1506.5 1443.1h1.6v1.6h-1.6zM1520.8 1441.1h1.6v1.6h-1.6zM1535.0 1439.2h1.6v1.6h-1.6zM1549.2 1437.4h1.6v1.6h-1.6zM1563.5 1435.6h1.6v1.6h-1.6zM1577.7 1433.9h1.6v1.6h-1.6zM1591.9 1432.3h1.6v1.6h-1.6zM1606.2 1430.8h1.6v1.6h-1.6zM1620.4 1429.4h1.6v1.6h-1.6zM1634.7 1428.1h1.6v1.6h-1.6zM1648.9 1426.9h1.6v1.6h-1.6zM1663.1 1425.7h1.6v1.6h-1.6zM1677.4 1424.6h1.6v1.6h-1.6zM1691.6 1423.5h1.6v1.6h-1.6zM1705.8 1422.4h1.6v1.6h-1.6zM1720.1 1421.3h1.6v1.6h-1.6zM1734.3 1420.2h1.6v1.6h-1.6zM1748.6 1419.2h1.6v1.6h-1.6zM1762.8 1418.3h1.6v1.6h-1.6zM1777.0 1417.4h1.6v1.6h-1.6zM1791.3 1416.5h1.6v1.6h-1.6zM1805.5 1415.7h1.6v1.6h-1.6zM1819.7 1414.9h1.6v1.6h-1.6zM1834.0 1414.3h1.6v1.6h-1.6zM1848.2 1413.7h1.6v1.6h-1.6zM1862.4 1413.1h1.6v1.6h-1.6zM1876.7 1412.7h1.6v1.6h-1.6zM1890.9 1412.4h1.6v1.6h-1.6zM1905.2 1412.1h1.6v1.6h-1.6zM1919.4 1411.9h1.6v1.6h-1.6zM1933.6 1411.8h1.6v1.6h-1.6zM1947.9 1411.6h1.6v1.6h-1.6zM1962.1 1411.4h1.6v1.6h-1.6zM1976.3 1411.2h1.6v1.6h-1.6zM1990.6 1411.0h1.6v1.6h-1.6zM2004.8 1410.7h1.6v1.6h-1.6zM2019.0 1410.5h1.6v1.6h-1.6zM2033.3 1410.3h1.6v1.6h-1.6zM2047.5 1410.0h1.6v1.6h-1.6zM2061.8 1409.7h1.6v1.6h-1.6zM2076.0 1409.5h1.6v1.6h-1.6zM2090.2 1409.2h1.6v1.6h-1.6zM2104.5 1408.9h1.6v1.6h-1.6zM2118.7 1408.6h1.6v1.6h-1.6zM2132.9 1408.3h1.6v1.6h-1.6zM2147.2 1408.0h1.6v1.6h-1.6zM2161.4 1407.7h1.6v1.6h-1.6zM2175.7 1407.4h1.6v1.6h-1.6zM2189.9 1407.0h1.6v1.6h-1.6zM2204.1 1406.7h1.6v1.6h-1.6zM2218.4 1406.4h1.6v1.6h-1.6zM2232.6 1406.0h1.6v1.6h-1.6zM2246.8 1405.6h1.6v1.6h-1.6zM2261.1 1405.2h1.6v1.6h-1.6zM2275.3 1404.9h1.6v1.6h-1.6zM2289.5 1404.5h1.6v1.6h-1.6zM2303.8 1404.1h1.6v1.6h-1.6zM2318.0 1403.6h1.6v1.6h-1.6zM2332.3 1403.2h1.6v1.6h-1.6zM2346.5 1402.8h1.6v1.6h-1.6zM2360.7 1402.3h1.6v1.6h-1.6zM2375.0 1401.9h1.6v1.6h-1.6zM2389.2 1401.4h1.6v1.6h-1.6z" fill="#202020"/>
<path d="M250.4 1622.3h8.2v8.2h-8.2zM264.6 1626.3h8.2v8.2h-8.2zM278.9 1630.0h8.2v8.2h-8.2zM293.1 1633.3h8.2v8.2h-8.2zM307.3 1636.3h8.2v8.2h-8.2zM321.6 1639.1h8.2v8.2h-8.2zM335.8 1641.7h8.2v8.2h-8.2zM350.1 1644.2h8.2v8.2h-8.2zM364.3 1646.3h8.2v8.2h-8.2zM378.5 1648.5h8.2v8.2h-8.2zM392.8 1651.4h8.2v8.2h-8.2zM407.0 1655.6h8.2v8.2h-8.2zM421.2 1660.7h8.2v8.2h-8.2zM435.5 1665.2h8.2v8.2h-8.2zM449.7 1669.0h8.2v8.2h-8.2zM464.0 1672.5h8.2v8.2h-8.2zM478.2 1675.7h8.2v8.2h-8.2zM492.4 1679.0h8.2v8.2h-8.2zM506.7 1681.9h8.2v8.2h-8.2zM520.9 1684.0h8.2v8.2h-8.2zM535.1 1685.4h8.2v8.2h-8.2zM549.4 1686.8h8.2v8.2h-8.2zM563.6 1688.9h8.2v8.2h-8.2zM577.8 1690.9h8.2v8.2h-8.2zM592.1 1691.7h8.2v8.2h-8.2zM606.3 1691.6h8.2v8.2h-8.2zM620.6 1692.9h8.2v8.2h-8.2zM634.8 1691.6h8.2v8.2h-8.2zM649.0 1693.3h8.2v8.2h-8.2zM663.3 1694.7h8.2v8.2h-8.2zM677.5 1689.3h8.2v8.2h-8.2zM691.7 1689.3h8.2v8.2h-8.2zM706.0 1686.0h8.2v8.2h-8.2zM720.2 1673.7h8.2v8.2h-8.2zM734.4 1677.9h8.2v8.2h-8.2zM748.7 1677.9h8.2v8.2h-8.2zM762.9 1677.0h8.2v8.2h-8.2zM777.2 1664.0h8.2v8.2h-8.2zM791.4 1661.7h8.2v8.2h-8.2zM805.6 1659.5h8.2v8.2h-8.2zM819.9 1656.1h8.2v8.2h-8.2zM834.1 1651.9h8.2v8.2h-8.2zM848.3 1647.0h8.2v8.2h-8.2zM862.6 1639.7h8.2v8.2h-8.2zM876.8 1634.0h8.2v8.2h-8.2zM891.1 1622.6h8.2v8.2h-8.2zM905.3 1609.7h8.2v8.2h-8.2zM919.5 1608.5h8.2v8.2h-8.2zM933.8 1604.1h8.2v8.2h-8.2zM948.0 1599.1h8.2v8.2h-8.2zM962.2 1594.4h8.2v8.2h-8.2zM976.5 1584.6h8.2v8.2h-8.2zM990.7 1578.4h8.2v8.2h-8.2zM1004.9 1570.2h8.2v8.2h-8.2zM1019.2 1564.2h8.2v8.2h-8.2zM1033.4 1557.1h8.2v8.2h-8.2zM1047.7 1548.3h8.2v8.2h-8.2zM1061.9 1543.0h8.2v8.2h-8.2zM1076.1 1538.5h8.2v8.2h-8.2zM1090.4 1532.4h8.2v8.2h-8.2zM1104.6 1528.6h8.2v8.2h-8.2zM1118.8 1521.4h8.2v8.2h-8.2zM1133.1 1517.7h8.2v8.2h-8.2zM1147.3 1511.1h8.2v8.2h-8.2zM1161.5 1508.5h8.2v8.2h-8.2zM1175.8 1505.1h8.2v8.2h-8.2zM1190.0 1501.3h8.2v8.2h-8.2zM1204.3 1497.2h8.2v8.2h-8.2zM1218.5 1492.9h8.2v8.2h-8.2zM1232.7 1488.6h8.2v8.2h-8.2zM1247.0 1484.4h8.2v8.2h-8.2zM1261.2 1480.1h8.2v8.2h-8.2zM1275.4 1475.7h8.2v8.2h-8.2zM1289.7 1471.9h8.2v8.2h-8.2zM1303.9 1468.9h8.2v8.2h-8.2zM1318.2 1466.2h8.2v8.2h-8.2zM1332.4 1463.7h8.2v8.2h-8.2zM1346.6 1461.1h8.2v8.2h-8.2zM1360.9 1458.4h8.2v8.2h-8.2zM1375.1 1455.7h8.2v8.2h-8.2zM1389.3 1453.3h8.2v8.2h-8.2zM1403.6 1451.0h8.2v8.2h-8.2zM1417.8 1448.7h8.2v8.2h-8.2zM1432.0 1446.5h8.2v8.2h-8.2zM1446.3 1444.3h8.2v8.2h-8.2zM1460.5 1442.1h8.2v8.2h-8.2zM1474.8 1440.0h8.2v8.2h-8.2zM1489.0 1437.8h8.2v8.2h-8.2zM1503.2 1435.8h8.2v8.2h-8.2zM1517.5 1433.8h8.2v8.2h-8.2zM1531.7 1431.8h8.2v8.2h-8.2zM1545.9 1430.0h8.2v8.2h-8.2zM1560.2 1428.1h8.2v8.2h-8.2zM1574.4 1426.4h8.2v8.2h-8.2zM1588.6 1424.8h8.2v8.2h-8.2zM1602.9 1423.2h8.2v8.2h-8.2zM1617.1 1421.7h8.2v8.2h-8.2zM1631.4 1420.3h8.2v8.2h-8.2zM1645.6 1419.1h8.2v8.2h-8.2zM1659.8 1417.9h8.2v8.2h-8.2zM1674.1 1416.8h8.2v8.2h-8.2zM1688.3 1415.7h8.2v8.2h-8.2zM1702.5 1414.7h8.2v8.2h-8.2zM1716.8 1413.8h8.2v8.2h-8.2zM1731.0 1412.9h8.2v8.2h-8.2zM1745.3 1412.0h8.2v8.2h-8.2zM1759.5 1411.2h8.2v8.2h-8.2zM1773.7 1410.3h8.2v8.2h-8.2zM1788.0 1409.5h8.2v8.2h-8.2zM1802.2 1408.8h8.2v8.2h-8.2zM1816.4 1408.0h8.2v8.2h-8.2zM1830.7 1407.2h8.2v8.2h-8.2zM1844.9 1406.4h8.2v8.2h-8.2zM1859.1 1405.7h8.2v8.2h-8.2zM1873.4 1404.9h8.2v8.2h-8.2zM1887.6 1404.1h8.2v8.2h-8.2zM1901.9 1403.2h8.2v8.2h-8.2zM1916.1 1402.4h8.2v8.2h-8.2zM1930.3 1401.5h8.2v8.2h-8.2zM1944.6 1400.8h8.2v8.2h-8.2zM1958.8 1400.3h8.2v8.2h-8.2zM1973.0 1399.9h8.2v8.2h-8.2zM1987.3 1399.4h8.2v8.2h-8.2zM2001.5 1398.9h8.2v8.2h-8.2zM2015.7 1398.4h8.2v8.2h-8.2zM2030.0 1397.9h8.2v8.2h-8.2zM2044.2 1397.5h8.2v8.2h-8.2zM2058.5 1397.1h8.2v8.2h-8.2zM2072.7 1396.6h8.2v8.2h-8.2zM2086.9 1396.2h8.2v8.2h-8.2zM2101.2 1395.8h8.2v8.2h-8.2zM2115.4 1395.4h8.2v8.2h-8.2zM2129.6 1395.0h8.2v8.2h-8.2zM2143.9 1394.6h8.2v8.2h-8.2zM2158.1 1394.3h8.2v8.2h-8.2zM2172.4 1394.0h8.2v8.2h-8.2zM2186.6 1393.6h8.2v8.2h-8.2zM2200.8 1393.3h8.2v8.2h-8.2zM2215.1 1393.1h8.2v8.2h-8.2zM2229.3 1392.8h8.2v8.2h-8.2zM2243.5 1392.5h8.2v8.2h-8.2zM2257.8 1392.3h8.2v8.2h-8.2zM2272.0 1392.1h8.2v8.2h-8.2zM2286.2 1391.9h8.2v8.2h-8.2zM2300.5 1391.8h8.2v8.2h-8.2zM2314.7 1391.6h8.2v8.2h-8.2zM2329.0 1391.5h8.2v8.2h-8.2zM2343.2 1391.4h8.2v8.2h-8.2zM2357.4 1391.4h8.2v8.2h-8.2zM2371.7 1391.3h8.2v8.2h-8.2zM2385.9 1391.3h8.2v8.2h-8.2z" fill="none" stroke="#1E8C1E" stroke-width="2.4"/>
<path d="M253.7 1625.6h1.6v1.6h-1.6zM267.9 1629.6h1.6v1.6h-1.6zM282.2 1633.3h1.6v1.6h-1.6zM296.4 1636.6h1.6v1.6h-1.6zM310.6 1639.6h1.6v1.6h-1.6zM324.9 1642.4h1.6v1.6h-1.6zM339.1 1645.0h1.6v1.6h-1.6zM353.4 1647.5h1.6v1.6h-1.6zM367.6 1649.6h1.6v1.6h-1.6zM381.8 1651.8h1.6v1.6h-1.6zM396.1 1654.7h1.6v1.6h-1.6zM410.3 1658.9h1.6v1.6h-1.6zM424.5 1664.0h1.6v1.6h-1.6zM438.8 1668.5h1.6v1.6h-1.6zM453.0 1672.3h1.6v1.6h-1.6zM467.3 1675.8h1.6v1.6h-1.6zM481.5 1679.0h1.6v1.6h-1.6zM495.7 1682.3h1.6v1.6h-1.6zM510.0 1685.2h1.6v1.6h-1.6zM524.2 1687.3h1.6v1.6h-1.6zM538.4 1688.7h1.6v1.6h-1.6zM552.7 1690.1h1.6v1.6h-1.6zM566.9 1692.2h1.6v1.6h-1.6zM581.1 1694.2h1.6v1.6h-1.6zM595.4 1695.0h1.6v1.6h-1.6zM609.6 1694.9h1.6v1.6h-1.6zM623.9 1696.2h1.6v1.6h-1.6zM638.1 1694.9h1.6v1.6h-1.6zM652.3 1696.6h1.6v1.6h-1.6zM666.6 1698.0h1.6v1.6h-1.6zM680.8 1692.6h1.6v1.6h-1.6zM695.0 1692.6h1.6v1.6h-1.6zM709.3 1689.3h1.6v1.6h-1.6zM723.5 1677.0h1.6v1.6h-1.6zM737.7 1681.2h1.6v1.6h-1.6zM752.0 1681.2h1.6v1.6h-1.6zM766.2 1680.3h1.6v1.6h-1.6zM780.5 1667.3h1.6v1.6h-1.6zM794.7 1665.0h1.6v1.6h-1.6zM808.9 1662.8h1.6v1.6h-1.6zM823.2 1659.4h1.6v1.6h-1.6zM837.4 1655.2h1.6v1.6h-1.6zM851.6 1650.3h1.6v1.6h-1.6zM865.9 1643.0h1.6v1.6h-1.6zM880.1 1637.3h1.6v1.6h-1.6zM894.4 1625.9h1.6v1.6h-1.6zM908.6 1613.0h1.6v1.6h-1.6zM922.8 1611.8h1.6v1.6h-1.6zM937.1 1607.4h1.6v1.6h-1.6zM951.3 1602.4h1.6v1.6h-1.6zM965.5 1597.7h1.6v1.6h-1.6zM979.8 1587.9h1.6v1.6h-1.6zM994.0 1581.7h1.6v1.6h-1.6zM1008.2 1573.5h1.6v1.6h-1.6zM1022.5 1567.5h1.6v1.6h-1.6zM1036.7 1560.4h1.6v1.6h-1.6zM1051.0 1551.6h1.6v1.6h-1.6zM1065.2 1546.3h1.6v1.6h-1.6zM1079.4 1541.8h1.6v1.6h-1.6zM1093.7 1535.7h1.6v1.6h-1.6zM1107.9 1531.9h1.6v1.6h-1.6zM1122.1 1524.7h1.6v1.6h-1.6zM1136.4 1521.0h1.6v1.6h-1.6zM1150.6 1514.4h1.6v1.6h-1.6zM1164.8 1511.8h1.6v1.6h-1.6zM1179.1 1508.4h1.6v1.6h-1.6zM1193.3 1504.6h1.6v1.6h-1.6zM1207.6 1500.5h1.6v1.6h-1.6zM1221.8 1496.2h1.6v1.6h-1.6zM1236.0 1491.9h1.6v1.6h-1.6zM1250.3 1487.7h1.6v1.6h-1.6zM1264.5 1483.4h1.6v1.6h-1.6zM1278.7 1479.0h1.6v1.6h-1.6zM1293.0 1475.2h1.6v1.6h-1.6zM1307.2 1472.2h1.6v1.6h-1.6zM1321.5 1469.5h1.6v1.6h-1.6zM1335.7 1467.0h1.6v1.6h-1.6zM1349.9 1464.4h1.6v1.6h-1.6zM1364.2 1461.7h1.6v1.6h-1.6zM1378.4 1459.0h1.6v1.6h-1.6zM1392.6 1456.6h1.6v1.6h-1.6zM1406.9 1454.3h1.6v1.6h-1.6zM1421.1 1452.0h1.6v1.6h-1.6zM1435.3 1449.8h1.6v1.6h-1.6zM1449.6 1447.6h1.6v1.6h-1.6zM1463.8 1445.4h1.6v1.6h-1.6zM1478.1 1443.3h1.6v1.6h-1.6zM1492.3 1441.1h1.6v1.6h-1.6zM1506.5 1439.1h1.6v1.6h-1.6zM1520.8 1437.1h1.6v1.6h-1.6zM1535.0 1435.1h1.6v1.6h-1.6zM1549.2 1433.3h1.6v1.6h-1.6zM1563.5 1431.4h1.6v1.6h-1.6zM1577.7 1429.7h1.6v1.6h-1.6zM1591.9 1428.1h1.6v1.6h-1.6zM1606.2 1426.5h1.6v1.6h-1.6zM1620.4 1425.0h1.6v1.6h-1.6zM1634.7 1423.6h1.6v1.6h-1.6zM1648.9 1422.4h1.6v1.6h-1.6zM1663.1 1421.2h1.6v1.6h-1.6zM1677.4 1420.1h1.6v1.6h-1.6zM1691.6 1419.0h1.6v1.6h-1.6zM1705.8 1418.0h1.6v1.6h-1.6zM1720.1 1417.1h1.6v1.6h-1.6zM1734.3 1416.2h1.6v1.6h-1.6zM1748.6 1415.3h1.6v1.6h-1.6zM1762.8 1414.5h1.6v1.6h-1.6zM1777.0 1413.6h1.6v1.6h-1.6zM1791.3 1412.8h1.6v1.6h-1.6zM1805.5 1412.1h1.6v1.6h-1.6zM1819.7 1411.3h1.6v1.6h-1.6zM1834.0 1410.5h1.6v1.6h-1.6zM1848.2 1409.7h1.6v1.6h-1.6zM1862.4 1409.0h1.6v1.6h-1.6zM1876.7 1408.2h1.6v1.6h-1.6zM1890.9 1407.4h1.6v1.6h-1.6zM1905.2 1406.5h1.6v1.6h-1.6zM1919.4 1405.7h1.6v1.6h-1.6zM1933.6 1404.8h1.6v1.6h-1.6zM1947.9 1404.1h1.6v1.6h-1.6zM1962.1 1403.6h1.6v1.6h-1.6zM1976.3 1403.2h1.6v1.6h-1.6zM1990.6 1402.7h1.6v1.6h-1.6zM2004.8 1402.2h1.6v1.6h-1.6zM2019.0 1401.7h1.6v1.6h-1.6zM2033.3 1401.2h1.6v1.6h-1.6zM2047.5 1400.8h1.6v1.6h-1.6zM2061.8 1400.4h1.6v1.6h-1.6zM2076.0 1399.9h1.6v1.6h-1.6zM2090.2 1399.5h1.6v1.6h-1.6zM2104.5 1399.1h1.6v1.6h-1.6zM2118.7 1398.7h1.6v1.6h-1.6zM2132.9 1398.3h1.6v1.6h-1.6zM2147.2 1397.9h1.6v1.6h-1.6zM2161.4 1397.6h1.6v1.6h-1.6zM2175.7 1397.3h1.6v1.6h-1.6zM2189.9 1396.9h1.6v1.6h-1.6zM2204.1 1396.6h1.6v1.6h-1.6zM2218.4 1396.4h1.6v1.6h-1.6zM2232.6 1396.1h1.6v1.6h-1.6zM2246.8 1395.8h1.6v1.6h-1.6zM2261.1 1395.6h1.6v1.6h-1.6zM2275.3 1395.4h1.6v1.6h-1.6zM2289.5 1395.2h1.6v1.6h-1.6zM2303.8 1395.1h1.6v1.6h-1.6zM2318.0 1394.9h1.6v1.6h-1.6zM2332.3 1394.8h1.6v1.6h-1.6zM2346.5 1394.7h1.6v1.6h-1.6zM2360.7 1394.7h1.6v1.6h-1.6zM2375.0 1394.6h1.6v1.6h-1.6zM2389.2 1394.6h1.6v1.6h-1.6z" fill="#1E8C1E"/>
<path d="M250.4 1591.2h8.2v8.2h-8.2zM264.6 1591.7h8.2v8.2h-8.2zM278.9 1593.1h8.2v8.2h-8.2zM293.1 1595.8h8.2v8.2h-8.2zM307.3 1603.4h8.2v8.2h-8.2zM321.6 1605.2h8.2v8.2h-8.2zM335.8 1606.1h8.2v8.2h-8.2zM350.1 1607.0h8.2v8.2h-8.2zM364.3 1608.6h8.2v8.2h-8.2zM378.5 1610.9h8.2v8.2h-8.2zM392.8 1613.8h8.2v8.2h-8.2zM407.0 1617.4h8.2v8.2h-8.2zM421.2 1622.7h8.2v8.2h-8.2zM435.5 1626.6h8.2v8.2h-8.2zM449.7 1628.8h8.2v8.2h-8.2zM464.0 1630.4h8.2v8.2h-8.2zM478.2 1631.5h8.2v8.2h-8.2zM492.4 1631.9h8.2v8.2h-8.2zM506.7 1632.3h8.2v8.2h-8.2zM520.9 1633.8h8.2v8.2h-8.2zM535.1 1641.2h8.2v8.2h-8.2zM549.4 1645.1h8.2v8.2h-8.2zM563.6 1648.1h8.2v8.2h-8.2zM577.8 1651.3h8.2v8.2h-8.2zM592.1 1653.8h8.2v8.2h-8.2zM606.3 1654.6h8.2v8.2h-8.2zM620.6 1654.9h8.2v8.2h-8.2zM634.8 1664.0h8.2v8.2h-8.2zM649.0 1671.8h8.2v8.2h-8.2zM663.3 1670.5h8.2v8.2h-8.2zM677.5 1671.9h8.2v8.2h-8.2zM691.7 1672.2h8.2v8.2h-8.2zM706.0 1675.5h8.2v8.2h-8.2zM720.2 1672.1h8.2v8.2h-8.2zM734.4 1667.6h8.2v8.2h-8.2zM748.7 1665.7h8.2v8.2h-8.2zM762.9 1663.8h8.2v8.2h-8.2zM777.2 1659.9h8.2v8.2h-8.2zM791.4 1660.9h8.2v8.2h-8.2zM805.6 1655.3h8.2v8.2h-8.2zM819.9 1655.6h8.2v8.2h-8.2zM834.1 1645.9h8.2v8.2h-8.2zM848.3 1642.4h8.2v8.2h-8.2zM862.6 1634.0h8.2v8.2h-8.2zM876.8 1632.1h8.2v8.2h-8.2zM891.1 1621.2h8.2v8.2h-8.2zM905.3 1616.3h8.2v8.2h-8.2zM919.5 1616.1h8.2v8.2h-8.2zM933.8 1603.6h8.2v8.2h-8.2zM948.0 1597.7h8.2v8.2h-8.2zM962.2 1590.6h8.2v8.2h-8.2zM976.5 1580.0h8.2v8.2h-8.2zM990.7 1572.7h8.2v8.2h-8.2zM1004.9 1565.7h8.2v8.2h-8.2zM1019.2 1559.8h8.2v8.2h-8.2zM1033.4 1553.6h8.2v8.2h-8.2zM1047.7 1544.4h8.2v8.2h-8.2zM1061.9 1542.7h8.2v8.2h-8.2zM1076.1 1535.0h8.2v8.2h-8.2zM1090.4 1529.7h8.2v8.2h-8.2zM1104.6 1525.4h8.2v8.2h-8.2zM1118.8 1518.3h8.2v8.2h-8.2zM1133.1 1513.3h8.2v8.2h-8.2zM1147.3 1506.1h8.2v8.2h-8.2zM1161.5 1506.1h8.2v8.2h-8.2zM1175.8 1504.6h8.2v8.2h-8.2zM1190.0 1501.3h8.2v8.2h-8.2zM1204.3 1496.7h8.2v8.2h-8.2zM1218.5 1491.4h8.2v8.2h-8.2zM1232.7 1486.1h8.2v8.2h-8.2zM1247.0 1481.4h8.2v8.2h-8.2zM1261.2 1476.4h8.2v8.2h-8.2zM1275.4 1471.3h8.2v8.2h-8.2zM1289.7 1466.9h8.2v8.2h-8.2zM1303.9 1463.6h8.2v8.2h-8.2zM1318.2 1460.7h8.2v8.2h-8.2zM1332.4 1458.1h8.2v8.2h-8.2zM1346.6 1455.6h8.2v8.2h-8.2zM1360.9 1453.2h8.2v8.2h-8.2zM1375.1 1450.9h8.2v8.2h-8.2zM1389.3 1448.8h8.2v8.2h-8.2zM1403.6 1446.7h8.2v8.2h-8.2zM1417.8 1444.5h8.2v8.2h-8.2zM1432.0 1442.4h8.2v8.2h-8.2zM1446.3 1440.3h8.2v8.2h-8.2zM1460.5 1438.2h8.2v8.2h-8.2zM1474.8 1436.1h8.2v8.2h-8.2zM1489.0 1434.0h8.2v8.2h-8.2zM1503.2 1431.9h8.2v8.2h-8.2zM1517.5 1429.9h8.2v8.2h-8.2zM1531.7 1428.0h8.2v8.2h-8.2zM1545.9 1426.1h8.2v8.2h-8.2zM1560.2 1424.2h8.2v8.2h-8.2zM1574.4 1422.4h8.2v8.2h-8.2zM1588.6 1420.7h8.2v8.2h-8.2zM1602.9 1419.0h8.2v8.2h-8.2zM1617.1 1417.5h8.2v8.2h-8.2zM1631.4 1416.0h8.2v8.2h-8.2zM1645.6 1414.6h8.2v8.2h-8.2zM1659.8 1413.3h8.2v8.2h-8.2zM1674.1 1412.0h8.2v8.2h-8.2zM1688.3 1410.8h8.2v8.2h-8.2zM1702.5 1409.5h8.2v8.2h-8.2zM1716.8 1408.4h8.2v8.2h-8.2zM1731.0 1407.2h8.2v8.2h-8.2zM1745.3 1406.1h8.2v8.2h-8.2zM1759.5 1405.0h8.2v8.2h-8.2zM1773.7 1404.0h8.2v8.2h-8.2zM1788.0 1403.0h8.2v8.2h-8.2zM1802.2 1402.0h8.2v8.2h-8.2zM1816.4 1401.1h8.2v8.2h-8.2zM1830.7 1400.2h8.2v8.2h-8.2zM1844.9 1399.4h8.2v8.2h-8.2zM1859.1 1398.6h8.2v8.2h-8.2zM1873.4 1397.8h8.2v8.2h-8.2zM1887.6 1397.1h8.2v8.2h-8.2zM1901.9 1396.4h8.2v8.2h-8.2zM1916.1 1395.8h8.2v8.2h-8.2zM1930.3 1395.3h8.2v8.2h-8.2zM1944.6 1394.8h8.2v8.2h-8.2zM1958.8 1394.4h8.2v8.2h-8.2zM1973.0 1393.9h8.2v8.2h-8.2zM1987.3 1393.4h8.2v8.2h-8.2zM2001.5 1393.0h8.2v8.2h-8.2zM2015.7 1392.5h8.2v8.2h-8.2zM2030.0 1392.1h8.2v8.2h-8.2zM2044.2 1391.6h8.2v8.2h-8.2zM2058.5 1391.2h8.2v8.2h-8.2zM2072.7 1390.7h8.2v8.2h-8.2zM2086.9 1390.3h8.2v8.2h-8.2zM2101.2 1389.9h8.2v8.2h-8.2zM2115.4 1389.4h8.2v8.2h-8.2zM2129.6 1389.0h8.2v8.2h-8.2zM2143.9 1388.6h8.2v8.2h-8.2zM2158.1 1388.2h8.2v8.2h-8.2zM2172.4 1387.8h8.2v8.2h-8.2zM2186.6 1387.4h8.2v8.2h-8.2zM2200.8 1387.0h8.2v8.2h-8.2zM2215.1 1386.6h8.2v8.2h-8.2zM2229.3 1386.3h8.2v8.2h-8.2zM2243.5 1385.9h8.2v8.2h-8.2zM2257.8 1385.6h8.2v8.2h-8.2zM2272.0 1385.2h8.2v8.2h-8.2zM2286.2 1384.9h8.2v8.2h-8.2zM2300.5 1384.6h8.2v8.2h-8.2zM2314.7 1384.3h8.2v8.2h-8.2zM2329.0 1384.0h8.2v8.2h-8.2zM2343.2 1383.7h8.2v8.2h-8.2zM2357.4 1383.4h8.2v8.2h-8.2zM2371.7 1383.2h8.2v8.2h-8.2zM2385.9 1382.9h8.2v8.2h-8.2z" fill="none" stroke="#2C2CCC" stroke-width="2.4"/>
<path d="M253.7 1594.5h1.6v1.6h-1.6zM267.9 1595.0h1.6v1.6h-1.6zM282.2 1596.4h1.6v1.6h-1.6zM296.4 1599.1h1.6v1.6h-1.6zM310.6 1606.7h1.6v1.6h-1.6zM324.9 1608.5h1.6v1.6h-1.6zM339.1 1609.4h1.6v1.6h-1.6zM353.4 1610.3h1.6v1.6h-1.6zM367.6 1611.9h1.6v1.6h-1.6zM381.8 1614.2h1.6v1.6h-1.6zM396.1 1617.1h1.6v1.6h-1.6zM410.3 1620.7h1.6v1.6h-1.6zM424.5 1626.0h1.6v1.6h-1.6zM438.8 1629.9h1.6v1.6h-1.6zM453.0 1632.1h1.6v1.6h-1.6zM467.3 1633.7h1.6v1.6h-1.6zM481.5 1634.8h1.6v1.6h-1.6zM495.7 1635.2h1.6v1.6h-1.6zM510.0 1635.6h1.6v1.6h-1.6zM524.2 1637.1h1.6v1.6h-1.6zM538.4 1644.5h1.6v1.6h-1.6zM552.7 1648.4h1.6v1.6h-1.6zM566.9 1651.4h1.6v1.6h-1.6zM581.1 1654.6h1.6v1.6h-1.6zM595.4 1657.1h1.6v1.6h-1.6zM609.6 1657.9h1.6v1.6h-1.6zM623.9 1658.2h1.6v1.6h-1.6zM638.1 1667.3h1.6v1.6h-1.6zM652.3 1675.1h1.6v1.6h-1.6zM666.6 1673.8h1.6v1.6h-1.6zM680.8 1675.2h1.6v1.6h-1.6zM695.0 1675.5h1.6v1.6h-1.6zM709.3 1678.8h1.6v1.6h-1.6zM723.5 1675.4h1.6v1.6h-1.6zM737.7 1670.9h1.6v1.6h-1.6zM752.0 1669.0h1.6v1.6h-1.6zM766.2 1667.1h1.6v1.6h-1.6zM780.5 1663.2h1.6v1.6h-1.6zM794.7 1664.2h1.6v1.6h-1.6zM808.9 1658.6h1.6v1.6h-1.6zM823.2 1658.9h1.6v1.6h-1.6zM837.4 1649.2h1.6v1.6h-1.6zM851.6 1645.7h1.6v1.6h-1.6zM865.9 1637.3h1.6v1.6h-1.6zM880.1 1635.4h1.6v1.6h-1.6zM894.4 1624.5h1.6v1.6h-1.6zM908.6 1619.6h1.6v1.6h-1.6zM922.8 1619.4h1.6v1.6h-1.6zM937.1 1606.9h1.6v1.6h-1.6zM951.3 1601.0h1.6v1.6h-1.6zM965.5 1593.9h1.6v1.6h-1.6zM979.8 1583.3h1.6v1.6h-1.6zM994.0 1576.0h1.6v1.6h-1.6zM1008.2 1569.0h1.6v1.6h-1.6zM1022.5 1563.1h1.6v1.6h-1.6zM1036.7 1556.9h1.6v1.6h-1.6zM1051.0 1547.7h1.6v1.6h-1.6zM1065.2 1546.0h1.6v1.6h-1.6zM1079.4 1538.3h1.6v1.6h-1.6zM1093.7 1533.0h1.6v1.6h-1.6zM1107.9 1528.7h1.6v1.6h-1.6zM1122.1 1521.6h1.6v1.6h-1.6zM1136.4 1516.6h1.6v1.6h-1.6zM1150.6 1509.4h1.6v1.6h-1.6zM1164.8 1509.4h1.6v1.6h-1.6zM1179.1 1507.9h1.6v1.6h-1.6zM1193.3 1504.6h1.6v1.6h-1.6zM1207.6 1500.0h1.6v1.6h-1.6zM1221.8 1494.7h1.6v1.6h-1.6zM1236.0 1489.4h1.6v1.6h-1.6zM1250.3 1484.7h1.6v1.6h-1.6zM1264.5 1479.7h1.6v1.6h-1.6zM1278.7 1474.6h1.6v1.6h-1.6zM1293.0 1470.2h1.6v1.6h-1.6zM1307.2 1466.9h1.6v1.6h-1.6zM1321.5 1464.0h1.6v1.6h-1.6zM1335.7 1461.4h1.6v1.6h-1.6zM1349.9 1458.9h1.6v1.6h-1.6zM1364.2 1456.5h1.6v1.6h-1.6zM1378.4 1454.2h1.6v1.6h-1.6zM1392.6 1452.1h1.6v1.6h-1.6zM1406.9 1450.0h1.6v1.6h-1.6zM1421.1 1447.8h1.6v1.6h-1.6zM1435.3 1445.7h1.6v1.6h-1.6zM1449.6 1443.6h1.6v1.6h-1.6zM1463.8 1441.5h1.6v1.6h-1.6zM1478.1 1439.4h1.6v1.6h-1.6zM1492.3 1437.3h1.6v1.6h-1.6zM1506.5 1435.2h1.6v1.6h-1.6zM1520.8 1433.2h1.6v1.6h-1.6zM1535.0 1431.3h1.6v1.6h-1.6zM1549.2 1429.4h1.6v1.6h-1.6zM1563.5 1427.5h1.6v1.6h-1.6zM1577.7 1425.7h1.6v1.6h-1.6zM1591.9 1424.0h1.6v1.6h-1.6zM1606.2 1422.3h1.6v1.6h-1.6zM1620.4 1420.8h1.6v1.6h-1.6zM1634.7 1419.3h1.6v1.6h-1.6zM1648.9 1417.9h1.6v1.6h-1.6zM1663.1 1416.6h1.6v1.6h-1.6zM1677.4 1415.3h1.6v1.6h-1.6zM1691.6 1414.1h1.6v1.6h-1.6zM1705.8 1412.8h1.6v1.6h-1.6zM1720.1 1411.7h1.6v1.6h-1.6zM1734.3 1410.5h1.6v1.6h-1.6zM1748.6 1409.4h1.6v1.6h-1.6zM1762.8 1408.3h1.6v1.6h-1.6zM1777.0 1407.3h1.6v1.6h-1.6zM1791.3 1406.3h1.6v1.6h-1.6zM1805.5 1405.3h1.6v1.6h-1.6zM1819.7 1404.4h1.6v1.6h-1.6zM1834.0 1403.5h1.6v1.6h-1.6zM1848.2 1402.7h1.6v1.6h-1.6zM1862.4 1401.9h1.6v1.6h-1.6zM1876.7 1401.1h1.6v1.6h-1.6zM1890.9 1400.4h1.6v1.6h-1.6zM1905.2 1399.7h1.6v1.6h-1.6zM1919.4 1399.1h1.6v1.6h-1.6zM1933.6 1398.6h1.6v1.6h-1.6zM1947.9 1398.1h1.6v1.6h-1.6zM1962.1 1397.7h1.6v1.6h-1.6zM1976.3 1397.2h1.6v1.6h-1.6zM1990.6 1396.7h1.6v1.6h-1.6zM2004.8 1396.3h1.6v1.6h-1.6zM2019.0 1395.8h1.6v1.6h-1.6zM2033.3 1395.4h1.6v1.6h-1.6zM2047.5 1394.9h1.6v1.6h-1.6zM2061.8 1394.5h1.6v1.6h-1.6zM2076.0 1394.0h1.6v1.6h-1.6zM2090.2 1393.6h1.6v1.6h-1.6zM2104.5 1393.2h1.6v1.6h-1.6zM2118.7 1392.7h1.6v1.6h-1.6zM2132.9 1392.3h1.6v1.6h-1.6zM2147.2 1391.9h1.6v1.6h-1.6zM2161.4 1391.5h1.6v1.6h-1.6zM2175.7 1391.1h1.6v1.6h-1.6zM2189.9 1390.7h1.6v1.6h-1.6zM2204.1 1390.3h1.6v1.6h-1.6zM2218.4 1389.9h1.6v1.6h-1.6zM2232.6 1389.6h1.6v1.6h-1.6zM2246.8 1389.2h1.6v1.6h-1.6zM2261.1 1388.9h1.6v1.6h-1.6zM2275.3 1388.5h1.6v1.6h-1.6zM2289.5 1388.2h1.6v1.6h-1.6zM2303.8 1387.9h1.6v1.6h-1.6zM2318.0 1387.6h1.6v1.6h-1.6zM2332.3 1387.3h1.6v1.6h-1.6zM2346.5 1387.0h1.6v1.6h-1.6zM2360.7 1386.7h1.6v1.6h-1.6zM2375.0 1386.5h1.6v1.6h-1.6zM2389.2 1386.2h1.6v1.6h-1.6z" fill="#2C2CCC"/>
<path d="M250.4 1569.5h8.2v8.2h-8.2zM264.6 1568.2h8.2v8.2h-8.2zM278.9 1567.6h8.2v8.2h-8.2zM293.1 1567.4h8.2v8.2h-8.2zM307.3 1568.0h8.2v8.2h-8.2zM321.6 1569.4h8.2v8.2h-8.2zM335.8 1571.3h8.2v8.2h-8.2zM350.1 1573.3h8.2v8.2h-8.2zM364.3 1576.9h8.2v8.2h-8.2zM378.5 1580.9h8.2v8.2h-8.2zM392.8 1583.1h8.2v8.2h-8.2zM407.0 1583.7h8.2v8.2h-8.2zM421.2 1584.1h8.2v8.2h-8.2zM435.5 1584.8h8.2v8.2h-8.2zM449.7 1586.1h8.2v8.2h-8.2zM464.0 1587.8h8.2v8.2h-8.2zM478.2 1589.4h8.2v8.2h-8.2zM492.4 1590.7h8.2v8.2h-8.2zM506.7 1592.0h8.2v8.2h-8.2zM520.9 1593.3h8.2v8.2h-8.2zM535.1 1594.4h8.2v8.2h-8.2zM549.4 1595.5h8.2v8.2h-8.2zM563.6 1596.8h8.2v8.2h-8.2zM577.8 1598.6h8.2v8.2h-8.2zM592.1 1602.3h8.2v8.2h-8.2zM606.3 1603.6h8.2v8.2h-8.2zM620.6 1600.2h8.2v8.2h-8.2zM634.8 1600.6h8.2v8.2h-8.2zM649.0 1605.4h8.2v8.2h-8.2zM663.3 1602.0h8.2v8.2h-8.2zM677.5 1600.2h8.2v8.2h-8.2zM691.7 1600.4h8.2v8.2h-8.2zM706.0 1602.3h8.2v8.2h-8.2zM720.2 1597.8h8.2v8.2h-8.2zM734.4 1593.9h8.2v8.2h-8.2zM748.7 1605.8h8.2v8.2h-8.2zM762.9 1596.5h8.2v8.2h-8.2zM777.2 1596.4h8.2v8.2h-8.2zM791.4 1591.9h8.2v8.2h-8.2zM805.6 1587.2h8.2v8.2h-8.2zM819.9 1586.5h8.2v8.2h-8.2zM834.1 1587.5h8.2v8.2h-8.2zM848.3 1581.1h8.2v8.2h-8.2zM862.6 1582.7h8.2v8.2h-8.2zM876.8 1579.5h8.2v8.2h-8.2zM891.1 1574.6h8.2v8.2h-8.2zM905.3 1571.0h8.2v8.2h-8.2zM919.5 1567.9h8.2v8.2h-8.2zM933.8 1567.6h8.2v8.2h-8.2zM948.0 1558.4h8.2v8.2h-8.2zM962.2 1561.9h8.2v8.2h-8.2zM976.5 1559.5h8.2v8.2h-8.2zM990.7 1549.4h8.2v8.2h-8.2zM1004.9 1544.3h8.2v8.2h-8.2zM1019.2 1541.9h8.2v8.2h-8.2zM1033.4 1536.5h8.2v8.2h-8.2zM1047.7 1530.6h8.2v8.2h-8.2zM1061.9 1526.9h8.2v8.2h-8.2zM1076.1 1523.0h8.2v8.2h-8.2zM1090.4 1514.6h8.2v8.2h-8.2zM1104.6 1511.1h8.2v8.2h-8.2zM1118.8 1505.0h8.2v8.2h-8.2zM1133.1 1502.6h8.2v8.2h-8.2zM1147.3 1499.0h8.2v8.2h-8.2zM1161.5 1496.7h8.2v8.2h-8.2zM1175.8 1494.4h8.2v8.2h-8.2zM1190.0 1490.6h8.2v8.2h-8.2zM1204.3 1486.3h8.2v8.2h-8.2zM1218.5 1482.0h8.2v8.2h-8.2zM1232.7 1477.7h8.2v8.2h-8.2zM1247.0 1474.0h8.2v8.2h-8.2zM1261.2 1471.2h8.2v8.2h-8.2zM1275.4 1468.7h8.2v8.2h-8.2zM1289.7 1466.1h8.2v8.2h-8.2zM1303.9 1463.4h8.2v8.2h-8.2zM1318.2 1460.6h8.2v8.2h-8.2zM1332.4 1457.8h8.2v8.2h-8.2zM1346.6 1455.2h8.2v8.2h-8.2zM1360.9 1452.7h8.2v8.2h-8.2zM1375.1 1450.2h8.2v8.2h-8.2zM1389.3 1447.9h8.2v8.2h-8.2zM1403.6 1445.6h8.2v8.2h-8.2zM1417.8 1443.2h8.2v8.2h-8.2zM1432.0 1440.9h8.2v8.2h-8.2zM1446.3 1438.5h8.2v8.2h-8.2zM1460.5 1436.1h8.2v8.2h-8.2zM1474.8 1433.8h8.2v8.2h-8.2zM1489.0 1431.4h8.2v8.2h-8.2zM1503.2 1429.1h8.2v8.2h-8.2zM1517.5 1426.9h8.2v8.2h-8.2zM1531.7 1424.7h8.2v8.2h-8.2zM1545.9 1422.5h8.2v8.2h-8.2zM1560.2 1420.5h8.2v8.2h-8.2zM1574.4 1418.5h8.2v8.2h-8.2zM1588.6 1416.6h8.2v8.2h-8.2zM1602.9 1414.8h8.2v8.2h-8.2zM1617.1 1413.1h8.2v8.2h-8.2zM1631.4 1411.5h8.2v8.2h-8.2zM1645.6 1410.1h8.2v8.2h-8.2zM1659.8 1408.8h8.2v8.2h-8.2zM1674.1 1407.5h8.2v8.2h-8.2zM1688.3 1406.3h8.2v8.2h-8.2zM1702.5 1405.1h8.2v8.2h-8.2zM1716.8 1404.0h8.2v8.2h-8.2zM1731.0 1402.9h8.2v8.2h-8.2zM1745.3 1401.9h8.2v8.2h-8.2zM1759.5 1400.9h8.2v8.2h-8.2zM1773.7 1399.9h8.2v8.2h-8.2zM1788.0 1399.0h8.2v8.2h-8.2zM1802.2 1398.0h8.2v8.2h-8.2zM1816.4 1397.2h8.2v8.2h-8.2zM1830.7 1396.3h8.2v8.2h-8.2zM1844.9 1395.5h8.2v8.2h-8.2zM1859.1 1394.6h8.2v8.2h-8.2zM1873.4 1393.8h8.2v8.2h-8.2zM1887.6 1393.1h8.2v8.2h-8.2zM1901.9 1392.3h8.2v8.2h-8.2zM1916.1 1391.5h8.2v8.2h-8.2zM1930.3 1390.9h8.2v8.2h-8.2zM1944.6 1390.3h8.2v8.2h-8.2zM1958.8 1389.7h8.2v8.2h-8.2zM1973.0 1389.2h8.2v8.2h-8.2zM1987.3 1388.6h8.2v8.2h-8.2zM2001.5 1388.1h8.2v8.2h-8.2zM2015.7 1387.6h8.2v8.2h-8.2zM2030.0 1387.0h8.2v8.2h-8.2zM2044.2 1386.5h8.2v8.2h-8.2zM2058.5 1386.0h8.2v8.2h-8.2zM2072.7 1385.5h8.2v8.2h-8.2zM2086.9 1385.0h8.2v8.2h-8.2zM2101.2 1384.5h8.2v8.2h-8.2zM2115.4 1384.0h8.2v8.2h-8.2zM2129.6 1383.5h8.2v8.2h-8.2zM2143.9 1383.1h8.2v8.2h-8.2zM2158.1 1382.6h8.2v8.2h-8.2zM2172.4 1382.2h8.2v8.2h-8.2zM2186.6 1381.8h8.2v8.2h-8.2zM2200.8 1381.4h8.2v8.2h-8.2zM2215.1 1381.0h8.2v8.2h-8.2zM2229.3 1380.6h8.2v8.2h-8.2zM2243.5 1380.2h8.2v8.2h-8.2zM2257.8 1379.9h8.2v8.2h-8.2zM2272.0 1379.6h8.2v8.2h-8.2zM2286.2 1379.2h8.2v8.2h-8.2zM2300.5 1379.0h8.2v8.2h-8.2zM2314.7 1378.7h8.2v8.2h-8.2zM2329.0 1378.4h8.2v8.2h-8.2zM2343.2 1378.2h8.2v8.2h-8.2zM2357.4 1378.0h8.2v8.2h-8.2zM2371.7 1377.8h8.2v8.2h-8.2zM2385.9 1377.6h8.2v8.2h-8.2z" fill="none" stroke="#CC28A2" stroke-width="2.4"/>
<path d="M253.7 1572.8h1.6v1.6h-1.6zM267.9 1571.5h1.6v1.6h-1.6zM282.2 1570.9h1.6v1.6h-1.6zM296.4 1570.7h1.6v1.6h-1.6zM310.6 1571.3h1.6v1.6h-1.6zM324.9 1572.7h1.6v1.6h-1.6zM339.1 1574.6h1.6v1.6h-1.6zM353.4 1576.6h1.6v1.6h-1.6zM367.6 1580.2h1.6v1.6h-1.6zM381.8 1584.2h1.6v1.6h-1.6zM396.1 1586.4h1.6v1.6h-1.6zM410.3 1587.0h1.6v1.6h-1.6zM424.5 1587.4h1.6v1.6h-1.6zM438.8 1588.1h1.6v1.6h-1.6zM453.0 1589.4h1.6v1.6h-1.6zM467.3 1591.1h1.6v1.6h-1.6zM481.5 1592.7h1.6v1.6h-1.6zM495.7 1594.0h1.6v1.6h-1.6zM510.0 1595.3h1.6v1.6h-1.6zM524.2 1596.6h1.6v1.6h-1.6zM538.4 1597.7h1.6v1.6h-1.6zM552.7 1598.8h1.6v1.6h-1.6zM566.9 1600.1h1.6v1.6h-1.6zM581.1 1601.9h1.6v1.6h-1.6zM595.4 1605.6h1.6v1.6h-1.6zM609.6 1606.9h1.6v1.6h-1.6zM623.9 1603.5h1.6v1.6h-1.6zM638.1 1603.9h1.6v1.6h-1.6zM652.3 1608.7h1.6v1.6h-1.6zM666.6 1605.3h1.6v1.6h-1.6zM680.8 1603.5h1.6v1.6h-1.6zM695.0 1603.7h1.6v1.6h-1.6zM709.3 1605.6h1.6v1.6h-1.6zM723.5 1601.1h1.6v1.6h-1.6zM737.7 1597.2h1.6v1.6h-1.6zM752.0 1609.1h1.6v1.6h-1.6zM766.2 1599.8h1.6v1.6h-1.6zM780.5 1599.7h1.6v1.6h-1.6zM794.7 1595.2h1.6v1.6h-1.6zM808.9 1590.5h1.6v1.6h-1.6zM823.2 1589.8h1.6v1.6h-1.6zM837.4 1590.8h1.6v1.6h-1.6zM851.6 1584.4h1.6v1.6h-1.6zM865.9 1586.0h1.6v1.6h-1.6zM880.1 1582.8h1.6v1.6h-1.6zM894.4 1577.9h1.6v1.6h-1.6zM908.6 1574.3h1.6v1.6h-1.6zM922.8 1571.2h1.6v1.6h-1.6zM937.1 1570.9h1.6v1.6h-1.6zM951.3 1561.7h1.6v1.6h-1.6zM965.5 1565.2h1.6v1.6h-1.6zM979.8 1562.8h1.6v1.6h-1.6zM994.0 1552.7h1.6v1.6h-1.6zM1008.2 1547.6h1.6v1.6h-1.6zM1022.5 1545.2h1.6v1.6h-1.6zM1036.7 1539.8h1.6v1.6h-1.6zM1051.0 1533.9h1.6v1.6h-1.6zM1065.2 1530.2h1.6v1.6h-1.6zM1079.4 1526.3h1.6v1.6h-1.6zM1093.7 1517.9h1.6v1.6h-1.6zM1107.9 1514.4h1.6v1.6h-1.6zM1122.1 1508.3h1.6v1.6h-1.6zM1136.4 1505.9h1.6v1.6h-1.6zM1150.6 1502.3h1.6v1.6h-1.6zM1164.8 1500.0h1.6v1.6h-1.6zM1179.1 1497.7h1.6v1.6h-1.6zM1193.3 1493.9h1.6v1.6h-1.6zM1207.6 1489.6h1.6v1.6h-1.6zM1221.8 1485.3h1.6v1.6h-1.6zM1236.0 1481.0h1.6v1.6h-1.6zM1250.3 1477.3h1.6v1.6h-1.6zM1264.5 1474.5h1.6v1.6h-1.6zM1278.7 1472.0h1.6v1.6h-1.6zM1293.0 1469.4h1.6v1.6h-1.6zM1307.2 1466.7h1.6v1.6h-1.6zM1321.5 1463.9h1.6v1.6h-1.6zM1335.7 1461.1h1.6v1.6h-1.6zM1349.9 1458.5h1.6v1.6h-1.6zM1364.2 1456.0h1.6v1.6h-1.6zM1378.4 1453.5h1.6v1.6h-1.6zM1392.6 1451.2h1.6v1.6h-1.6zM1406.9 1448.9h1.6v1.6h-1.6zM1421.1 1446.5h1.6v1.6h-1.6zM1435.3 1444.2h1.6v1.6h-1.6zM1449.6 1441.8h1.6v1.6h-1.6zM1463.8 1439.4h1.6v1.6h-1.6zM1478.1 1437.1h1.6v1.6h-1.6zM1492.3 1434.7h1.6v1.6h-1.6zM1506.5 1432.4h1.6v1.6h-1.6zM1520.8 1430.2h1.6v1.6h-1.6zM1535.0 1428.0h1.6v1.6h-1.6zM1549.2 1425.8h1.6v1.6h-1.6zM1563.5 1423.8h1.6v1.6h-1.6zM1577.7 1421.8h1.6v1.6h-1.6zM1591.9 1419.9h1.6v1.6h-1.6zM1606.2 1418.1h1.6v1.6h-1.6zM1620.4 1416.4h1.6v1.6h-1.6zM1634.7 1414.8h1.6v1.6h-1.6zM1648.9 1413.4h1.6v1.6h-1.6zM1663.1 1412.1h1.6v1.6h-1.6zM1677.4 1410.8h1.6v1.6h-1.6zM1691.6 1409.6h1.6v1.6h-1.6zM1705.8 1408.4h1.6v1.6h-1.6zM1720.1 1407.3h1.6v1.6h-1.6zM1734.3 1406.2h1.6v1.6h-1.6zM1748.6 1405.2h1.6v1.6h-1.6zM1762.8 1404.2h1.6v1.6h-1.6zM1777.0 1403.2h1.6v1.6h-1.6zM1791.3 1402.3h1.6v1.6h-1.6zM1805.5 1401.3h1.6v1.6h-1.6zM1819.7 1400.5h1.6v1.6h-1.6zM1834.0 1399.6h1.6v1.6h-1.6zM1848.2 1398.8h1.6v1.6h-1.6zM1862.4 1397.9h1.6v1.6h-1.6zM1876.7 1397.1h1.6v1.6h-1.6zM1890.9 1396.4h1.6v1.6h-1.6zM1905.2 1395.6h1.6v1.6h-1.6zM1919.4 1394.8h1.6v1.6h-1.6zM1933.6 1394.2h1.6v1.6h-1.6zM1947.9 1393.6h1.6v1.6h-1.6zM1962.1 1393.0h1.6v1.6h-1.6zM1976.3 1392.5h1.6v1.6h-1.6zM1990.6 1391.9h1.6v1.6h-1.6zM2004.8 1391.4h1.6v1.6h-1.6zM2019.0 1390.9h1.6v1.6h-1.6zM2033.3 1390.3h1.6v1.6h-1.6zM2047.5 1389.8h1.6v1.6h-1.6zM2061.8 1389.3h1.6v1.6h-1.6zM2076.0 1388.8h1.6v1.6h-1.6zM2090.2 1388.3h1.6v1.6h-1.6zM2104.5 1387.8h1.6v1.6h-1.6zM2118.7 1387.3h1.6v1.6h-1.6zM2132.9 1386.8h1.6v1.6h-1.6zM2147.2 1386.4h1.6v1.6h-1.6zM2161.4 1385.9h1.6v1.6h-1.6zM2175.7 1385.5h1.6v1.6h-1.6zM2189.9 1385.1h1.6v1.6h-1.6zM2204.1 1384.7h1.6v1.6h-1.6zM2218.4 1384.3h1.6v1.6h-1.6zM2232.6 1383.9h1.6v1.6h-1.6zM2246.8 1383.5h1.6v1.6h-1.6zM2261.1 1383.2h1.6v1.6h-1.6zM2275.3 1382.9h1.6v1.6h-1.6zM2289.5 1382.5h1.6v1.6h-1.6zM2303.8 1382.3h1.6v1.6h-1.6zM2318.0 1382.0h1.6v1.6h-1.6zM2332.3 1381.7h1.6v1.6h-1.6zM2346.5 1381.5h1.6v1.6h-1.6zM2360.7 1381.3h1.6v1.6h-1.6zM2375.0 1381.1h1.6v1.6h-1.6zM2389.2 1380.9h1.6v1.6h-1.6z" fill="#CC28A2"/>
</g>
<rect x="191" y="82.2" width="2179.5" height="927.8" fill="none" stroke="#000" stroke-width="9.2" stroke-linejoin="round"/>
<rect x="249.8" y="1338.8" width="2145.8" height="699.9" fill="none" stroke="#000" stroke-width="8.8" stroke-linejoin="round"/>
<g stroke="#000" stroke-width="5" stroke-linecap="round">
<line x1="195" y1="114.0" x2="243.5" y2="114.0"/>
<line x1="195" y1="330.0" x2="243.5" y2="330.0"/>
<line x1="195" y1="556.5" x2="243.5" y2="556.5"/>
<line x1="195" y1="778.7" x2="243.5" y2="778.7"/>
<line x1="741.7" y1="965.5" x2="741.7" y2="1006"/>
<line x1="1285.0" y1="965.5" x2="1285.0" y2="1006"/>
<line x1="1811.7" y1="965.5" x2="1811.7" y2="1006"/>
<line x1="254" y1="1385.7" x2="300" y2="1385.7"/>
<line x1="254" y1="1457.4" x2="300" y2="1457.4"/>
<line x1="254" y1="1604.6" x2="300" y2="1604.6"/>
<line x1="254" y1="1747.8" x2="300" y2="1747.8"/>
<line x1="254" y1="1892.0" x2="300" y2="1892.0"/>
<line x1="781.3" y1="1994" x2="781.3" y2="2035"/>
<line x1="1312.5" y1="1994" x2="1312.5" y2="2035"/>
<line x1="1854.0" y1="1994" x2="1854.0" y2="2035"/>
</g>
<line x1="404.3" y1="187.7" x2="514.1" y2="187.7" stroke="#000" stroke-width="4.2" stroke-linecap="round"/>
<rect x="448.2" y="262.5" width="22" height="18.2" fill="none" stroke="#000" stroke-width="3.6"/>
<text x="529.99" y="203.30" font-size="50.00" textLength="388.24" lengthAdjust="spacingAndGlyphs" ><tspan fill="#000">Simulation result</tspan></text>
<text x="527.10" y="291.30" font-size="49.00" textLength="450.43" lengthAdjust="spacingAndGlyphs" ><tspan fill="#000">Measurement result</tspan></text>
<line x1="411.2" y1="1430.5" x2="516.3" y2="1430.5" stroke="#000" stroke-width="3.8" stroke-linecap="round"/>
<rect x="454.2" y="1498.5" width="20.7" height="16.7" fill="none" stroke="#000" stroke-width="3.6"/>
<text x="532.30" y="1444.60" font-size="45.00" textLength="373.52" lengthAdjust="spacingAndGlyphs" ><tspan fill="#000">Simulation result</tspan></text>
<text x="528.84" y="1524.70" font-size="45.00" textLength="433.08" lengthAdjust="spacingAndGlyphs" ><tspan fill="#000">Measurement result</tspan></text>
<text x="931.10" y="55.80" font-size="50.50" textLength="673.29" lengthAdjust="spacingAndGlyphs" ><tspan fill="#000">P-CNTFET  W/L=1um/0.5um</tspan></text>
<text x="917.14" y="1308.90" font-size="44.50" textLength="644.72" lengthAdjust="spacingAndGlyphs" ><tspan fill="#000">P-CNTFET  W/L=1um/0.5um</tspan></text>
<text x="107.06" y="140.00" font-size="37.00" textLength="56.24" lengthAdjust="spacingAndGlyphs" ><tspan fill="#000">844</tspan></text>
<text x="107.74" y="346.00" font-size="37.00" textLength="55.22" lengthAdjust="spacingAndGlyphs" ><tspan fill="#000">633</tspan></text>
<text x="103.50" y="568.00" font-size="37.00" textLength="55.08" lengthAdjust="spacingAndGlyphs" ><tspan fill="#000">422</tspan></text>
<text x="102.42" y="795.00" font-size="37.00" textLength="56.53" lengthAdjust="spacingAndGlyphs" ><tspan fill="#000">211</tspan></text>
<text x="128.37" y="1011.40" font-size="37.00" textLength="47.07" lengthAdjust="spacingAndGlyphs" ><tspan fill="#000">0.0</tspan></text>
<text x="146.23" y="1056.70" font-size="35.00" textLength="71.57" lengthAdjust="spacingAndGlyphs" ><tspan fill="#000">−1.0</tspan></text>
<text x="684.97" y="1064.00" font-size="35.00" textLength="89.13" lengthAdjust="spacingAndGlyphs" ><tspan fill="#000">−0.25</tspan></text>
<text x="1256.14" y="1070.80" font-size="35.00" textLength="47.97" lengthAdjust="spacingAndGlyphs" ><tspan fill="#000">0.5</tspan></text>
<text x="1779.93" y="1075.70" font-size="35.00" textLength="67.18" lengthAdjust="spacingAndGlyphs" ><tspan fill="#000">1.25</tspan></text>
<text x="2327.35" y="1071.70" font-size="35.00" textLength="49.15" lengthAdjust="spacingAndGlyphs" ><tspan fill="#000">2.0</tspan></text>
<text x="1190.29" y="1119.20" font-size="48.00" textLength="66.28" lengthAdjust="spacingAndGlyphs" ><tspan fill="#000">−V</tspan></text>
<text x="1257.06" y="1118.00" font-size="38.00" textLength="31.82" lengthAdjust="spacingAndGlyphs" ><tspan fill="#000">gs</tspan></text>
<text x="1302.47" y="1118.50" font-size="48.00" textLength="73.45" lengthAdjust="spacingAndGlyphs" ><tspan fill="#000">(V)</tspan></text>
<text x="1183.65" y="1234.30" font-size="85.00" textLength="25.41" lengthAdjust="spacingAndGlyphs"  font-weight="normal"><tspan fill="#000">(</tspan></text>
<text x="1210.05" y="1234.30" font-size="88.00" textLength="41.09" lengthAdjust="spacingAndGlyphs" ><tspan fill="#000">a</tspan></text>
<text x="1252.49" y="1234.30" font-size="85.00" textLength="25.93" lengthAdjust="spacingAndGlyphs"  font-weight="normal"><tspan fill="#000">)</tspan></text>
<text transform="translate(59.70 693.00) rotate(-90)" x="-1.89" y="0" font-size="51.00" textLength="17.18" lengthAdjust="spacingAndGlyphs" ><tspan fill="#000">-</tspan></text>
<text transform="translate(59.70 677.00) rotate(-90)" x="-1.68" y="0" font-size="51.00" textLength="19.35" lengthAdjust="spacingAndGlyphs" ><tspan fill="#000">I</tspan></text>
<text transform="translate(59.70 658.40) rotate(-90)" x="-1.45" y="0" font-size="36.00" textLength="33.72" lengthAdjust="spacingAndGlyphs" ><tspan fill="#000">ds</tspan></text>
<text transform="translate(59.40 612.20) rotate(-90)" x="-2.14" y="0" font-size="50.00" textLength="94.78" lengthAdjust="spacingAndGlyphs" ><tspan fill="#000">(uA)</tspan></text>
<text transform="translate(60.00 1817.00) rotate(-90)" x="-2.30" y="0" font-size="51.00" textLength="24.88" lengthAdjust="spacingAndGlyphs" ><tspan fill="#000">−</tspan></text>
<text transform="translate(60.00 1795.00) rotate(-90)" x="-1.58" y="0" font-size="51.00" textLength="18.26" lengthAdjust="spacingAndGlyphs" ><tspan fill="#000">I</tspan></text>
<text transform="translate(60.00 1778.20) rotate(-90)" x="-1.30" y="0" font-size="36.00" textLength="30.28" lengthAdjust="spacingAndGlyphs" ><tspan fill="#000">ds</tspan></text>
<text transform="translate(60.40 1736.60) rotate(-90)" x="-1.96" y="0" font-size="50.00" textLength="86.51" lengthAdjust="spacingAndGlyphs" ><tspan fill="#000">(uA)</tspan></text>
<text x="142.34" y="1399.30" font-size="34.00" textLength="79.12" lengthAdjust="spacingAndGlyphs" ><tspan fill="#000">1×10</tspan></text>
<text x="230.52" y="1380.00" font-size="19.00" textLength="11.68" lengthAdjust="spacingAndGlyphs" ><tspan fill="#000">3</tspan></text>
<text x="142.34" y="1473.80" font-size="34.00" textLength="79.12" lengthAdjust="spacingAndGlyphs" ><tspan fill="#000">1×10</tspan></text>
<text x="227.39" y="1455.40" font-size="19.00" textLength="12.05" lengthAdjust="spacingAndGlyphs" ><tspan fill="#000">2</tspan></text>
<text x="140.12" y="1772.50" font-size="34.00" textLength="79.54" lengthAdjust="spacingAndGlyphs" ><tspan fill="#000">1×10</tspan></text>
<text x="222.34" y="1751.60" font-size="19.00" textLength="23.61" lengthAdjust="spacingAndGlyphs" ><tspan fill="#000">−2</tspan></text>
<text x="131.73" y="1914.00" font-size="34.00" textLength="79.33" lengthAdjust="spacingAndGlyphs" ><tspan fill="#000">1×10</tspan></text>
<text x="217.06" y="1894.80" font-size="19.00" textLength="23.14" lengthAdjust="spacingAndGlyphs" ><tspan fill="#000">−4</tspan></text>
<text x="132.77" y="2035.60" font-size="34.00" textLength="78.27" lengthAdjust="spacingAndGlyphs" ><tspan fill="#000">9×10</tspan></text>
<text x="217.15" y="2016.50" font-size="19.00" textLength="21.34" lengthAdjust="spacingAndGlyphs" ><tspan fill="#000">−7</tspan></text>
<text x="184.75" y="1620.30" font-size="32.00" textLength="46.05" lengthAdjust="spacingAndGlyphs" ><tspan fill="#000">1.0</tspan></text>
<text x="216.06" y="2085.80" font-size="31.00" textLength="66.84" lengthAdjust="spacingAndGlyphs" ><tspan fill="#000">−1.0</tspan></text>
<text x="732.07" y="2093.00" font-size="31.00" textLength="84.97" lengthAdjust="spacingAndGlyphs" ><tspan fill="#000">−0.25</tspan></text>
<text x="1285.13" y="2090.00" font-size="31.00" textLength="44.99" lengthAdjust="spacingAndGlyphs" ><tspan fill="#000">0.5</tspan></text>
<text x="1826.11" y="2094.00" font-size="31.00" textLength="63.22" lengthAdjust="spacingAndGlyphs" ><tspan fill="#000">1.25</tspan></text>
<text x="2374.94" y="2092.70" font-size="31.00" textLength="46.48" lengthAdjust="spacingAndGlyphs" ><tspan fill="#000">2.0</tspan></text>
<text x="1225.13" y="2143.10" font-size="45.00" textLength="63.02" lengthAdjust="spacingAndGlyphs" ><tspan fill="#000">−V</tspan></text>
<text x="1288.68" y="2142.00" font-size="34.00" textLength="31.18" lengthAdjust="spacingAndGlyphs" ><tspan fill="#000">gs</tspan></text>
<text x="1332.14" y="2142.00" font-size="43.00" textLength="71.32" lengthAdjust="spacingAndGlyphs" ><tspan fill="#000">(V)</tspan></text>
<text x="1179.50" y="2254.70" font-size="86.00" textLength="25.80" lengthAdjust="spacingAndGlyphs"  font-weight="normal"><tspan fill="#000">(</tspan></text>
<text x="1206.14" y="2254.70" font-size="89.00" textLength="50.98" lengthAdjust="spacingAndGlyphs" ><tspan fill="#000">b</tspan></text>
<text x="1257.70" y="2254.70" font-size="86.00" textLength="25.80" lengthAdjust="spacingAndGlyphs"  font-weight="normal"><tspan fill="#000">)</tspan></text>
<text x="2166.48" y="282.70" font-size="35.00" textLength="177.63" lengthAdjust="spacingAndGlyphs" ><tspan fill="#CC3399">Vds=</tspan><tspan fill="#993300">−</tspan><tspan fill="#CC3399">1.2V</tspan></text>
<text x="2161.99" y="395.00" font-size="35.00" textLength="176.43" lengthAdjust="spacingAndGlyphs" ><tspan fill="#0000FF">Vds=</tspan><tspan fill="#000000">−</tspan><tspan fill="#0000FF">1.0V</tspan></text>
<text x="2163.58" y="518.50" font-size="35.00" textLength="178.84" lengthAdjust="spacingAndGlyphs" ><tspan fill="#008000">Vds=</tspan><tspan fill="#008000">−</tspan><tspan fill="#008000">0.8V</tspan></text>
<text x="2166.98" y="640.80" font-size="35.00" textLength="180.05" lengthAdjust="spacingAndGlyphs" ><tspan fill="#000000">Vds=</tspan><tspan fill="#000000">−</tspan><tspan fill="#000000">0.6V</tspan></text>
<text x="2154.08" y="776.10" font-size="35.00" textLength="176.73" lengthAdjust="spacingAndGlyphs" ><tspan fill="#FF9966">Vds=</tspan><tspan fill="#FF8000">−</tspan><tspan fill="#FF9966">0.4V</tspan></text>
<text x="2163.38" y="907.30" font-size="35.00" textLength="179.04" lengthAdjust="spacingAndGlyphs" ><tspan fill="#E6E600">Vds=</tspan><tspan fill="#E6E600">−</tspan><tspan fill="#E6E600">0.2V</tspan></text>
<text x="2158.28" y="986.70" font-size="35.00" textLength="178.34" lengthAdjust="spacingAndGlyphs" ><tspan fill="#800080">Vds=</tspan><tspan fill="#800000">−</tspan><tspan fill="#800080">0.1V</tspan></text>
<text x="1181.40" y="1619.20" font-size="30.00" textLength="168.89" lengthAdjust="spacingAndGlyphs" ><tspan fill="#CC3399">Vds=</tspan><tspan fill="#993300">−</tspan><tspan fill="#CC3399">1.2V</tspan></text>
<text x="1013.90" y="1676.50" font-size="30.00" textLength="171.31" lengthAdjust="spacingAndGlyphs" ><tspan fill="#0000FF">Vds=</tspan><tspan fill="#000000">−</tspan><tspan fill="#0000FF">1.0V</tspan></text>
<text x="893.80" y="1740.00" font-size="30.00" textLength="171.61" lengthAdjust="spacingAndGlyphs" ><tspan fill="#008000">Vds=</tspan><tspan fill="#008000">−</tspan><tspan fill="#008000">0.8V</tspan></text>
<text x="776.30" y="1801.80" font-size="30.00" textLength="168.99" lengthAdjust="spacingAndGlyphs" ><tspan fill="#000000">Vds=</tspan><tspan fill="#000000">−</tspan><tspan fill="#000000">0.6V</tspan></text>
<text x="681.21" y="1860.00" font-size="30.00" textLength="167.49" lengthAdjust="spacingAndGlyphs" ><tspan fill="#FF9966">Vds=</tspan><tspan fill="#FF8000">−</tspan><tspan fill="#FF9966">0.4V</tspan></text>
<text x="554.40" y="1922.00" font-size="30.00" textLength="171.41" lengthAdjust="spacingAndGlyphs" ><tspan fill="#E6E600">Vds=</tspan><tspan fill="#E6E600">−</tspan><tspan fill="#E6E600">0.2V</tspan></text>
<text x="445.80" y="1994.60" font-size="30.00" textLength="169.80" lengthAdjust="spacingAndGlyphs" ><tspan fill="#800080">Vds=</tspan><tspan fill="#800000">−</tspan><tspan fill="#800080">0.1V</tspan></text>
</g></svg>
</body></html>
